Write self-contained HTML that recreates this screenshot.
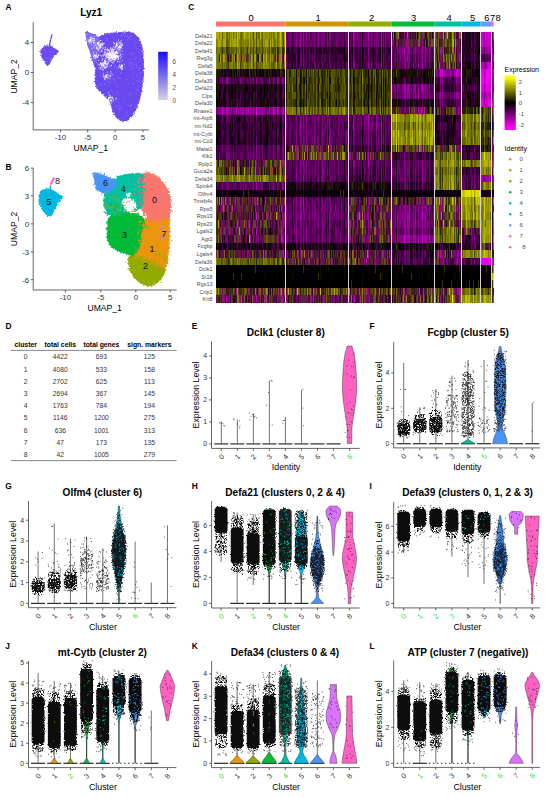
<!DOCTYPE html>
<html><head><meta charset="utf-8"><style>
html,body{margin:0;padding:0;background:#fff;width:550px;height:798px;overflow:hidden}
svg{display:block;font-family:"Liberation Sans", sans-serif}
</style></head><body>
<svg width="550" height="798" viewBox="0 0 550 798">
<text x="5.4" y="9.8" font-size="8.4" font-weight="bold">A</text>
<text x="5.6" y="169.6" font-size="8.4" font-weight="bold">B</text>
<text x="188.2" y="9.8" font-size="8.4" font-weight="bold">C</text>
<text x="5.6" y="329.3" font-size="8.4" font-weight="bold">D</text>
<text x="191.8" y="329.3" font-size="8.4" font-weight="bold">E</text>
<text x="369.6" y="329.3" font-size="8.4" font-weight="bold">F</text>
<text x="5.2" y="489.3" font-size="8.4" font-weight="bold">G</text>
<text x="191.8" y="489.3" font-size="8.4" font-weight="bold">H</text>
<text x="369.6" y="489.3" font-size="8.4" font-weight="bold">I</text>
<text x="5.2" y="649.3" font-size="8.4" font-weight="bold">J</text>
<text x="191.8" y="649.3" font-size="8.4" font-weight="bold">K</text>
<text x="369.6" y="649.3" font-size="8.4" font-weight="bold">L</text>
<defs><filter id="hb" x="-1%" y="-1%" width="102%" height="102%"><feGaussianBlur stdDeviation="0.35"/></filter></defs>
<g shape-rendering="crispEdges" filter="url(#hb)">
<path fill="#000000" d="M463 31.6h1v7.6h-1zM479 31.6h1v7.6h-1zM479 46.67h1v7.6h-1zM275 69.27h1v7.6h-1zM475 69.27h1v7.6h-1zM223 91.86h1v7.6h-1zM477 99.4h1v7.6h-1zM435 122h1v7.6h-1zM310 182.26h1v7.6h-1zM377 182.26h1v7.6h-1zM412 189.79h1v7.6h-1zM417 189.79h1v7.6h-1zM419 189.79h1v7.6h-1zM438 189.79h1v7.6h-1zM491 189.79h3v7.6h-3zM263 197.33h1v7.6h-1zM251 242.52h1v7.6h-1zM265 242.52h1v7.6h-1zM288 242.52h1v7.6h-1zM344 242.52h1v7.6h-1zM437 242.52h1v7.6h-1zM443 242.52h1v7.6h-1zM451 242.52h1v7.6h-1zM216 265.12h10v7.6h-10zM227 265.12h26v7.6h-26zM254 265.12h1v7.6h-1zM256 265.12h3v7.6h-3zM260 265.12h2v7.6h-2zM263 265.12h14v7.6h-14zM278 265.12h5v7.6h-5zM284 265.12h1v7.6h-1zM286 265.12h17v7.6h-17zM304 265.12h3v7.6h-3zM308 265.12h12v7.6h-12zM321 265.12h5v7.6h-5zM327 265.12h1v7.6h-1zM330 265.12h14v7.6h-14zM345 265.12h3v7.6h-3zM349 265.12h3v7.6h-3zM354 265.12h14v7.6h-14zM369 265.12h6v7.6h-6zM376 265.12h9v7.6h-9zM386 265.12h5v7.6h-5zM392 265.12h6v7.6h-6zM399 265.12h3v7.6h-3zM403 265.12h19v7.6h-19zM423 265.12h11v7.6h-11zM435 265.12h5v7.6h-5zM441 265.12h3v7.6h-3zM445 265.12h11v7.6h-11zM457 265.12h2v7.6h-2zM460 265.12h1v7.6h-1zM462 265.12h18v7.6h-18zM481 265.12h1v7.6h-1zM483 265.12h3v7.6h-3zM487 265.12h4v7.6h-4zM216 272.66h17v7.6h-17zM234 272.66h7v7.6h-7zM242 272.66h11v7.6h-11zM254 272.66h11v7.6h-11zM266 272.66h11v7.6h-11zM278 272.66h4v7.6h-4zM283 272.66h2v7.6h-2zM286 272.66h6v7.6h-6zM293 272.66h7v7.6h-7zM301 272.66h5v7.6h-5zM307 272.66h11v7.6h-11zM319 272.66h1v7.6h-1zM321 272.66h9v7.6h-9zM331 272.66h1v7.6h-1zM333 272.66h11v7.6h-11zM345 272.66h3v7.6h-3zM349 272.66h4v7.6h-4zM354 272.66h8v7.6h-8zM363 272.66h5v7.6h-5zM369 272.66h11v7.6h-11zM383 272.66h8v7.6h-8zM392 272.66h4v7.6h-4zM397 272.66h14v7.6h-14zM412 272.66h7v7.6h-7zM420 272.66h2v7.6h-2zM423 272.66h5v7.6h-5zM429 272.66h3v7.6h-3zM433 272.66h1v7.6h-1zM435 272.66h3v7.6h-3zM439 272.66h1v7.6h-1zM441 272.66h2v7.6h-2zM444 272.66h9v7.6h-9zM454 272.66h1v7.6h-1zM456 272.66h3v7.6h-3zM460 272.66h1v7.6h-1zM462 272.66h9v7.6h-9zM472 272.66h2v7.6h-2zM475 272.66h5v7.6h-5zM481 272.66h1v7.6h-1zM483 272.66h4v7.6h-4zM488 272.66h3v7.6h-3zM216 280.19h6v7.6h-6zM223 280.19h14v7.6h-14zM238 280.19h31v7.6h-31zM270 280.19h13v7.6h-13zM284 280.19h1v7.6h-1zM286 280.19h14v7.6h-14zM301 280.19h28v7.6h-28zM330 280.19h18v7.6h-18zM349 280.19h2v7.6h-2zM352 280.19h1v7.6h-1zM354 280.19h2v7.6h-2zM357 280.19h5v7.6h-5zM363 280.19h5v7.6h-5zM369 280.19h18v7.6h-18zM388 280.19h3v7.6h-3zM392 280.19h42v7.6h-42zM435 280.19h7v7.6h-7zM443 280.19h8v7.6h-8zM452 280.19h4v7.6h-4zM458 280.19h3v7.6h-3zM462 280.19h4v7.6h-4zM467 280.19h2v7.6h-2zM470 280.19h3v7.6h-3zM474 280.19h4v7.6h-4zM479 280.19h1v7.6h-1zM481 280.19h7v7.6h-7zM489 280.19h2v7.6h-2z"/>
<path fill="#110000" d="M394 31.6h1v7.6h-1zM332 46.67h1v7.6h-1zM473 54.2h1v7.6h-1zM320 61.73h1v7.6h-1zM476 61.73h1v7.6h-1zM279 69.27h1v7.6h-1zM401 69.27h1v7.6h-1zM427 69.27h1v7.6h-1zM361 76.8h1v7.6h-1zM411 76.8h1v7.6h-1zM246 84.33h1v7.6h-1zM252 84.33h1v7.6h-1zM267 84.33h1v7.6h-1zM264 91.86h1v7.6h-1zM385 91.86h1v7.6h-1zM216 99.4h1v7.6h-1zM470 99.4h1v7.6h-1zM473 99.4h1v7.6h-1zM453 114.46h1v7.6h-1zM232 122h1v7.6h-1zM276 129.53h1v7.6h-1zM438 129.53h1v7.6h-1zM453 129.53h1v7.6h-1zM264 137.06h1v7.6h-1zM396 167.19h1v7.6h-1zM292 182.26h1v7.6h-1zM307 182.26h1v7.6h-1zM316 182.26h1v7.6h-1zM365 182.26h1v7.6h-1zM388 182.26h1v7.6h-1zM235 242.52h1v7.6h-1zM387 242.52h1v7.6h-1zM403 242.52h1v7.6h-1zM416 242.52h1v7.6h-1zM482 265.12h1v7.6h-1zM253 272.66h1v7.6h-1zM330 272.66h1v7.6h-1zM482 272.66h1v7.6h-1zM487 272.66h1v7.6h-1zM356 280.19h1v7.6h-1zM387 280.19h1v7.6h-1zM268 287.72h1v7.6h-1z"/>
<path fill="#110011" d="M417 31.6h1v7.6h-1zM469 31.6h1v7.6h-1zM473 31.6h1v7.6h-1zM466 39.13h1v7.6h-1zM477 39.13h1v7.6h-1zM479 39.13h1v7.6h-1zM288 46.67h1v7.6h-1zM292 46.67h1v7.6h-1zM297 46.67h1v7.6h-1zM313 46.67h1v7.6h-1zM319 46.67h1v7.6h-1zM339 46.67h1v7.6h-1zM344 46.67h1v7.6h-1zM352 46.67h1v7.6h-1zM462 46.67h1v7.6h-1zM475 46.67h1v7.6h-1zM478 46.67h1v7.6h-1zM298 54.2h1v7.6h-1zM375 54.2h1v7.6h-1zM380 54.2h1v7.6h-1zM466 54.2h1v7.6h-1zM477 54.2h1v7.6h-1zM292 61.73h1v7.6h-1zM307 61.73h1v7.6h-1zM465 61.73h1v7.6h-1zM468 61.73h3v7.6h-3zM479 61.73h1v7.6h-1zM231 69.27h1v7.6h-1zM236 69.27h1v7.6h-1zM247 69.27h2v7.6h-2zM256 69.27h1v7.6h-1zM260 69.27h1v7.6h-1zM262 69.27h2v7.6h-2zM272 69.27h1v7.6h-1zM274 69.27h1v7.6h-1zM368 69.27h1v7.6h-1zM424 69.27h2v7.6h-2zM429 69.27h1v7.6h-1zM462 69.27h1v7.6h-1zM464 69.27h2v7.6h-2zM472 69.27h2v7.6h-2zM477 69.27h2v7.6h-2zM300 76.8h1v7.6h-1zM353 76.8h1v7.6h-1zM394 76.8h2v7.6h-2zM401 76.8h1v7.6h-1zM406 76.8h1v7.6h-1zM424 76.8h1v7.6h-1zM427 76.8h1v7.6h-1zM430 76.8h1v7.6h-1zM432 76.8h1v7.6h-1zM468 76.8h1v7.6h-1zM470 76.8h1v7.6h-1zM220 84.33h1v7.6h-1zM224 84.33h2v7.6h-2zM230 84.33h1v7.6h-1zM232 84.33h1v7.6h-1zM234 84.33h2v7.6h-2zM247 84.33h1v7.6h-1zM261 84.33h1v7.6h-1zM264 84.33h1v7.6h-1zM275 84.33h2v7.6h-2zM281 84.33h1v7.6h-1zM353 84.33h1v7.6h-1zM219 91.86h1v7.6h-1zM224 91.86h1v7.6h-1zM231 91.86h2v7.6h-2zM239 91.86h1v7.6h-1zM244 91.86h1v7.6h-1zM251 91.86h2v7.6h-2zM258 91.86h1v7.6h-1zM260 91.86h2v7.6h-2zM266 91.86h1v7.6h-1zM368 91.86h1v7.6h-1zM376 91.86h1v7.6h-1zM381 91.86h1v7.6h-1zM463 91.86h1v7.6h-1zM467 91.86h3v7.6h-3zM217 99.4h1v7.6h-1zM219 99.4h1v7.6h-1zM221 99.4h1v7.6h-1zM245 99.4h1v7.6h-1zM252 99.4h1v7.6h-1zM260 99.4h1v7.6h-1zM267 99.4h2v7.6h-2zM276 99.4h1v7.6h-1zM281 99.4h1v7.6h-1zM303 99.4h1v7.6h-1zM392 99.4h1v7.6h-1zM398 99.4h1v7.6h-1zM403 99.4h1v7.6h-1zM410 99.4h1v7.6h-1zM417 99.4h1v7.6h-1zM421 99.4h1v7.6h-1zM423 99.4h1v7.6h-1zM475 99.4h1v7.6h-1zM218 114.46h1v7.6h-1zM237 114.46h3v7.6h-3zM244 114.46h1v7.6h-1zM249 114.46h1v7.6h-1zM255 114.46h1v7.6h-1zM263 114.46h1v7.6h-1zM280 114.46h1v7.6h-1zM437 114.46h1v7.6h-1zM444 114.46h3v7.6h-3zM454 114.46h2v7.6h-2zM219 122h1v7.6h-1zM225 122h1v7.6h-1zM249 122h1v7.6h-1zM260 122h1v7.6h-1zM265 122h1v7.6h-1zM280 122h2v7.6h-2zM284 122h1v7.6h-1zM447 122h2v7.6h-2zM451 122h1v7.6h-1zM459 122h1v7.6h-1zM218 129.53h2v7.6h-2zM230 129.53h1v7.6h-1zM238 129.53h1v7.6h-1zM252 129.53h1v7.6h-1zM255 129.53h1v7.6h-1zM266 129.53h2v7.6h-2zM281 129.53h1v7.6h-1zM362 129.53h1v7.6h-1zM435 129.53h1v7.6h-1zM447 129.53h1v7.6h-1zM452 129.53h1v7.6h-1zM459 129.53h1v7.6h-1zM216 137.06h2v7.6h-2zM231 137.06h2v7.6h-2zM238 137.06h1v7.6h-1zM260 137.06h1v7.6h-1zM266 137.06h2v7.6h-2zM276 137.06h1v7.6h-1zM362 137.06h1v7.6h-1zM437 137.06h2v7.6h-2zM444 137.06h1v7.6h-1zM447 137.06h2v7.6h-2zM352 144.59h1v7.6h-1zM382 144.59h1v7.6h-1zM466 144.59h1v7.6h-1zM469 144.59h1v7.6h-1zM473 144.59h1v7.6h-1zM410 152.13h1v7.6h-1zM432 152.13h1v7.6h-1zM344 159.66h1v7.6h-1zM240 167.19h1v7.6h-1zM307 167.19h1v7.6h-1zM362 167.19h1v7.6h-1zM387 167.19h1v7.6h-1zM466 167.19h1v7.6h-1zM360 174.73h1v7.6h-1zM362 174.73h1v7.6h-1zM380 174.73h1v7.6h-1zM288 182.26h1v7.6h-1zM294 182.26h2v7.6h-2zM317 182.26h1v7.6h-1zM324 182.26h2v7.6h-2zM333 182.26h2v7.6h-2zM340 182.26h4v7.6h-4zM345 182.26h1v7.6h-1zM350 182.26h1v7.6h-1zM354 182.26h1v7.6h-1zM371 182.26h1v7.6h-1zM374 182.26h1v7.6h-1zM378 182.26h1v7.6h-1zM390 182.26h1v7.6h-1zM396 182.26h1v7.6h-1zM412 182.26h1v7.6h-1zM428 182.26h1v7.6h-1zM216 189.79h6v7.6h-6zM223 189.79h3v7.6h-3zM228 189.79h15v7.6h-15zM244 189.79h4v7.6h-4zM249 189.79h4v7.6h-4zM254 189.79h2v7.6h-2zM257 189.79h2v7.6h-2zM260 189.79h2v7.6h-2zM263 189.79h6v7.6h-6zM270 189.79h1v7.6h-1zM272 189.79h1v7.6h-1zM274 189.79h3v7.6h-3zM279 189.79h1v7.6h-1zM281 189.79h1v7.6h-1zM284 189.79h1v7.6h-1zM287 189.79h9v7.6h-9zM297 189.79h3v7.6h-3zM301 189.79h2v7.6h-2zM304 189.79h14v7.6h-14zM319 189.79h2v7.6h-2zM322 189.79h5v7.6h-5zM328 189.79h1v7.6h-1zM330 189.79h10v7.6h-10zM341 189.79h2v7.6h-2zM344 189.79h4v7.6h-4zM349 189.79h4v7.6h-4zM355 189.79h9v7.6h-9zM365 189.79h3v7.6h-3zM369 189.79h2v7.6h-2zM373 189.79h3v7.6h-3zM378 189.79h3v7.6h-3zM382 189.79h1v7.6h-1zM384 189.79h1v7.6h-1zM386 189.79h5v7.6h-5zM392 189.79h13v7.6h-13zM406 189.79h6v7.6h-6zM413 189.79h4v7.6h-4zM418 189.79h1v7.6h-1zM420 189.79h14v7.6h-14zM435 189.79h3v7.6h-3zM439 189.79h18v7.6h-18zM458 189.79h3v7.6h-3zM484 189.79h2v7.6h-2zM487 189.79h1v7.6h-1zM489 189.79h1v7.6h-1zM386 197.33h1v7.6h-1zM276 219.93h1v7.6h-1zM270 227.46h1v7.6h-1zM358 234.99h1v7.6h-1zM466 234.99h1v7.6h-1zM216 242.52h1v7.6h-1zM221 242.52h1v7.6h-1zM223 242.52h3v7.6h-3zM248 242.52h2v7.6h-2zM252 242.52h1v7.6h-1zM257 242.52h1v7.6h-1zM260 242.52h2v7.6h-2zM264 242.52h1v7.6h-1zM268 242.52h1v7.6h-1zM290 242.52h2v7.6h-2zM294 242.52h2v7.6h-2zM297 242.52h2v7.6h-2zM302 242.52h1v7.6h-1zM305 242.52h1v7.6h-1zM323 242.52h1v7.6h-1zM326 242.52h1v7.6h-1zM333 242.52h3v7.6h-3zM339 242.52h1v7.6h-1zM343 242.52h1v7.6h-1zM351 242.52h1v7.6h-1zM357 242.52h1v7.6h-1zM359 242.52h1v7.6h-1zM363 242.52h1v7.6h-1zM372 242.52h2v7.6h-2zM378 242.52h1v7.6h-1zM386 242.52h1v7.6h-1zM394 242.52h1v7.6h-1zM399 242.52h2v7.6h-2zM406 242.52h1v7.6h-1zM424 242.52h1v7.6h-1zM446 242.52h1v7.6h-1zM450 242.52h1v7.6h-1zM453 242.52h1v7.6h-1zM469 242.52h1v7.6h-1zM476 242.52h1v7.6h-1zM291 250.06h1v7.6h-1zM420 250.06h1v7.6h-1zM430 250.06h1v7.6h-1zM432 250.06h1v7.6h-1zM396 257.59h1v7.6h-1zM423 257.59h1v7.6h-1zM226 265.12h1v7.6h-1zM253 265.12h1v7.6h-1zM259 265.12h1v7.6h-1zM262 265.12h1v7.6h-1zM277 265.12h1v7.6h-1zM283 265.12h1v7.6h-1zM329 265.12h1v7.6h-1zM353 265.12h1v7.6h-1zM368 265.12h1v7.6h-1zM385 265.12h1v7.6h-1zM422 265.12h1v7.6h-1zM440 265.12h1v7.6h-1zM456 265.12h1v7.6h-1zM277 272.66h1v7.6h-1zM282 272.66h1v7.6h-1zM300 272.66h1v7.6h-1zM306 272.66h1v7.6h-1zM353 272.66h1v7.6h-1zM368 272.66h1v7.6h-1zM381 272.66h1v7.6h-1zM422 272.66h1v7.6h-1zM440 272.66h1v7.6h-1zM471 272.66h1v7.6h-1zM474 272.66h1v7.6h-1zM222 280.19h1v7.6h-1zM269 280.19h1v7.6h-1zM283 280.19h1v7.6h-1zM300 280.19h1v7.6h-1zM329 280.19h1v7.6h-1zM353 280.19h1v7.6h-1zM368 280.19h1v7.6h-1zM456 280.19h2v7.6h-2zM488 280.19h1v7.6h-1z"/>
<path fill="#111100" d="M466 31.6h1v7.6h-1zM477 31.6h1v7.6h-1zM469 39.13h1v7.6h-1zM473 46.67h1v7.6h-1zM344 54.2h1v7.6h-1zM362 54.2h1v7.6h-1zM466 61.73h1v7.6h-1zM219 69.27h1v7.6h-1zM221 69.27h1v7.6h-1zM224 69.27h1v7.6h-1zM230 69.27h1v7.6h-1zM234 69.27h1v7.6h-1zM243 69.27h1v7.6h-1zM245 69.27h1v7.6h-1zM251 69.27h1v7.6h-1zM259 69.27h1v7.6h-1zM266 69.27h2v7.6h-2zM284 69.27h1v7.6h-1zM296 69.27h1v7.6h-1zM300 69.27h1v7.6h-1zM306 69.27h1v7.6h-1zM318 69.27h1v7.6h-1zM327 69.27h1v7.6h-1zM376 69.27h1v7.6h-1zM394 69.27h1v7.6h-1zM400 69.27h1v7.6h-1zM403 69.27h1v7.6h-1zM411 69.27h2v7.6h-2zM414 69.27h1v7.6h-1zM423 69.27h1v7.6h-1zM426 69.27h1v7.6h-1zM431 69.27h1v7.6h-1zM433 69.27h1v7.6h-1zM476 69.27h1v7.6h-1zM479 69.27h1v7.6h-1zM296 76.8h1v7.6h-1zM303 76.8h2v7.6h-2zM306 76.8h1v7.6h-1zM322 76.8h1v7.6h-1zM329 76.8h2v7.6h-2zM350 76.8h1v7.6h-1zM354 76.8h1v7.6h-1zM385 76.8h1v7.6h-1zM396 76.8h1v7.6h-1zM412 76.8h1v7.6h-1zM417 76.8h1v7.6h-1zM419 76.8h1v7.6h-1zM423 76.8h1v7.6h-1zM428 76.8h1v7.6h-1zM479 76.8h1v7.6h-1zM216 84.33h1v7.6h-1zM238 84.33h1v7.6h-1zM255 84.33h1v7.6h-1zM260 84.33h1v7.6h-1zM263 84.33h1v7.6h-1zM280 84.33h1v7.6h-1zM286 84.33h1v7.6h-1zM296 84.33h1v7.6h-1zM300 84.33h1v7.6h-1zM318 84.33h1v7.6h-1zM329 84.33h1v7.6h-1zM371 84.33h1v7.6h-1zM377 84.33h1v7.6h-1zM383 84.33h1v7.6h-1zM385 84.33h1v7.6h-1zM249 91.86h1v7.6h-1zM270 91.86h1v7.6h-1zM281 91.86h1v7.6h-1zM300 91.86h1v7.6h-1zM329 91.86h1v7.6h-1zM354 91.86h1v7.6h-1zM371 91.86h1v7.6h-1zM223 99.4h3v7.6h-3zM244 99.4h1v7.6h-1zM249 99.4h1v7.6h-1zM280 99.4h1v7.6h-1zM296 99.4h1v7.6h-1zM300 99.4h1v7.6h-1zM321 99.4h2v7.6h-2zM336 99.4h1v7.6h-1zM364 99.4h1v7.6h-1zM383 99.4h1v7.6h-1zM385 99.4h1v7.6h-1zM396 99.4h1v7.6h-1zM428 99.4h1v7.6h-1zM431 99.4h2v7.6h-2zM469 99.4h1v7.6h-1zM476 99.4h1v7.6h-1zM368 106.93h1v7.6h-1zM428 106.93h1v7.6h-1zM478 106.93h1v7.6h-1zM447 114.46h1v7.6h-1zM451 114.46h1v7.6h-1zM216 122h1v7.6h-1zM237 122h1v7.6h-1zM263 122h1v7.6h-1zM266 122h1v7.6h-1zM490 122h1v7.6h-1zM237 129.53h1v7.6h-1zM449 129.53h1v7.6h-1zM237 137.06h1v7.6h-1zM455 137.06h1v7.6h-1zM362 144.59h1v7.6h-1zM403 144.59h1v7.6h-1zM483 144.59h1v7.6h-1zM487 144.59h1v7.6h-1zM490 144.59h1v7.6h-1zM396 152.13h1v7.6h-1zM235 159.66h1v7.6h-1zM290 182.26h1v7.6h-1zM293 182.26h1v7.6h-1zM298 182.26h1v7.6h-1zM305 182.26h1v7.6h-1zM320 182.26h1v7.6h-1zM326 182.26h1v7.6h-1zM336 182.26h1v7.6h-1zM344 182.26h1v7.6h-1zM356 182.26h2v7.6h-2zM367 182.26h1v7.6h-1zM370 182.26h1v7.6h-1zM379 182.26h2v7.6h-2zM382 182.26h1v7.6h-1zM387 182.26h1v7.6h-1zM389 182.26h1v7.6h-1zM362 197.33h1v7.6h-1zM372 219.93h1v7.6h-1zM244 227.46h1v7.6h-1zM243 234.99h1v7.6h-1zM218 242.52h1v7.6h-1zM244 242.52h1v7.6h-1zM255 242.52h1v7.6h-1zM270 242.52h1v7.6h-1zM287 242.52h1v7.6h-1zM292 242.52h1v7.6h-1zM316 242.52h1v7.6h-1zM320 242.52h1v7.6h-1zM328 242.52h1v7.6h-1zM332 242.52h1v7.6h-1zM370 242.52h1v7.6h-1zM382 242.52h1v7.6h-1zM389 242.52h1v7.6h-1zM393 242.52h1v7.6h-1zM398 242.52h1v7.6h-1zM402 242.52h1v7.6h-1zM410 242.52h1v7.6h-1zM417 242.52h1v7.6h-1zM420 242.52h1v7.6h-1zM423 242.52h1v7.6h-1zM430 242.52h1v7.6h-1zM432 242.52h1v7.6h-1zM435 242.52h1v7.6h-1zM452 242.52h1v7.6h-1zM455 242.52h1v7.6h-1zM466 242.52h1v7.6h-1zM357 257.59h1v7.6h-1zM307 265.12h1v7.6h-1zM320 265.12h1v7.6h-1zM326 265.12h1v7.6h-1zM328 265.12h1v7.6h-1zM344 265.12h1v7.6h-1zM352 265.12h1v7.6h-1zM398 265.12h1v7.6h-1zM265 272.66h1v7.6h-1zM292 272.66h1v7.6h-1zM320 272.66h1v7.6h-1zM332 272.66h1v7.6h-1zM344 272.66h1v7.6h-1zM362 272.66h1v7.6h-1zM382 272.66h1v7.6h-1zM396 272.66h1v7.6h-1zM419 272.66h1v7.6h-1zM428 272.66h1v7.6h-1zM432 272.66h1v7.6h-1zM438 272.66h1v7.6h-1zM443 272.66h1v7.6h-1zM453 272.66h1v7.6h-1zM455 272.66h1v7.6h-1zM459 272.66h1v7.6h-1zM237 280.19h1v7.6h-1zM362 280.19h1v7.6h-1zM466 280.19h1v7.6h-1zM257 287.72h1v7.6h-1zM474 287.72h1v7.6h-1z"/>
<path fill="#111111" d="M331 46.67h1v7.6h-1zM362 46.67h1v7.6h-1zM225 69.27h1v7.6h-1zM261 69.27h1v7.6h-1zM463 69.27h1v7.6h-1zM383 76.8h1v7.6h-1zM420 76.8h1v7.6h-1zM426 76.8h1v7.6h-1zM463 76.8h1v7.6h-1zM477 76.8h1v7.6h-1zM231 84.33h1v7.6h-1zM265 84.33h2v7.6h-2zM368 84.33h1v7.6h-1zM216 91.86h1v7.6h-1zM218 91.86h1v7.6h-1zM261 99.4h1v7.6h-1zM263 99.4h1v7.6h-1zM279 99.4h1v7.6h-1zM368 99.4h1v7.6h-1zM381 106.93h1v7.6h-1zM445 106.93h1v7.6h-1zM475 106.93h1v7.6h-1zM435 114.46h2v7.6h-2zM438 114.46h1v7.6h-1zM276 122h1v7.6h-1zM249 129.53h1v7.6h-1zM459 137.06h1v7.6h-1zM344 144.59h1v7.6h-1zM291 182.26h1v7.6h-1zM361 197.33h1v7.6h-1zM230 242.52h1v7.6h-1zM280 242.52h1v7.6h-1zM307 242.52h1v7.6h-1zM310 242.52h1v7.6h-1zM319 242.52h1v7.6h-1zM384 242.52h1v7.6h-1zM401 242.52h1v7.6h-1zM414 242.52h1v7.6h-1zM436 242.52h1v7.6h-1zM441 242.52h1v7.6h-1zM444 242.52h1v7.6h-1z"/>
<path fill="#220011" d="M320 46.67h1v7.6h-1zM380 46.67h1v7.6h-1zM467 46.67h1v7.6h-1zM469 54.2h1v7.6h-1zM473 61.73h1v7.6h-1zM477 61.73h1v7.6h-1zM246 69.27h1v7.6h-1zM402 69.27h1v7.6h-1zM404 69.27h1v7.6h-1zM470 69.27h1v7.6h-1zM244 84.33h1v7.6h-1zM249 84.33h1v7.6h-1zM466 84.33h1v7.6h-1zM234 91.86h1v7.6h-1zM279 91.86h1v7.6h-1zM470 91.86h1v7.6h-1zM353 99.4h1v7.6h-1zM394 99.4h1v7.6h-1zM411 99.4h1v7.6h-1zM266 114.46h1v7.6h-1zM230 122h1v7.6h-1zM268 122h1v7.6h-1zM216 129.53h1v7.6h-1zM260 129.53h1v7.6h-1zM223 137.06h1v7.6h-1zM244 137.06h1v7.6h-1zM443 137.06h1v7.6h-1zM450 137.06h1v7.6h-1zM412 152.13h1v7.6h-1zM352 174.73h1v7.6h-1zM375 174.73h1v7.6h-1zM335 182.26h1v7.6h-1zM366 182.26h1v7.6h-1zM386 182.26h1v7.6h-1zM417 182.26h1v7.6h-1zM431 182.26h1v7.6h-1zM415 197.33h1v7.6h-1zM254 204.86h1v7.6h-1zM263 204.86h1v7.6h-1zM247 234.99h1v7.6h-1zM245 242.52h1v7.6h-1zM259 242.52h1v7.6h-1zM293 242.52h1v7.6h-1zM312 242.52h1v7.6h-1zM411 242.52h1v7.6h-1zM433 242.52h1v7.6h-1zM410 250.06h1v7.6h-1zM417 250.06h1v7.6h-1zM304 257.59h1v7.6h-1zM315 257.59h1v7.6h-1zM319 257.59h1v7.6h-1zM400 287.72h1v7.6h-1z"/>
<path fill="#220022" d="M362 31.6h1v7.6h-1zM432 31.6h1v7.6h-1zM465 31.6h1v7.6h-1zM467 31.6h2v7.6h-2zM470 31.6h1v7.6h-1zM472 31.6h1v7.6h-1zM478 31.6h1v7.6h-1zM332 39.13h1v7.6h-1zM395 39.13h1v7.6h-1zM424 39.13h1v7.6h-1zM426 39.13h1v7.6h-1zM462 39.13h2v7.6h-2zM468 39.13h1v7.6h-1zM470 39.13h1v7.6h-1zM473 39.13h1v7.6h-1zM476 39.13h1v7.6h-1zM478 39.13h1v7.6h-1zM287 46.67h1v7.6h-1zM291 46.67h1v7.6h-1zM298 46.67h2v7.6h-2zM302 46.67h1v7.6h-1zM307 46.67h1v7.6h-1zM311 46.67h1v7.6h-1zM316 46.67h1v7.6h-1zM324 46.67h1v7.6h-1zM326 46.67h1v7.6h-1zM335 46.67h1v7.6h-1zM338 46.67h1v7.6h-1zM340 46.67h4v7.6h-4zM349 46.67h1v7.6h-1zM351 46.67h1v7.6h-1zM355 46.67h1v7.6h-1zM359 46.67h1v7.6h-1zM363 46.67h1v7.6h-1zM370 46.67h1v7.6h-1zM373 46.67h3v7.6h-3zM379 46.67h1v7.6h-1zM382 46.67h1v7.6h-1zM388 46.67h1v7.6h-1zM390 46.67h1v7.6h-1zM464 46.67h1v7.6h-1zM468 46.67h1v7.6h-1zM470 46.67h1v7.6h-1zM477 46.67h1v7.6h-1zM290 54.2h2v7.6h-2zM293 54.2h3v7.6h-3zM297 54.2h1v7.6h-1zM299 54.2h1v7.6h-1zM307 54.2h1v7.6h-1zM313 54.2h1v7.6h-1zM316 54.2h1v7.6h-1zM319 54.2h2v7.6h-2zM331 54.2h1v7.6h-1zM333 54.2h1v7.6h-1zM335 54.2h1v7.6h-1zM345 54.2h1v7.6h-1zM349 54.2h1v7.6h-1zM352 54.2h1v7.6h-1zM359 54.2h1v7.6h-1zM367 54.2h1v7.6h-1zM370 54.2h1v7.6h-1zM382 54.2h1v7.6h-1zM387 54.2h1v7.6h-1zM462 54.2h2v7.6h-2zM468 54.2h1v7.6h-1zM476 54.2h1v7.6h-1zM478 54.2h1v7.6h-1zM484 54.2h1v7.6h-1zM291 61.73h1v7.6h-1zM298 61.73h1v7.6h-1zM302 61.73h1v7.6h-1zM313 61.73h1v7.6h-1zM316 61.73h1v7.6h-1zM332 61.73h1v7.6h-1zM344 61.73h1v7.6h-1zM352 61.73h1v7.6h-1zM387 61.73h1v7.6h-1zM432 61.73h1v7.6h-1zM463 61.73h1v7.6h-1zM467 61.73h1v7.6h-1zM472 61.73h1v7.6h-1zM222 69.27h1v7.6h-1zM228 69.27h1v7.6h-1zM240 69.27h2v7.6h-2zM253 69.27h1v7.6h-1zM269 69.27h1v7.6h-1zM278 69.27h1v7.6h-1zM353 69.27h1v7.6h-1zM392 69.27h1v7.6h-1zM405 69.27h1v7.6h-1zM409 69.27h1v7.6h-1zM413 69.27h1v7.6h-1zM415 69.27h1v7.6h-1zM418 69.27h1v7.6h-1zM421 69.27h1v7.6h-1zM474 69.27h1v7.6h-1zM218 76.8h1v7.6h-1zM237 76.8h1v7.6h-1zM368 76.8h1v7.6h-1zM381 76.8h1v7.6h-1zM400 76.8h1v7.6h-1zM403 76.8h1v7.6h-1zM415 76.8h1v7.6h-1zM433 76.8h1v7.6h-1zM453 76.8h1v7.6h-1zM462 76.8h1v7.6h-1zM464 76.8h1v7.6h-1zM467 76.8h1v7.6h-1zM471 76.8h1v7.6h-1zM475 76.8h1v7.6h-1zM478 76.8h1v7.6h-1zM228 84.33h1v7.6h-1zM236 84.33h1v7.6h-1zM245 84.33h1v7.6h-1zM253 84.33h2v7.6h-2zM257 84.33h1v7.6h-1zM259 84.33h1v7.6h-1zM268 84.33h1v7.6h-1zM271 84.33h1v7.6h-1zM274 84.33h1v7.6h-1zM279 84.33h1v7.6h-1zM284 84.33h1v7.6h-1zM381 84.33h1v7.6h-1zM435 84.33h1v7.6h-1zM437 84.33h1v7.6h-1zM444 84.33h1v7.6h-1zM447 84.33h3v7.6h-3zM451 84.33h2v7.6h-2zM455 84.33h1v7.6h-1zM459 84.33h1v7.6h-1zM464 84.33h1v7.6h-1zM469 84.33h1v7.6h-1zM477 84.33h1v7.6h-1zM479 84.33h1v7.6h-1zM225 91.86h1v7.6h-1zM229 91.86h1v7.6h-1zM235 91.86h1v7.6h-1zM238 91.86h1v7.6h-1zM241 91.86h1v7.6h-1zM243 91.86h1v7.6h-1zM248 91.86h1v7.6h-1zM250 91.86h1v7.6h-1zM257 91.86h1v7.6h-1zM259 91.86h1v7.6h-1zM272 91.86h1v7.6h-1zM275 91.86h1v7.6h-1zM284 91.86h1v7.6h-1zM465 91.86h1v7.6h-1zM472 91.86h1v7.6h-1zM475 91.86h1v7.6h-1zM477 91.86h1v7.6h-1zM229 99.4h2v7.6h-2zM234 99.4h2v7.6h-2zM238 99.4h1v7.6h-1zM242 99.4h1v7.6h-1zM246 99.4h3v7.6h-3zM258 99.4h1v7.6h-1zM262 99.4h1v7.6h-1zM270 99.4h1v7.6h-1zM274 99.4h2v7.6h-2zM284 99.4h1v7.6h-1zM381 99.4h1v7.6h-1zM395 99.4h1v7.6h-1zM399 99.4h2v7.6h-2zM406 99.4h1v7.6h-1zM414 99.4h1v7.6h-1zM416 99.4h1v7.6h-1zM419 99.4h1v7.6h-1zM426 99.4h2v7.6h-2zM433 99.4h1v7.6h-1zM435 99.4h1v7.6h-1zM438 99.4h1v7.6h-1zM443 99.4h1v7.6h-1zM448 99.4h2v7.6h-2zM452 99.4h2v7.6h-2zM459 99.4h1v7.6h-1zM462 99.4h2v7.6h-2zM216 114.46h1v7.6h-1zM224 114.46h2v7.6h-2zM231 114.46h1v7.6h-1zM236 114.46h1v7.6h-1zM258 114.46h1v7.6h-1zM260 114.46h1v7.6h-1zM264 114.46h2v7.6h-2zM270 114.46h1v7.6h-1zM281 114.46h1v7.6h-1zM284 114.46h1v7.6h-1zM352 114.46h1v7.6h-1zM370 114.46h1v7.6h-1zM375 114.46h1v7.6h-1zM439 114.46h1v7.6h-1zM441 114.46h1v7.6h-1zM457 114.46h1v7.6h-1zM217 122h2v7.6h-2zM223 122h1v7.6h-1zM235 122h1v7.6h-1zM238 122h1v7.6h-1zM242 122h1v7.6h-1zM244 122h1v7.6h-1zM251 122h2v7.6h-2zM272 122h1v7.6h-1zM344 122h1v7.6h-1zM362 122h1v7.6h-1zM436 122h1v7.6h-1zM439 122h1v7.6h-1zM441 122h1v7.6h-1zM453 122h3v7.6h-3zM217 129.53h1v7.6h-1zM220 129.53h1v7.6h-1zM224 129.53h1v7.6h-1zM229 129.53h1v7.6h-1zM234 129.53h2v7.6h-2zM239 129.53h1v7.6h-1zM244 129.53h2v7.6h-2zM251 129.53h1v7.6h-1zM271 129.53h1v7.6h-1zM279 129.53h2v7.6h-2zM352 129.53h1v7.6h-1zM436 129.53h2v7.6h-2zM441 129.53h1v7.6h-1zM444 129.53h1v7.6h-1zM448 129.53h1v7.6h-1zM450 129.53h1v7.6h-1zM455 129.53h1v7.6h-1zM218 137.06h3v7.6h-3zM224 137.06h1v7.6h-1zM230 137.06h1v7.6h-1zM234 137.06h1v7.6h-1zM239 137.06h1v7.6h-1zM242 137.06h1v7.6h-1zM245 137.06h1v7.6h-1zM252 137.06h1v7.6h-1zM254 137.06h1v7.6h-1zM258 137.06h1v7.6h-1zM261 137.06h1v7.6h-1zM263 137.06h1v7.6h-1zM270 137.06h1v7.6h-1zM281 137.06h1v7.6h-1zM320 137.06h1v7.6h-1zM435 137.06h2v7.6h-2zM439 137.06h1v7.6h-1zM441 137.06h1v7.6h-1zM446 137.06h1v7.6h-1zM457 137.06h1v7.6h-1zM460 137.06h1v7.6h-1zM255 144.59h1v7.6h-1zM266 144.59h1v7.6h-1zM280 144.59h1v7.6h-1zM349 144.59h1v7.6h-1zM355 144.59h1v7.6h-1zM370 144.59h1v7.6h-1zM374 144.59h2v7.6h-2zM384 144.59h1v7.6h-1zM386 144.59h1v7.6h-1zM388 144.59h1v7.6h-1zM390 144.59h1v7.6h-1zM448 144.59h1v7.6h-1zM463 144.59h1v7.6h-1zM470 144.59h1v7.6h-1zM477 144.59h1v7.6h-1zM479 144.59h1v7.6h-1zM393 152.13h2v7.6h-2zM401 152.13h1v7.6h-1zM417 152.13h1v7.6h-1zM419 152.13h2v7.6h-2zM423 152.13h1v7.6h-1zM426 152.13h1v7.6h-1zM428 152.13h1v7.6h-1zM467 152.13h1v7.6h-1zM469 152.13h1v7.6h-1zM473 152.13h1v7.6h-1zM476 152.13h1v7.6h-1zM479 152.13h1v7.6h-1zM313 159.66h1v7.6h-1zM352 159.66h1v7.6h-1zM362 159.66h1v7.6h-1zM374 159.66h1v7.6h-1zM396 159.66h1v7.6h-1zM275 167.19h1v7.6h-1zM352 167.19h1v7.6h-1zM374 167.19h1v7.6h-1zM380 167.19h1v7.6h-1zM410 167.19h1v7.6h-1zM473 167.19h1v7.6h-1zM476 167.19h1v7.6h-1zM311 174.73h1v7.6h-1zM313 174.73h1v7.6h-1zM320 174.73h1v7.6h-1zM344 174.73h1v7.6h-1zM359 174.73h1v7.6h-1zM370 174.73h1v7.6h-1zM373 174.73h1v7.6h-1zM389 174.73h1v7.6h-1zM417 174.73h1v7.6h-1zM473 174.73h1v7.6h-1zM477 174.73h1v7.6h-1zM216 182.26h1v7.6h-1zM237 182.26h1v7.6h-1zM263 182.26h1v7.6h-1zM266 182.26h1v7.6h-1zM280 182.26h1v7.6h-1zM287 182.26h1v7.6h-1zM289 182.26h1v7.6h-1zM301 182.26h1v7.6h-1zM304 182.26h1v7.6h-1zM306 182.26h1v7.6h-1zM309 182.26h1v7.6h-1zM311 182.26h1v7.6h-1zM314 182.26h1v7.6h-1zM338 182.26h2v7.6h-2zM369 182.26h1v7.6h-1zM376 182.26h1v7.6h-1zM385 182.26h1v7.6h-1zM393 182.26h1v7.6h-1zM398 182.26h1v7.6h-1zM416 182.26h1v7.6h-1zM419 182.26h2v7.6h-2zM423 182.26h1v7.6h-1zM466 182.26h1v7.6h-1zM469 182.26h1v7.6h-1zM222 189.79h1v7.6h-1zM226 189.79h2v7.6h-2zM253 189.79h1v7.6h-1zM256 189.79h1v7.6h-1zM259 189.79h1v7.6h-1zM262 189.79h1v7.6h-1zM269 189.79h1v7.6h-1zM271 189.79h1v7.6h-1zM273 189.79h1v7.6h-1zM277 189.79h2v7.6h-2zM282 189.79h2v7.6h-2zM286 189.79h1v7.6h-1zM296 189.79h1v7.6h-1zM300 189.79h1v7.6h-1zM303 189.79h1v7.6h-1zM318 189.79h1v7.6h-1zM321 189.79h1v7.6h-1zM327 189.79h1v7.6h-1zM329 189.79h1v7.6h-1zM353 189.79h2v7.6h-2zM364 189.79h1v7.6h-1zM368 189.79h1v7.6h-1zM371 189.79h2v7.6h-2zM376 189.79h2v7.6h-2zM381 189.79h1v7.6h-1zM385 189.79h1v7.6h-1zM405 189.79h1v7.6h-1zM457 189.79h1v7.6h-1zM481 189.79h3v7.6h-3zM486 189.79h1v7.6h-1zM488 189.79h1v7.6h-1zM490 189.79h1v7.6h-1zM259 197.33h1v7.6h-1zM262 197.33h1v7.6h-1zM320 197.33h1v7.6h-1zM344 197.33h1v7.6h-1zM367 197.33h1v7.6h-1zM407 197.33h1v7.6h-1zM233 204.86h1v7.6h-1zM344 204.86h1v7.6h-1zM252 212.39h1v7.6h-1zM372 212.39h1v7.6h-1zM442 212.39h1v7.6h-1zM492 212.39h1v7.6h-1zM251 219.93h1v7.6h-1zM297 219.93h1v7.6h-1zM307 219.93h1v7.6h-1zM326 219.93h1v7.6h-1zM344 219.93h1v7.6h-1zM332 227.46h1v7.6h-1zM396 227.46h1v7.6h-1zM468 234.99h2v7.6h-2zM473 234.99h1v7.6h-1zM219 242.52h2v7.6h-2zM228 242.52h1v7.6h-1zM233 242.52h2v7.6h-2zM241 242.52h2v7.6h-2zM258 242.52h1v7.6h-1zM269 242.52h1v7.6h-1zM279 242.52h1v7.6h-1zM281 242.52h1v7.6h-1zM289 242.52h1v7.6h-1zM304 242.52h1v7.6h-1zM308 242.52h2v7.6h-2zM314 242.52h1v7.6h-1zM324 242.52h1v7.6h-1zM330 242.52h2v7.6h-2zM336 242.52h2v7.6h-2zM340 242.52h1v7.6h-1zM342 242.52h1v7.6h-1zM346 242.52h2v7.6h-2zM350 242.52h1v7.6h-1zM360 242.52h1v7.6h-1zM364 242.52h1v7.6h-1zM367 242.52h1v7.6h-1zM369 242.52h1v7.6h-1zM371 242.52h1v7.6h-1zM388 242.52h1v7.6h-1zM390 242.52h1v7.6h-1zM392 242.52h1v7.6h-1zM395 242.52h1v7.6h-1zM421 242.52h1v7.6h-1zM425 242.52h1v7.6h-1zM429 242.52h1v7.6h-1zM439 242.52h1v7.6h-1zM454 242.52h1v7.6h-1zM477 242.52h1v7.6h-1zM479 242.52h1v7.6h-1zM225 250.06h1v7.6h-1zM319 250.06h1v7.6h-1zM357 250.06h1v7.6h-1zM393 250.06h2v7.6h-2zM401 250.06h1v7.6h-1zM412 250.06h1v7.6h-1zM423 250.06h1v7.6h-1zM428 250.06h1v7.6h-1zM431 250.06h1v7.6h-1zM448 250.06h1v7.6h-1zM393 257.59h1v7.6h-1zM398 257.59h1v7.6h-1zM401 257.59h1v7.6h-1zM410 257.59h1v7.6h-1zM428 257.59h1v7.6h-1zM430 257.59h3v7.6h-3zM466 257.59h1v7.6h-1zM468 257.59h1v7.6h-1zM234 295.26h1v7.6h-1zM389 295.26h1v7.6h-1zM415 295.26h1v7.6h-1z"/>
<path fill="#221100" d="M410 31.6h1v7.6h-1zM396 61.73h1v7.6h-1zM229 69.27h1v7.6h-1zM233 69.27h1v7.6h-1zM238 69.27h1v7.6h-1zM244 69.27h1v7.6h-1zM254 69.27h1v7.6h-1zM407 69.27h1v7.6h-1zM420 69.27h1v7.6h-1zM398 76.8h1v7.6h-1zM263 91.86h1v7.6h-1zM280 91.86h1v7.6h-1zM327 91.86h1v7.6h-1zM232 99.4h1v7.6h-1zM255 99.4h1v7.6h-1zM264 99.4h1v7.6h-1zM266 99.4h1v7.6h-1zM354 99.4h1v7.6h-1zM376 99.4h1v7.6h-1zM468 99.4h1v7.6h-1zM478 99.4h1v7.6h-1zM449 114.46h1v7.6h-1zM488 137.06h1v7.6h-1zM481 144.59h1v7.6h-1zM359 182.26h1v7.6h-1zM219 204.86h1v7.6h-1zM375 204.86h1v7.6h-1zM281 212.39h1v7.6h-1zM239 242.52h1v7.6h-1zM266 242.52h1v7.6h-1zM373 257.59h1v7.6h-1zM246 295.26h1v7.6h-1z"/>
<path fill="#221111" d="M405 31.6h1v7.6h-1zM457 31.6h1v7.6h-1zM439 39.13h1v7.6h-1zM337 46.67h1v7.6h-1zM444 46.67h1v7.6h-1zM463 46.67h1v7.6h-1zM466 46.67h1v7.6h-1zM469 46.67h1v7.6h-1zM258 54.2h1v7.6h-1zM362 61.73h1v7.6h-1zM456 61.73h1v7.6h-1zM217 69.27h1v7.6h-1zM250 69.27h1v7.6h-1zM257 69.27h2v7.6h-2zM276 69.27h1v7.6h-1zM381 69.27h1v7.6h-1zM395 69.27h1v7.6h-1zM399 69.27h1v7.6h-1zM406 69.27h1v7.6h-1zM408 69.27h1v7.6h-1zM416 69.27h1v7.6h-1zM410 76.8h1v7.6h-1zM465 76.8h1v7.6h-1zM469 76.8h1v7.6h-1zM473 76.8h1v7.6h-1zM217 84.33h3v7.6h-3zM221 84.33h1v7.6h-1zM239 84.33h1v7.6h-1zM242 84.33h1v7.6h-1zM270 84.33h1v7.6h-1zM272 84.33h1v7.6h-1zM438 84.33h1v7.6h-1zM473 84.33h1v7.6h-1zM220 91.86h1v7.6h-1zM230 91.86h1v7.6h-1zM237 91.86h1v7.6h-1zM245 91.86h1v7.6h-1zM255 91.86h1v7.6h-1zM265 91.86h1v7.6h-1zM267 91.86h1v7.6h-1zM303 91.86h1v7.6h-1zM306 91.86h1v7.6h-1zM353 91.86h1v7.6h-1zM383 91.86h1v7.6h-1zM473 91.86h1v7.6h-1zM479 91.86h1v7.6h-1zM218 99.4h1v7.6h-1zM220 99.4h1v7.6h-1zM251 99.4h1v7.6h-1zM254 99.4h1v7.6h-1zM257 99.4h1v7.6h-1zM265 99.4h1v7.6h-1zM329 99.4h1v7.6h-1zM371 99.4h1v7.6h-1zM393 99.4h1v7.6h-1zM412 99.4h1v7.6h-1zM420 99.4h1v7.6h-1zM479 99.4h1v7.6h-1zM353 106.93h1v7.6h-1zM432 106.93h1v7.6h-1zM436 106.93h1v7.6h-1zM443 114.46h1v7.6h-1zM239 122h1v7.6h-1zM449 122h1v7.6h-1zM452 122h1v7.6h-1zM265 129.53h1v7.6h-1zM451 129.53h1v7.6h-1zM249 137.06h1v7.6h-1zM255 137.06h1v7.6h-1zM265 137.06h1v7.6h-1zM280 137.06h1v7.6h-1zM451 137.06h3v7.6h-3zM286 144.59h1v7.6h-1zM299 152.13h1v7.6h-1zM246 159.66h1v7.6h-1zM254 159.66h1v7.6h-1zM235 167.19h1v7.6h-1zM261 167.19h1v7.6h-1zM264 167.19h1v7.6h-1zM302 182.26h1v7.6h-1zM308 182.26h1v7.6h-1zM313 182.26h1v7.6h-1zM319 182.26h1v7.6h-1zM331 182.26h1v7.6h-1zM360 182.26h2v7.6h-2zM363 182.26h2v7.6h-2zM372 182.26h1v7.6h-1zM220 197.33h1v7.6h-1zM358 197.33h1v7.6h-1zM389 197.33h1v7.6h-1zM276 204.86h1v7.6h-1zM372 204.86h1v7.6h-1zM379 204.86h1v7.6h-1zM446 204.86h1v7.6h-1zM217 212.39h1v7.6h-1zM222 212.39h1v7.6h-1zM254 212.39h1v7.6h-1zM265 212.39h1v7.6h-1zM355 212.39h1v7.6h-1zM231 219.93h1v7.6h-1zM388 219.93h1v7.6h-1zM441 219.93h1v7.6h-1zM234 227.46h1v7.6h-1zM255 227.46h1v7.6h-1zM224 234.99h1v7.6h-1zM233 234.99h1v7.6h-1zM248 234.99h1v7.6h-1zM231 242.52h2v7.6h-2zM238 242.52h1v7.6h-1zM243 242.52h1v7.6h-1zM254 242.52h1v7.6h-1zM263 242.52h1v7.6h-1zM276 242.52h1v7.6h-1zM284 242.52h1v7.6h-1zM313 242.52h1v7.6h-1zM355 242.52h2v7.6h-2zM375 242.52h1v7.6h-1zM412 242.52h1v7.6h-1zM426 242.52h1v7.6h-1zM447 242.52h2v7.6h-2zM275 250.06h1v7.6h-1zM288 250.06h2v7.6h-2zM330 250.06h1v7.6h-1zM332 250.06h1v7.6h-1zM351 250.06h1v7.6h-1zM396 250.06h1v7.6h-1zM446 250.06h1v7.6h-1zM351 257.59h1v7.6h-1zM445 257.59h1v7.6h-1zM452 257.59h1v7.6h-1zM312 287.72h1v7.6h-1zM388 287.72h1v7.6h-1zM288 295.26h1v7.6h-1zM392 295.26h1v7.6h-1zM401 295.26h1v7.6h-1z"/>
<path fill="#221122" d="M328 46.67h1v7.6h-1zM437 54.2h1v7.6h-1zM258 84.33h1v7.6h-1zM478 91.86h1v7.6h-1zM430 99.4h1v7.6h-1zM263 129.53h1v7.6h-1zM287 144.59h1v7.6h-1zM325 144.59h1v7.6h-1zM476 144.59h1v7.6h-1zM337 182.26h1v7.6h-1zM446 219.93h1v7.6h-1zM311 242.52h1v7.6h-1zM374 242.52h1v7.6h-1zM377 242.52h1v7.6h-1zM333 257.59h1v7.6h-1zM225 295.26h1v7.6h-1z"/>
<path fill="#222200" d="M476 31.6h1v7.6h-1zM277 46.67h1v7.6h-1zM436 46.67h1v7.6h-1zM476 46.67h1v7.6h-1zM451 61.73h1v7.6h-1zM218 69.27h1v7.6h-1zM220 69.27h1v7.6h-1zM223 69.27h1v7.6h-1zM232 69.27h1v7.6h-1zM235 69.27h1v7.6h-1zM242 69.27h1v7.6h-1zM252 69.27h1v7.6h-1zM264 69.27h2v7.6h-2zM270 69.27h1v7.6h-1zM286 69.27h1v7.6h-1zM289 69.27h2v7.6h-2zM301 69.27h1v7.6h-1zM321 69.27h2v7.6h-2zM329 69.27h1v7.6h-1zM350 69.27h1v7.6h-1zM354 69.27h1v7.6h-1zM361 69.27h1v7.6h-1zM365 69.27h2v7.6h-2zM371 69.27h2v7.6h-2zM378 69.27h1v7.6h-1zM383 69.27h1v7.6h-1zM388 69.27h1v7.6h-1zM398 69.27h1v7.6h-1zM410 69.27h1v7.6h-1zM419 69.27h1v7.6h-1zM430 69.27h1v7.6h-1zM466 69.27h1v7.6h-1zM468 69.27h2v7.6h-2zM286 76.8h1v7.6h-1zM301 76.8h1v7.6h-1zM309 76.8h1v7.6h-1zM318 76.8h1v7.6h-1zM337 76.8h2v7.6h-2zM347 76.8h1v7.6h-1zM358 76.8h1v7.6h-1zM369 76.8h1v7.6h-1zM371 76.8h2v7.6h-2zM374 76.8h1v7.6h-1zM376 76.8h3v7.6h-3zM388 76.8h1v7.6h-1zM393 76.8h1v7.6h-1zM431 76.8h1v7.6h-1zM476 76.8h1v7.6h-1zM223 84.33h1v7.6h-1zM237 84.33h1v7.6h-1zM299 84.33h1v7.6h-1zM303 84.33h1v7.6h-1zM306 84.33h1v7.6h-1zM322 84.33h1v7.6h-1zM335 84.33h1v7.6h-1zM338 84.33h2v7.6h-2zM346 84.33h1v7.6h-1zM354 84.33h1v7.6h-1zM361 84.33h1v7.6h-1zM364 84.33h1v7.6h-1zM366 84.33h2v7.6h-2zM369 84.33h1v7.6h-1zM217 91.86h1v7.6h-1zM276 91.86h1v7.6h-1zM286 91.86h1v7.6h-1zM296 91.86h1v7.6h-1zM301 91.86h1v7.6h-1zM318 91.86h1v7.6h-1zM321 91.86h2v7.6h-2zM330 91.86h1v7.6h-1zM346 91.86h1v7.6h-1zM358 91.86h1v7.6h-1zM364 91.86h3v7.6h-3zM378 91.86h1v7.6h-1zM466 91.86h1v7.6h-1zM476 91.86h1v7.6h-1zM239 99.4h1v7.6h-1zM286 99.4h1v7.6h-1zM301 99.4h1v7.6h-1zM306 99.4h1v7.6h-1zM318 99.4h1v7.6h-1zM327 99.4h1v7.6h-1zM339 99.4h1v7.6h-1zM343 99.4h1v7.6h-1zM347 99.4h1v7.6h-1zM361 99.4h1v7.6h-1zM367 99.4h1v7.6h-1zM372 99.4h1v7.6h-1zM378 99.4h1v7.6h-1zM388 99.4h1v7.6h-1zM466 99.4h1v7.6h-1zM296 106.93h1v7.6h-1zM300 106.93h1v7.6h-1zM354 106.93h1v7.6h-1zM383 106.93h1v7.6h-1zM439 106.93h1v7.6h-1zM462 106.93h4v7.6h-4zM467 106.93h1v7.6h-1zM470 106.93h3v7.6h-3zM474 106.93h1v7.6h-1zM482 106.93h1v7.6h-1zM459 114.46h1v7.6h-1zM488 114.46h1v7.6h-1zM481 122h1v7.6h-1zM487 122h3v7.6h-3zM481 129.53h1v7.6h-1zM449 137.06h1v7.6h-1zM481 137.06h1v7.6h-1zM490 137.06h1v7.6h-1zM319 144.59h1v7.6h-1zM332 144.59h1v7.6h-1zM482 144.59h1v7.6h-1zM485 144.59h2v7.6h-2zM466 152.13h1v7.6h-1zM272 159.66h1v7.6h-1zM282 167.19h1v7.6h-1zM456 167.19h1v7.6h-1zM297 182.26h1v7.6h-1zM328 182.26h1v7.6h-1zM349 182.26h1v7.6h-1zM351 182.26h1v7.6h-1zM355 182.26h1v7.6h-1zM384 182.26h1v7.6h-1zM218 197.33h1v7.6h-1zM445 204.86h1v7.6h-1zM234 212.39h1v7.6h-1zM237 212.39h1v7.6h-1zM260 212.39h1v7.6h-1zM365 212.39h1v7.6h-1zM369 212.39h1v7.6h-1zM440 227.46h1v7.6h-1zM458 227.46h1v7.6h-1zM390 234.99h1v7.6h-1zM458 234.99h1v7.6h-1zM237 242.52h1v7.6h-1zM349 242.52h1v7.6h-1zM352 242.52h1v7.6h-1zM362 242.52h1v7.6h-1zM380 242.52h1v7.6h-1zM419 242.52h1v7.6h-1zM431 242.52h1v7.6h-1zM438 242.52h1v7.6h-1zM459 242.52h1v7.6h-1zM486 242.52h1v7.6h-1zM492 250.06h1v7.6h-1zM228 257.59h1v7.6h-1zM256 257.59h1v7.6h-1zM277 257.59h1v7.6h-1zM282 257.59h2v7.6h-2zM253 287.72h1v7.6h-1zM292 287.72h1v7.6h-1zM321 287.72h1v7.6h-1zM340 287.72h1v7.6h-1zM440 287.72h1v7.6h-1zM445 287.72h1v7.6h-1zM219 295.26h1v7.6h-1zM263 295.26h1v7.6h-1zM436 295.26h1v7.6h-1z"/>
<path fill="#222211" d="M376 84.33h1v7.6h-1zM330 99.4h1v7.6h-1zM355 152.13h1v7.6h-1zM356 212.39h1v7.6h-1zM378 212.39h1v7.6h-1zM276 227.46h1v7.6h-1zM230 250.06h1v7.6h-1zM251 250.06h1v7.6h-1zM493 250.06h1v7.6h-1zM313 257.59h1v7.6h-1z"/>
<path fill="#330022" d="M333 46.67h1v7.6h-1zM493 46.67h1v7.6h-1zM465 54.2h1v7.6h-1zM382 61.73h1v7.6h-1zM397 69.27h1v7.6h-1zM467 69.27h1v7.6h-1zM402 76.8h1v7.6h-1zM462 91.86h1v7.6h-1zM267 122h1v7.6h-1zM284 129.53h1v7.6h-1zM454 129.53h1v7.6h-1zM225 137.06h1v7.6h-1zM235 137.06h1v7.6h-1zM387 144.59h1v7.6h-1zM468 144.59h1v7.6h-1zM250 167.19h1v7.6h-1zM423 174.73h1v7.6h-1zM426 174.73h1v7.6h-1zM225 212.39h1v7.6h-1zM251 234.99h1v7.6h-1zM271 242.52h1v7.6h-1zM365 242.52h1v7.6h-1zM388 250.06h1v7.6h-1zM386 295.26h1v7.6h-1z"/>
<path fill="#330033" d="M307 31.6h1v7.6h-1zM328 31.6h1v7.6h-1zM392 31.6h1v7.6h-1zM462 31.6h1v7.6h-1zM475 31.6h1v7.6h-1zM362 39.13h1v7.6h-1zM464 39.13h2v7.6h-2zM467 39.13h1v7.6h-1zM472 39.13h1v7.6h-1zM492 39.13h1v7.6h-1zM290 46.67h1v7.6h-1zM295 46.67h1v7.6h-1zM304 46.67h2v7.6h-2zM310 46.67h1v7.6h-1zM312 46.67h1v7.6h-1zM318 46.67h1v7.6h-1zM321 46.67h1v7.6h-1zM336 46.67h1v7.6h-1zM360 46.67h1v7.6h-1zM365 46.67h3v7.6h-3zM372 46.67h1v7.6h-1zM384 46.67h1v7.6h-1zM387 46.67h1v7.6h-1zM389 46.67h1v7.6h-1zM428 46.67h1v7.6h-1zM431 46.67h1v7.6h-1zM465 46.67h1v7.6h-1zM472 46.67h1v7.6h-1zM235 54.2h1v7.6h-1zM287 54.2h2v7.6h-2zM292 54.2h1v7.6h-1zM302 54.2h1v7.6h-1zM305 54.2h1v7.6h-1zM308 54.2h1v7.6h-1zM315 54.2h1v7.6h-1zM317 54.2h1v7.6h-1zM326 54.2h1v7.6h-1zM328 54.2h1v7.6h-1zM334 54.2h1v7.6h-1zM336 54.2h1v7.6h-1zM340 54.2h1v7.6h-1zM342 54.2h2v7.6h-2zM346 54.2h1v7.6h-1zM355 54.2h2v7.6h-2zM360 54.2h1v7.6h-1zM363 54.2h1v7.6h-1zM372 54.2h2v7.6h-2zM378 54.2h2v7.6h-2zM386 54.2h1v7.6h-1zM390 54.2h1v7.6h-1zM396 54.2h1v7.6h-1zM412 54.2h1v7.6h-1zM432 54.2h1v7.6h-1zM467 54.2h1v7.6h-1zM470 54.2h1v7.6h-1zM479 54.2h1v7.6h-1zM483 54.2h1v7.6h-1zM489 54.2h1v7.6h-1zM288 61.73h1v7.6h-1zM294 61.73h2v7.6h-2zM297 61.73h1v7.6h-1zM310 61.73h1v7.6h-1zM312 61.73h1v7.6h-1zM326 61.73h1v7.6h-1zM328 61.73h1v7.6h-1zM336 61.73h1v7.6h-1zM341 61.73h1v7.6h-1zM345 61.73h1v7.6h-1zM349 61.73h2v7.6h-2zM355 61.73h1v7.6h-1zM359 61.73h2v7.6h-2zM370 61.73h1v7.6h-1zM373 61.73h2v7.6h-2zM390 61.73h1v7.6h-1zM393 61.73h1v7.6h-1zM410 61.73h1v7.6h-1zM412 61.73h1v7.6h-1zM417 61.73h1v7.6h-1zM428 61.73h1v7.6h-1zM462 61.73h1v7.6h-1zM464 61.73h1v7.6h-1zM478 61.73h1v7.6h-1zM226 69.27h2v7.6h-2zM273 69.27h1v7.6h-1zM277 69.27h1v7.6h-1zM282 69.27h2v7.6h-2zM422 69.27h1v7.6h-1zM216 76.8h1v7.6h-1zM255 76.8h1v7.6h-1zM264 76.8h1v7.6h-1zM266 76.8h1v7.6h-1zM276 76.8h1v7.6h-1zM280 76.8h1v7.6h-1zM392 76.8h1v7.6h-1zM397 76.8h1v7.6h-1zM399 76.8h1v7.6h-1zM407 76.8h2v7.6h-2zM413 76.8h2v7.6h-2zM416 76.8h1v7.6h-1zM418 76.8h1v7.6h-1zM425 76.8h1v7.6h-1zM435 76.8h1v7.6h-1zM443 76.8h1v7.6h-1zM445 76.8h3v7.6h-3zM449 76.8h1v7.6h-1zM451 76.8h2v7.6h-2zM455 76.8h1v7.6h-1zM472 76.8h1v7.6h-1zM474 76.8h1v7.6h-1zM226 84.33h1v7.6h-1zM229 84.33h1v7.6h-1zM233 84.33h1v7.6h-1zM240 84.33h2v7.6h-2zM243 84.33h1v7.6h-1zM248 84.33h1v7.6h-1zM250 84.33h2v7.6h-2zM262 84.33h1v7.6h-1zM269 84.33h1v7.6h-1zM273 84.33h1v7.6h-1zM278 84.33h1v7.6h-1zM436 84.33h1v7.6h-1zM443 84.33h1v7.6h-1zM445 84.33h2v7.6h-2zM470 84.33h1v7.6h-1zM475 84.33h2v7.6h-2zM478 84.33h1v7.6h-1zM228 91.86h1v7.6h-1zM233 91.86h1v7.6h-1zM236 91.86h1v7.6h-1zM242 91.86h1v7.6h-1zM246 91.86h2v7.6h-2zM262 91.86h1v7.6h-1zM268 91.86h2v7.6h-2zM271 91.86h1v7.6h-1zM273 91.86h2v7.6h-2zM396 91.86h1v7.6h-1zM435 91.86h1v7.6h-1zM443 91.86h1v7.6h-1zM471 91.86h1v7.6h-1zM474 91.86h1v7.6h-1zM222 99.4h1v7.6h-1zM228 99.4h1v7.6h-1zM233 99.4h1v7.6h-1zM236 99.4h1v7.6h-1zM241 99.4h1v7.6h-1zM256 99.4h1v7.6h-1zM259 99.4h1v7.6h-1zM271 99.4h3v7.6h-3zM283 99.4h1v7.6h-1zM401 99.4h2v7.6h-2zM407 99.4h2v7.6h-2zM424 99.4h1v7.6h-1zM446 99.4h1v7.6h-1zM451 99.4h1v7.6h-1zM455 99.4h1v7.6h-1zM464 99.4h1v7.6h-1zM467 99.4h1v7.6h-1zM471 99.4h2v7.6h-2zM474 99.4h1v7.6h-1zM217 114.46h1v7.6h-1zM219 114.46h2v7.6h-2zM223 114.46h1v7.6h-1zM232 114.46h1v7.6h-1zM234 114.46h1v7.6h-1zM240 114.46h1v7.6h-1zM245 114.46h1v7.6h-1zM254 114.46h1v7.6h-1zM267 114.46h1v7.6h-1zM276 114.46h1v7.6h-1zM279 114.46h1v7.6h-1zM287 114.46h1v7.6h-1zM292 114.46h1v7.6h-1zM298 114.46h1v7.6h-1zM320 114.46h1v7.6h-1zM362 114.46h1v7.6h-1zM382 114.46h1v7.6h-1zM442 114.46h1v7.6h-1zM448 114.46h1v7.6h-1zM450 114.46h1v7.6h-1zM458 114.46h1v7.6h-1zM460 114.46h1v7.6h-1zM220 122h1v7.6h-1zM224 122h1v7.6h-1zM229 122h1v7.6h-1zM234 122h1v7.6h-1zM236 122h1v7.6h-1zM243 122h1v7.6h-1zM245 122h3v7.6h-3zM254 122h1v7.6h-1zM257 122h1v7.6h-1zM261 122h1v7.6h-1zM264 122h1v7.6h-1zM270 122h1v7.6h-1zM273 122h1v7.6h-1zM275 122h1v7.6h-1zM279 122h1v7.6h-1zM307 122h1v7.6h-1zM320 122h1v7.6h-1zM332 122h1v7.6h-1zM375 122h1v7.6h-1zM382 122h1v7.6h-1zM437 122h2v7.6h-2zM443 122h1v7.6h-1zM450 122h1v7.6h-1zM492 122h1v7.6h-1zM221 129.53h1v7.6h-1zM225 129.53h1v7.6h-1zM231 129.53h2v7.6h-2zM248 129.53h1v7.6h-1zM254 129.53h1v7.6h-1zM257 129.53h3v7.6h-3zM261 129.53h1v7.6h-1zM264 129.53h1v7.6h-1zM268 129.53h3v7.6h-3zM292 129.53h1v7.6h-1zM297 129.53h2v7.6h-2zM320 129.53h1v7.6h-1zM326 129.53h1v7.6h-1zM328 129.53h1v7.6h-1zM335 129.53h1v7.6h-1zM375 129.53h1v7.6h-1zM384 129.53h1v7.6h-1zM390 129.53h1v7.6h-1zM439 129.53h1v7.6h-1zM443 129.53h1v7.6h-1zM446 129.53h1v7.6h-1zM457 129.53h1v7.6h-1zM221 137.06h1v7.6h-1zM233 137.06h1v7.6h-1zM240 137.06h1v7.6h-1zM243 137.06h1v7.6h-1zM246 137.06h1v7.6h-1zM248 137.06h1v7.6h-1zM251 137.06h1v7.6h-1zM257 137.06h1v7.6h-1zM268 137.06h1v7.6h-1zM271 137.06h2v7.6h-2zM275 137.06h1v7.6h-1zM278 137.06h2v7.6h-2zM284 137.06h1v7.6h-1zM292 137.06h1v7.6h-1zM297 137.06h2v7.6h-2zM305 137.06h1v7.6h-1zM313 137.06h1v7.6h-1zM316 137.06h1v7.6h-1zM328 137.06h1v7.6h-1zM344 137.06h1v7.6h-1zM352 137.06h1v7.6h-1zM370 137.06h1v7.6h-1zM373 137.06h3v7.6h-3zM380 137.06h1v7.6h-1zM387 137.06h1v7.6h-1zM440 137.06h1v7.6h-1zM445 137.06h1v7.6h-1zM216 144.59h1v7.6h-1zM218 144.59h2v7.6h-2zM223 144.59h1v7.6h-1zM232 144.59h1v7.6h-1zM234 144.59h1v7.6h-1zM245 144.59h1v7.6h-1zM249 144.59h1v7.6h-1zM252 144.59h1v7.6h-1zM263 144.59h3v7.6h-3zM276 144.59h1v7.6h-1zM281 144.59h1v7.6h-1zM323 144.59h1v7.6h-1zM351 144.59h1v7.6h-1zM356 144.59h2v7.6h-2zM360 144.59h1v7.6h-1zM363 144.59h1v7.6h-1zM365 144.59h1v7.6h-1zM379 144.59h2v7.6h-2zM389 144.59h1v7.6h-1zM397 144.59h1v7.6h-1zM462 144.59h1v7.6h-1zM467 144.59h1v7.6h-1zM472 144.59h1v7.6h-1zM475 144.59h1v7.6h-1zM218 152.13h1v7.6h-1zM223 152.13h2v7.6h-2zM237 152.13h1v7.6h-1zM239 152.13h1v7.6h-1zM244 152.13h1v7.6h-1zM265 152.13h2v7.6h-2zM276 152.13h1v7.6h-1zM395 152.13h1v7.6h-1zM398 152.13h1v7.6h-1zM403 152.13h1v7.6h-1zM406 152.13h1v7.6h-1zM421 152.13h1v7.6h-1zM430 152.13h2v7.6h-2zM462 152.13h1v7.6h-1zM468 152.13h1v7.6h-1zM248 159.66h1v7.6h-1zM250 159.66h1v7.6h-1zM287 159.66h1v7.6h-1zM292 159.66h1v7.6h-1zM328 159.66h1v7.6h-1zM380 159.66h1v7.6h-1zM387 159.66h1v7.6h-1zM394 159.66h1v7.6h-1zM412 159.66h1v7.6h-1zM419 159.66h1v7.6h-1zM431 159.66h2v7.6h-2zM226 167.19h1v7.6h-1zM320 167.19h1v7.6h-1zM326 167.19h1v7.6h-1zM328 167.19h1v7.6h-1zM344 167.19h1v7.6h-1zM356 167.19h1v7.6h-1zM359 167.19h1v7.6h-1zM370 167.19h1v7.6h-1zM375 167.19h1v7.6h-1zM377 167.19h1v7.6h-1zM382 167.19h1v7.6h-1zM384 167.19h1v7.6h-1zM389 167.19h1v7.6h-1zM412 167.19h1v7.6h-1zM417 167.19h1v7.6h-1zM419 167.19h2v7.6h-2zM428 167.19h1v7.6h-1zM431 167.19h2v7.6h-2zM462 167.19h2v7.6h-2zM467 167.19h2v7.6h-2zM477 167.19h1v7.6h-1zM479 167.19h1v7.6h-1zM288 174.73h1v7.6h-1zM292 174.73h1v7.6h-1zM295 174.73h1v7.6h-1zM302 174.73h1v7.6h-1zM307 174.73h2v7.6h-2zM316 174.73h1v7.6h-1zM326 174.73h1v7.6h-1zM331 174.73h1v7.6h-1zM336 174.73h1v7.6h-1zM349 174.73h1v7.6h-1zM351 174.73h1v7.6h-1zM356 174.73h2v7.6h-2zM363 174.73h1v7.6h-1zM365 174.73h1v7.6h-1zM374 174.73h1v7.6h-1zM379 174.73h1v7.6h-1zM382 174.73h1v7.6h-1zM387 174.73h1v7.6h-1zM393 174.73h2v7.6h-2zM396 174.73h1v7.6h-1zM410 174.73h3v7.6h-3zM420 174.73h1v7.6h-1zM428 174.73h1v7.6h-1zM430 174.73h3v7.6h-3zM466 174.73h1v7.6h-1zM239 182.26h1v7.6h-1zM264 182.26h2v7.6h-2zM268 182.26h1v7.6h-1zM276 182.26h1v7.6h-1zM284 182.26h1v7.6h-1zM286 182.26h1v7.6h-1zM312 182.26h1v7.6h-1zM315 182.26h1v7.6h-1zM318 182.26h1v7.6h-1zM321 182.26h3v7.6h-3zM327 182.26h1v7.6h-1zM329 182.26h2v7.6h-2zM347 182.26h1v7.6h-1zM383 182.26h1v7.6h-1zM399 182.26h1v7.6h-1zM401 182.26h3v7.6h-3zM408 182.26h1v7.6h-1zM410 182.26h2v7.6h-2zM414 182.26h1v7.6h-1zM425 182.26h2v7.6h-2zM430 182.26h1v7.6h-1zM432 182.26h1v7.6h-1zM468 182.26h1v7.6h-1zM476 182.26h1v7.6h-1zM251 197.33h1v7.6h-1zM292 197.33h1v7.6h-1zM313 197.33h1v7.6h-1zM331 197.33h1v7.6h-1zM399 197.33h1v7.6h-1zM403 197.33h2v7.6h-2zM225 204.86h1v7.6h-1zM280 204.86h1v7.6h-1zM292 204.86h1v7.6h-1zM316 204.86h1v7.6h-1zM423 204.86h1v7.6h-1zM432 204.86h1v7.6h-1zM226 212.39h1v7.6h-1zM261 212.39h1v7.6h-1zM299 212.39h1v7.6h-1zM328 212.39h1v7.6h-1zM267 219.93h1v7.6h-1zM270 219.93h1v7.6h-1zM292 219.93h1v7.6h-1zM319 219.93h1v7.6h-1zM328 219.93h1v7.6h-1zM333 219.93h1v7.6h-1zM383 219.93h1v7.6h-1zM401 219.93h1v7.6h-1zM261 227.46h2v7.6h-2zM268 227.46h2v7.6h-2zM271 227.46h1v7.6h-1zM313 227.46h1v7.6h-1zM319 227.46h1v7.6h-1zM326 227.46h1v7.6h-1zM344 227.46h1v7.6h-1zM351 227.46h1v7.6h-1zM419 227.46h1v7.6h-1zM432 227.46h1v7.6h-1zM475 227.46h1v7.6h-1zM222 234.99h1v7.6h-1zM228 234.99h1v7.6h-1zM292 234.99h2v7.6h-2zM332 234.99h1v7.6h-1zM365 234.99h1v7.6h-1zM371 234.99h1v7.6h-1zM463 234.99h1v7.6h-1zM465 234.99h1v7.6h-1zM477 234.99h1v7.6h-1zM479 234.99h1v7.6h-1zM217 242.52h1v7.6h-1zM226 242.52h1v7.6h-1zM229 242.52h1v7.6h-1zM236 242.52h1v7.6h-1zM240 242.52h1v7.6h-1zM246 242.52h2v7.6h-2zM250 242.52h1v7.6h-1zM253 242.52h1v7.6h-1zM256 242.52h1v7.6h-1zM275 242.52h1v7.6h-1zM283 242.52h1v7.6h-1zM286 242.52h1v7.6h-1zM299 242.52h1v7.6h-1zM301 242.52h1v7.6h-1zM306 242.52h1v7.6h-1zM315 242.52h1v7.6h-1zM317 242.52h1v7.6h-1zM321 242.52h1v7.6h-1zM325 242.52h1v7.6h-1zM338 242.52h1v7.6h-1zM341 242.52h1v7.6h-1zM345 242.52h1v7.6h-1zM358 242.52h1v7.6h-1zM361 242.52h1v7.6h-1zM366 242.52h1v7.6h-1zM379 242.52h1v7.6h-1zM383 242.52h1v7.6h-1zM385 242.52h1v7.6h-1zM397 242.52h1v7.6h-1zM404 242.52h1v7.6h-1zM407 242.52h2v7.6h-2zM418 242.52h1v7.6h-1zM445 242.52h1v7.6h-1zM457 242.52h2v7.6h-2zM460 242.52h1v7.6h-1zM462 242.52h4v7.6h-4zM468 242.52h1v7.6h-1zM470 242.52h1v7.6h-1zM490 242.52h1v7.6h-1zM257 250.06h1v7.6h-1zM299 250.06h1v7.6h-1zM324 250.06h1v7.6h-1zM326 250.06h1v7.6h-1zM402 250.06h2v7.6h-2zM411 250.06h1v7.6h-1zM416 250.06h1v7.6h-1zM426 250.06h1v7.6h-1zM286 257.59h1v7.6h-1zM411 257.59h2v7.6h-2zM417 257.59h1v7.6h-1zM419 257.59h2v7.6h-2zM424 257.59h1v7.6h-1zM426 257.59h1v7.6h-1zM467 257.59h1v7.6h-1zM469 257.59h1v7.6h-1zM476 257.59h1v7.6h-1zM395 287.72h1v7.6h-1zM421 287.72h1v7.6h-1zM251 295.26h1v7.6h-1zM276 295.26h1v7.6h-1zM298 295.26h1v7.6h-1zM335 295.26h1v7.6h-1zM388 295.26h1v7.6h-1zM414 295.26h1v7.6h-1z"/>
<path fill="#331111" d="M401 31.6h1v7.6h-1zM403 31.6h1v7.6h-1zM493 61.73h1v7.6h-1zM366 152.13h1v7.6h-1zM228 167.19h1v7.6h-1zM248 212.39h1v7.6h-1zM462 227.46h2v7.6h-2zM219 250.06h1v7.6h-1zM346 250.06h1v7.6h-1zM270 287.72h1v7.6h-1zM295 287.72h1v7.6h-1z"/>
<path fill="#331122" d="M400 31.6h1v7.6h-1zM412 31.6h1v7.6h-1zM425 31.6h1v7.6h-1zM427 39.13h1v7.6h-1zM456 46.67h1v7.6h-1zM262 54.2h1v7.6h-1zM283 54.2h1v7.6h-1zM437 61.73h1v7.6h-1zM271 69.27h1v7.6h-1zM438 76.8h1v7.6h-1zM453 84.33h1v7.6h-1zM221 91.86h1v7.6h-1zM254 91.86h1v7.6h-1zM243 99.4h1v7.6h-1zM465 99.4h1v7.6h-1zM410 106.93h1v7.6h-1zM252 114.46h1v7.6h-1zM492 114.46h1v7.6h-1zM221 122h1v7.6h-1zM492 129.53h1v7.6h-1zM288 144.59h1v7.6h-1zM335 144.59h1v7.6h-1zM286 152.13h1v7.6h-1zM308 152.13h1v7.6h-1zM329 152.13h1v7.6h-1zM218 159.66h1v7.6h-1zM233 159.66h1v7.6h-1zM243 159.66h1v7.6h-1zM257 159.66h1v7.6h-1zM261 159.66h1v7.6h-1zM236 167.19h1v7.6h-1zM241 167.19h1v7.6h-1zM277 167.19h1v7.6h-1zM299 182.26h1v7.6h-1zM358 182.26h1v7.6h-1zM378 197.33h1v7.6h-1zM384 197.33h1v7.6h-1zM432 197.33h1v7.6h-1zM457 197.33h1v7.6h-1zM271 204.86h1v7.6h-1zM356 204.86h1v7.6h-1zM224 212.39h1v7.6h-1zM275 212.39h1v7.6h-1zM235 219.93h1v7.6h-1zM262 219.93h1v7.6h-1zM367 219.93h1v7.6h-1zM457 219.93h1v7.6h-1zM233 227.46h1v7.6h-1zM251 227.46h1v7.6h-1zM265 227.46h1v7.6h-1zM272 227.46h1v7.6h-1zM275 227.46h1v7.6h-1zM386 227.46h1v7.6h-1zM492 227.46h1v7.6h-1zM259 234.99h1v7.6h-1zM356 234.99h1v7.6h-1zM267 242.52h1v7.6h-1zM473 242.52h1v7.6h-1zM241 250.06h1v7.6h-1zM254 250.06h1v7.6h-1zM334 250.06h1v7.6h-1zM339 250.06h1v7.6h-1zM345 250.06h1v7.6h-1zM349 250.06h1v7.6h-1zM359 250.06h1v7.6h-1zM386 250.06h1v7.6h-1zM419 250.06h1v7.6h-1zM337 257.59h1v7.6h-1zM343 257.59h1v7.6h-1zM345 257.59h1v7.6h-1zM226 287.72h1v7.6h-1zM254 287.72h1v7.6h-1zM272 287.72h1v7.6h-1zM350 287.72h1v7.6h-1zM398 287.72h1v7.6h-1zM420 287.72h1v7.6h-1zM425 287.72h1v7.6h-1zM446 287.72h1v7.6h-1zM230 295.26h1v7.6h-1zM236 295.26h1v7.6h-1zM261 295.26h1v7.6h-1zM376 295.26h1v7.6h-1zM409 295.26h1v7.6h-1zM425 295.26h2v7.6h-2zM429 295.26h1v7.6h-1zM439 295.26h1v7.6h-1zM442 295.26h1v7.6h-1z"/>
<path fill="#331133" d="M228 54.2h1v7.6h-1zM255 122h1v7.6h-1zM369 152.13h1v7.6h-1zM370 204.86h1v7.6h-1zM220 219.93h1v7.6h-1zM427 242.52h1v7.6h-1zM380 250.06h1v7.6h-1zM414 287.72h1v7.6h-1zM268 295.26h1v7.6h-1zM444 295.26h1v7.6h-1z"/>
<path fill="#332200" d="M446 46.67h1v7.6h-1zM441 61.73h1v7.6h-1zM303 69.27h1v7.6h-1zM428 69.27h1v7.6h-1zM357 76.8h1v7.6h-1zM372 84.33h1v7.6h-1zM295 99.4h1v7.6h-1zM363 99.4h1v7.6h-1zM469 106.93h1v7.6h-1zM485 137.06h1v7.6h-1zM374 152.13h1v7.6h-1zM428 242.52h1v7.6h-1zM357 287.72h1v7.6h-1z"/>
<path fill="#332211" d="M437 31.6h1v7.6h-1zM444 31.6h1v7.6h-1zM450 31.6h1v7.6h-1zM492 31.6h1v7.6h-1zM423 39.13h1v7.6h-1zM454 39.13h1v7.6h-1zM219 54.2h1v7.6h-1zM257 54.2h1v7.6h-1zM438 61.73h1v7.6h-1zM454 61.73h1v7.6h-1zM459 61.73h1v7.6h-1zM268 69.27h1v7.6h-1zM385 69.27h1v7.6h-1zM491 69.27h1v7.6h-1zM466 76.8h1v7.6h-1zM491 91.86h1v7.6h-1zM394 106.93h1v7.6h-1zM417 106.93h1v7.6h-1zM423 106.93h1v7.6h-1zM441 106.93h1v7.6h-1zM482 122h1v7.6h-1zM223 129.53h1v7.6h-1zM310 144.59h1v7.6h-1zM339 144.59h1v7.6h-1zM346 144.59h1v7.6h-1zM444 144.59h1v7.6h-1zM446 144.59h1v7.6h-1zM454 144.59h1v7.6h-1zM488 144.59h1v7.6h-1zM305 152.13h1v7.6h-1zM317 152.13h1v7.6h-1zM225 167.19h1v7.6h-1zM266 167.19h1v7.6h-1zM332 182.26h1v7.6h-1zM224 197.33h1v7.6h-1zM398 197.33h1v7.6h-1zM410 197.33h1v7.6h-1zM412 197.33h1v7.6h-1zM421 197.33h1v7.6h-1zM357 204.86h1v7.6h-1zM229 212.39h1v7.6h-1zM264 212.39h1v7.6h-1zM387 212.39h1v7.6h-1zM232 219.93h1v7.6h-1zM239 219.93h1v7.6h-1zM279 219.93h1v7.6h-1zM359 219.93h1v7.6h-1zM456 219.93h1v7.6h-1zM359 227.46h1v7.6h-1zM373 227.46h1v7.6h-1zM242 234.99h1v7.6h-1zM252 234.99h1v7.6h-1zM373 234.99h2v7.6h-2zM386 234.99h1v7.6h-1zM237 250.06h1v7.6h-1zM336 250.06h1v7.6h-1zM355 250.06h1v7.6h-1zM379 250.06h1v7.6h-1zM302 257.59h1v7.6h-1zM367 257.59h1v7.6h-1zM453 257.59h1v7.6h-1zM227 287.72h2v7.6h-2zM230 287.72h1v7.6h-1zM241 287.72h1v7.6h-1zM251 287.72h1v7.6h-1zM300 287.72h1v7.6h-1zM373 287.72h1v7.6h-1zM378 287.72h1v7.6h-1zM380 287.72h1v7.6h-1zM412 287.72h1v7.6h-1zM493 287.72h1v7.6h-1zM316 295.26h1v7.6h-1zM370 295.26h1v7.6h-1z"/>
<path fill="#332222" d="M401 39.13h1v7.6h-1zM253 54.2h1v7.6h-1zM439 54.2h1v7.6h-1zM351 152.13h1v7.6h-1zM241 159.66h1v7.6h-1zM279 197.33h1v7.6h-1zM384 204.86h1v7.6h-1zM280 212.39h1v7.6h-1zM358 219.93h1v7.6h-1zM231 234.99h1v7.6h-1z"/>
<path fill="#333300" d="M430 31.6h1v7.6h-1zM441 39.13h1v7.6h-1zM447 39.13h1v7.6h-1zM222 46.67h1v7.6h-1zM226 46.67h2v7.6h-2zM247 46.67h1v7.6h-1zM256 46.67h1v7.6h-1zM278 46.67h1v7.6h-1zM282 46.67h2v7.6h-2zM439 46.67h1v7.6h-1zM451 46.67h1v7.6h-1zM230 54.2h1v7.6h-1zM450 54.2h1v7.6h-1zM283 61.73h1v7.6h-1zM216 69.27h1v7.6h-1zM237 69.27h1v7.6h-1zM239 69.27h1v7.6h-1zM255 69.27h1v7.6h-1zM280 69.27h1v7.6h-1zM308 69.27h1v7.6h-1zM310 69.27h1v7.6h-1zM314 69.27h1v7.6h-1zM323 69.27h3v7.6h-3zM330 69.27h1v7.6h-1zM336 69.27h1v7.6h-1zM338 69.27h1v7.6h-1zM340 69.27h1v7.6h-1zM345 69.27h3v7.6h-3zM358 69.27h2v7.6h-2zM363 69.27h2v7.6h-2zM367 69.27h1v7.6h-1zM377 69.27h1v7.6h-1zM389 69.27h1v7.6h-1zM393 69.27h1v7.6h-1zM417 69.27h1v7.6h-1zM432 69.27h1v7.6h-1zM289 76.8h1v7.6h-1zM293 76.8h1v7.6h-1zM310 76.8h2v7.6h-2zM314 76.8h2v7.6h-2zM319 76.8h1v7.6h-1zM323 76.8h2v7.6h-2zM327 76.8h1v7.6h-1zM335 76.8h1v7.6h-1zM341 76.8h1v7.6h-1zM345 76.8h2v7.6h-2zM356 76.8h1v7.6h-1zM364 76.8h3v7.6h-3zM386 76.8h1v7.6h-1zM290 84.33h1v7.6h-1zM293 84.33h3v7.6h-3zM301 84.33h1v7.6h-1zM304 84.33h1v7.6h-1zM308 84.33h2v7.6h-2zM312 84.33h1v7.6h-1zM315 84.33h1v7.6h-1zM317 84.33h1v7.6h-1zM321 84.33h1v7.6h-1zM323 84.33h1v7.6h-1zM325 84.33h1v7.6h-1zM327 84.33h1v7.6h-1zM336 84.33h2v7.6h-2zM347 84.33h1v7.6h-1zM351 84.33h1v7.6h-1zM357 84.33h2v7.6h-2zM363 84.33h1v7.6h-1zM370 84.33h1v7.6h-1zM374 84.33h1v7.6h-1zM379 84.33h2v7.6h-2zM386 84.33h4v7.6h-4zM289 91.86h1v7.6h-1zM304 91.86h1v7.6h-1zM308 91.86h1v7.6h-1zM310 91.86h1v7.6h-1zM314 91.86h2v7.6h-2zM317 91.86h1v7.6h-1zM323 91.86h1v7.6h-1zM325 91.86h2v7.6h-2zM334 91.86h1v7.6h-1zM336 91.86h1v7.6h-1zM338 91.86h2v7.6h-2zM347 91.86h1v7.6h-1zM350 91.86h2v7.6h-2zM355 91.86h1v7.6h-1zM357 91.86h1v7.6h-1zM361 91.86h1v7.6h-1zM367 91.86h1v7.6h-1zM369 91.86h1v7.6h-1zM372 91.86h1v7.6h-1zM377 91.86h1v7.6h-1zM379 91.86h1v7.6h-1zM386 91.86h1v7.6h-1zM237 99.4h1v7.6h-1zM291 99.4h1v7.6h-1zM293 99.4h2v7.6h-2zM299 99.4h1v7.6h-1zM302 99.4h1v7.6h-1zM304 99.4h1v7.6h-1zM310 99.4h1v7.6h-1zM314 99.4h2v7.6h-2zM317 99.4h1v7.6h-1zM323 99.4h3v7.6h-3zM335 99.4h1v7.6h-1zM338 99.4h1v7.6h-1zM345 99.4h2v7.6h-2zM350 99.4h1v7.6h-1zM356 99.4h1v7.6h-1zM358 99.4h3v7.6h-3zM365 99.4h2v7.6h-2zM377 99.4h1v7.6h-1zM386 99.4h1v7.6h-1zM303 106.93h1v7.6h-1zM309 106.93h1v7.6h-1zM322 106.93h1v7.6h-1zM327 106.93h1v7.6h-1zM329 106.93h1v7.6h-1zM371 106.93h1v7.6h-1zM376 106.93h1v7.6h-1zM385 106.93h1v7.6h-1zM468 106.93h1v7.6h-1zM488 106.93h1v7.6h-1zM490 106.93h1v7.6h-1zM452 114.46h1v7.6h-1zM482 114.46h1v7.6h-1zM486 114.46h1v7.6h-1zM490 114.46h1v7.6h-1zM474 122h1v7.6h-1zM483 122h1v7.6h-1zM485 122h2v7.6h-2zM493 122h1v7.6h-1zM482 129.53h1v7.6h-1zM485 129.53h1v7.6h-1zM482 137.06h2v7.6h-2zM487 137.06h1v7.6h-1zM309 144.59h1v7.6h-1zM427 144.59h1v7.6h-1zM489 144.59h1v7.6h-1zM493 144.59h1v7.6h-1zM301 152.13h1v7.6h-1zM334 152.13h1v7.6h-1zM338 152.13h1v7.6h-1zM347 152.13h1v7.6h-1zM375 152.13h1v7.6h-1zM378 152.13h1v7.6h-1zM440 152.13h1v7.6h-1zM442 152.13h1v7.6h-1zM222 159.66h1v7.6h-1zM224 159.66h1v7.6h-1zM268 159.66h1v7.6h-1zM471 159.66h1v7.6h-1zM224 167.19h1v7.6h-1zM254 167.19h1v7.6h-1zM262 167.19h1v7.6h-1zM267 167.19h1v7.6h-1zM440 167.19h1v7.6h-1zM442 167.19h1v7.6h-1zM277 174.73h1v7.6h-1zM440 174.73h1v7.6h-1zM456 174.73h1v7.6h-1zM352 182.26h1v7.6h-1zM373 182.26h1v7.6h-1zM375 182.26h1v7.6h-1zM440 182.26h1v7.6h-1zM458 182.26h1v7.6h-1zM281 197.33h1v7.6h-1zM446 197.33h1v7.6h-1zM448 197.33h1v7.6h-1zM449 212.39h1v7.6h-1zM217 219.93h1v7.6h-1zM223 219.93h1v7.6h-1zM474 219.93h1v7.6h-1zM216 227.46h1v7.6h-1zM235 227.46h1v7.6h-1zM360 227.46h1v7.6h-1zM477 227.46h1v7.6h-1zM241 234.99h1v7.6h-1zM442 234.99h1v7.6h-1zM449 242.52h1v7.6h-1zM374 250.06h1v7.6h-1zM248 257.59h1v7.6h-1zM370 257.59h1v7.6h-1zM380 257.59h1v7.6h-1zM255 265.12h1v7.6h-1zM303 265.12h1v7.6h-1zM375 265.12h1v7.6h-1zM402 265.12h1v7.6h-1zM444 265.12h1v7.6h-1zM459 265.12h1v7.6h-1zM486 265.12h1v7.6h-1zM233 272.66h1v7.6h-1zM241 272.66h1v7.6h-1zM318 272.66h1v7.6h-1zM380 272.66h1v7.6h-1zM411 272.66h1v7.6h-1zM351 280.19h1v7.6h-1zM451 280.19h1v7.6h-1zM469 280.19h1v7.6h-1zM473 280.19h1v7.6h-1zM478 280.19h1v7.6h-1zM492 280.19h1v7.6h-1zM232 287.72h1v7.6h-1zM240 287.72h1v7.6h-1zM261 287.72h1v7.6h-1zM319 287.72h1v7.6h-1zM342 287.72h1v7.6h-1zM411 287.72h1v7.6h-1zM416 287.72h1v7.6h-1zM437 287.72h1v7.6h-1zM439 287.72h1v7.6h-1zM488 287.72h1v7.6h-1zM218 295.26h1v7.6h-1zM399 295.26h1v7.6h-1zM419 295.26h1v7.6h-1zM446 295.26h1v7.6h-1zM491 295.26h1v7.6h-1z"/>
<path fill="#333311" d="M281 69.27h1v7.6h-1zM447 106.93h1v7.6h-1zM315 144.59h1v7.6h-1zM333 144.59h1v7.6h-1zM424 144.59h1v7.6h-1zM242 167.19h1v7.6h-1zM379 227.46h1v7.6h-1zM217 234.99h1v7.6h-1zM249 250.06h1v7.6h-1zM316 250.06h1v7.6h-1zM239 287.72h1v7.6h-1z"/>
<path fill="#440033" d="M460 39.13h1v7.6h-1zM325 61.73h1v7.6h-1zM274 167.19h1v7.6h-1zM423 167.19h1v7.6h-1zM366 174.73h1v7.6h-1zM264 197.33h1v7.6h-1zM492 219.93h1v7.6h-1zM367 227.46h1v7.6h-1zM244 234.99h1v7.6h-1zM467 234.99h1v7.6h-1zM274 250.06h1v7.6h-1zM295 250.06h1v7.6h-1zM459 250.06h1v7.6h-1zM296 257.59h1v7.6h-1z"/>
<path fill="#440044" d="M292 31.6h1v7.6h-1zM297 31.6h1v7.6h-1zM310 31.6h1v7.6h-1zM316 31.6h1v7.6h-1zM326 31.6h1v7.6h-1zM332 31.6h1v7.6h-1zM344 31.6h1v7.6h-1zM349 31.6h1v7.6h-1zM355 31.6h1v7.6h-1zM370 31.6h1v7.6h-1zM373 31.6h1v7.6h-1zM415 31.6h1v7.6h-1zM426 31.6h1v7.6h-1zM464 31.6h1v7.6h-1zM471 31.6h1v7.6h-1zM474 31.6h1v7.6h-1zM287 39.13h1v7.6h-1zM292 39.13h1v7.6h-1zM297 39.13h2v7.6h-2zM316 39.13h1v7.6h-1zM331 39.13h1v7.6h-1zM344 39.13h1v7.6h-1zM349 39.13h1v7.6h-1zM352 39.13h1v7.6h-1zM380 39.13h1v7.6h-1zM382 39.13h1v7.6h-1zM387 39.13h1v7.6h-1zM390 39.13h1v7.6h-1zM475 39.13h1v7.6h-1zM286 46.67h1v7.6h-1zM293 46.67h2v7.6h-2zM308 46.67h1v7.6h-1zM314 46.67h1v7.6h-1zM317 46.67h1v7.6h-1zM322 46.67h2v7.6h-2zM325 46.67h1v7.6h-1zM327 46.67h1v7.6h-1zM330 46.67h1v7.6h-1zM334 46.67h1v7.6h-1zM345 46.67h1v7.6h-1zM347 46.67h1v7.6h-1zM356 46.67h2v7.6h-2zM361 46.67h1v7.6h-1zM377 46.67h2v7.6h-2zM386 46.67h1v7.6h-1zM393 46.67h2v7.6h-2zM396 46.67h1v7.6h-1zM412 46.67h1v7.6h-1zM432 46.67h1v7.6h-1zM471 46.67h1v7.6h-1zM474 46.67h1v7.6h-1zM289 54.2h1v7.6h-1zM310 54.2h2v7.6h-2zM323 54.2h1v7.6h-1zM327 54.2h1v7.6h-1zM330 54.2h1v7.6h-1zM332 54.2h1v7.6h-1zM337 54.2h3v7.6h-3zM347 54.2h1v7.6h-1zM350 54.2h2v7.6h-2zM357 54.2h1v7.6h-1zM365 54.2h2v7.6h-2zM369 54.2h1v7.6h-1zM374 54.2h1v7.6h-1zM377 54.2h1v7.6h-1zM384 54.2h1v7.6h-1zM389 54.2h1v7.6h-1zM393 54.2h1v7.6h-1zM398 54.2h1v7.6h-1zM403 54.2h1v7.6h-1zM410 54.2h1v7.6h-1zM419 54.2h1v7.6h-1zM456 54.2h1v7.6h-1zM464 54.2h1v7.6h-1zM471 54.2h2v7.6h-2zM475 54.2h1v7.6h-1zM287 61.73h1v7.6h-1zM289 61.73h1v7.6h-1zM305 61.73h1v7.6h-1zM308 61.73h1v7.6h-1zM311 61.73h1v7.6h-1zM317 61.73h1v7.6h-1zM319 61.73h1v7.6h-1zM323 61.73h2v7.6h-2zM331 61.73h1v7.6h-1zM333 61.73h1v7.6h-1zM335 61.73h1v7.6h-1zM338 61.73h3v7.6h-3zM342 61.73h1v7.6h-1zM357 61.73h2v7.6h-2zM363 61.73h3v7.6h-3zM375 61.73h1v7.6h-1zM379 61.73h2v7.6h-2zM384 61.73h1v7.6h-1zM388 61.73h2v7.6h-2zM394 61.73h1v7.6h-1zM398 61.73h1v7.6h-1zM403 61.73h1v7.6h-1zM411 61.73h1v7.6h-1zM419 61.73h1v7.6h-1zM430 61.73h2v7.6h-2zM471 61.73h1v7.6h-1zM474 61.73h2v7.6h-2zM471 69.27h1v7.6h-1zM223 76.8h2v7.6h-2zM230 76.8h3v7.6h-3zM234 76.8h2v7.6h-2zM238 76.8h2v7.6h-2zM244 76.8h3v7.6h-3zM249 76.8h1v7.6h-1zM254 76.8h1v7.6h-1zM258 76.8h1v7.6h-1zM263 76.8h1v7.6h-1zM265 76.8h1v7.6h-1zM270 76.8h1v7.6h-1zM279 76.8h1v7.6h-1zM281 76.8h1v7.6h-1zM421 76.8h2v7.6h-2zM429 76.8h1v7.6h-1zM437 76.8h1v7.6h-1zM439 76.8h1v7.6h-1zM457 76.8h1v7.6h-1zM459 76.8h1v7.6h-1zM222 84.33h1v7.6h-1zM227 84.33h1v7.6h-1zM256 84.33h1v7.6h-1zM282 84.33h1v7.6h-1zM396 84.33h1v7.6h-1zM412 84.33h1v7.6h-1zM419 84.33h1v7.6h-1zM432 84.33h1v7.6h-1zM439 84.33h1v7.6h-1zM441 84.33h1v7.6h-1zM450 84.33h1v7.6h-1zM454 84.33h1v7.6h-1zM460 84.33h1v7.6h-1zM465 84.33h1v7.6h-1zM467 84.33h2v7.6h-2zM471 84.33h2v7.6h-2zM222 91.86h1v7.6h-1zM226 91.86h1v7.6h-1zM253 91.86h1v7.6h-1zM277 91.86h2v7.6h-2zM393 91.86h1v7.6h-1zM417 91.86h1v7.6h-1zM419 91.86h2v7.6h-2zM438 91.86h1v7.6h-1zM449 91.86h1v7.6h-1zM451 91.86h1v7.6h-1zM453 91.86h1v7.6h-1zM459 91.86h1v7.6h-1zM464 91.86h1v7.6h-1zM226 99.4h1v7.6h-1zM231 99.4h1v7.6h-1zM240 99.4h1v7.6h-1zM253 99.4h1v7.6h-1zM269 99.4h1v7.6h-1zM277 99.4h2v7.6h-2zM282 99.4h1v7.6h-1zM404 99.4h1v7.6h-1zM415 99.4h1v7.6h-1zM418 99.4h1v7.6h-1zM425 99.4h1v7.6h-1zM437 99.4h1v7.6h-1zM444 99.4h1v7.6h-1zM447 99.4h1v7.6h-1zM450 99.4h1v7.6h-1zM457 99.4h1v7.6h-1zM221 114.46h1v7.6h-1zM229 114.46h2v7.6h-2zM233 114.46h1v7.6h-1zM235 114.46h1v7.6h-1zM241 114.46h3v7.6h-3zM248 114.46h1v7.6h-1zM257 114.46h1v7.6h-1zM259 114.46h1v7.6h-1zM261 114.46h1v7.6h-1zM268 114.46h2v7.6h-2zM271 114.46h2v7.6h-2zM288 114.46h1v7.6h-1zM291 114.46h1v7.6h-1zM294 114.46h1v7.6h-1zM302 114.46h1v7.6h-1zM307 114.46h1v7.6h-1zM310 114.46h1v7.6h-1zM313 114.46h1v7.6h-1zM319 114.46h1v7.6h-1zM332 114.46h1v7.6h-1zM356 114.46h1v7.6h-1zM359 114.46h1v7.6h-1zM374 114.46h1v7.6h-1zM379 114.46h2v7.6h-2zM386 114.46h1v7.6h-1zM390 114.46h1v7.6h-1zM440 114.46h1v7.6h-1zM456 114.46h1v7.6h-1zM222 122h1v7.6h-1zM226 122h3v7.6h-3zM231 122h1v7.6h-1zM240 122h2v7.6h-2zM248 122h1v7.6h-1zM250 122h1v7.6h-1zM256 122h1v7.6h-1zM258 122h1v7.6h-1zM271 122h1v7.6h-1zM274 122h1v7.6h-1zM278 122h1v7.6h-1zM288 122h1v7.6h-1zM294 122h2v7.6h-2zM297 122h2v7.6h-2zM305 122h1v7.6h-1zM311 122h1v7.6h-1zM313 122h1v7.6h-1zM316 122h1v7.6h-1zM319 122h1v7.6h-1zM328 122h1v7.6h-1zM337 122h1v7.6h-1zM341 122h1v7.6h-1zM345 122h2v7.6h-2zM351 122h2v7.6h-2zM380 122h1v7.6h-1zM384 122h1v7.6h-1zM387 122h1v7.6h-1zM442 122h1v7.6h-1zM444 122h3v7.6h-3zM460 122h1v7.6h-1zM226 129.53h1v7.6h-1zM228 129.53h1v7.6h-1zM233 129.53h1v7.6h-1zM236 129.53h1v7.6h-1zM240 129.53h1v7.6h-1zM242 129.53h2v7.6h-2zM246 129.53h2v7.6h-2zM250 129.53h1v7.6h-1zM262 129.53h1v7.6h-1zM272 129.53h1v7.6h-1zM274 129.53h1v7.6h-1zM283 129.53h1v7.6h-1zM291 129.53h1v7.6h-1zM293 129.53h1v7.6h-1zM295 129.53h1v7.6h-1zM305 129.53h1v7.6h-1zM307 129.53h1v7.6h-1zM311 129.53h1v7.6h-1zM313 129.53h1v7.6h-1zM331 129.53h2v7.6h-2zM336 129.53h1v7.6h-1zM344 129.53h1v7.6h-1zM349 129.53h2v7.6h-2zM360 129.53h1v7.6h-1zM363 129.53h1v7.6h-1zM365 129.53h1v7.6h-1zM370 129.53h1v7.6h-1zM373 129.53h2v7.6h-2zM380 129.53h1v7.6h-1zM382 129.53h1v7.6h-1zM387 129.53h1v7.6h-1zM440 129.53h1v7.6h-1zM442 129.53h1v7.6h-1zM445 129.53h1v7.6h-1zM456 129.53h1v7.6h-1zM222 137.06h1v7.6h-1zM228 137.06h2v7.6h-2zM241 137.06h1v7.6h-1zM250 137.06h1v7.6h-1zM262 137.06h1v7.6h-1zM273 137.06h1v7.6h-1zM287 137.06h2v7.6h-2zM295 137.06h1v7.6h-1zM302 137.06h1v7.6h-1zM308 137.06h1v7.6h-1zM311 137.06h1v7.6h-1zM319 137.06h1v7.6h-1zM331 137.06h1v7.6h-1zM334 137.06h2v7.6h-2zM342 137.06h2v7.6h-2zM349 137.06h1v7.6h-1zM355 137.06h3v7.6h-3zM359 137.06h1v7.6h-1zM372 137.06h1v7.6h-1zM382 137.06h1v7.6h-1zM384 137.06h1v7.6h-1zM390 137.06h1v7.6h-1zM454 137.06h1v7.6h-1zM456 137.06h1v7.6h-1zM458 137.06h1v7.6h-1zM217 144.59h1v7.6h-1zM224 144.59h1v7.6h-1zM231 144.59h1v7.6h-1zM235 144.59h1v7.6h-1zM237 144.59h1v7.6h-1zM239 144.59h3v7.6h-3zM244 144.59h1v7.6h-1zM251 144.59h1v7.6h-1zM254 144.59h1v7.6h-1zM260 144.59h1v7.6h-1zM267 144.59h1v7.6h-1zM271 144.59h1v7.6h-1zM284 144.59h1v7.6h-1zM358 144.59h2v7.6h-2zM366 144.59h1v7.6h-1zM369 144.59h1v7.6h-1zM372 144.59h2v7.6h-2zM377 144.59h1v7.6h-1zM464 144.59h2v7.6h-2zM471 144.59h1v7.6h-1zM478 144.59h1v7.6h-1zM216 152.13h2v7.6h-2zM220 152.13h1v7.6h-1zM225 152.13h1v7.6h-1zM232 152.13h1v7.6h-1zM234 152.13h2v7.6h-2zM245 152.13h1v7.6h-1zM249 152.13h1v7.6h-1zM251 152.13h1v7.6h-1zM255 152.13h1v7.6h-1zM260 152.13h2v7.6h-2zM263 152.13h2v7.6h-2zM280 152.13h2v7.6h-2zM284 152.13h1v7.6h-1zM303 152.13h1v7.6h-1zM306 152.13h1v7.6h-1zM346 152.13h1v7.6h-1zM377 152.13h1v7.6h-1zM397 152.13h1v7.6h-1zM399 152.13h1v7.6h-1zM402 152.13h1v7.6h-1zM416 152.13h1v7.6h-1zM418 152.13h1v7.6h-1zM427 152.13h1v7.6h-1zM433 152.13h1v7.6h-1zM463 152.13h1v7.6h-1zM465 152.13h1v7.6h-1zM474 152.13h1v7.6h-1zM240 159.66h1v7.6h-1zM242 159.66h1v7.6h-1zM259 159.66h1v7.6h-1zM288 159.66h1v7.6h-1zM295 159.66h1v7.6h-1zM297 159.66h2v7.6h-2zM305 159.66h1v7.6h-1zM307 159.66h1v7.6h-1zM311 159.66h1v7.6h-1zM320 159.66h1v7.6h-1zM326 159.66h1v7.6h-1zM333 159.66h1v7.6h-1zM336 159.66h1v7.6h-1zM342 159.66h1v7.6h-1zM349 159.66h1v7.6h-1zM351 159.66h1v7.6h-1zM357 159.66h1v7.6h-1zM360 159.66h1v7.6h-1zM373 159.66h1v7.6h-1zM375 159.66h1v7.6h-1zM379 159.66h1v7.6h-1zM382 159.66h1v7.6h-1zM384 159.66h1v7.6h-1zM390 159.66h1v7.6h-1zM393 159.66h1v7.6h-1zM400 159.66h1v7.6h-1zM402 159.66h1v7.6h-1zM410 159.66h1v7.6h-1zM423 159.66h1v7.6h-1zM428 159.66h1v7.6h-1zM269 167.19h1v7.6h-1zM287 167.19h1v7.6h-1zM292 167.19h3v7.6h-3zM297 167.19h2v7.6h-2zM302 167.19h1v7.6h-1zM311 167.19h1v7.6h-1zM313 167.19h1v7.6h-1zM316 167.19h2v7.6h-2zM319 167.19h1v7.6h-1zM349 167.19h1v7.6h-1zM351 167.19h1v7.6h-1zM357 167.19h1v7.6h-1zM360 167.19h1v7.6h-1zM363 167.19h1v7.6h-1zM366 167.19h2v7.6h-2zM372 167.19h2v7.6h-2zM379 167.19h1v7.6h-1zM386 167.19h1v7.6h-1zM390 167.19h1v7.6h-1zM393 167.19h2v7.6h-2zM430 167.19h1v7.6h-1zM464 167.19h2v7.6h-2zM469 167.19h1v7.6h-1zM472 167.19h1v7.6h-1zM478 167.19h1v7.6h-1zM287 174.73h1v7.6h-1zM293 174.73h1v7.6h-1zM297 174.73h1v7.6h-1zM299 174.73h1v7.6h-1zM305 174.73h1v7.6h-1zM319 174.73h1v7.6h-1zM328 174.73h1v7.6h-1zM332 174.73h2v7.6h-2zM342 174.73h2v7.6h-2zM345 174.73h1v7.6h-1zM354 174.73h2v7.6h-2zM358 174.73h1v7.6h-1zM369 174.73h1v7.6h-1zM372 174.73h1v7.6h-1zM377 174.73h1v7.6h-1zM384 174.73h1v7.6h-1zM388 174.73h1v7.6h-1zM398 174.73h1v7.6h-1zM403 174.73h1v7.6h-1zM406 174.73h1v7.6h-1zM416 174.73h1v7.6h-1zM419 174.73h1v7.6h-1zM433 174.73h1v7.6h-1zM468 174.73h3v7.6h-3zM476 174.73h1v7.6h-1zM479 174.73h1v7.6h-1zM218 182.26h3v7.6h-3zM223 182.26h3v7.6h-3zM229 182.26h1v7.6h-1zM232 182.26h1v7.6h-1zM238 182.26h1v7.6h-1zM251 182.26h1v7.6h-1zM254 182.26h1v7.6h-1zM270 182.26h1v7.6h-1zM279 182.26h1v7.6h-1zM281 182.26h1v7.6h-1zM296 182.26h1v7.6h-1zM300 182.26h1v7.6h-1zM346 182.26h1v7.6h-1zM353 182.26h1v7.6h-1zM368 182.26h1v7.6h-1zM394 182.26h2v7.6h-2zM406 182.26h1v7.6h-1zM421 182.26h1v7.6h-1zM424 182.26h1v7.6h-1zM427 182.26h1v7.6h-1zM433 182.26h1v7.6h-1zM465 182.26h1v7.6h-1zM470 182.26h1v7.6h-1zM477 182.26h1v7.6h-1zM479 182.26h1v7.6h-1zM247 197.33h1v7.6h-1zM277 197.33h1v7.6h-1zM287 197.33h2v7.6h-2zM291 197.33h1v7.6h-1zM302 197.33h1v7.6h-1zM307 197.33h3v7.6h-3zM311 197.33h1v7.6h-1zM319 197.33h1v7.6h-1zM323 197.33h1v7.6h-1zM332 197.33h1v7.6h-1zM334 197.33h1v7.6h-1zM340 197.33h1v7.6h-1zM342 197.33h1v7.6h-1zM383 197.33h1v7.6h-1zM274 204.86h1v7.6h-1zM278 204.86h1v7.6h-1zM288 204.86h1v7.6h-1zM302 204.86h1v7.6h-1zM307 204.86h1v7.6h-1zM311 204.86h1v7.6h-1zM313 204.86h1v7.6h-1zM332 204.86h1v7.6h-1zM340 204.86h1v7.6h-1zM373 204.86h1v7.6h-1zM396 204.86h1v7.6h-1zM412 204.86h1v7.6h-1zM417 204.86h1v7.6h-1zM431 204.86h1v7.6h-1zM243 212.39h1v7.6h-1zM292 212.39h1v7.6h-1zM294 212.39h1v7.6h-1zM302 212.39h1v7.6h-1zM305 212.39h1v7.6h-1zM311 212.39h1v7.6h-1zM317 212.39h1v7.6h-1zM320 212.39h1v7.6h-1zM326 212.39h1v7.6h-1zM344 212.39h1v7.6h-1zM354 212.39h1v7.6h-1zM371 212.39h1v7.6h-1zM396 212.39h1v7.6h-1zM428 212.39h1v7.6h-1zM430 212.39h1v7.6h-1zM432 212.39h1v7.6h-1zM252 219.93h1v7.6h-1zM259 219.93h1v7.6h-1zM272 219.93h1v7.6h-1zM313 219.93h1v7.6h-1zM320 219.93h1v7.6h-1zM332 219.93h1v7.6h-1zM337 219.93h1v7.6h-1zM339 219.93h2v7.6h-2zM356 219.93h1v7.6h-1zM423 219.93h1v7.6h-1zM258 227.46h1v7.6h-1zM287 227.46h2v7.6h-2zM297 227.46h1v7.6h-1zM307 227.46h1v7.6h-1zM311 227.46h1v7.6h-1zM316 227.46h1v7.6h-1zM320 227.46h1v7.6h-1zM328 227.46h1v7.6h-1zM331 227.46h1v7.6h-1zM334 227.46h1v7.6h-1zM342 227.46h1v7.6h-1zM389 227.46h1v7.6h-1zM411 227.46h2v7.6h-2zM417 227.46h1v7.6h-1zM423 227.46h1v7.6h-1zM430 227.46h1v7.6h-1zM474 227.46h1v7.6h-1zM478 227.46h1v7.6h-1zM230 234.99h1v7.6h-1zM295 234.99h1v7.6h-1zM299 234.99h1v7.6h-1zM302 234.99h1v7.6h-1zM307 234.99h1v7.6h-1zM311 234.99h1v7.6h-1zM313 234.99h1v7.6h-1zM320 234.99h1v7.6h-1zM326 234.99h1v7.6h-1zM331 234.99h1v7.6h-1zM339 234.99h1v7.6h-1zM341 234.99h1v7.6h-1zM343 234.99h2v7.6h-2zM377 234.99h1v7.6h-1zM396 234.99h1v7.6h-1zM470 234.99h1v7.6h-1zM475 234.99h2v7.6h-2zM478 234.99h1v7.6h-1zM222 242.52h1v7.6h-1zM262 242.52h1v7.6h-1zM272 242.52h3v7.6h-3zM296 242.52h1v7.6h-1zM318 242.52h1v7.6h-1zM322 242.52h1v7.6h-1zM327 242.52h1v7.6h-1zM354 242.52h1v7.6h-1zM381 242.52h1v7.6h-1zM405 242.52h1v7.6h-1zM409 242.52h1v7.6h-1zM413 242.52h1v7.6h-1zM415 242.52h1v7.6h-1zM442 242.52h1v7.6h-1zM467 242.52h1v7.6h-1zM478 242.52h1v7.6h-1zM492 242.52h1v7.6h-1zM243 250.06h1v7.6h-1zM246 250.06h1v7.6h-1zM268 250.06h1v7.6h-1zM278 250.06h1v7.6h-1zM307 250.06h1v7.6h-1zM309 250.06h1v7.6h-1zM364 250.06h1v7.6h-1zM395 250.06h1v7.6h-1zM398 250.06h1v7.6h-1zM406 250.06h1v7.6h-1zM414 250.06h1v7.6h-1zM427 250.06h1v7.6h-1zM433 250.06h1v7.6h-1zM450 250.06h1v7.6h-1zM325 257.59h1v7.6h-1zM335 257.59h1v7.6h-1zM389 257.59h1v7.6h-1zM394 257.59h1v7.6h-1zM400 257.59h1v7.6h-1zM402 257.59h1v7.6h-1zM406 257.59h1v7.6h-1zM425 257.59h1v7.6h-1zM450 257.59h1v7.6h-1zM462 257.59h1v7.6h-1zM465 257.59h1v7.6h-1zM472 257.59h2v7.6h-2zM479 257.59h1v7.6h-1zM233 295.26h1v7.6h-1zM257 295.26h1v7.6h-1zM294 295.26h2v7.6h-2zM321 295.26h1v7.6h-1zM340 295.26h1v7.6h-1zM343 295.26h1v7.6h-1zM356 295.26h1v7.6h-1zM382 295.26h1v7.6h-1z"/>
<path fill="#441122" d="M277 54.2h1v7.6h-1zM445 61.73h1v7.6h-1zM324 144.59h1v7.6h-1zM441 144.59h1v7.6h-1zM246 212.39h1v7.6h-1zM437 219.93h1v7.6h-1zM232 234.99h1v7.6h-1zM310 257.59h1v7.6h-1zM336 257.59h1v7.6h-1zM451 257.59h1v7.6h-1zM249 295.26h1v7.6h-1zM308 295.26h1v7.6h-1zM330 295.26h1v7.6h-1zM394 295.26h1v7.6h-1z"/>
<path fill="#441133" d="M398 39.13h1v7.6h-1zM492 91.86h1v7.6h-1zM401 106.93h1v7.6h-1zM403 106.93h1v7.6h-1zM443 106.93h2v7.6h-2zM457 106.93h1v7.6h-1zM251 114.46h1v7.6h-1zM294 144.59h1v7.6h-1zM418 144.59h1v7.6h-1zM447 144.59h1v7.6h-1zM341 152.13h1v7.6h-1zM364 152.13h1v7.6h-1zM388 152.13h1v7.6h-1zM231 159.66h1v7.6h-1zM234 159.66h1v7.6h-1zM269 159.66h1v7.6h-1zM246 167.19h1v7.6h-1zM236 197.33h1v7.6h-1zM266 197.33h1v7.6h-1zM278 197.33h1v7.6h-1zM365 197.33h1v7.6h-1zM406 197.33h1v7.6h-1zM492 197.33h1v7.6h-1zM229 204.86h1v7.6h-1zM250 204.86h1v7.6h-1zM365 204.86h1v7.6h-1zM263 212.39h1v7.6h-1zM373 212.39h1v7.6h-1zM377 212.39h1v7.6h-1zM460 212.39h1v7.6h-1zM225 219.93h1v7.6h-1zM230 219.93h1v7.6h-1zM355 219.93h1v7.6h-1zM389 219.93h1v7.6h-1zM245 227.46h1v7.6h-1zM284 227.46h1v7.6h-1zM366 227.46h1v7.6h-1zM377 227.46h1v7.6h-1zM387 227.46h1v7.6h-1zM245 234.99h1v7.6h-1zM351 234.99h1v7.6h-1zM220 250.06h1v7.6h-1zM227 250.06h1v7.6h-1zM233 250.06h1v7.6h-1zM305 250.06h1v7.6h-1zM366 250.06h1v7.6h-1zM376 250.06h1v7.6h-1zM390 250.06h1v7.6h-1zM369 257.59h1v7.6h-1zM439 257.59h1v7.6h-1zM235 287.72h1v7.6h-1zM322 287.72h2v7.6h-2zM383 287.72h1v7.6h-1zM402 287.72h1v7.6h-1zM221 295.26h1v7.6h-1zM235 295.26h1v7.6h-1zM245 295.26h1v7.6h-1zM248 295.26h1v7.6h-1zM319 295.26h1v7.6h-1zM344 295.26h1v7.6h-1zM357 295.26h1v7.6h-1zM363 295.26h1v7.6h-1zM380 295.26h1v7.6h-1zM385 295.26h1v7.6h-1zM390 295.26h1v7.6h-1zM395 295.26h1v7.6h-1zM407 295.26h1v7.6h-1zM422 295.26h1v7.6h-1z"/>
<path fill="#441144" d="M384 152.13h1v7.6h-1zM245 197.33h1v7.6h-1zM230 204.86h1v7.6h-1zM273 204.86h1v7.6h-1zM350 212.39h1v7.6h-1zM366 219.93h1v7.6h-1zM355 227.46h1v7.6h-1zM256 250.06h1v7.6h-1zM262 250.06h1v7.6h-1zM371 250.06h1v7.6h-1zM448 257.59h1v7.6h-1zM250 287.72h1v7.6h-1zM325 287.72h1v7.6h-1zM355 295.26h1v7.6h-1zM421 295.26h1v7.6h-1z"/>
<path fill="#442211" d="M308 144.59h1v7.6h-1zM411 197.33h1v7.6h-1zM219 234.99h1v7.6h-1zM262 287.72h1v7.6h-1zM457 295.26h1v7.6h-1z"/>
<path fill="#442222" d="M402 39.13h1v7.6h-1zM413 39.13h1v7.6h-1zM416 39.13h1v7.6h-1zM440 39.13h1v7.6h-1zM447 46.67h2v7.6h-2zM459 46.67h1v7.6h-1zM241 54.2h1v7.6h-1zM445 54.2h1v7.6h-1zM393 106.93h1v7.6h-1zM451 106.93h1v7.6h-1zM304 144.59h1v7.6h-1zM358 152.13h1v7.6h-1zM360 152.13h1v7.6h-1zM228 159.66h1v7.6h-1zM244 159.66h1v7.6h-1zM491 159.66h1v7.6h-1zM243 167.19h1v7.6h-1zM232 197.33h1v7.6h-1zM268 197.33h1v7.6h-1zM373 197.33h1v7.6h-1zM393 197.33h1v7.6h-1zM408 197.33h1v7.6h-1zM218 204.86h1v7.6h-1zM366 204.86h1v7.6h-1zM382 204.86h1v7.6h-1zM232 212.39h1v7.6h-1zM235 212.39h1v7.6h-1zM259 212.39h1v7.6h-1zM390 212.39h1v7.6h-1zM352 219.93h1v7.6h-1zM219 227.46h1v7.6h-1zM363 227.46h1v7.6h-1zM236 234.99h1v7.6h-1zM255 234.99h1v7.6h-1zM384 234.99h1v7.6h-1zM485 242.52h1v7.6h-1zM487 242.52h1v7.6h-1zM270 250.06h1v7.6h-1zM276 250.06h1v7.6h-1zM369 250.06h1v7.6h-1zM449 250.06h1v7.6h-1zM452 250.06h1v7.6h-1zM455 250.06h1v7.6h-1zM320 257.59h1v7.6h-1zM338 257.59h1v7.6h-1zM341 257.59h1v7.6h-1zM386 257.59h1v7.6h-1zM449 257.59h1v7.6h-1zM275 287.72h1v7.6h-1zM317 287.72h1v7.6h-1zM330 287.72h1v7.6h-1zM376 287.72h2v7.6h-2zM428 287.72h1v7.6h-1zM328 295.26h1v7.6h-1zM408 295.26h1v7.6h-1zM441 295.26h1v7.6h-1zM492 295.26h1v7.6h-1z"/>
<path fill="#442233" d="M415 144.59h1v7.6h-1zM359 204.86h1v7.6h-1zM389 204.86h1v7.6h-1zM244 212.39h1v7.6h-1zM254 227.46h1v7.6h-1zM258 250.06h1v7.6h-1zM373 250.06h1v7.6h-1zM334 257.59h1v7.6h-1zM306 287.72h1v7.6h-1zM424 287.72h1v7.6h-1zM455 287.72h1v7.6h-1z"/>
<path fill="#443300" d="M450 46.67h1v7.6h-1zM341 69.27h1v7.6h-1zM314 84.33h1v7.6h-1zM387 152.13h1v7.6h-1zM491 152.13h1v7.6h-1zM249 197.33h1v7.6h-1zM493 204.86h1v7.6h-1zM247 227.46h1v7.6h-1zM287 250.06h1v7.6h-1zM307 257.59h1v7.6h-1zM362 257.59h1v7.6h-1zM360 287.72h1v7.6h-1z"/>
<path fill="#443311" d="M418 31.6h1v7.6h-1zM441 31.6h2v7.6h-2zM246 54.2h1v7.6h-1zM275 54.2h1v7.6h-1zM457 54.2h1v7.6h-1zM491 76.8h1v7.6h-1zM448 106.93h1v7.6h-1zM491 122h1v7.6h-1zM411 144.59h1v7.6h-1zM436 144.59h1v7.6h-1zM459 144.59h1v7.6h-1zM294 152.13h2v7.6h-2zM327 152.13h1v7.6h-1zM335 152.13h1v7.6h-1zM386 152.13h1v7.6h-1zM257 167.19h1v7.6h-1zM268 167.19h1v7.6h-1zM243 189.79h1v7.6h-1zM248 189.79h1v7.6h-1zM280 189.79h1v7.6h-1zM340 189.79h1v7.6h-1zM343 189.79h1v7.6h-1zM383 189.79h1v7.6h-1zM238 197.33h1v7.6h-1zM349 197.33h1v7.6h-1zM363 197.33h1v7.6h-1zM370 197.33h1v7.6h-1zM401 197.33h1v7.6h-1zM449 197.33h1v7.6h-1zM252 204.86h1v7.6h-1zM266 204.86h1v7.6h-1zM270 204.86h1v7.6h-1zM352 204.86h1v7.6h-1zM354 204.86h1v7.6h-1zM388 204.86h1v7.6h-1zM390 204.86h1v7.6h-1zM439 204.86h1v7.6h-1zM219 212.39h1v7.6h-1zM444 212.39h1v7.6h-1zM216 219.93h1v7.6h-1zM221 219.93h1v7.6h-1zM245 219.93h1v7.6h-1zM280 219.93h1v7.6h-1zM237 227.46h1v7.6h-1zM248 227.46h1v7.6h-1zM279 227.46h1v7.6h-1zM370 227.46h1v7.6h-1zM384 227.46h1v7.6h-1zM263 234.99h1v7.6h-1zM270 234.99h1v7.6h-1zM359 234.99h1v7.6h-1zM221 250.06h1v7.6h-1zM223 250.06h1v7.6h-1zM238 250.06h1v7.6h-1zM313 250.06h1v7.6h-1zM370 250.06h1v7.6h-1zM453 250.06h1v7.6h-1zM291 257.59h1v7.6h-1zM299 257.59h1v7.6h-1zM311 257.59h1v7.6h-1zM356 257.59h1v7.6h-1zM447 257.59h1v7.6h-1zM455 257.59h1v7.6h-1zM492 265.12h1v7.6h-1zM442 280.19h1v7.6h-1zM363 287.72h1v7.6h-1zM393 287.72h1v7.6h-1zM426 287.72h1v7.6h-1zM217 295.26h1v7.6h-1zM272 295.26h1v7.6h-1zM290 295.26h1v7.6h-1zM349 295.26h1v7.6h-1z"/>
<path fill="#443322" d="M417 39.13h1v7.6h-1zM265 204.86h1v7.6h-1zM267 204.86h1v7.6h-1zM375 212.39h1v7.6h-1zM242 227.46h1v7.6h-1zM293 250.06h1v7.6h-1zM310 250.06h1v7.6h-1zM338 287.72h1v7.6h-1zM279 295.26h1v7.6h-1zM299 295.26h1v7.6h-1z"/>
<path fill="#444400" d="M253 31.6h1v7.6h-1zM424 31.6h1v7.6h-1zM448 31.6h1v7.6h-1zM283 39.13h1v7.6h-1zM437 39.13h1v7.6h-1zM451 39.13h1v7.6h-1zM493 39.13h1v7.6h-1zM228 46.67h1v7.6h-1zM236 46.67h1v7.6h-1zM241 46.67h1v7.6h-1zM250 46.67h1v7.6h-1zM253 46.67h1v7.6h-1zM262 46.67h1v7.6h-1zM272 46.67h2v7.6h-2zM275 46.67h1v7.6h-1zM256 54.2h1v7.6h-1zM447 54.2h1v7.6h-1zM228 61.73h1v7.6h-1zM240 61.73h1v7.6h-1zM253 61.73h1v7.6h-1zM256 61.73h1v7.6h-1zM277 61.73h1v7.6h-1zM282 61.73h1v7.6h-1zM491 61.73h1v7.6h-1zM249 69.27h1v7.6h-1zM294 69.27h1v7.6h-1zM298 69.27h1v7.6h-1zM304 69.27h2v7.6h-2zM312 69.27h1v7.6h-1zM315 69.27h2v7.6h-2zM335 69.27h1v7.6h-1zM351 69.27h1v7.6h-1zM356 69.27h2v7.6h-2zM360 69.27h1v7.6h-1zM369 69.27h1v7.6h-1zM374 69.27h1v7.6h-1zM379 69.27h2v7.6h-2zM384 69.27h1v7.6h-1zM386 69.27h1v7.6h-1zM390 69.27h1v7.6h-1zM290 76.8h2v7.6h-2zM294 76.8h2v7.6h-2zM302 76.8h1v7.6h-1zM305 76.8h1v7.6h-1zM308 76.8h1v7.6h-1zM312 76.8h1v7.6h-1zM317 76.8h1v7.6h-1zM321 76.8h1v7.6h-1zM325 76.8h1v7.6h-1zM334 76.8h1v7.6h-1zM336 76.8h1v7.6h-1zM339 76.8h2v7.6h-2zM343 76.8h1v7.6h-1zM355 76.8h1v7.6h-1zM360 76.8h1v7.6h-1zM363 76.8h1v7.6h-1zM367 76.8h1v7.6h-1zM379 76.8h1v7.6h-1zM384 76.8h1v7.6h-1zM389 76.8h2v7.6h-2zM291 84.33h1v7.6h-1zM310 84.33h2v7.6h-2zM324 84.33h1v7.6h-1zM330 84.33h1v7.6h-1zM333 84.33h2v7.6h-2zM340 84.33h2v7.6h-2zM343 84.33h1v7.6h-1zM350 84.33h1v7.6h-1zM355 84.33h2v7.6h-2zM360 84.33h1v7.6h-1zM365 84.33h1v7.6h-1zM373 84.33h1v7.6h-1zM378 84.33h1v7.6h-1zM384 84.33h1v7.6h-1zM288 91.86h1v7.6h-1zM290 91.86h2v7.6h-2zM297 91.86h3v7.6h-3zM311 91.86h3v7.6h-3zM319 91.86h2v7.6h-2zM331 91.86h1v7.6h-1zM342 91.86h1v7.6h-1zM345 91.86h1v7.6h-1zM349 91.86h1v7.6h-1zM356 91.86h1v7.6h-1zM360 91.86h1v7.6h-1zM363 91.86h1v7.6h-1zM370 91.86h1v7.6h-1zM373 91.86h2v7.6h-2zM380 91.86h1v7.6h-1zM384 91.86h1v7.6h-1zM387 91.86h3v7.6h-3zM289 99.4h2v7.6h-2zM305 99.4h1v7.6h-1zM309 99.4h1v7.6h-1zM311 99.4h2v7.6h-2zM328 99.4h1v7.6h-1zM332 99.4h3v7.6h-3zM337 99.4h1v7.6h-1zM340 99.4h2v7.6h-2zM349 99.4h1v7.6h-1zM351 99.4h1v7.6h-1zM357 99.4h1v7.6h-1zM369 99.4h1v7.6h-1zM373 99.4h3v7.6h-3zM379 99.4h1v7.6h-1zM382 99.4h1v7.6h-1zM384 99.4h1v7.6h-1zM389 99.4h1v7.6h-1zM312 106.93h1v7.6h-1zM314 106.93h1v7.6h-1zM318 106.93h1v7.6h-1zM350 106.93h1v7.6h-1zM355 106.93h1v7.6h-1zM361 106.93h1v7.6h-1zM364 106.93h1v7.6h-1zM378 106.93h2v7.6h-2zM388 106.93h1v7.6h-1zM435 106.93h1v7.6h-1zM481 106.93h1v7.6h-1zM483 106.93h1v7.6h-1zM404 122h1v7.6h-1zM413 122h1v7.6h-1zM471 122h1v7.6h-1zM486 129.53h3v7.6h-3zM490 129.53h1v7.6h-1zM471 137.06h1v7.6h-1zM486 137.06h1v7.6h-1zM489 137.06h1v7.6h-1zM433 144.59h1v7.6h-1zM443 144.59h1v7.6h-1zM453 144.59h1v7.6h-1zM312 152.13h1v7.6h-1zM457 152.13h2v7.6h-2zM460 152.13h1v7.6h-1zM225 159.66h1v7.6h-1zM239 159.66h1v7.6h-1zM263 159.66h1v7.6h-1zM281 159.66h1v7.6h-1zM440 159.66h1v7.6h-1zM458 159.66h1v7.6h-1zM217 167.19h1v7.6h-1zM219 167.19h1v7.6h-1zM222 167.19h1v7.6h-1zM231 167.19h1v7.6h-1zM248 167.19h1v7.6h-1zM457 167.19h1v7.6h-1zM269 174.73h1v7.6h-1zM278 174.73h1v7.6h-1zM283 174.73h1v7.6h-1zM442 174.73h1v7.6h-1zM458 174.73h1v7.6h-1zM362 182.26h1v7.6h-1zM442 182.26h1v7.6h-1zM456 182.26h1v7.6h-1zM244 197.33h1v7.6h-1zM423 197.33h1v7.6h-1zM238 204.86h1v7.6h-1zM448 204.86h1v7.6h-1zM220 212.39h1v7.6h-1zM249 212.39h1v7.6h-1zM370 212.39h1v7.6h-1zM448 212.39h1v7.6h-1zM234 219.93h1v7.6h-1zM378 219.93h1v7.6h-1zM444 219.93h1v7.6h-1zM447 219.93h1v7.6h-1zM455 219.93h1v7.6h-1zM471 219.93h1v7.6h-1zM238 227.46h1v7.6h-1zM266 227.46h1v7.6h-1zM280 227.46h1v7.6h-1zM352 227.46h1v7.6h-1zM357 227.46h1v7.6h-1zM441 227.46h2v7.6h-2zM456 227.46h1v7.6h-1zM460 227.46h1v7.6h-1zM473 227.46h1v7.6h-1zM237 234.99h1v7.6h-1zM265 234.99h1v7.6h-1zM387 234.99h1v7.6h-1zM440 234.99h1v7.6h-1zM454 234.99h1v7.6h-1zM457 234.99h1v7.6h-1zM396 242.52h1v7.6h-1zM218 250.06h1v7.6h-1zM280 250.06h1v7.6h-1zM333 250.06h1v7.6h-1zM344 250.06h1v7.6h-1zM362 250.06h1v7.6h-1zM474 250.06h1v7.6h-1zM221 257.59h1v7.6h-1zM226 257.59h1v7.6h-1zM229 257.59h1v7.6h-1zM233 257.59h1v7.6h-1zM247 257.59h1v7.6h-1zM250 257.59h1v7.6h-1zM259 257.59h1v7.6h-1zM262 257.59h1v7.6h-1zM269 257.59h1v7.6h-1zM273 257.59h2v7.6h-2zM278 257.59h1v7.6h-1zM350 257.59h1v7.6h-1zM249 287.72h1v7.6h-1zM252 287.72h1v7.6h-1zM301 287.72h1v7.6h-1zM308 287.72h1v7.6h-1zM345 287.72h1v7.6h-1zM352 287.72h1v7.6h-1zM384 287.72h1v7.6h-1zM417 287.72h1v7.6h-1zM471 287.72h1v7.6h-1zM481 287.72h2v7.6h-2zM220 295.26h1v7.6h-1zM280 295.26h1v7.6h-1zM307 295.26h1v7.6h-1zM387 295.26h1v7.6h-1zM393 295.26h1v7.6h-1zM411 295.26h1v7.6h-1zM416 295.26h1v7.6h-1zM449 295.26h1v7.6h-1zM455 295.26h1v7.6h-1z"/>
<path fill="#444411" d="M420 31.6h1v7.6h-1zM448 39.13h1v7.6h-1zM459 39.13h1v7.6h-1zM491 84.33h1v7.6h-1zM276 159.66h1v7.6h-1zM284 159.66h1v7.6h-1zM491 182.26h1v7.6h-1zM263 219.93h1v7.6h-1zM468 227.46h1v7.6h-1zM359 257.59h1v7.6h-1zM220 287.72h1v7.6h-1zM238 287.72h1v7.6h-1zM324 287.72h1v7.6h-1zM355 287.72h1v7.6h-1zM401 287.72h1v7.6h-1zM287 295.26h1v7.6h-1z"/>
<path fill="#550044" d="M236 159.66h1v7.6h-1zM261 204.86h1v7.6h-1zM275 234.99h1v7.6h-1zM271 250.06h1v7.6h-1zM286 287.72h1v7.6h-1zM346 295.26h1v7.6h-1z"/>
<path fill="#550055" d="M287 31.6h1v7.6h-1zM295 31.6h1v7.6h-1zM302 31.6h1v7.6h-1zM305 31.6h1v7.6h-1zM311 31.6h1v7.6h-1zM313 31.6h1v7.6h-1zM319 31.6h2v7.6h-2zM325 31.6h1v7.6h-1zM331 31.6h1v7.6h-1zM333 31.6h2v7.6h-2zM339 31.6h2v7.6h-2zM342 31.6h1v7.6h-1zM352 31.6h1v7.6h-1zM359 31.6h2v7.6h-2zM375 31.6h1v7.6h-1zM379 31.6h2v7.6h-2zM382 31.6h1v7.6h-1zM384 31.6h1v7.6h-1zM399 31.6h1v7.6h-1zM456 31.6h1v7.6h-1zM302 39.13h1v7.6h-1zM307 39.13h1v7.6h-1zM312 39.13h1v7.6h-1zM320 39.13h1v7.6h-1zM325 39.13h2v7.6h-2zM328 39.13h1v7.6h-1zM334 39.13h2v7.6h-2zM339 39.13h2v7.6h-2zM351 39.13h1v7.6h-1zM356 39.13h1v7.6h-1zM370 39.13h1v7.6h-1zM373 39.13h1v7.6h-1zM375 39.13h1v7.6h-1zM379 39.13h1v7.6h-1zM384 39.13h1v7.6h-1zM474 39.13h1v7.6h-1zM289 46.67h1v7.6h-1zM296 46.67h1v7.6h-1zM300 46.67h2v7.6h-2zM309 46.67h1v7.6h-1zM315 46.67h1v7.6h-1zM329 46.67h1v7.6h-1zM346 46.67h1v7.6h-1zM350 46.67h1v7.6h-1zM354 46.67h1v7.6h-1zM358 46.67h1v7.6h-1zM364 46.67h1v7.6h-1zM369 46.67h1v7.6h-1zM371 46.67h1v7.6h-1zM383 46.67h1v7.6h-1zM401 46.67h1v7.6h-1zM403 46.67h1v7.6h-1zM410 46.67h1v7.6h-1zM417 46.67h1v7.6h-1zM420 46.67h1v7.6h-1zM484 46.67h1v7.6h-1zM304 54.2h1v7.6h-1zM306 54.2h1v7.6h-1zM318 54.2h1v7.6h-1zM321 54.2h2v7.6h-2zM324 54.2h1v7.6h-1zM341 54.2h1v7.6h-1zM354 54.2h1v7.6h-1zM358 54.2h1v7.6h-1zM361 54.2h1v7.6h-1zM364 54.2h1v7.6h-1zM376 54.2h1v7.6h-1zM385 54.2h1v7.6h-1zM388 54.2h1v7.6h-1zM394 54.2h1v7.6h-1zM401 54.2h1v7.6h-1zM414 54.2h1v7.6h-1zM416 54.2h2v7.6h-2zM420 54.2h1v7.6h-1zM423 54.2h1v7.6h-1zM427 54.2h1v7.6h-1zM430 54.2h1v7.6h-1zM442 54.2h1v7.6h-1zM474 54.2h1v7.6h-1zM486 54.2h2v7.6h-2zM490 54.2h1v7.6h-1zM290 61.73h1v7.6h-1zM293 61.73h1v7.6h-1zM299 61.73h1v7.6h-1zM304 61.73h1v7.6h-1zM306 61.73h1v7.6h-1zM309 61.73h1v7.6h-1zM321 61.73h1v7.6h-1zM334 61.73h1v7.6h-1zM337 61.73h1v7.6h-1zM343 61.73h1v7.6h-1zM351 61.73h1v7.6h-1zM356 61.73h1v7.6h-1zM361 61.73h1v7.6h-1zM366 61.73h2v7.6h-2zM372 61.73h1v7.6h-1zM378 61.73h1v7.6h-1zM386 61.73h1v7.6h-1zM401 61.73h1v7.6h-1zM406 61.73h1v7.6h-1zM414 61.73h1v7.6h-1zM416 61.73h1v7.6h-1zM420 61.73h1v7.6h-1zM423 61.73h2v7.6h-2zM426 61.73h2v7.6h-2zM433 61.73h1v7.6h-1zM460 61.73h1v7.6h-1zM453 69.27h1v7.6h-1zM217 76.8h1v7.6h-1zM219 76.8h3v7.6h-3zM225 76.8h1v7.6h-1zM236 76.8h1v7.6h-1zM242 76.8h1v7.6h-1zM248 76.8h1v7.6h-1zM252 76.8h1v7.6h-1zM267 76.8h2v7.6h-2zM271 76.8h2v7.6h-2zM275 76.8h1v7.6h-1zM284 76.8h1v7.6h-1zM405 76.8h1v7.6h-1zM409 76.8h1v7.6h-1zM436 76.8h1v7.6h-1zM444 76.8h1v7.6h-1zM448 76.8h1v7.6h-1zM450 76.8h1v7.6h-1zM454 76.8h1v7.6h-1zM492 76.8h1v7.6h-1zM277 84.33h1v7.6h-1zM393 84.33h1v7.6h-1zM420 84.33h1v7.6h-1zM423 84.33h1v7.6h-1zM428 84.33h1v7.6h-1zM430 84.33h2v7.6h-2zM458 84.33h1v7.6h-1zM462 84.33h1v7.6h-1zM474 84.33h1v7.6h-1zM227 91.86h1v7.6h-1zM240 91.86h1v7.6h-1zM256 91.86h1v7.6h-1zM282 91.86h1v7.6h-1zM398 91.86h1v7.6h-1zM401 91.86h1v7.6h-1zM410 91.86h2v7.6h-2zM432 91.86h1v7.6h-1zM436 91.86h1v7.6h-1zM446 91.86h3v7.6h-3zM452 91.86h1v7.6h-1zM455 91.86h1v7.6h-1zM227 99.4h1v7.6h-1zM250 99.4h1v7.6h-1zM397 99.4h1v7.6h-1zM405 99.4h1v7.6h-1zM409 99.4h1v7.6h-1zM413 99.4h1v7.6h-1zM422 99.4h1v7.6h-1zM429 99.4h1v7.6h-1zM436 99.4h1v7.6h-1zM439 99.4h1v7.6h-1zM441 99.4h1v7.6h-1zM454 99.4h1v7.6h-1zM458 99.4h1v7.6h-1zM237 106.93h1v7.6h-1zM397 106.93h1v7.6h-1zM228 114.46h1v7.6h-1zM246 114.46h2v7.6h-2zM262 114.46h1v7.6h-1zM273 114.46h3v7.6h-3zM277 114.46h2v7.6h-2zM297 114.46h1v7.6h-1zM304 114.46h1v7.6h-1zM308 114.46h1v7.6h-1zM311 114.46h1v7.6h-1zM316 114.46h1v7.6h-1zM321 114.46h1v7.6h-1zM325 114.46h2v7.6h-2zM331 114.46h1v7.6h-1zM333 114.46h2v7.6h-2zM336 114.46h2v7.6h-2zM339 114.46h2v7.6h-2zM342 114.46h1v7.6h-1zM344 114.46h1v7.6h-1zM347 114.46h1v7.6h-1zM349 114.46h1v7.6h-1zM351 114.46h1v7.6h-1zM363 114.46h1v7.6h-1zM373 114.46h1v7.6h-1zM377 114.46h1v7.6h-1zM384 114.46h1v7.6h-1zM387 114.46h3v7.6h-3zM233 122h1v7.6h-1zM253 122h1v7.6h-1zM259 122h1v7.6h-1zM262 122h1v7.6h-1zM269 122h1v7.6h-1zM287 122h1v7.6h-1zM289 122h1v7.6h-1zM291 122h3v7.6h-3zM302 122h1v7.6h-1zM308 122h2v7.6h-2zM312 122h1v7.6h-1zM317 122h1v7.6h-1zM323 122h2v7.6h-2zM326 122h1v7.6h-1zM331 122h1v7.6h-1zM334 122h1v7.6h-1zM336 122h1v7.6h-1zM340 122h1v7.6h-1zM349 122h2v7.6h-2zM356 122h1v7.6h-1zM359 122h2v7.6h-2zM363 122h1v7.6h-1zM369 122h2v7.6h-2zM374 122h1v7.6h-1zM377 122h1v7.6h-1zM379 122h1v7.6h-1zM386 122h1v7.6h-1zM390 122h1v7.6h-1zM457 122h1v7.6h-1zM222 129.53h1v7.6h-1zM227 129.53h1v7.6h-1zM241 129.53h1v7.6h-1zM256 129.53h1v7.6h-1zM273 129.53h1v7.6h-1zM275 129.53h1v7.6h-1zM278 129.53h1v7.6h-1zM287 129.53h2v7.6h-2zM302 129.53h1v7.6h-1zM312 129.53h1v7.6h-1zM316 129.53h2v7.6h-2zM319 129.53h1v7.6h-1zM323 129.53h2v7.6h-2zM337 129.53h1v7.6h-1zM340 129.53h1v7.6h-1zM342 129.53h1v7.6h-1zM351 129.53h1v7.6h-1zM355 129.53h5v7.6h-5zM361 129.53h1v7.6h-1zM367 129.53h1v7.6h-1zM372 129.53h1v7.6h-1zM377 129.53h3v7.6h-3zM386 129.53h1v7.6h-1zM389 129.53h1v7.6h-1zM458 129.53h1v7.6h-1zM460 129.53h1v7.6h-1zM226 137.06h2v7.6h-2zM236 137.06h1v7.6h-1zM247 137.06h1v7.6h-1zM253 137.06h1v7.6h-1zM259 137.06h1v7.6h-1zM269 137.06h1v7.6h-1zM274 137.06h1v7.6h-1zM277 137.06h1v7.6h-1zM290 137.06h2v7.6h-2zM293 137.06h2v7.6h-2zM299 137.06h1v7.6h-1zM307 137.06h1v7.6h-1zM309 137.06h1v7.6h-1zM324 137.06h3v7.6h-3zM332 137.06h1v7.6h-1zM337 137.06h2v7.6h-2zM351 137.06h1v7.6h-1zM360 137.06h1v7.6h-1zM363 137.06h3v7.6h-3zM367 137.06h1v7.6h-1zM386 137.06h1v7.6h-1zM388 137.06h2v7.6h-2zM492 137.06h1v7.6h-1zM220 144.59h2v7.6h-2zM225 144.59h1v7.6h-1zM229 144.59h2v7.6h-2zM233 144.59h1v7.6h-1zM236 144.59h1v7.6h-1zM238 144.59h1v7.6h-1zM242 144.59h2v7.6h-2zM246 144.59h1v7.6h-1zM248 144.59h1v7.6h-1zM250 144.59h1v7.6h-1zM257 144.59h2v7.6h-2zM268 144.59h1v7.6h-1zM270 144.59h1v7.6h-1zM272 144.59h1v7.6h-1zM275 144.59h1v7.6h-1zM299 144.59h1v7.6h-1zM301 144.59h1v7.6h-1zM337 144.59h1v7.6h-1zM350 144.59h1v7.6h-1zM354 144.59h1v7.6h-1zM364 144.59h1v7.6h-1zM367 144.59h1v7.6h-1zM383 144.59h1v7.6h-1zM404 144.59h1v7.6h-1zM221 152.13h2v7.6h-2zM230 152.13h2v7.6h-2zM238 152.13h1v7.6h-1zM246 152.13h1v7.6h-1zM252 152.13h1v7.6h-1zM258 152.13h1v7.6h-1zM267 152.13h2v7.6h-2zM270 152.13h3v7.6h-3zM279 152.13h1v7.6h-1zM353 152.13h2v7.6h-2zM376 152.13h1v7.6h-1zM389 152.13h1v7.6h-1zM392 152.13h1v7.6h-1zM400 152.13h1v7.6h-1zM405 152.13h1v7.6h-1zM407 152.13h1v7.6h-1zM411 152.13h1v7.6h-1zM414 152.13h1v7.6h-1zM422 152.13h1v7.6h-1zM424 152.13h1v7.6h-1zM464 152.13h1v7.6h-1zM470 152.13h1v7.6h-1zM477 152.13h2v7.6h-2zM247 159.66h1v7.6h-1zM262 159.66h1v7.6h-1zM290 159.66h1v7.6h-1zM293 159.66h2v7.6h-2zM299 159.66h1v7.6h-1zM308 159.66h1v7.6h-1zM310 159.66h1v7.6h-1zM312 159.66h1v7.6h-1zM316 159.66h2v7.6h-2zM319 159.66h1v7.6h-1zM332 159.66h1v7.6h-1zM337 159.66h1v7.6h-1zM339 159.66h2v7.6h-2zM345 159.66h1v7.6h-1zM356 159.66h1v7.6h-1zM365 159.66h3v7.6h-3zM370 159.66h1v7.6h-1zM372 159.66h1v7.6h-1zM377 159.66h1v7.6h-1zM388 159.66h2v7.6h-2zM401 159.66h1v7.6h-1zM403 159.66h1v7.6h-1zM406 159.66h1v7.6h-1zM411 159.66h1v7.6h-1zM414 159.66h1v7.6h-1zM417 159.66h1v7.6h-1zM420 159.66h1v7.6h-1zM426 159.66h1v7.6h-1zM430 159.66h1v7.6h-1zM233 167.19h1v7.6h-1zM288 167.19h1v7.6h-1zM290 167.19h2v7.6h-2zM295 167.19h1v7.6h-1zM308 167.19h1v7.6h-1zM331 167.19h3v7.6h-3zM335 167.19h3v7.6h-3zM339 167.19h2v7.6h-2zM342 167.19h1v7.6h-1zM345 167.19h1v7.6h-1zM347 167.19h1v7.6h-1zM350 167.19h1v7.6h-1zM355 167.19h1v7.6h-1zM358 167.19h1v7.6h-1zM365 167.19h1v7.6h-1zM378 167.19h1v7.6h-1zM388 167.19h1v7.6h-1zM401 167.19h3v7.6h-3zM406 167.19h1v7.6h-1zM411 167.19h1v7.6h-1zM414 167.19h1v7.6h-1zM416 167.19h1v7.6h-1zM426 167.19h2v7.6h-2zM470 167.19h2v7.6h-2zM474 167.19h2v7.6h-2zM492 167.19h1v7.6h-1zM289 174.73h3v7.6h-3zM294 174.73h1v7.6h-1zM298 174.73h1v7.6h-1zM310 174.73h1v7.6h-1zM314 174.73h2v7.6h-2zM323 174.73h3v7.6h-3zM329 174.73h1v7.6h-1zM337 174.73h2v7.6h-2zM340 174.73h2v7.6h-2zM350 174.73h1v7.6h-1zM367 174.73h1v7.6h-1zM378 174.73h1v7.6h-1zM383 174.73h1v7.6h-1zM386 174.73h1v7.6h-1zM392 174.73h1v7.6h-1zM395 174.73h1v7.6h-1zM401 174.73h1v7.6h-1zM414 174.73h1v7.6h-1zM418 174.73h1v7.6h-1zM421 174.73h1v7.6h-1zM462 174.73h1v7.6h-1zM464 174.73h1v7.6h-1zM475 174.73h1v7.6h-1zM478 174.73h1v7.6h-1zM217 182.26h1v7.6h-1zM221 182.26h1v7.6h-1zM230 182.26h2v7.6h-2zM234 182.26h1v7.6h-1zM236 182.26h1v7.6h-1zM242 182.26h1v7.6h-1zM244 182.26h1v7.6h-1zM247 182.26h4v7.6h-4zM255 182.26h1v7.6h-1zM257 182.26h1v7.6h-1zM260 182.26h1v7.6h-1zM267 182.26h1v7.6h-1zM274 182.26h1v7.6h-1zM303 182.26h1v7.6h-1zM381 182.26h1v7.6h-1zM392 182.26h1v7.6h-1zM400 182.26h1v7.6h-1zM413 182.26h1v7.6h-1zM429 182.26h1v7.6h-1zM463 182.26h1v7.6h-1zM472 182.26h2v7.6h-2zM240 197.33h1v7.6h-1zM253 197.33h1v7.6h-1zM274 197.33h1v7.6h-1zM289 197.33h1v7.6h-1zM294 197.33h1v7.6h-1zM297 197.33h3v7.6h-3zM304 197.33h2v7.6h-2zM310 197.33h1v7.6h-1zM315 197.33h3v7.6h-3zM324 197.33h1v7.6h-1zM326 197.33h1v7.6h-1zM328 197.33h1v7.6h-1zM333 197.33h1v7.6h-1zM336 197.33h1v7.6h-1zM346 197.33h1v7.6h-1zM350 197.33h1v7.6h-1zM425 197.33h1v7.6h-1zM433 197.33h1v7.6h-1zM236 204.86h1v7.6h-1zM243 204.86h1v7.6h-1zM253 204.86h1v7.6h-1zM260 204.86h1v7.6h-1zM284 204.86h1v7.6h-1zM287 204.86h1v7.6h-1zM294 204.86h1v7.6h-1zM297 204.86h2v7.6h-2zM305 204.86h1v7.6h-1zM308 204.86h1v7.6h-1zM310 204.86h1v7.6h-1zM317 204.86h1v7.6h-1zM319 204.86h2v7.6h-2zM326 204.86h1v7.6h-1zM328 204.86h1v7.6h-1zM333 204.86h2v7.6h-2zM337 204.86h1v7.6h-1zM342 204.86h2v7.6h-2zM360 204.86h1v7.6h-1zM394 204.86h1v7.6h-1zM398 204.86h1v7.6h-1zM420 204.86h1v7.6h-1zM428 204.86h1v7.6h-1zM460 204.86h1v7.6h-1zM241 212.39h1v7.6h-1zM250 212.39h1v7.6h-1zM273 212.39h1v7.6h-1zM287 212.39h2v7.6h-2zM307 212.39h1v7.6h-1zM313 212.39h1v7.6h-1zM316 212.39h1v7.6h-1zM332 212.39h2v7.6h-2zM337 212.39h1v7.6h-1zM342 212.39h1v7.6h-1zM363 212.39h1v7.6h-1zM382 212.39h1v7.6h-1zM386 212.39h1v7.6h-1zM410 212.39h1v7.6h-1zM416 212.39h2v7.6h-2zM419 212.39h1v7.6h-1zM423 212.39h1v7.6h-1zM233 219.93h1v7.6h-1zM247 219.93h1v7.6h-1zM275 219.93h1v7.6h-1zM287 219.93h2v7.6h-2zM290 219.93h2v7.6h-2zM295 219.93h1v7.6h-1zM298 219.93h2v7.6h-2zM302 219.93h1v7.6h-1zM305 219.93h1v7.6h-1zM308 219.93h1v7.6h-1zM310 219.93h3v7.6h-3zM315 219.93h1v7.6h-1zM334 219.93h3v7.6h-3zM338 219.93h1v7.6h-1zM342 219.93h2v7.6h-2zM369 219.93h1v7.6h-1zM376 219.93h2v7.6h-2zM393 219.93h1v7.6h-1zM396 219.93h1v7.6h-1zM398 219.93h1v7.6h-1zM406 219.93h1v7.6h-1zM430 219.93h1v7.6h-1zM277 227.46h1v7.6h-1zM290 227.46h1v7.6h-1zM292 227.46h2v7.6h-2zM295 227.46h1v7.6h-1zM298 227.46h1v7.6h-1zM301 227.46h2v7.6h-2zM305 227.46h1v7.6h-1zM308 227.46h1v7.6h-1zM310 227.46h1v7.6h-1zM317 227.46h1v7.6h-1zM324 227.46h1v7.6h-1zM337 227.46h1v7.6h-1zM339 227.46h1v7.6h-1zM341 227.46h1v7.6h-1zM343 227.46h1v7.6h-1zM345 227.46h2v7.6h-2zM358 227.46h1v7.6h-1zM393 227.46h1v7.6h-1zM398 227.46h1v7.6h-1zM400 227.46h2v7.6h-2zM403 227.46h1v7.6h-1zM410 227.46h1v7.6h-1zM416 227.46h1v7.6h-1zM428 227.46h1v7.6h-1zM431 227.46h1v7.6h-1zM470 227.46h1v7.6h-1zM472 227.46h1v7.6h-1zM229 234.99h1v7.6h-1zM257 234.99h1v7.6h-1zM261 234.99h1v7.6h-1zM279 234.99h1v7.6h-1zM284 234.99h1v7.6h-1zM288 234.99h2v7.6h-2zM294 234.99h1v7.6h-1zM297 234.99h2v7.6h-2zM305 234.99h1v7.6h-1zM308 234.99h2v7.6h-2zM312 234.99h1v7.6h-1zM316 234.99h1v7.6h-1zM319 234.99h1v7.6h-1zM328 234.99h1v7.6h-1zM333 234.99h1v7.6h-1zM335 234.99h1v7.6h-1zM337 234.99h1v7.6h-1zM342 234.99h1v7.6h-1zM353 234.99h1v7.6h-1zM360 234.99h1v7.6h-1zM376 234.99h1v7.6h-1zM419 234.99h1v7.6h-1zM462 234.99h1v7.6h-1zM464 234.99h1v7.6h-1zM492 234.99h1v7.6h-1zM227 242.52h1v7.6h-1zM278 242.52h1v7.6h-1zM300 242.52h1v7.6h-1zM303 242.52h1v7.6h-1zM329 242.52h1v7.6h-1zM368 242.52h1v7.6h-1zM376 242.52h1v7.6h-1zM422 242.52h1v7.6h-1zM440 242.52h1v7.6h-1zM456 242.52h1v7.6h-1zM472 242.52h1v7.6h-1zM245 250.06h1v7.6h-1zM264 250.06h1v7.6h-1zM267 250.06h1v7.6h-1zM273 250.06h1v7.6h-1zM284 250.06h1v7.6h-1zM314 250.06h1v7.6h-1zM338 250.06h1v7.6h-1zM354 250.06h1v7.6h-1zM392 250.06h1v7.6h-1zM399 250.06h2v7.6h-2zM415 250.06h1v7.6h-1zM418 250.06h1v7.6h-1zM421 250.06h1v7.6h-1zM429 250.06h1v7.6h-1zM435 250.06h1v7.6h-1zM346 257.59h1v7.6h-1zM365 257.59h1v7.6h-1zM392 257.59h1v7.6h-1zM403 257.59h2v7.6h-2zM416 257.59h1v7.6h-1zM421 257.59h1v7.6h-1zM427 257.59h1v7.6h-1zM433 257.59h1v7.6h-1zM463 257.59h1v7.6h-1zM470 257.59h1v7.6h-1zM475 257.59h1v7.6h-1zM477 257.59h1v7.6h-1zM318 287.72h1v7.6h-1zM442 287.72h1v7.6h-1zM456 287.72h1v7.6h-1zM274 295.26h1v7.6h-1zM291 295.26h1v7.6h-1zM309 295.26h1v7.6h-1zM314 295.26h1v7.6h-1zM332 295.26h1v7.6h-1zM339 295.26h1v7.6h-1zM352 295.26h1v7.6h-1zM358 295.26h1v7.6h-1zM372 295.26h1v7.6h-1zM377 295.26h1v7.6h-1zM397 295.26h1v7.6h-1zM418 295.26h1v7.6h-1z"/>
<path fill="#551133" d="M394 39.13h1v7.6h-1zM392 106.93h1v7.6h-1zM289 144.59h1v7.6h-1zM241 197.33h1v7.6h-1zM414 197.33h1v7.6h-1zM456 212.39h1v7.6h-1zM241 227.46h1v7.6h-1zM274 227.46h1v7.6h-1zM280 234.99h1v7.6h-1zM342 250.06h1v7.6h-1z"/>
<path fill="#551144" d="M402 31.6h1v7.6h-1zM406 31.6h1v7.6h-1zM414 31.6h1v7.6h-1zM414 39.13h1v7.6h-1zM458 39.13h1v7.6h-1zM227 54.2h1v7.6h-1zM395 106.93h1v7.6h-1zM406 106.93h1v7.6h-1zM442 106.93h1v7.6h-1zM327 144.59h1v7.6h-1zM229 159.66h1v7.6h-1zM278 159.66h1v7.6h-1zM258 167.19h1v7.6h-1zM273 167.19h1v7.6h-1zM278 167.19h1v7.6h-1zM231 197.33h1v7.6h-1zM267 197.33h1v7.6h-1zM377 197.33h1v7.6h-1zM400 197.33h1v7.6h-1zM442 197.33h1v7.6h-1zM241 204.86h1v7.6h-1zM257 204.86h1v7.6h-1zM262 204.86h1v7.6h-1zM283 204.86h1v7.6h-1zM369 204.86h1v7.6h-1zM492 204.86h1v7.6h-1zM239 212.39h1v7.6h-1zM269 212.39h1v7.6h-1zM272 212.39h1v7.6h-1zM351 212.39h1v7.6h-1zM258 219.93h1v7.6h-1zM373 219.93h2v7.6h-2zM386 219.93h1v7.6h-1zM250 227.46h1v7.6h-1zM354 227.46h1v7.6h-1zM361 227.46h1v7.6h-1zM372 227.46h1v7.6h-1zM223 234.99h1v7.6h-1zM235 250.06h1v7.6h-1zM261 250.06h1v7.6h-1zM315 250.06h1v7.6h-1zM317 250.06h1v7.6h-1zM294 257.59h1v7.6h-1zM300 257.59h1v7.6h-1zM360 257.59h1v7.6h-1zM363 257.59h1v7.6h-1zM379 257.59h1v7.6h-1zM388 257.59h1v7.6h-1zM243 287.72h1v7.6h-1zM247 287.72h1v7.6h-1zM406 287.72h1v7.6h-1zM255 295.26h1v7.6h-1zM259 295.26h1v7.6h-1zM327 295.26h1v7.6h-1zM347 295.26h1v7.6h-1z"/>
<path fill="#551155" d="M400 39.13h1v7.6h-1zM460 46.67h1v7.6h-1zM433 106.93h1v7.6h-1zM245 204.86h1v7.6h-1zM458 204.86h1v7.6h-1zM257 212.39h1v7.6h-1zM457 212.39h1v7.6h-1zM254 234.99h1v7.6h-1zM361 234.99h1v7.6h-1zM378 234.99h1v7.6h-1zM444 257.59h1v7.6h-1z"/>
<path fill="#552222" d="M278 54.2h1v7.6h-1zM444 61.73h1v7.6h-1zM249 204.86h1v7.6h-1zM242 212.39h1v7.6h-1zM245 212.39h1v7.6h-1zM445 219.93h1v7.6h-1zM297 257.59h1v7.6h-1zM279 287.72h1v7.6h-1zM399 287.72h1v7.6h-1z"/>
<path fill="#552233" d="M433 31.6h1v7.6h-1zM393 39.13h1v7.6h-1zM442 39.13h1v7.6h-1zM456 39.13h1v7.6h-1zM457 46.67h1v7.6h-1zM247 54.2h1v7.6h-1zM448 61.73h1v7.6h-1zM458 61.73h1v7.6h-1zM459 106.93h1v7.6h-1zM290 144.59h1v7.6h-1zM293 144.59h1v7.6h-1zM314 144.59h1v7.6h-1zM326 144.59h1v7.6h-1zM345 144.59h1v7.6h-1zM395 144.59h1v7.6h-1zM440 144.59h1v7.6h-1zM456 144.59h1v7.6h-1zM339 152.13h1v7.6h-1zM361 152.13h1v7.6h-1zM232 159.66h1v7.6h-1zM245 159.66h1v7.6h-1zM258 159.66h1v7.6h-1zM260 159.66h1v7.6h-1zM221 167.19h1v7.6h-1zM416 197.33h1v7.6h-1zM456 197.33h1v7.6h-1zM221 204.86h1v7.6h-1zM226 204.86h1v7.6h-1zM248 204.86h1v7.6h-1zM258 204.86h1v7.6h-1zM355 204.86h1v7.6h-1zM221 212.39h1v7.6h-1zM251 212.39h1v7.6h-1zM255 212.39h1v7.6h-1zM389 212.39h1v7.6h-1zM224 219.93h1v7.6h-1zM242 219.93h1v7.6h-1zM268 219.93h1v7.6h-1zM351 219.93h1v7.6h-1zM387 219.93h1v7.6h-1zM435 219.93h1v7.6h-1zM454 219.93h1v7.6h-1zM364 227.46h1v7.6h-1zM476 227.46h1v7.6h-1zM355 234.99h1v7.6h-1zM272 250.06h1v7.6h-1zM343 250.06h1v7.6h-1zM361 250.06h1v7.6h-1zM339 257.59h1v7.6h-1zM372 257.59h1v7.6h-1zM436 257.59h1v7.6h-1zM327 287.72h1v7.6h-1zM329 287.72h1v7.6h-1zM341 287.72h1v7.6h-1zM444 287.72h1v7.6h-1zM232 295.26h1v7.6h-1zM258 295.26h1v7.6h-1zM284 295.26h1v7.6h-1zM302 295.26h1v7.6h-1zM304 295.26h1v7.6h-1zM337 295.26h1v7.6h-1zM350 295.26h1v7.6h-1zM359 295.26h1v7.6h-1zM400 295.26h1v7.6h-1zM456 295.26h1v7.6h-1z"/>
<path fill="#552244" d="M429 39.13h1v7.6h-1zM493 84.33h1v7.6h-1zM354 197.33h1v7.6h-1zM221 227.46h1v7.6h-1zM228 227.46h1v7.6h-1zM264 227.46h1v7.6h-1zM220 234.99h1v7.6h-1zM239 250.06h1v7.6h-1zM255 250.06h1v7.6h-1zM256 287.72h1v7.6h-1z"/>
<path fill="#553311" d="M420 39.13h1v7.6h-1zM450 106.93h1v7.6h-1zM216 197.33h1v7.6h-1zM460 197.33h1v7.6h-1zM274 212.39h1v7.6h-1zM375 234.99h1v7.6h-1zM228 250.06h1v7.6h-1zM311 287.72h1v7.6h-1z"/>
<path fill="#553322" d="M449 31.6h1v7.6h-1zM454 31.6h1v7.6h-1zM411 39.13h2v7.6h-2zM444 39.13h1v7.6h-1zM437 46.67h1v7.6h-1zM274 54.2h1v7.6h-1zM452 54.2h1v7.6h-1zM443 61.73h1v7.6h-1zM450 61.73h1v7.6h-1zM452 61.73h1v7.6h-1zM321 144.59h1v7.6h-1zM352 152.13h1v7.6h-1zM260 167.19h1v7.6h-1zM492 182.26h1v7.6h-1zM248 197.33h1v7.6h-1zM385 197.33h1v7.6h-1zM419 197.33h1v7.6h-1zM458 197.33h1v7.6h-1zM237 204.86h1v7.6h-1zM363 204.86h1v7.6h-1zM441 204.86h1v7.6h-1zM216 212.39h1v7.6h-1zM238 212.39h1v7.6h-1zM271 212.39h1v7.6h-1zM279 212.39h1v7.6h-1zM439 212.39h1v7.6h-1zM443 212.39h1v7.6h-1zM219 219.93h1v7.6h-1zM218 227.46h1v7.6h-1zM223 227.46h1v7.6h-1zM225 227.46h1v7.6h-1zM225 234.99h1v7.6h-1zM239 234.99h1v7.6h-1zM482 242.52h1v7.6h-1zM244 250.06h1v7.6h-1zM337 250.06h1v7.6h-1zM360 250.06h1v7.6h-1zM365 250.06h1v7.6h-1zM342 257.59h1v7.6h-1zM375 257.59h1v7.6h-1zM217 287.72h1v7.6h-1zM231 287.72h1v7.6h-1zM315 287.72h1v7.6h-1zM347 287.72h1v7.6h-1zM370 287.72h1v7.6h-1zM392 287.72h1v7.6h-1zM430 287.72h1v7.6h-1zM432 287.72h1v7.6h-1zM320 295.26h1v7.6h-1zM331 295.26h1v7.6h-1zM333 295.26h1v7.6h-1zM384 295.26h1v7.6h-1zM410 295.26h1v7.6h-1zM424 295.26h1v7.6h-1z"/>
<path fill="#553333" d="M431 106.93h1v7.6h-1zM454 106.93h1v7.6h-1zM316 144.59h1v7.6h-1zM367 152.13h1v7.6h-1zM363 234.99h1v7.6h-1zM459 257.59h1v7.6h-1zM294 287.72h1v7.6h-1z"/>
<path fill="#554400" d="M231 54.2h1v7.6h-1zM448 54.2h1v7.6h-1zM375 219.93h1v7.6h-1zM452 219.93h1v7.6h-1zM260 250.06h1v7.6h-1zM328 257.59h1v7.6h-1z"/>
<path fill="#554411" d="M450 39.13h1v7.6h-1zM236 54.2h1v7.6h-1zM261 54.2h1v7.6h-1zM436 54.2h1v7.6h-1zM444 54.2h1v7.6h-1zM453 54.2h1v7.6h-1zM412 106.93h1v7.6h-1zM298 144.59h1v7.6h-1zM320 144.59h1v7.6h-1zM336 144.59h1v7.6h-1zM340 144.59h1v7.6h-1zM392 144.59h1v7.6h-1zM432 144.59h1v7.6h-1zM437 144.59h1v7.6h-1zM452 144.59h1v7.6h-1zM292 152.13h1v7.6h-1zM321 152.13h1v7.6h-1zM220 167.19h1v7.6h-1zM284 167.19h1v7.6h-1zM239 197.33h1v7.6h-1zM380 197.33h1v7.6h-1zM387 197.33h1v7.6h-1zM426 197.33h1v7.6h-1zM242 204.86h1v7.6h-1zM246 204.86h1v7.6h-1zM451 204.86h1v7.6h-1zM258 212.39h1v7.6h-1zM281 219.93h1v7.6h-1zM448 219.93h1v7.6h-1zM451 219.93h1v7.6h-1zM459 219.93h1v7.6h-1zM264 234.99h1v7.6h-1zM274 234.99h1v7.6h-1zM489 242.52h1v7.6h-1zM232 250.06h1v7.6h-1zM320 250.06h1v7.6h-1zM363 250.06h1v7.6h-1zM292 257.59h2v7.6h-2zM305 257.59h1v7.6h-1zM316 257.59h1v7.6h-1zM387 257.59h1v7.6h-1zM224 287.72h1v7.6h-1zM234 287.72h1v7.6h-1zM274 287.72h1v7.6h-1zM351 287.72h1v7.6h-1zM365 287.72h1v7.6h-1zM239 295.26h1v7.6h-1zM432 295.26h1v7.6h-1z"/>
<path fill="#554422" d="M332 152.13h1v7.6h-1zM259 167.19h1v7.6h-1zM260 197.33h1v7.6h-1zM264 204.86h1v7.6h-1zM254 219.93h1v7.6h-1zM238 234.99h1v7.6h-1zM331 250.06h1v7.6h-1zM281 295.26h1v7.6h-1z"/>
<path fill="#555500" d="M256 31.6h1v7.6h-1zM283 31.6h1v7.6h-1zM396 31.6h1v7.6h-1zM416 31.6h1v7.6h-1zM423 31.6h1v7.6h-1zM451 31.6h1v7.6h-1zM227 39.13h1v7.6h-1zM256 39.13h1v7.6h-1zM262 39.13h1v7.6h-1zM269 39.13h1v7.6h-1zM435 39.13h1v7.6h-1zM449 39.13h1v7.6h-1zM229 46.67h1v7.6h-1zM231 46.67h1v7.6h-1zM233 46.67h1v7.6h-1zM240 46.67h1v7.6h-1zM243 46.67h1v7.6h-1zM246 46.67h1v7.6h-1zM257 46.67h1v7.6h-1zM259 46.67h1v7.6h-1zM269 46.67h1v7.6h-1zM271 46.67h1v7.6h-1zM274 46.67h1v7.6h-1zM284 46.67h1v7.6h-1zM449 46.67h1v7.6h-1zM221 54.2h1v7.6h-1zM250 54.2h1v7.6h-1zM435 54.2h1v7.6h-1zM222 61.73h1v7.6h-1zM226 61.73h2v7.6h-2zM233 61.73h1v7.6h-1zM236 61.73h1v7.6h-1zM247 61.73h1v7.6h-1zM257 61.73h1v7.6h-1zM271 61.73h1v7.6h-1zM273 61.73h1v7.6h-1zM278 61.73h1v7.6h-1zM435 61.73h1v7.6h-1zM287 69.27h2v7.6h-2zM291 69.27h2v7.6h-2zM295 69.27h1v7.6h-1zM297 69.27h1v7.6h-1zM299 69.27h1v7.6h-1zM309 69.27h1v7.6h-1zM311 69.27h1v7.6h-1zM317 69.27h1v7.6h-1zM320 69.27h1v7.6h-1zM328 69.27h1v7.6h-1zM331 69.27h4v7.6h-4zM337 69.27h1v7.6h-1zM339 69.27h1v7.6h-1zM342 69.27h3v7.6h-3zM352 69.27h1v7.6h-1zM355 69.27h1v7.6h-1zM370 69.27h1v7.6h-1zM387 69.27h1v7.6h-1zM396 69.27h1v7.6h-1zM287 76.8h2v7.6h-2zM292 76.8h1v7.6h-1zM297 76.8h1v7.6h-1zM299 76.8h1v7.6h-1zM313 76.8h1v7.6h-1zM316 76.8h1v7.6h-1zM326 76.8h1v7.6h-1zM328 76.8h1v7.6h-1zM331 76.8h1v7.6h-1zM333 76.8h1v7.6h-1zM342 76.8h1v7.6h-1zM351 76.8h2v7.6h-2zM359 76.8h1v7.6h-1zM370 76.8h1v7.6h-1zM373 76.8h1v7.6h-1zM380 76.8h1v7.6h-1zM382 76.8h1v7.6h-1zM387 76.8h1v7.6h-1zM287 84.33h3v7.6h-3zM297 84.33h2v7.6h-2zM302 84.33h1v7.6h-1zM307 84.33h1v7.6h-1zM320 84.33h1v7.6h-1zM326 84.33h1v7.6h-1zM328 84.33h1v7.6h-1zM331 84.33h2v7.6h-2zM342 84.33h1v7.6h-1zM344 84.33h2v7.6h-2zM349 84.33h1v7.6h-1zM359 84.33h1v7.6h-1zM375 84.33h1v7.6h-1zM382 84.33h1v7.6h-1zM390 84.33h1v7.6h-1zM287 91.86h1v7.6h-1zM292 91.86h2v7.6h-2zM295 91.86h1v7.6h-1zM305 91.86h1v7.6h-1zM307 91.86h1v7.6h-1zM309 91.86h1v7.6h-1zM324 91.86h1v7.6h-1zM328 91.86h1v7.6h-1zM332 91.86h2v7.6h-2zM335 91.86h1v7.6h-1zM337 91.86h1v7.6h-1zM340 91.86h2v7.6h-2zM343 91.86h1v7.6h-1zM352 91.86h1v7.6h-1zM359 91.86h1v7.6h-1zM375 91.86h1v7.6h-1zM382 91.86h1v7.6h-1zM390 91.86h1v7.6h-1zM287 99.4h2v7.6h-2zM292 99.4h1v7.6h-1zM297 99.4h2v7.6h-2zM308 99.4h1v7.6h-1zM313 99.4h1v7.6h-1zM319 99.4h1v7.6h-1zM331 99.4h1v7.6h-1zM342 99.4h1v7.6h-1zM344 99.4h1v7.6h-1zM352 99.4h1v7.6h-1zM355 99.4h1v7.6h-1zM370 99.4h1v7.6h-1zM387 99.4h1v7.6h-1zM286 106.93h1v7.6h-1zM306 106.93h1v7.6h-1zM317 106.93h1v7.6h-1zM321 106.93h1v7.6h-1zM323 106.93h1v7.6h-1zM325 106.93h1v7.6h-1zM330 106.93h1v7.6h-1zM338 106.93h1v7.6h-1zM341 106.93h1v7.6h-1zM346 106.93h2v7.6h-2zM349 106.93h1v7.6h-1zM351 106.93h1v7.6h-1zM357 106.93h2v7.6h-2zM360 106.93h1v7.6h-1zM365 106.93h3v7.6h-3zM369 106.93h1v7.6h-1zM372 106.93h1v7.6h-1zM377 106.93h1v7.6h-1zM438 106.93h1v7.6h-1zM452 106.93h1v7.6h-1zM455 106.93h1v7.6h-1zM466 106.93h1v7.6h-1zM473 106.93h1v7.6h-1zM477 106.93h1v7.6h-1zM479 106.93h1v7.6h-1zM485 106.93h3v7.6h-3zM489 106.93h1v7.6h-1zM474 114.46h1v7.6h-1zM481 114.46h1v7.6h-1zM485 114.46h1v7.6h-1zM487 114.46h1v7.6h-1zM405 122h1v7.6h-1zM408 122h2v7.6h-2zM415 122h1v7.6h-1zM422 122h1v7.6h-1zM462 122h1v7.6h-1zM464 122h1v7.6h-1zM475 122h1v7.6h-1zM471 129.53h1v7.6h-1zM474 129.53h1v7.6h-1zM483 129.53h1v7.6h-1zM415 137.06h1v7.6h-1zM474 137.06h1v7.6h-1zM297 144.59h1v7.6h-1zM400 144.59h1v7.6h-1zM407 144.59h1v7.6h-1zM412 144.59h1v7.6h-1zM426 144.59h1v7.6h-1zM429 144.59h1v7.6h-1zM435 144.59h1v7.6h-1zM484 144.59h1v7.6h-1zM491 144.59h1v7.6h-1zM289 152.13h1v7.6h-1zM297 152.13h1v7.6h-1zM319 152.13h1v7.6h-1zM323 152.13h1v7.6h-1zM326 152.13h1v7.6h-1zM370 152.13h1v7.6h-1zM436 152.13h1v7.6h-1zM446 152.13h1v7.6h-1zM456 152.13h1v7.6h-1zM265 159.66h1v7.6h-1zM462 159.66h1v7.6h-1zM472 159.66h1v7.6h-1zM474 159.66h1v7.6h-1zM223 167.19h1v7.6h-1zM230 167.19h1v7.6h-1zM245 167.19h1v7.6h-1zM279 167.19h1v7.6h-1zM439 167.19h1v7.6h-1zM445 167.19h1v7.6h-1zM448 167.19h1v7.6h-1zM454 167.19h1v7.6h-1zM458 167.19h1v7.6h-1zM460 167.19h1v7.6h-1zM222 174.73h1v7.6h-1zM246 174.73h1v7.6h-1zM253 174.73h1v7.6h-1zM257 174.73h1v7.6h-1zM259 174.73h1v7.6h-1zM261 174.73h1v7.6h-1zM273 174.73h3v7.6h-3zM282 174.73h1v7.6h-1zM439 174.73h1v7.6h-1zM460 174.73h1v7.6h-1zM493 174.73h1v7.6h-1zM454 182.26h1v7.6h-1zM457 182.26h1v7.6h-1zM460 182.26h1v7.6h-1zM481 182.26h2v7.6h-2zM493 182.26h1v7.6h-1zM237 197.33h1v7.6h-1zM352 197.33h1v7.6h-1zM364 197.33h1v7.6h-1zM394 197.33h1v7.6h-1zM431 197.33h1v7.6h-1zM438 197.33h1v7.6h-1zM474 197.33h1v7.6h-1zM349 204.86h1v7.6h-1zM362 204.86h1v7.6h-1zM450 204.86h1v7.6h-1zM474 204.86h1v7.6h-1zM267 212.39h1v7.6h-1zM436 212.39h1v7.6h-1zM438 212.39h1v7.6h-1zM453 212.39h1v7.6h-1zM255 219.93h1v7.6h-1zM463 219.93h2v7.6h-2zM472 219.93h1v7.6h-1zM475 219.93h1v7.6h-1zM437 227.46h1v7.6h-1zM439 227.46h1v7.6h-1zM445 227.46h1v7.6h-1zM454 227.46h1v7.6h-1zM221 234.99h1v7.6h-1zM362 234.99h1v7.6h-1zM445 234.99h1v7.6h-1zM456 234.99h1v7.6h-1zM491 242.52h1v7.6h-1zM234 250.06h1v7.6h-1zM266 250.06h1v7.6h-1zM292 250.06h1v7.6h-1zM356 250.06h1v7.6h-1zM387 250.06h1v7.6h-1zM222 257.59h1v7.6h-1zM227 257.59h1v7.6h-1zM232 257.59h1v7.6h-1zM236 257.59h1v7.6h-1zM240 257.59h1v7.6h-1zM242 257.59h1v7.6h-1zM253 257.59h2v7.6h-2zM261 257.59h1v7.6h-1zM268 257.59h1v7.6h-1zM271 257.59h1v7.6h-1zM326 257.59h1v7.6h-1zM344 257.59h1v7.6h-1zM352 257.59h1v7.6h-1zM493 257.59h1v7.6h-1zM225 287.72h1v7.6h-1zM246 287.72h1v7.6h-1zM299 287.72h1v7.6h-1zM302 287.72h1v7.6h-1zM344 287.72h1v7.6h-1zM356 287.72h1v7.6h-1zM387 287.72h1v7.6h-1zM410 287.72h1v7.6h-1zM451 287.72h1v7.6h-1zM463 287.72h1v7.6h-1zM472 287.72h1v7.6h-1zM475 287.72h1v7.6h-1zM485 287.72h1v7.6h-1zM487 287.72h1v7.6h-1zM402 295.26h1v7.6h-1zM430 295.26h1v7.6h-1zM437 295.26h1v7.6h-1zM445 295.26h1v7.6h-1zM459 295.26h1v7.6h-1z"/>
<path fill="#555511" d="M427 31.6h1v7.6h-1zM414 144.59h1v7.6h-1zM247 167.19h1v7.6h-1zM352 212.39h1v7.6h-1zM288 257.59h1v7.6h-1zM265 287.72h1v7.6h-1zM265 295.26h1v7.6h-1zM292 295.26h1v7.6h-1z"/>
<path fill="#660055" d="M456 106.93h1v7.6h-1zM256 219.93h1v7.6h-1zM440 219.93h1v7.6h-1zM296 250.06h1v7.6h-1zM378 250.06h1v7.6h-1zM289 257.59h1v7.6h-1zM358 287.72h1v7.6h-1z"/>
<path fill="#660066" d="M288 31.6h2v7.6h-2zM291 31.6h1v7.6h-1zM293 31.6h2v7.6h-2zM298 31.6h2v7.6h-2zM304 31.6h1v7.6h-1zM308 31.6h1v7.6h-1zM323 31.6h1v7.6h-1zM335 31.6h4v7.6h-4zM341 31.6h1v7.6h-1zM343 31.6h1v7.6h-1zM345 31.6h3v7.6h-3zM350 31.6h2v7.6h-2zM363 31.6h2v7.6h-2zM369 31.6h1v7.6h-1zM374 31.6h1v7.6h-1zM386 31.6h2v7.6h-2zM389 31.6h2v7.6h-2zM395 31.6h1v7.6h-1zM413 31.6h1v7.6h-1zM288 39.13h1v7.6h-1zM290 39.13h2v7.6h-2zM293 39.13h1v7.6h-1zM295 39.13h1v7.6h-1zM301 39.13h1v7.6h-1zM304 39.13h2v7.6h-2zM308 39.13h2v7.6h-2zM311 39.13h1v7.6h-1zM313 39.13h1v7.6h-1zM315 39.13h1v7.6h-1zM319 39.13h1v7.6h-1zM323 39.13h2v7.6h-2zM333 39.13h1v7.6h-1zM337 39.13h1v7.6h-1zM341 39.13h2v7.6h-2zM345 39.13h1v7.6h-1zM350 39.13h1v7.6h-1zM355 39.13h1v7.6h-1zM357 39.13h1v7.6h-1zM359 39.13h2v7.6h-2zM377 39.13h1v7.6h-1zM386 39.13h1v7.6h-1zM388 39.13h2v7.6h-2zM404 39.13h1v7.6h-1zM421 39.13h1v7.6h-1zM471 39.13h1v7.6h-1zM306 46.67h1v7.6h-1zM376 46.67h1v7.6h-1zM385 46.67h1v7.6h-1zM398 46.67h1v7.6h-1zM406 46.67h1v7.6h-1zM419 46.67h1v7.6h-1zM423 46.67h2v7.6h-2zM427 46.67h1v7.6h-1zM433 46.67h1v7.6h-1zM445 46.67h1v7.6h-1zM296 54.2h1v7.6h-1zM301 54.2h1v7.6h-1zM309 54.2h1v7.6h-1zM312 54.2h1v7.6h-1zM314 54.2h1v7.6h-1zM325 54.2h1v7.6h-1zM371 54.2h1v7.6h-1zM392 54.2h1v7.6h-1zM402 54.2h1v7.6h-1zM406 54.2h1v7.6h-1zM411 54.2h1v7.6h-1zM426 54.2h1v7.6h-1zM428 54.2h1v7.6h-1zM431 54.2h1v7.6h-1zM481 54.2h2v7.6h-2zM485 54.2h1v7.6h-1zM296 61.73h1v7.6h-1zM300 61.73h2v7.6h-2zM314 61.73h1v7.6h-1zM318 61.73h1v7.6h-1zM322 61.73h1v7.6h-1zM327 61.73h1v7.6h-1zM329 61.73h2v7.6h-2zM347 61.73h1v7.6h-1zM369 61.73h1v7.6h-1zM377 61.73h1v7.6h-1zM383 61.73h1v7.6h-1zM385 61.73h1v7.6h-1zM395 61.73h1v7.6h-1zM400 61.73h1v7.6h-1zM402 61.73h1v7.6h-1zM407 61.73h1v7.6h-1zM421 61.73h1v7.6h-1zM438 69.27h1v7.6h-1zM228 76.8h2v7.6h-2zM233 76.8h1v7.6h-1zM243 76.8h1v7.6h-1zM247 76.8h1v7.6h-1zM250 76.8h2v7.6h-2zM257 76.8h1v7.6h-1zM259 76.8h3v7.6h-3zM274 76.8h1v7.6h-1zM404 76.8h1v7.6h-1zM441 76.8h1v7.6h-1zM460 76.8h1v7.6h-1zM283 84.33h1v7.6h-1zM400 84.33h2v7.6h-2zM410 84.33h1v7.6h-1zM416 84.33h2v7.6h-2zM456 84.33h2v7.6h-2zM463 84.33h1v7.6h-1zM283 91.86h1v7.6h-1zM394 91.86h1v7.6h-1zM412 91.86h1v7.6h-1zM416 91.86h1v7.6h-1zM423 91.86h1v7.6h-1zM426 91.86h1v7.6h-1zM428 91.86h1v7.6h-1zM430 91.86h2v7.6h-2zM437 91.86h1v7.6h-1zM444 91.86h2v7.6h-2zM450 91.86h1v7.6h-1zM445 99.4h1v7.6h-1zM456 99.4h1v7.6h-1zM460 99.4h1v7.6h-1zM217 106.93h1v7.6h-1zM220 106.93h1v7.6h-1zM232 106.93h1v7.6h-1zM255 106.93h1v7.6h-1zM266 106.93h1v7.6h-1zM280 106.93h1v7.6h-1zM402 106.93h1v7.6h-1zM407 106.93h2v7.6h-2zM425 106.93h1v7.6h-1zM427 106.93h1v7.6h-1zM222 114.46h1v7.6h-1zM226 114.46h1v7.6h-1zM250 114.46h1v7.6h-1zM253 114.46h1v7.6h-1zM256 114.46h1v7.6h-1zM289 114.46h2v7.6h-2zM293 114.46h1v7.6h-1zM295 114.46h1v7.6h-1zM299 114.46h1v7.6h-1zM305 114.46h1v7.6h-1zM309 114.46h1v7.6h-1zM317 114.46h1v7.6h-1zM323 114.46h2v7.6h-2zM328 114.46h1v7.6h-1zM330 114.46h1v7.6h-1zM335 114.46h1v7.6h-1zM343 114.46h1v7.6h-1zM345 114.46h1v7.6h-1zM350 114.46h1v7.6h-1zM355 114.46h1v7.6h-1zM357 114.46h1v7.6h-1zM360 114.46h1v7.6h-1zM365 114.46h1v7.6h-1zM367 114.46h1v7.6h-1zM378 114.46h1v7.6h-1zM277 122h1v7.6h-1zM282 122h2v7.6h-2zM290 122h1v7.6h-1zM301 122h1v7.6h-1zM304 122h1v7.6h-1zM310 122h1v7.6h-1zM321 122h1v7.6h-1zM330 122h1v7.6h-1zM333 122h1v7.6h-1zM335 122h1v7.6h-1zM339 122h1v7.6h-1zM342 122h2v7.6h-2zM347 122h1v7.6h-1zM354 122h2v7.6h-2zM357 122h2v7.6h-2zM365 122h1v7.6h-1zM367 122h1v7.6h-1zM372 122h2v7.6h-2zM388 122h2v7.6h-2zM440 122h1v7.6h-1zM456 122h1v7.6h-1zM458 122h1v7.6h-1zM253 129.53h1v7.6h-1zM282 129.53h1v7.6h-1zM289 129.53h2v7.6h-2zM294 129.53h1v7.6h-1zM299 129.53h1v7.6h-1zM304 129.53h1v7.6h-1zM308 129.53h3v7.6h-3zM318 129.53h1v7.6h-1zM321 129.53h1v7.6h-1zM333 129.53h2v7.6h-2zM339 129.53h1v7.6h-1zM343 129.53h1v7.6h-1zM345 129.53h1v7.6h-1zM364 129.53h1v7.6h-1zM366 129.53h1v7.6h-1zM369 129.53h1v7.6h-1zM388 129.53h1v7.6h-1zM256 137.06h1v7.6h-1zM286 137.06h1v7.6h-1zM301 137.06h1v7.6h-1zM310 137.06h1v7.6h-1zM323 137.06h1v7.6h-1zM333 137.06h1v7.6h-1zM336 137.06h1v7.6h-1zM339 137.06h3v7.6h-3zM345 137.06h1v7.6h-1zM347 137.06h1v7.6h-1zM350 137.06h1v7.6h-1zM354 137.06h1v7.6h-1zM358 137.06h1v7.6h-1zM369 137.06h1v7.6h-1zM377 137.06h1v7.6h-1zM379 137.06h1v7.6h-1zM442 137.06h1v7.6h-1zM226 144.59h2v7.6h-2zM247 144.59h1v7.6h-1zM259 144.59h1v7.6h-1zM261 144.59h1v7.6h-1zM273 144.59h2v7.6h-2zM279 144.59h1v7.6h-1zM306 144.59h1v7.6h-1zM329 144.59h1v7.6h-1zM353 144.59h1v7.6h-1zM361 144.59h1v7.6h-1zM371 144.59h1v7.6h-1zM378 144.59h1v7.6h-1zM409 144.59h1v7.6h-1zM474 144.59h1v7.6h-1zM229 152.13h1v7.6h-1zM236 152.13h1v7.6h-1zM240 152.13h1v7.6h-1zM242 152.13h2v7.6h-2zM247 152.13h1v7.6h-1zM254 152.13h1v7.6h-1zM257 152.13h1v7.6h-1zM269 152.13h1v7.6h-1zM275 152.13h1v7.6h-1zM278 152.13h1v7.6h-1zM408 152.13h2v7.6h-2zM413 152.13h1v7.6h-1zM415 152.13h1v7.6h-1zM425 152.13h1v7.6h-1zM429 152.13h1v7.6h-1zM471 152.13h2v7.6h-2zM475 152.13h1v7.6h-1zM217 159.66h1v7.6h-1zM273 159.66h1v7.6h-1zM289 159.66h1v7.6h-1zM291 159.66h1v7.6h-1zM302 159.66h1v7.6h-1zM304 159.66h1v7.6h-1zM309 159.66h1v7.6h-1zM314 159.66h2v7.6h-2zM323 159.66h3v7.6h-3zM327 159.66h1v7.6h-1zM329 159.66h3v7.6h-3zM334 159.66h2v7.6h-2zM341 159.66h1v7.6h-1zM343 159.66h1v7.6h-1zM346 159.66h2v7.6h-2zM350 159.66h1v7.6h-1zM355 159.66h1v7.6h-1zM358 159.66h2v7.6h-2zM361 159.66h1v7.6h-1zM363 159.66h2v7.6h-2zM369 159.66h1v7.6h-1zM378 159.66h1v7.6h-1zM383 159.66h1v7.6h-1zM386 159.66h1v7.6h-1zM392 159.66h1v7.6h-1zM395 159.66h1v7.6h-1zM398 159.66h2v7.6h-2zM408 159.66h1v7.6h-1zM415 159.66h2v7.6h-2zM421 159.66h1v7.6h-1zM424 159.66h2v7.6h-2zM427 159.66h1v7.6h-1zM256 167.19h1v7.6h-1zM286 167.19h1v7.6h-1zM289 167.19h1v7.6h-1zM301 167.19h1v7.6h-1zM305 167.19h1v7.6h-1zM309 167.19h2v7.6h-2zM312 167.19h1v7.6h-1zM314 167.19h1v7.6h-1zM321 167.19h1v7.6h-1zM324 167.19h2v7.6h-2zM330 167.19h1v7.6h-1zM334 167.19h1v7.6h-1zM341 167.19h1v7.6h-1zM343 167.19h1v7.6h-1zM346 167.19h1v7.6h-1zM361 167.19h1v7.6h-1zM383 167.19h1v7.6h-1zM398 167.19h1v7.6h-1zM400 167.19h1v7.6h-1zM421 167.19h1v7.6h-1zM424 167.19h1v7.6h-1zM433 167.19h1v7.6h-1zM304 174.73h1v7.6h-1zM309 174.73h1v7.6h-1zM312 174.73h1v7.6h-1zM327 174.73h1v7.6h-1zM334 174.73h2v7.6h-2zM339 174.73h1v7.6h-1zM347 174.73h1v7.6h-1zM361 174.73h1v7.6h-1zM364 174.73h1v7.6h-1zM371 174.73h1v7.6h-1zM385 174.73h1v7.6h-1zM390 174.73h1v7.6h-1zM399 174.73h1v7.6h-1zM402 174.73h1v7.6h-1zM407 174.73h2v7.6h-2zM413 174.73h1v7.6h-1zM424 174.73h1v7.6h-1zM427 174.73h1v7.6h-1zM463 174.73h1v7.6h-1zM465 174.73h1v7.6h-1zM467 174.73h1v7.6h-1zM471 174.73h2v7.6h-2zM233 182.26h1v7.6h-1zM235 182.26h1v7.6h-1zM241 182.26h1v7.6h-1zM243 182.26h1v7.6h-1zM246 182.26h1v7.6h-1zM258 182.26h2v7.6h-2zM271 182.26h2v7.6h-2zM275 182.26h1v7.6h-1zM397 182.26h1v7.6h-1zM404 182.26h1v7.6h-1zM409 182.26h1v7.6h-1zM415 182.26h1v7.6h-1zM418 182.26h1v7.6h-1zM462 182.26h1v7.6h-1zM467 182.26h1v7.6h-1zM475 182.26h1v7.6h-1zM478 182.26h1v7.6h-1zM227 197.33h1v7.6h-1zM243 197.33h1v7.6h-1zM269 197.33h1v7.6h-1zM290 197.33h1v7.6h-1zM295 197.33h1v7.6h-1zM314 197.33h1v7.6h-1zM335 197.33h1v7.6h-1zM337 197.33h3v7.6h-3zM343 197.33h1v7.6h-1zM345 197.33h1v7.6h-1zM347 197.33h1v7.6h-1zM357 197.33h1v7.6h-1zM360 197.33h1v7.6h-1zM392 197.33h1v7.6h-1zM418 197.33h1v7.6h-1zM424 197.33h1v7.6h-1zM235 204.86h1v7.6h-1zM244 204.86h1v7.6h-1zM259 204.86h1v7.6h-1zM289 204.86h3v7.6h-3zM293 204.86h1v7.6h-1zM295 204.86h1v7.6h-1zM299 204.86h1v7.6h-1zM323 204.86h2v7.6h-2zM329 204.86h1v7.6h-1zM331 204.86h1v7.6h-1zM339 204.86h1v7.6h-1zM345 204.86h1v7.6h-1zM347 204.86h1v7.6h-1zM358 204.86h1v7.6h-1zM393 204.86h1v7.6h-1zM401 204.86h2v7.6h-2zM406 204.86h1v7.6h-1zM410 204.86h2v7.6h-2zM414 204.86h1v7.6h-1zM419 204.86h1v7.6h-1zM427 204.86h1v7.6h-1zM289 212.39h1v7.6h-1zM291 212.39h1v7.6h-1zM295 212.39h1v7.6h-1zM306 212.39h1v7.6h-1zM308 212.39h1v7.6h-1zM310 212.39h1v7.6h-1zM319 212.39h1v7.6h-1zM321 212.39h1v7.6h-1zM325 212.39h1v7.6h-1zM331 212.39h1v7.6h-1zM335 212.39h1v7.6h-1zM339 212.39h2v7.6h-2zM343 212.39h1v7.6h-1zM345 212.39h2v7.6h-2zM361 212.39h1v7.6h-1zM376 212.39h1v7.6h-1zM388 212.39h1v7.6h-1zM392 212.39h3v7.6h-3zM401 212.39h1v7.6h-1zM412 212.39h1v7.6h-1zM414 212.39h1v7.6h-1zM426 212.39h1v7.6h-1zM250 219.93h1v7.6h-1zM277 219.93h1v7.6h-1zM289 219.93h1v7.6h-1zM293 219.93h2v7.6h-2zM304 219.93h1v7.6h-1zM306 219.93h1v7.6h-1zM309 219.93h1v7.6h-1zM316 219.93h1v7.6h-1zM327 219.93h1v7.6h-1zM331 219.93h1v7.6h-1zM341 219.93h1v7.6h-1zM394 219.93h1v7.6h-1zM410 219.93h1v7.6h-1zM412 219.93h1v7.6h-1zM416 219.93h2v7.6h-2zM420 219.93h2v7.6h-2zM426 219.93h1v7.6h-1zM431 219.93h2v7.6h-2zM439 219.93h1v7.6h-1zM458 219.93h1v7.6h-1zM460 219.93h1v7.6h-1zM226 227.46h1v7.6h-1zM257 227.46h1v7.6h-1zM259 227.46h1v7.6h-1zM289 227.46h1v7.6h-1zM299 227.46h1v7.6h-1zM304 227.46h1v7.6h-1zM309 227.46h1v7.6h-1zM315 227.46h1v7.6h-1zM321 227.46h1v7.6h-1zM323 227.46h1v7.6h-1zM325 227.46h1v7.6h-1zM330 227.46h1v7.6h-1zM333 227.46h1v7.6h-1zM338 227.46h1v7.6h-1zM340 227.46h1v7.6h-1zM369 227.46h1v7.6h-1zM371 227.46h1v7.6h-1zM383 227.46h1v7.6h-1zM388 227.46h1v7.6h-1zM394 227.46h1v7.6h-1zM402 227.46h1v7.6h-1zM406 227.46h1v7.6h-1zM418 227.46h1v7.6h-1zM420 227.46h2v7.6h-2zM426 227.46h2v7.6h-2zM262 234.99h1v7.6h-1zM290 234.99h2v7.6h-2zM301 234.99h1v7.6h-1zM304 234.99h1v7.6h-1zM310 234.99h1v7.6h-1zM314 234.99h2v7.6h-2zM317 234.99h1v7.6h-1zM321 234.99h1v7.6h-1zM323 234.99h3v7.6h-3zM327 234.99h1v7.6h-1zM330 234.99h1v7.6h-1zM334 234.99h1v7.6h-1zM336 234.99h1v7.6h-1zM338 234.99h1v7.6h-1zM345 234.99h1v7.6h-1zM347 234.99h1v7.6h-1zM357 234.99h1v7.6h-1zM366 234.99h1v7.6h-1zM383 234.99h1v7.6h-1zM393 234.99h2v7.6h-2zM412 234.99h1v7.6h-1zM417 234.99h1v7.6h-1zM423 234.99h1v7.6h-1zM428 234.99h1v7.6h-1zM431 234.99h1v7.6h-1zM471 234.99h2v7.6h-2zM277 242.52h1v7.6h-1zM282 242.52h1v7.6h-1zM353 242.52h1v7.6h-1zM471 242.52h1v7.6h-1zM474 242.52h2v7.6h-2zM222 250.06h1v7.6h-1zM226 250.06h1v7.6h-1zM290 250.06h1v7.6h-1zM303 250.06h1v7.6h-1zM318 250.06h1v7.6h-1zM358 250.06h1v7.6h-1zM372 250.06h1v7.6h-1zM397 250.06h1v7.6h-1zM408 250.06h1v7.6h-1zM413 250.06h1v7.6h-1zM422 250.06h1v7.6h-1zM424 250.06h2v7.6h-2zM436 250.06h1v7.6h-1zM456 250.06h1v7.6h-1zM303 257.59h1v7.6h-1zM312 257.59h1v7.6h-1zM330 257.59h1v7.6h-1zM395 257.59h1v7.6h-1zM407 257.59h2v7.6h-2zM414 257.59h2v7.6h-2zM418 257.59h1v7.6h-1zM422 257.59h1v7.6h-1zM454 257.59h1v7.6h-1zM458 257.59h1v7.6h-1zM478 257.59h1v7.6h-1zM277 287.72h1v7.6h-1zM353 287.72h1v7.6h-1zM369 287.72h1v7.6h-1zM405 287.72h1v7.6h-1zM418 287.72h1v7.6h-1zM422 287.72h1v7.6h-1zM227 295.26h2v7.6h-2zM242 295.26h1v7.6h-1zM273 295.26h1v7.6h-1zM293 295.26h1v7.6h-1zM297 295.26h1v7.6h-1zM300 295.26h1v7.6h-1zM317 295.26h1v7.6h-1zM322 295.26h1v7.6h-1zM325 295.26h1v7.6h-1zM336 295.26h1v7.6h-1zM345 295.26h1v7.6h-1zM367 295.26h1v7.6h-1z"/>
<path fill="#661144" d="M492 106.93h1v7.6h-1zM291 144.59h1v7.6h-1zM458 144.59h1v7.6h-1zM233 197.33h1v7.6h-1zM458 212.39h1v7.6h-1zM354 234.99h1v7.6h-1z"/>
<path fill="#661155" d="M409 31.6h1v7.6h-1zM458 31.6h1v7.6h-1zM399 39.13h1v7.6h-1zM442 61.73h1v7.6h-1zM399 106.93h1v7.6h-1zM426 106.93h1v7.6h-1zM341 144.59h1v7.6h-1zM492 144.59h1v7.6h-1zM300 152.13h1v7.6h-1zM379 152.13h1v7.6h-1zM227 167.19h1v7.6h-1zM228 197.33h1v7.6h-1zM356 197.33h1v7.6h-1zM376 197.33h1v7.6h-1zM220 204.86h1v7.6h-1zM378 204.86h1v7.6h-1zM247 212.39h1v7.6h-1zM366 212.39h1v7.6h-1zM454 212.39h1v7.6h-1zM240 219.93h1v7.6h-1zM243 219.93h1v7.6h-1zM365 219.93h1v7.6h-1zM381 219.93h1v7.6h-1zM217 227.46h1v7.6h-1zM231 227.46h1v7.6h-1zM263 227.46h1v7.6h-1zM283 234.99h1v7.6h-1zM488 242.52h1v7.6h-1zM240 250.06h1v7.6h-1zM250 250.06h1v7.6h-1zM385 250.06h1v7.6h-1zM318 257.59h1v7.6h-1zM323 257.59h2v7.6h-2zM383 257.59h1v7.6h-1zM441 257.59h1v7.6h-1zM460 257.59h1v7.6h-1zM303 287.72h1v7.6h-1zM354 287.72h1v7.6h-1zM385 287.72h1v7.6h-1zM216 295.26h1v7.6h-1zM250 295.26h1v7.6h-1zM267 295.26h1v7.6h-1zM379 295.26h1v7.6h-1z"/>
<path fill="#661166" d="M356 152.13h1v7.6h-1zM364 219.93h1v7.6h-1zM240 227.46h1v7.6h-1zM253 227.46h1v7.6h-1zM443 250.06h1v7.6h-1z"/>
<path fill="#662233" d="M218 212.39h1v7.6h-1zM356 227.46h1v7.6h-1zM246 234.99h1v7.6h-1zM268 234.99h1v7.6h-1zM216 250.06h1v7.6h-1zM270 295.26h1v7.6h-1z"/>
<path fill="#662244" d="M491 31.6h1v7.6h-1zM410 39.13h1v7.6h-1zM460 54.2h1v7.6h-1zM400 106.93h1v7.6h-1zM411 106.93h1v7.6h-1zM416 106.93h1v7.6h-1zM419 106.93h1v7.6h-1zM334 144.59h1v7.6h-1zM309 152.13h1v7.6h-1zM315 152.13h1v7.6h-1zM336 152.13h1v7.6h-1zM226 159.66h1v7.6h-1zM246 197.33h1v7.6h-1zM272 197.33h1v7.6h-1zM355 197.33h1v7.6h-1zM228 204.86h1v7.6h-1zM239 204.86h1v7.6h-1zM223 212.39h1v7.6h-1zM349 212.39h1v7.6h-1zM238 219.93h1v7.6h-1zM230 227.46h1v7.6h-1zM243 227.46h1v7.6h-1zM267 227.46h1v7.6h-1zM276 234.99h1v7.6h-1zM278 234.99h1v7.6h-1zM323 250.06h1v7.6h-1zM325 250.06h1v7.6h-1zM350 250.06h1v7.6h-1zM287 257.59h1v7.6h-1zM332 257.59h1v7.6h-1zM340 257.59h1v7.6h-1zM219 287.72h1v7.6h-1zM229 287.72h1v7.6h-1zM361 287.72h1v7.6h-1zM408 287.72h1v7.6h-1zM492 287.72h1v7.6h-1zM224 295.26h1v7.6h-1zM240 295.26h1v7.6h-1zM289 295.26h1v7.6h-1zM305 295.26h1v7.6h-1zM318 295.26h1v7.6h-1zM342 295.26h1v7.6h-1zM433 295.26h1v7.6h-1z"/>
<path fill="#662255" d="M422 31.6h1v7.6h-1zM405 144.59h1v7.6h-1zM321 257.59h1v7.6h-1zM371 257.59h1v7.6h-1zM293 287.72h1v7.6h-1zM371 287.72h1v7.6h-1zM338 295.26h1v7.6h-1zM361 295.26h1v7.6h-1z"/>
<path fill="#663322" d="M457 39.13h1v7.6h-1zM441 54.2h1v7.6h-1zM249 227.46h1v7.6h-1zM390 257.59h1v7.6h-1z"/>
<path fill="#663333" d="M431 31.6h1v7.6h-1zM436 31.6h1v7.6h-1zM445 31.6h1v7.6h-1zM396 39.13h1v7.6h-1zM403 39.13h1v7.6h-1zM493 76.8h1v7.6h-1zM347 144.59h1v7.6h-1zM349 152.13h1v7.6h-1zM382 152.13h1v7.6h-1zM390 152.13h1v7.6h-1zM279 159.66h1v7.6h-1zM252 197.33h1v7.6h-1zM258 197.33h1v7.6h-1zM261 197.33h1v7.6h-1zM359 197.33h1v7.6h-1zM390 197.33h1v7.6h-1zM402 197.33h1v7.6h-1zM216 204.86h1v7.6h-1zM228 212.39h1v7.6h-1zM284 212.39h1v7.6h-1zM246 219.93h1v7.6h-1zM261 219.93h1v7.6h-1zM260 227.46h1v7.6h-1zM465 227.46h1v7.6h-1zM469 227.46h1v7.6h-1zM216 234.99h1v7.6h-1zM258 234.99h1v7.6h-1zM444 250.06h1v7.6h-1zM447 250.06h1v7.6h-1zM264 287.72h1v7.6h-1zM367 287.72h1v7.6h-1zM247 295.26h1v7.6h-1zM364 295.26h1v7.6h-1z"/>
<path fill="#663344" d="M248 54.2h1v7.6h-1zM363 152.13h1v7.6h-1zM445 212.39h2v7.6h-2zM228 219.93h1v7.6h-1zM389 234.99h1v7.6h-1zM291 287.72h1v7.6h-1zM271 295.26h1v7.6h-1zM369 295.26h1v7.6h-1zM398 295.26h1v7.6h-1z"/>
<path fill="#664411" d="M317 144.59h1v7.6h-1zM345 152.13h1v7.6h-1zM255 197.33h1v7.6h-1zM357 212.39h1v7.6h-1zM340 250.06h1v7.6h-1zM448 295.26h1v7.6h-1z"/>
<path fill="#664422" d="M229 54.2h1v7.6h-1zM446 61.73h1v7.6h-1zM398 106.93h1v7.6h-1zM437 106.93h1v7.6h-1zM449 106.93h1v7.6h-1zM399 144.59h1v7.6h-1zM401 144.59h2v7.6h-2zM410 144.59h1v7.6h-1zM416 144.59h1v7.6h-1zM439 144.59h1v7.6h-1zM373 152.13h1v7.6h-1zM230 159.66h1v7.6h-1zM420 197.33h1v7.6h-1zM427 197.33h1v7.6h-1zM457 204.86h1v7.6h-1zM270 212.39h1v7.6h-1zM380 219.93h1v7.6h-1zM384 219.93h1v7.6h-1zM382 227.46h1v7.6h-1zM272 234.99h1v7.6h-1zM379 234.99h1v7.6h-1zM298 250.06h1v7.6h-1zM242 287.72h1v7.6h-1zM276 287.72h1v7.6h-1zM305 287.72h1v7.6h-1zM394 287.72h1v7.6h-1zM441 287.72h1v7.6h-1zM231 295.26h1v7.6h-1zM260 295.26h1v7.6h-1z"/>
<path fill="#664433" d="M491 99.4h1v7.6h-1zM395 197.33h1v7.6h-1zM417 197.33h1v7.6h-1zM255 204.86h1v7.6h-1zM224 227.46h1v7.6h-1zM308 257.59h1v7.6h-1z"/>
<path fill="#665500" d="M249 159.66h1v7.6h-1zM216 167.19h1v7.6h-1zM280 197.33h1v7.6h-1zM435 212.39h1v7.6h-1zM390 227.46h1v7.6h-1zM438 257.59h1v7.6h-1zM223 287.72h1v7.6h-1zM374 287.72h1v7.6h-1z"/>
<path fill="#665511" d="M431 39.13h2v7.6h-2zM222 54.2h1v7.6h-1zM493 69.27h1v7.6h-1zM295 144.59h1v7.6h-1zM408 144.59h1v7.6h-1zM290 152.13h1v7.6h-1zM314 152.13h1v7.6h-1zM275 159.66h1v7.6h-1zM238 167.19h1v7.6h-1zM223 197.33h1v7.6h-1zM230 197.33h1v7.6h-1zM374 197.33h1v7.6h-1zM388 197.33h1v7.6h-1zM435 197.33h1v7.6h-1zM443 204.86h1v7.6h-1zM454 204.86h1v7.6h-1zM384 212.39h1v7.6h-1zM264 219.93h2v7.6h-2zM349 219.93h1v7.6h-1zM450 219.93h1v7.6h-1zM349 227.46h1v7.6h-1zM483 242.52h1v7.6h-1zM229 250.06h1v7.6h-1zM265 250.06h1v7.6h-1zM302 250.06h1v7.6h-1zM375 250.06h1v7.6h-1zM331 257.59h1v7.6h-1zM244 287.72h1v7.6h-1zM287 287.72h1v7.6h-1zM366 287.72h1v7.6h-1zM372 287.72h1v7.6h-1zM457 287.72h1v7.6h-1zM375 295.26h1v7.6h-1zM378 295.26h1v7.6h-1zM396 295.26h1v7.6h-1zM417 295.26h1v7.6h-1zM428 295.26h1v7.6h-1zM443 295.26h1v7.6h-1zM447 295.26h1v7.6h-1z"/>
<path fill="#665522" d="M310 152.13h1v7.6h-1zM357 152.13h1v7.6h-1zM384 257.59h1v7.6h-1zM382 287.72h1v7.6h-1zM423 287.72h1v7.6h-1zM448 287.72h1v7.6h-1zM374 295.26h1v7.6h-1z"/>
<path fill="#666600" d="M222 31.6h1v7.6h-1zM227 31.6h1v7.6h-1zM233 31.6h1v7.6h-1zM241 31.6h1v7.6h-1zM258 31.6h2v7.6h-2zM262 31.6h1v7.6h-1zM273 31.6h1v7.6h-1zM277 31.6h1v7.6h-1zM282 31.6h1v7.6h-1zM435 31.6h1v7.6h-1zM438 31.6h1v7.6h-1zM226 39.13h1v7.6h-1zM241 39.13h1v7.6h-1zM253 39.13h1v7.6h-1zM259 39.13h1v7.6h-1zM274 39.13h1v7.6h-1zM277 39.13h1v7.6h-1zM438 39.13h1v7.6h-1zM443 39.13h1v7.6h-1zM216 46.67h1v7.6h-1zM220 46.67h2v7.6h-2zM223 46.67h2v7.6h-2zM230 46.67h1v7.6h-1zM232 46.67h1v7.6h-1zM242 46.67h1v7.6h-1zM252 46.67h1v7.6h-1zM258 46.67h1v7.6h-1zM260 46.67h1v7.6h-1zM263 46.67h1v7.6h-1zM265 46.67h1v7.6h-1zM267 46.67h2v7.6h-2zM279 46.67h1v7.6h-1zM438 46.67h1v7.6h-1zM443 46.67h1v7.6h-1zM218 54.2h1v7.6h-1zM269 54.2h1v7.6h-1zM438 54.2h1v7.6h-1zM455 54.2h1v7.6h-1zM224 61.73h1v7.6h-1zM235 61.73h1v7.6h-1zM241 61.73h2v7.6h-2zM248 61.73h1v7.6h-1zM258 61.73h1v7.6h-1zM260 61.73h1v7.6h-1zM262 61.73h1v7.6h-1zM269 61.73h1v7.6h-1zM272 61.73h1v7.6h-1zM274 61.73h1v7.6h-1zM293 69.27h1v7.6h-1zM302 69.27h1v7.6h-1zM307 69.27h1v7.6h-1zM313 69.27h1v7.6h-1zM319 69.27h1v7.6h-1zM326 69.27h1v7.6h-1zM349 69.27h1v7.6h-1zM373 69.27h1v7.6h-1zM375 69.27h1v7.6h-1zM382 69.27h1v7.6h-1zM298 76.8h1v7.6h-1zM307 76.8h1v7.6h-1zM320 76.8h1v7.6h-1zM332 76.8h1v7.6h-1zM344 76.8h1v7.6h-1zM349 76.8h1v7.6h-1zM305 84.33h1v7.6h-1zM313 84.33h1v7.6h-1zM316 84.33h1v7.6h-1zM319 84.33h1v7.6h-1zM352 84.33h1v7.6h-1zM362 84.33h1v7.6h-1zM294 91.86h1v7.6h-1zM302 91.86h1v7.6h-1zM316 91.86h1v7.6h-1zM344 91.86h1v7.6h-1zM362 91.86h1v7.6h-1zM307 99.4h1v7.6h-1zM316 99.4h1v7.6h-1zM326 99.4h1v7.6h-1zM362 99.4h1v7.6h-1zM380 99.4h1v7.6h-1zM390 99.4h1v7.6h-1zM301 106.93h1v7.6h-1zM304 106.93h1v7.6h-1zM308 106.93h1v7.6h-1zM311 106.93h1v7.6h-1zM315 106.93h1v7.6h-1zM319 106.93h1v7.6h-1zM324 106.93h1v7.6h-1zM335 106.93h1v7.6h-1zM337 106.93h1v7.6h-1zM345 106.93h1v7.6h-1zM359 106.93h1v7.6h-1zM382 106.93h1v7.6h-1zM384 106.93h1v7.6h-1zM386 106.93h1v7.6h-1zM389 106.93h1v7.6h-1zM446 106.93h1v7.6h-1zM476 106.93h1v7.6h-1zM405 114.46h1v7.6h-1zM409 114.46h1v7.6h-1zM425 114.46h1v7.6h-1zM463 114.46h2v7.6h-2zM467 114.46h1v7.6h-1zM470 114.46h3v7.6h-3zM475 114.46h1v7.6h-1zM483 114.46h1v7.6h-1zM489 114.46h1v7.6h-1zM491 114.46h1v7.6h-1zM397 122h1v7.6h-1zM407 122h1v7.6h-1zM418 122h1v7.6h-1zM429 122h1v7.6h-1zM433 122h1v7.6h-1zM463 122h1v7.6h-1zM468 122h1v7.6h-1zM470 122h1v7.6h-1zM478 122h1v7.6h-1zM484 122h1v7.6h-1zM404 129.53h1v7.6h-1zM408 129.53h1v7.6h-1zM413 129.53h1v7.6h-1zM415 129.53h1v7.6h-1zM422 129.53h1v7.6h-1zM464 129.53h1v7.6h-1zM467 129.53h1v7.6h-1zM475 129.53h1v7.6h-1zM489 129.53h1v7.6h-1zM397 137.06h1v7.6h-1zM405 137.06h1v7.6h-1zM422 137.06h1v7.6h-1zM429 137.06h1v7.6h-1zM433 137.06h1v7.6h-1zM462 137.06h4v7.6h-4zM467 137.06h1v7.6h-1zM472 137.06h1v7.6h-1zM475 137.06h1v7.6h-1zM477 137.06h1v7.6h-1zM484 137.06h1v7.6h-1zM491 137.06h1v7.6h-1zM302 144.59h1v7.6h-1zM394 144.59h1v7.6h-1zM425 144.59h1v7.6h-1zM431 144.59h1v7.6h-1zM287 152.13h1v7.6h-1zM331 152.13h1v7.6h-1zM437 152.13h1v7.6h-1zM441 152.13h1v7.6h-1zM445 152.13h1v7.6h-1zM450 152.13h1v7.6h-1zM454 152.13h1v7.6h-1zM490 152.13h1v7.6h-1zM493 152.13h1v7.6h-1zM220 159.66h1v7.6h-1zM223 159.66h1v7.6h-1zM238 159.66h1v7.6h-1zM252 159.66h1v7.6h-1zM270 159.66h1v7.6h-1zM439 159.66h1v7.6h-1zM448 159.66h1v7.6h-1zM456 159.66h1v7.6h-1zM460 159.66h1v7.6h-1zM464 159.66h2v7.6h-2zM470 159.66h1v7.6h-1zM475 159.66h1v7.6h-1zM493 159.66h1v7.6h-1zM263 167.19h1v7.6h-1zM276 167.19h1v7.6h-1zM281 167.19h1v7.6h-1zM436 167.19h2v7.6h-2zM441 167.19h1v7.6h-1zM446 167.19h1v7.6h-1zM450 167.19h1v7.6h-1zM486 167.19h1v7.6h-1zM488 167.19h1v7.6h-1zM226 174.73h3v7.6h-3zM234 174.73h1v7.6h-1zM245 174.73h1v7.6h-1zM247 174.73h1v7.6h-1zM250 174.73h1v7.6h-1zM254 174.73h1v7.6h-1zM256 174.73h1v7.6h-1zM262 174.73h1v7.6h-1zM270 174.73h3v7.6h-3zM281 174.73h1v7.6h-1zM441 174.73h1v7.6h-1zM454 174.73h1v7.6h-1zM436 182.26h1v7.6h-1zM439 182.26h1v7.6h-1zM448 182.26h1v7.6h-1zM450 182.26h1v7.6h-1zM488 182.26h1v7.6h-1zM235 197.33h1v7.6h-1zM270 197.33h1v7.6h-1zM276 197.33h1v7.6h-1zM284 197.33h1v7.6h-1zM443 197.33h1v7.6h-1zM450 197.33h2v7.6h-2zM459 197.33h1v7.6h-1zM374 204.86h1v7.6h-1zM437 204.86h1v7.6h-1zM452 204.86h1v7.6h-1zM471 204.86h1v7.6h-1zM447 212.39h1v7.6h-1zM455 212.39h1v7.6h-1zM472 212.39h1v7.6h-1zM475 212.39h1v7.6h-1zM490 212.39h1v7.6h-1zM249 219.93h1v7.6h-1zM266 219.93h1v7.6h-1zM379 219.93h1v7.6h-1zM462 219.93h1v7.6h-1zM465 219.93h1v7.6h-1zM468 219.93h1v7.6h-1zM485 219.93h1v7.6h-1zM436 227.46h1v7.6h-1zM444 227.46h1v7.6h-1zM446 227.46h1v7.6h-1zM450 227.46h1v7.6h-1zM459 227.46h1v7.6h-1zM266 234.99h1v7.6h-1zM437 234.99h1v7.6h-1zM439 234.99h1v7.6h-1zM441 234.99h1v7.6h-1zM460 234.99h1v7.6h-1zM252 250.06h1v7.6h-1zM294 250.06h1v7.6h-1zM297 250.06h1v7.6h-1zM462 250.06h1v7.6h-1zM470 250.06h1v7.6h-1zM491 250.06h1v7.6h-1zM217 257.59h3v7.6h-3zM224 257.59h2v7.6h-2zM234 257.59h2v7.6h-2zM238 257.59h1v7.6h-1zM241 257.59h1v7.6h-1zM243 257.59h4v7.6h-4zM251 257.59h2v7.6h-2zM255 257.59h1v7.6h-1zM257 257.59h2v7.6h-2zM260 257.59h1v7.6h-1zM267 257.59h1v7.6h-1zM272 257.59h1v7.6h-1zM279 257.59h1v7.6h-1zM281 257.59h1v7.6h-1zM298 257.59h1v7.6h-1zM263 287.72h1v7.6h-1zM271 287.72h1v7.6h-1zM280 287.72h1v7.6h-1zM298 287.72h1v7.6h-1zM304 287.72h1v7.6h-1zM316 287.72h1v7.6h-1zM332 287.72h2v7.6h-2zM339 287.72h1v7.6h-1zM343 287.72h1v7.6h-1zM459 287.72h1v7.6h-1zM462 287.72h1v7.6h-1zM464 287.72h1v7.6h-1zM470 287.72h1v7.6h-1zM478 287.72h1v7.6h-1zM483 287.72h1v7.6h-1zM486 287.72h1v7.6h-1zM489 287.72h3v7.6h-3zM326 295.26h1v7.6h-1z"/>
<path fill="#666611" d="M428 39.13h1v7.6h-1zM446 39.13h1v7.6h-1zM435 46.67h1v7.6h-1zM267 54.2h1v7.6h-1zM436 61.73h1v7.6h-1zM453 61.73h1v7.6h-1zM325 152.13h1v7.6h-1zM266 159.66h1v7.6h-1zM249 167.19h1v7.6h-1zM459 204.86h1v7.6h-1zM370 234.99h1v7.6h-1zM396 287.72h1v7.6h-1z"/>
<path fill="#770066" d="M454 46.67h1v7.6h-1zM458 54.2h1v7.6h-1zM460 106.93h1v7.6h-1zM456 204.86h1v7.6h-1zM327 257.59h1v7.6h-1z"/>
<path fill="#770077" d="M286 31.6h1v7.6h-1zM290 31.6h1v7.6h-1zM312 31.6h1v7.6h-1zM314 31.6h2v7.6h-2zM317 31.6h1v7.6h-1zM321 31.6h1v7.6h-1zM324 31.6h1v7.6h-1zM330 31.6h1v7.6h-1zM356 31.6h3v7.6h-3zM361 31.6h1v7.6h-1zM365 31.6h3v7.6h-3zM372 31.6h1v7.6h-1zM377 31.6h2v7.6h-2zM388 31.6h1v7.6h-1zM421 31.6h1v7.6h-1zM289 39.13h1v7.6h-1zM294 39.13h1v7.6h-1zM299 39.13h1v7.6h-1zM306 39.13h1v7.6h-1zM310 39.13h1v7.6h-1zM317 39.13h1v7.6h-1zM321 39.13h1v7.6h-1zM329 39.13h2v7.6h-2zM336 39.13h1v7.6h-1zM338 39.13h1v7.6h-1zM343 39.13h1v7.6h-1zM346 39.13h2v7.6h-2zM358 39.13h1v7.6h-1zM361 39.13h1v7.6h-1zM363 39.13h5v7.6h-5zM369 39.13h1v7.6h-1zM371 39.13h2v7.6h-2zM374 39.13h1v7.6h-1zM378 39.13h1v7.6h-1zM409 39.13h1v7.6h-1zM303 46.67h1v7.6h-1zM353 46.67h1v7.6h-1zM381 46.67h1v7.6h-1zM392 46.67h1v7.6h-1zM395 46.67h1v7.6h-1zM411 46.67h1v7.6h-1zM413 46.67h2v7.6h-2zM416 46.67h1v7.6h-1zM418 46.67h1v7.6h-1zM421 46.67h1v7.6h-1zM430 46.67h1v7.6h-1zM282 54.2h1v7.6h-1zM286 54.2h1v7.6h-1zM300 54.2h1v7.6h-1zM303 54.2h1v7.6h-1zM329 54.2h1v7.6h-1zM383 54.2h1v7.6h-1zM399 54.2h1v7.6h-1zM408 54.2h1v7.6h-1zM413 54.2h1v7.6h-1zM418 54.2h1v7.6h-1zM424 54.2h1v7.6h-1zM433 54.2h1v7.6h-1zM488 54.2h1v7.6h-1zM492 54.2h1v7.6h-1zM286 61.73h1v7.6h-1zM303 61.73h1v7.6h-1zM315 61.73h1v7.6h-1zM346 61.73h1v7.6h-1zM371 61.73h1v7.6h-1zM376 61.73h1v7.6h-1zM392 61.73h1v7.6h-1zM397 61.73h1v7.6h-1zM399 61.73h1v7.6h-1zM409 61.73h1v7.6h-1zM415 61.73h1v7.6h-1zM425 61.73h1v7.6h-1zM457 61.73h1v7.6h-1zM435 69.27h1v7.6h-1zM449 69.27h1v7.6h-1zM451 69.27h2v7.6h-2zM455 69.27h1v7.6h-1zM240 76.8h2v7.6h-2zM262 76.8h1v7.6h-1zM458 76.8h1v7.6h-1zM398 84.33h1v7.6h-1zM402 84.33h1v7.6h-1zM406 84.33h1v7.6h-1zM411 84.33h1v7.6h-1zM426 84.33h2v7.6h-2zM440 84.33h1v7.6h-1zM442 84.33h1v7.6h-1zM392 91.86h1v7.6h-1zM399 91.86h2v7.6h-2zM402 91.86h2v7.6h-2zM406 91.86h1v7.6h-1zM413 91.86h2v7.6h-2zM421 91.86h1v7.6h-1zM424 91.86h1v7.6h-1zM427 91.86h1v7.6h-1zM433 91.86h1v7.6h-1zM441 91.86h1v7.6h-1zM454 91.86h1v7.6h-1zM460 91.86h1v7.6h-1zM440 99.4h1v7.6h-1zM442 99.4h1v7.6h-1zM216 106.93h1v7.6h-1zM225 106.93h1v7.6h-1zM230 106.93h1v7.6h-1zM235 106.93h1v7.6h-1zM239 106.93h1v7.6h-1zM245 106.93h1v7.6h-1zM249 106.93h1v7.6h-1zM252 106.93h1v7.6h-1zM263 106.93h1v7.6h-1zM265 106.93h1v7.6h-1zM268 106.93h1v7.6h-1zM270 106.93h1v7.6h-1zM276 106.93h1v7.6h-1zM281 106.93h1v7.6h-1zM284 106.93h1v7.6h-1zM405 106.93h1v7.6h-1zM227 114.46h1v7.6h-1zM283 114.46h1v7.6h-1zM296 114.46h1v7.6h-1zM301 114.46h1v7.6h-1zM312 114.46h1v7.6h-1zM314 114.46h2v7.6h-2zM338 114.46h1v7.6h-1zM341 114.46h1v7.6h-1zM346 114.46h1v7.6h-1zM358 114.46h1v7.6h-1zM361 114.46h1v7.6h-1zM369 114.46h1v7.6h-1zM371 114.46h2v7.6h-2zM383 114.46h1v7.6h-1zM296 122h1v7.6h-1zM299 122h1v7.6h-1zM306 122h1v7.6h-1zM315 122h1v7.6h-1zM318 122h1v7.6h-1zM322 122h1v7.6h-1zM327 122h1v7.6h-1zM338 122h1v7.6h-1zM364 122h1v7.6h-1zM366 122h1v7.6h-1zM378 122h1v7.6h-1zM383 122h1v7.6h-1zM385 122h1v7.6h-1zM277 129.53h1v7.6h-1zM286 129.53h1v7.6h-1zM301 129.53h1v7.6h-1zM303 129.53h1v7.6h-1zM315 129.53h1v7.6h-1zM325 129.53h1v7.6h-1zM330 129.53h1v7.6h-1zM338 129.53h1v7.6h-1zM341 129.53h1v7.6h-1zM347 129.53h1v7.6h-1zM354 129.53h1v7.6h-1zM371 129.53h1v7.6h-1zM376 129.53h1v7.6h-1zM383 129.53h1v7.6h-1zM282 137.06h2v7.6h-2zM289 137.06h1v7.6h-1zM304 137.06h1v7.6h-1zM306 137.06h1v7.6h-1zM312 137.06h1v7.6h-1zM315 137.06h1v7.6h-1zM317 137.06h1v7.6h-1zM321 137.06h2v7.6h-2zM327 137.06h1v7.6h-1zM330 137.06h1v7.6h-1zM361 137.06h1v7.6h-1zM366 137.06h1v7.6h-1zM371 137.06h1v7.6h-1zM376 137.06h1v7.6h-1zM378 137.06h1v7.6h-1zM385 137.06h1v7.6h-1zM222 144.59h1v7.6h-1zM228 144.59h1v7.6h-1zM253 144.59h1v7.6h-1zM262 144.59h1v7.6h-1zM269 144.59h1v7.6h-1zM278 144.59h1v7.6h-1zM282 144.59h1v7.6h-1zM322 144.59h1v7.6h-1zM338 144.59h1v7.6h-1zM368 144.59h1v7.6h-1zM376 144.59h1v7.6h-1zM385 144.59h1v7.6h-1zM422 144.59h1v7.6h-1zM442 144.59h1v7.6h-1zM219 152.13h1v7.6h-1zM227 152.13h2v7.6h-2zM241 152.13h1v7.6h-1zM248 152.13h1v7.6h-1zM250 152.13h1v7.6h-1zM253 152.13h1v7.6h-1zM259 152.13h1v7.6h-1zM262 152.13h1v7.6h-1zM273 152.13h2v7.6h-2zM282 152.13h1v7.6h-1zM372 152.13h1v7.6h-1zM385 152.13h1v7.6h-1zM404 152.13h1v7.6h-1zM286 159.66h1v7.6h-1zM296 159.66h1v7.6h-1zM301 159.66h1v7.6h-1zM318 159.66h1v7.6h-1zM321 159.66h1v7.6h-1zM338 159.66h1v7.6h-1zM371 159.66h1v7.6h-1zM376 159.66h1v7.6h-1zM381 159.66h1v7.6h-1zM385 159.66h1v7.6h-1zM397 159.66h1v7.6h-1zM407 159.66h1v7.6h-1zM413 159.66h1v7.6h-1zM418 159.66h1v7.6h-1zM429 159.66h1v7.6h-1zM433 159.66h1v7.6h-1zM299 167.19h1v7.6h-1zM304 167.19h1v7.6h-1zM306 167.19h1v7.6h-1zM315 167.19h1v7.6h-1zM318 167.19h1v7.6h-1zM323 167.19h1v7.6h-1zM338 167.19h1v7.6h-1zM353 167.19h2v7.6h-2zM364 167.19h1v7.6h-1zM368 167.19h2v7.6h-2zM371 167.19h1v7.6h-1zM376 167.19h1v7.6h-1zM385 167.19h1v7.6h-1zM397 167.19h1v7.6h-1zM399 167.19h1v7.6h-1zM404 167.19h1v7.6h-1zM407 167.19h2v7.6h-2zM418 167.19h1v7.6h-1zM425 167.19h1v7.6h-1zM300 174.73h2v7.6h-2zM306 174.73h1v7.6h-1zM317 174.73h2v7.6h-2zM330 174.73h1v7.6h-1zM346 174.73h1v7.6h-1zM353 174.73h1v7.6h-1zM368 174.73h1v7.6h-1zM376 174.73h1v7.6h-1zM397 174.73h1v7.6h-1zM400 174.73h1v7.6h-1zM404 174.73h1v7.6h-1zM409 174.73h1v7.6h-1zM415 174.73h1v7.6h-1zM425 174.73h1v7.6h-1zM429 174.73h1v7.6h-1zM474 174.73h1v7.6h-1zM484 174.73h1v7.6h-1zM492 174.73h1v7.6h-1zM222 182.26h1v7.6h-1zM226 182.26h3v7.6h-3zM240 182.26h1v7.6h-1zM245 182.26h1v7.6h-1zM252 182.26h2v7.6h-2zM261 182.26h2v7.6h-2zM277 182.26h2v7.6h-2zM407 182.26h1v7.6h-1zM422 182.26h1v7.6h-1zM464 182.26h1v7.6h-1zM471 182.26h1v7.6h-1zM474 182.26h1v7.6h-1zM234 197.33h1v7.6h-1zM250 197.33h1v7.6h-1zM256 197.33h1v7.6h-1zM271 197.33h1v7.6h-1zM282 197.33h2v7.6h-2zM286 197.33h1v7.6h-1zM293 197.33h1v7.6h-1zM312 197.33h1v7.6h-1zM318 197.33h1v7.6h-1zM321 197.33h1v7.6h-1zM327 197.33h1v7.6h-1zM330 197.33h1v7.6h-1zM341 197.33h1v7.6h-1zM372 197.33h1v7.6h-1zM217 204.86h1v7.6h-1zM256 204.86h1v7.6h-1zM268 204.86h1v7.6h-1zM282 204.86h1v7.6h-1zM301 204.86h1v7.6h-1zM304 204.86h1v7.6h-1zM306 204.86h1v7.6h-1zM309 204.86h1v7.6h-1zM312 204.86h1v7.6h-1zM315 204.86h1v7.6h-1zM318 204.86h1v7.6h-1zM321 204.86h1v7.6h-1zM325 204.86h1v7.6h-1zM327 204.86h1v7.6h-1zM336 204.86h1v7.6h-1zM338 204.86h1v7.6h-1zM346 204.86h1v7.6h-1zM351 204.86h1v7.6h-1zM376 204.86h1v7.6h-1zM383 204.86h1v7.6h-1zM385 204.86h1v7.6h-1zM392 204.86h1v7.6h-1zM399 204.86h1v7.6h-1zM403 204.86h1v7.6h-1zM408 204.86h1v7.6h-1zM416 204.86h1v7.6h-1zM421 204.86h1v7.6h-1zM424 204.86h1v7.6h-1zM430 204.86h1v7.6h-1zM233 212.39h1v7.6h-1zM240 212.39h1v7.6h-1zM278 212.39h1v7.6h-1zM290 212.39h1v7.6h-1zM293 212.39h1v7.6h-1zM297 212.39h2v7.6h-2zM309 212.39h1v7.6h-1zM312 212.39h1v7.6h-1zM315 212.39h1v7.6h-1zM322 212.39h3v7.6h-3zM327 212.39h1v7.6h-1zM330 212.39h1v7.6h-1zM334 212.39h1v7.6h-1zM336 212.39h1v7.6h-1zM338 212.39h1v7.6h-1zM341 212.39h1v7.6h-1zM379 212.39h1v7.6h-1zM398 212.39h3v7.6h-3zM406 212.39h1v7.6h-1zM411 212.39h1v7.6h-1zM420 212.39h1v7.6h-1zM427 212.39h1v7.6h-1zM431 212.39h1v7.6h-1zM229 219.93h1v7.6h-1zM236 219.93h1v7.6h-1zM271 219.93h1v7.6h-1zM273 219.93h2v7.6h-2zM303 219.93h1v7.6h-1zM314 219.93h1v7.6h-1zM317 219.93h2v7.6h-2zM321 219.93h1v7.6h-1zM323 219.93h3v7.6h-3zM330 219.93h1v7.6h-1zM345 219.93h3v7.6h-3zM354 219.93h1v7.6h-1zM392 219.93h1v7.6h-1zM402 219.93h1v7.6h-1zM411 219.93h1v7.6h-1zM419 219.93h1v7.6h-1zM428 219.93h1v7.6h-1zM433 219.93h1v7.6h-1zM222 227.46h1v7.6h-1zM227 227.46h1v7.6h-1zM273 227.46h1v7.6h-1zM286 227.46h1v7.6h-1zM291 227.46h1v7.6h-1zM294 227.46h1v7.6h-1zM303 227.46h1v7.6h-1zM312 227.46h1v7.6h-1zM314 227.46h1v7.6h-1zM318 227.46h1v7.6h-1zM327 227.46h1v7.6h-1zM335 227.46h2v7.6h-2zM347 227.46h1v7.6h-1zM376 227.46h1v7.6h-1zM381 227.46h1v7.6h-1zM392 227.46h1v7.6h-1zM395 227.46h1v7.6h-1zM399 227.46h1v7.6h-1zM414 227.46h1v7.6h-1zM424 227.46h2v7.6h-2zM226 234.99h2v7.6h-2zM260 234.99h1v7.6h-1zM287 234.99h1v7.6h-1zM318 234.99h1v7.6h-1zM346 234.99h1v7.6h-1zM385 234.99h1v7.6h-1zM398 234.99h1v7.6h-1zM410 234.99h1v7.6h-1zM416 234.99h1v7.6h-1zM236 250.06h1v7.6h-1zM259 250.06h1v7.6h-1zM269 250.06h1v7.6h-1zM286 250.06h1v7.6h-1zM306 250.06h1v7.6h-1zM321 250.06h2v7.6h-2zM335 250.06h1v7.6h-1zM384 250.06h1v7.6h-1zM404 250.06h2v7.6h-2zM407 250.06h1v7.6h-1zM409 250.06h1v7.6h-1zM439 250.06h1v7.6h-1zM442 250.06h1v7.6h-1zM306 257.59h1v7.6h-1zM322 257.59h1v7.6h-1zM376 257.59h3v7.6h-3zM397 257.59h1v7.6h-1zM399 257.59h1v7.6h-1zM413 257.59h1v7.6h-1zM442 257.59h1v7.6h-1zM446 257.59h1v7.6h-1zM464 257.59h1v7.6h-1zM471 257.59h1v7.6h-1zM474 257.59h1v7.6h-1zM222 287.72h1v7.6h-1zM283 287.72h1v7.6h-1zM413 287.72h1v7.6h-1zM243 295.26h1v7.6h-1zM253 295.26h1v7.6h-1zM262 295.26h1v7.6h-1zM275 295.26h1v7.6h-1zM278 295.26h1v7.6h-1zM306 295.26h1v7.6h-1zM312 295.26h1v7.6h-1zM371 295.26h1v7.6h-1zM381 295.26h1v7.6h-1zM383 295.26h1v7.6h-1zM404 295.26h1v7.6h-1zM458 295.26h1v7.6h-1z"/>
<path fill="#771155" d="M275 197.33h1v7.6h-1zM275 204.86h1v7.6h-1zM367 204.86h1v7.6h-1z"/>
<path fill="#771166" d="M415 39.13h1v7.6h-1zM430 39.13h1v7.6h-1zM415 106.93h1v7.6h-1zM429 106.93h1v7.6h-1zM457 144.59h1v7.6h-1zM492 152.13h1v7.6h-1zM251 159.66h1v7.6h-1zM264 159.66h1v7.6h-1zM267 159.66h1v7.6h-1zM253 167.19h1v7.6h-1zM273 197.33h1v7.6h-1zM413 197.33h1v7.6h-1zM429 197.33h1v7.6h-1zM360 212.39h1v7.6h-1zM226 219.93h1v7.6h-1zM378 227.46h1v7.6h-1zM367 234.99h1v7.6h-1zM347 250.06h1v7.6h-1zM377 250.06h1v7.6h-1zM290 257.59h1v7.6h-1zM361 257.59h1v7.6h-1zM368 257.59h1v7.6h-1zM269 287.72h1v7.6h-1zM289 287.72h1v7.6h-1zM254 295.26h1v7.6h-1zM334 295.26h1v7.6h-1z"/>
<path fill="#771177" d="M322 152.13h1v7.6h-1z"/>
<path fill="#772244" d="M291 152.13h1v7.6h-1zM330 152.13h1v7.6h-1zM284 219.93h1v7.6h-1zM341 250.06h1v7.6h-1zM437 250.06h1v7.6h-1zM441 250.06h1v7.6h-1zM296 287.72h1v7.6h-1zM458 287.72h1v7.6h-1z"/>
<path fill="#772255" d="M343 144.59h1v7.6h-1zM445 144.59h1v7.6h-1zM318 152.13h1v7.6h-1zM227 159.66h1v7.6h-1zM253 159.66h1v7.6h-1zM277 159.66h1v7.6h-1zM251 204.86h1v7.6h-1zM380 204.86h1v7.6h-1zM236 212.39h1v7.6h-1zM253 212.39h1v7.6h-1zM367 212.39h1v7.6h-1zM241 219.93h1v7.6h-1zM257 219.93h1v7.6h-1zM361 219.93h1v7.6h-1zM442 219.93h1v7.6h-1zM235 234.99h1v7.6h-1zM312 250.06h1v7.6h-1zM329 250.06h1v7.6h-1zM374 257.59h1v7.6h-1zM314 287.72h1v7.6h-1zM433 287.72h1v7.6h-1zM311 295.26h1v7.6h-1zM324 295.26h1v7.6h-1zM365 295.26h1v7.6h-1z"/>
<path fill="#772266" d="M440 106.93h1v7.6h-1zM277 204.86h1v7.6h-1zM479 227.46h1v7.6h-1zM281 250.06h1v7.6h-1zM223 295.26h1v7.6h-1z"/>
<path fill="#773333" d="M357 219.93h1v7.6h-1zM347 257.59h1v7.6h-1zM258 287.72h1v7.6h-1z"/>
<path fill="#773344" d="M274 159.66h1v7.6h-1zM242 197.33h1v7.6h-1zM254 197.33h1v7.6h-1zM430 197.33h1v7.6h-1zM224 204.86h1v7.6h-1zM231 204.86h1v7.6h-1zM350 204.86h1v7.6h-1zM230 212.39h1v7.6h-1zM374 212.39h1v7.6h-1zM350 227.46h1v7.6h-1zM352 234.99h1v7.6h-1zM372 234.99h1v7.6h-1zM308 250.06h1v7.6h-1zM382 257.59h1v7.6h-1zM443 257.59h1v7.6h-1zM310 295.26h1v7.6h-1zM341 295.26h1v7.6h-1zM373 295.26h1v7.6h-1z"/>
<path fill="#773355" d="M385 219.93h1v7.6h-1zM281 227.46h1v7.6h-1zM269 295.26h1v7.6h-1z"/>
<path fill="#774422" d="M454 197.33h1v7.6h-1zM435 204.86h1v7.6h-1zM380 227.46h1v7.6h-1zM221 287.72h1v7.6h-1zM309 287.72h1v7.6h-1z"/>
<path fill="#774433" d="M436 39.13h1v7.6h-1zM441 46.67h1v7.6h-1zM234 167.19h1v7.6h-1zM375 197.33h1v7.6h-1zM364 204.86h1v7.6h-1zM231 212.39h1v7.6h-1zM266 212.39h1v7.6h-1zM260 219.93h1v7.6h-1zM363 219.93h1v7.6h-1zM370 219.93h1v7.6h-1zM220 227.46h1v7.6h-1zM279 250.06h1v7.6h-1zM309 257.59h1v7.6h-1zM317 257.59h1v7.6h-1zM354 257.59h1v7.6h-1zM358 257.59h1v7.6h-1zM259 287.72h1v7.6h-1zM436 287.72h1v7.6h-1zM413 295.26h1v7.6h-1z"/>
<path fill="#774444" d="M279 204.86h1v7.6h-1zM233 287.72h1v7.6h-1z"/>
<path fill="#775511" d="M455 31.6h1v7.6h-1zM233 54.2h1v7.6h-1zM244 54.2h1v7.6h-1zM421 144.59h1v7.6h-1zM311 250.06h1v7.6h-1zM453 287.72h1v7.6h-1z"/>
<path fill="#775522" d="M428 31.6h1v7.6h-1zM419 39.13h1v7.6h-1zM240 54.2h1v7.6h-1zM271 54.2h1v7.6h-1zM459 54.2h1v7.6h-1zM312 144.59h1v7.6h-1zM406 144.59h1v7.6h-1zM380 212.39h1v7.6h-1zM281 234.99h1v7.6h-1zM295 257.59h1v7.6h-1zM290 287.72h1v7.6h-1zM326 287.72h1v7.6h-1zM447 287.72h1v7.6h-1z"/>
<path fill="#776600" d="M493 99.4h1v7.6h-1zM493 114.46h1v7.6h-1zM393 144.59h1v7.6h-1zM450 144.59h1v7.6h-1zM298 152.13h1v7.6h-1zM450 287.72h1v7.6h-1z"/>
<path fill="#776611" d="M268 54.2h1v7.6h-1zM447 61.73h1v7.6h-1zM491 106.93h1v7.6h-1zM313 144.59h1v7.6h-1zM342 144.59h1v7.6h-1zM320 152.13h1v7.6h-1zM340 152.13h1v7.6h-1zM239 167.19h1v7.6h-1zM437 197.33h1v7.6h-1zM445 197.33h1v7.6h-1zM491 212.39h1v7.6h-1zM374 227.46h1v7.6h-1zM493 227.46h1v7.6h-1zM328 250.06h1v7.6h-1zM328 287.72h1v7.6h-1zM412 295.26h1v7.6h-1zM454 295.26h1v7.6h-1zM493 295.26h1v7.6h-1z"/>
<path fill="#776622" d="M382 197.33h1v7.6h-1zM245 287.72h1v7.6h-1z"/>
<path fill="#777700" d="M226 31.6h1v7.6h-1zM229 31.6h1v7.6h-1zM236 31.6h1v7.6h-1zM240 31.6h1v7.6h-1zM242 31.6h1v7.6h-1zM261 31.6h1v7.6h-1zM269 31.6h1v7.6h-1zM271 31.6h1v7.6h-1zM278 31.6h1v7.6h-1zM393 31.6h1v7.6h-1zM493 31.6h1v7.6h-1zM222 39.13h1v7.6h-1zM228 39.13h2v7.6h-2zM240 39.13h1v7.6h-1zM243 39.13h1v7.6h-1zM245 39.13h1v7.6h-1zM247 39.13h2v7.6h-2zM250 39.13h1v7.6h-1zM254 39.13h1v7.6h-1zM261 39.13h1v7.6h-1zM271 39.13h1v7.6h-1zM275 39.13h1v7.6h-1zM278 39.13h1v7.6h-1zM282 39.13h1v7.6h-1zM217 46.67h1v7.6h-1zM219 46.67h1v7.6h-1zM225 46.67h1v7.6h-1zM234 46.67h2v7.6h-2zM238 46.67h1v7.6h-1zM244 46.67h2v7.6h-2zM248 46.67h1v7.6h-1zM251 46.67h1v7.6h-1zM254 46.67h2v7.6h-2zM261 46.67h1v7.6h-1zM264 46.67h1v7.6h-1zM270 46.67h1v7.6h-1zM276 46.67h1v7.6h-1zM280 46.67h1v7.6h-1zM453 46.67h1v7.6h-1zM225 54.2h1v7.6h-1zM249 54.2h1v7.6h-1zM265 54.2h1v7.6h-1zM217 61.73h5v7.6h-5zM229 61.73h2v7.6h-2zM234 61.73h1v7.6h-1zM243 61.73h1v7.6h-1zM245 61.73h2v7.6h-2zM250 61.73h1v7.6h-1zM254 61.73h1v7.6h-1zM259 61.73h1v7.6h-1zM261 61.73h1v7.6h-1zM265 61.73h1v7.6h-1zM275 61.73h1v7.6h-1zM279 61.73h1v7.6h-1zM281 61.73h1v7.6h-1zM455 61.73h1v7.6h-1zM362 69.27h1v7.6h-1zM375 76.8h1v7.6h-1zM292 84.33h1v7.6h-1zM493 91.86h1v7.6h-1zM320 99.4h1v7.6h-1zM288 106.93h4v7.6h-4zM293 106.93h3v7.6h-3zM297 106.93h2v7.6h-2zM302 106.93h1v7.6h-1zM310 106.93h1v7.6h-1zM316 106.93h1v7.6h-1zM320 106.93h1v7.6h-1zM331 106.93h2v7.6h-2zM334 106.93h1v7.6h-1zM336 106.93h1v7.6h-1zM340 106.93h1v7.6h-1zM356 106.93h1v7.6h-1zM363 106.93h1v7.6h-1zM373 106.93h3v7.6h-3zM387 106.93h1v7.6h-1zM390 106.93h1v7.6h-1zM396 106.93h1v7.6h-1zM430 106.93h1v7.6h-1zM453 106.93h1v7.6h-1zM484 106.93h1v7.6h-1zM397 114.46h1v7.6h-1zM404 114.46h1v7.6h-1zM407 114.46h2v7.6h-2zM418 114.46h1v7.6h-1zM422 114.46h1v7.6h-1zM433 114.46h1v7.6h-1zM468 114.46h1v7.6h-1zM484 114.46h1v7.6h-1zM392 122h1v7.6h-1zM394 122h2v7.6h-2zM398 122h3v7.6h-3zM402 122h1v7.6h-1zM414 122h1v7.6h-1zM421 122h1v7.6h-1zM425 122h1v7.6h-1zM465 122h1v7.6h-1zM472 122h2v7.6h-2zM477 122h1v7.6h-1zM479 122h1v7.6h-1zM397 129.53h1v7.6h-1zM400 129.53h1v7.6h-1zM409 129.53h1v7.6h-1zM425 129.53h1v7.6h-1zM427 129.53h1v7.6h-1zM429 129.53h1v7.6h-1zM462 129.53h2v7.6h-2zM468 129.53h3v7.6h-3zM472 129.53h2v7.6h-2zM478 129.53h1v7.6h-1zM484 129.53h1v7.6h-1zM493 129.53h1v7.6h-1zM407 137.06h3v7.6h-3zM413 137.06h1v7.6h-1zM424 137.06h2v7.6h-2zM470 137.06h1v7.6h-1zM479 137.06h1v7.6h-1zM307 144.59h1v7.6h-1zM417 144.59h1v7.6h-1zM420 144.59h1v7.6h-1zM428 144.59h1v7.6h-1zM438 144.59h1v7.6h-1zM449 144.59h1v7.6h-1zM293 152.13h1v7.6h-1zM302 152.13h1v7.6h-1zM438 152.13h2v7.6h-2zM444 152.13h1v7.6h-1zM448 152.13h1v7.6h-1zM481 152.13h1v7.6h-1zM216 159.66h1v7.6h-1zM442 159.66h1v7.6h-1zM445 159.66h2v7.6h-2zM454 159.66h1v7.6h-1zM457 159.66h1v7.6h-1zM476 159.66h1v7.6h-1zM218 167.19h1v7.6h-1zM251 167.19h2v7.6h-2zM443 167.19h2v7.6h-2zM455 167.19h1v7.6h-1zM459 167.19h1v7.6h-1zM483 167.19h1v7.6h-1zM220 174.73h1v7.6h-1zM224 174.73h2v7.6h-2zM229 174.73h1v7.6h-1zM231 174.73h1v7.6h-1zM233 174.73h1v7.6h-1zM235 174.73h2v7.6h-2zM240 174.73h3v7.6h-3zM248 174.73h1v7.6h-1zM252 174.73h1v7.6h-1zM266 174.73h1v7.6h-1zM268 174.73h1v7.6h-1zM284 174.73h1v7.6h-1zM446 174.73h1v7.6h-1zM448 174.73h1v7.6h-1zM450 174.73h1v7.6h-1zM457 174.73h1v7.6h-1zM441 182.26h1v7.6h-1zM445 182.26h2v7.6h-2zM459 182.26h1v7.6h-1zM486 182.26h2v7.6h-2zM379 197.33h1v7.6h-1zM447 197.33h1v7.6h-1zM471 197.33h1v7.6h-1zM486 197.33h1v7.6h-1zM447 204.86h1v7.6h-1zM453 204.86h1v7.6h-1zM464 204.86h1v7.6h-1zM475 204.86h1v7.6h-1zM478 204.86h1v7.6h-1zM482 204.86h1v7.6h-1zM450 212.39h1v7.6h-1zM452 212.39h1v7.6h-1zM459 212.39h1v7.6h-1zM463 212.39h2v7.6h-2zM470 212.39h1v7.6h-1zM481 212.39h2v7.6h-2zM436 219.93h1v7.6h-1zM470 219.93h1v7.6h-1zM478 219.93h2v7.6h-2zM482 219.93h1v7.6h-1zM375 227.46h1v7.6h-1zM435 227.46h1v7.6h-1zM443 227.46h1v7.6h-1zM448 227.46h1v7.6h-1zM457 227.46h1v7.6h-1zM218 234.99h1v7.6h-1zM436 234.99h1v7.6h-1zM444 234.99h1v7.6h-1zM446 234.99h3v7.6h-3zM450 234.99h1v7.6h-1zM481 234.99h1v7.6h-1zM481 242.52h1v7.6h-1zM484 242.52h1v7.6h-1zM224 250.06h1v7.6h-1zM464 250.06h1v7.6h-1zM471 250.06h2v7.6h-2zM475 250.06h1v7.6h-1zM478 250.06h1v7.6h-1zM488 250.06h1v7.6h-1zM220 257.59h1v7.6h-1zM223 257.59h1v7.6h-1zM230 257.59h1v7.6h-1zM239 257.59h1v7.6h-1zM264 257.59h3v7.6h-3zM275 257.59h1v7.6h-1zM284 257.59h1v7.6h-1zM491 280.19h1v7.6h-1zM390 287.72h1v7.6h-1zM419 287.72h1v7.6h-1zM431 287.72h1v7.6h-1zM435 287.72h1v7.6h-1zM438 287.72h1v7.6h-1zM443 287.72h1v7.6h-1zM465 287.72h4v7.6h-4zM473 287.72h1v7.6h-1zM477 287.72h1v7.6h-1zM362 295.26h1v7.6h-1zM451 295.26h1v7.6h-1zM472 295.26h1v7.6h-1zM474 295.26h1v7.6h-1zM478 295.26h1v7.6h-1zM482 295.26h1v7.6h-1z"/>
<path fill="#777711" d="M491 46.67h1v7.6h-1zM239 54.2h1v7.6h-1zM243 54.2h1v7.6h-1zM382 234.99h1v7.6h-1zM284 287.72h1v7.6h-1zM423 295.26h1v7.6h-1z"/>
<path fill="#880077" d="M492 69.27h1v7.6h-1zM371 197.33h1v7.6h-1zM464 227.46h1v7.6h-1zM366 295.26h1v7.6h-1z"/>
<path fill="#880088" d="M296 31.6h1v7.6h-1zM301 31.6h1v7.6h-1zM309 31.6h1v7.6h-1zM322 31.6h1v7.6h-1zM371 31.6h1v7.6h-1zM376 31.6h1v7.6h-1zM383 31.6h1v7.6h-1zM408 31.6h1v7.6h-1zM429 31.6h1v7.6h-1zM286 39.13h1v7.6h-1zM303 39.13h1v7.6h-1zM314 39.13h1v7.6h-1zM322 39.13h1v7.6h-1zM327 39.13h1v7.6h-1zM354 39.13h1v7.6h-1zM376 39.13h1v7.6h-1zM385 39.13h1v7.6h-1zM405 39.13h1v7.6h-1zM368 46.67h1v7.6h-1zM397 46.67h1v7.6h-1zM399 46.67h2v7.6h-2zM402 46.67h1v7.6h-1zM425 46.67h2v7.6h-2zM489 46.67h1v7.6h-1zM492 46.67h1v7.6h-1zM353 54.2h1v7.6h-1zM368 54.2h1v7.6h-1zM381 54.2h1v7.6h-1zM397 54.2h1v7.6h-1zM400 54.2h1v7.6h-1zM415 54.2h1v7.6h-1zM421 54.2h2v7.6h-2zM425 54.2h1v7.6h-1zM429 54.2h1v7.6h-1zM440 54.2h1v7.6h-1zM404 61.73h1v7.6h-1zM408 61.73h1v7.6h-1zM413 61.73h1v7.6h-1zM418 61.73h1v7.6h-1zM429 61.73h1v7.6h-1zM440 61.73h1v7.6h-1zM485 61.73h1v7.6h-1zM492 61.73h1v7.6h-1zM436 69.27h1v7.6h-1zM441 69.27h1v7.6h-1zM443 69.27h1v7.6h-1zM446 69.27h3v7.6h-3zM222 76.8h1v7.6h-1zM226 76.8h1v7.6h-1zM253 76.8h1v7.6h-1zM256 76.8h1v7.6h-1zM273 76.8h1v7.6h-1zM278 76.8h1v7.6h-1zM283 76.8h1v7.6h-1zM442 76.8h1v7.6h-1zM392 84.33h1v7.6h-1zM394 84.33h2v7.6h-2zM399 84.33h1v7.6h-1zM403 84.33h1v7.6h-1zM413 84.33h1v7.6h-1zM418 84.33h1v7.6h-1zM424 84.33h1v7.6h-1zM433 84.33h1v7.6h-1zM492 84.33h1v7.6h-1zM395 91.86h1v7.6h-1zM408 91.86h1v7.6h-1zM429 91.86h1v7.6h-1zM439 91.86h1v7.6h-1zM442 91.86h1v7.6h-1zM218 106.93h2v7.6h-2zM224 106.93h1v7.6h-1zM234 106.93h1v7.6h-1zM238 106.93h1v7.6h-1zM244 106.93h1v7.6h-1zM250 106.93h1v7.6h-1zM254 106.93h1v7.6h-1zM258 106.93h1v7.6h-1zM260 106.93h1v7.6h-1zM264 106.93h1v7.6h-1zM267 106.93h1v7.6h-1zM279 106.93h1v7.6h-1zM404 106.93h1v7.6h-1zM420 106.93h1v7.6h-1zM282 114.46h1v7.6h-1zM286 114.46h1v7.6h-1zM300 114.46h1v7.6h-1zM322 114.46h1v7.6h-1zM327 114.46h1v7.6h-1zM329 114.46h1v7.6h-1zM354 114.46h1v7.6h-1zM364 114.46h1v7.6h-1zM366 114.46h1v7.6h-1zM385 114.46h1v7.6h-1zM303 122h1v7.6h-1zM314 122h1v7.6h-1zM325 122h1v7.6h-1zM329 122h1v7.6h-1zM361 122h1v7.6h-1zM296 129.53h1v7.6h-1zM306 129.53h1v7.6h-1zM314 129.53h1v7.6h-1zM327 129.53h1v7.6h-1zM329 129.53h1v7.6h-1zM346 129.53h1v7.6h-1zM353 129.53h1v7.6h-1zM368 129.53h1v7.6h-1zM385 129.53h1v7.6h-1zM296 137.06h1v7.6h-1zM300 137.06h1v7.6h-1zM303 137.06h1v7.6h-1zM314 137.06h1v7.6h-1zM318 137.06h1v7.6h-1zM346 137.06h1v7.6h-1zM353 137.06h1v7.6h-1zM383 137.06h1v7.6h-1zM256 144.59h1v7.6h-1zM277 144.59h1v7.6h-1zM300 144.59h1v7.6h-1zM303 144.59h1v7.6h-1zM460 144.59h1v7.6h-1zM226 152.13h1v7.6h-1zM233 152.13h1v7.6h-1zM256 152.13h1v7.6h-1zM277 152.13h1v7.6h-1zM300 159.66h1v7.6h-1zM306 159.66h1v7.6h-1zM322 159.66h1v7.6h-1zM404 159.66h2v7.6h-2zM409 159.66h1v7.6h-1zM296 167.19h1v7.6h-1zM300 167.19h1v7.6h-1zM303 167.19h1v7.6h-1zM327 167.19h1v7.6h-1zM329 167.19h1v7.6h-1zM392 167.19h1v7.6h-1zM395 167.19h1v7.6h-1zM405 167.19h1v7.6h-1zM409 167.19h1v7.6h-1zM413 167.19h1v7.6h-1zM415 167.19h1v7.6h-1zM429 167.19h1v7.6h-1zM286 174.73h1v7.6h-1zM296 174.73h1v7.6h-1zM321 174.73h2v7.6h-2zM381 174.73h1v7.6h-1zM405 174.73h1v7.6h-1zM483 174.73h1v7.6h-1zM487 174.73h1v7.6h-1zM269 182.26h1v7.6h-1zM273 182.26h1v7.6h-1zM405 182.26h1v7.6h-1zM226 197.33h1v7.6h-1zM301 197.33h1v7.6h-1zM306 197.33h1v7.6h-1zM322 197.33h1v7.6h-1zM325 197.33h1v7.6h-1zM329 197.33h1v7.6h-1zM368 197.33h1v7.6h-1zM397 197.33h1v7.6h-1zM234 204.86h1v7.6h-1zM240 204.86h1v7.6h-1zM269 204.86h1v7.6h-1zM272 204.86h1v7.6h-1zM286 204.86h1v7.6h-1zM296 204.86h1v7.6h-1zM314 204.86h1v7.6h-1zM322 204.86h1v7.6h-1zM335 204.86h1v7.6h-1zM341 204.86h1v7.6h-1zM361 204.86h1v7.6h-1zM395 204.86h1v7.6h-1zM397 204.86h1v7.6h-1zM400 204.86h1v7.6h-1zM418 204.86h1v7.6h-1zM425 204.86h2v7.6h-2zM433 204.86h1v7.6h-1zM227 212.39h1v7.6h-1zM296 212.39h1v7.6h-1zM303 212.39h2v7.6h-2zM314 212.39h1v7.6h-1zM318 212.39h1v7.6h-1zM347 212.39h1v7.6h-1zM402 212.39h1v7.6h-1zM404 212.39h1v7.6h-1zM418 212.39h1v7.6h-1zM421 212.39h1v7.6h-1zM424 212.39h1v7.6h-1zM222 219.93h1v7.6h-1zM227 219.93h1v7.6h-1zM282 219.93h1v7.6h-1zM286 219.93h1v7.6h-1zM296 219.93h1v7.6h-1zM300 219.93h2v7.6h-2zM322 219.93h1v7.6h-1zM329 219.93h1v7.6h-1zM395 219.93h1v7.6h-1zM400 219.93h1v7.6h-1zM403 219.93h1v7.6h-1zM413 219.93h2v7.6h-2zM418 219.93h1v7.6h-1zM424 219.93h2v7.6h-2zM427 219.93h1v7.6h-1zM429 219.93h1v7.6h-1zM232 227.46h1v7.6h-1zM278 227.46h1v7.6h-1zM282 227.46h1v7.6h-1zM300 227.46h1v7.6h-1zM322 227.46h1v7.6h-1zM329 227.46h1v7.6h-1zM353 227.46h1v7.6h-1zM404 227.46h1v7.6h-1zM407 227.46h1v7.6h-1zM409 227.46h1v7.6h-1zM413 227.46h1v7.6h-1zM415 227.46h1v7.6h-1zM429 227.46h1v7.6h-1zM433 227.46h1v7.6h-1zM286 234.99h1v7.6h-1zM300 234.99h1v7.6h-1zM303 234.99h1v7.6h-1zM306 234.99h1v7.6h-1zM322 234.99h1v7.6h-1zM329 234.99h1v7.6h-1zM340 234.99h1v7.6h-1zM350 234.99h1v7.6h-1zM368 234.99h1v7.6h-1zM392 234.99h1v7.6h-1zM399 234.99h4v7.6h-4zM406 234.99h1v7.6h-1zM420 234.99h2v7.6h-2zM427 234.99h1v7.6h-1zM432 234.99h1v7.6h-1zM474 234.99h1v7.6h-1zM248 250.06h1v7.6h-1zM277 250.06h1v7.6h-1zM282 250.06h1v7.6h-1zM381 250.06h1v7.6h-1zM454 250.06h1v7.6h-1zM381 257.59h1v7.6h-1zM405 257.59h1v7.6h-1zM409 257.59h1v7.6h-1zM429 257.59h1v7.6h-1zM440 257.59h1v7.6h-1zM282 287.72h1v7.6h-1zM368 287.72h1v7.6h-1zM415 287.72h1v7.6h-1zM454 287.72h1v7.6h-1zM283 295.26h1v7.6h-1zM296 295.26h1v7.6h-1zM303 295.26h1v7.6h-1zM315 295.26h1v7.6h-1zM329 295.26h1v7.6h-1zM368 295.26h1v7.6h-1z"/>
<path fill="#881166" d="M442 46.67h1v7.6h-1zM458 46.67h1v7.6h-1zM377 204.86h1v7.6h-1zM442 204.86h1v7.6h-1zM389 287.72h1v7.6h-1z"/>
<path fill="#881177" d="M411 31.6h1v7.6h-1zM392 39.13h1v7.6h-1zM318 144.59h1v7.6h-1zM371 152.13h1v7.6h-1zM256 159.66h1v7.6h-1zM440 197.33h1v7.6h-1zM247 204.86h1v7.6h-1zM268 212.39h1v7.6h-1zM440 212.39h1v7.6h-1zM248 219.93h1v7.6h-1zM236 227.46h1v7.6h-1zM240 234.99h1v7.6h-1zM369 234.99h1v7.6h-1zM231 250.06h1v7.6h-1zM242 250.06h1v7.6h-1zM364 257.59h1v7.6h-1zM435 257.59h1v7.6h-1zM407 287.72h1v7.6h-1zM286 295.26h1v7.6h-1z"/>
<path fill="#881188" d="M439 31.6h1v7.6h-1zM283 167.19h1v7.6h-1zM457 250.06h1v7.6h-1zM301 295.26h1v7.6h-1zM405 295.26h1v7.6h-1z"/>
<path fill="#882255" d="M229 197.33h1v7.6h-1zM252 227.46h1v7.6h-1zM269 234.99h1v7.6h-1z"/>
<path fill="#882266" d="M408 39.13h1v7.6h-1zM369 197.33h1v7.6h-1zM386 204.86h1v7.6h-1zM253 219.93h1v7.6h-1zM437 257.59h1v7.6h-1zM248 287.72h1v7.6h-1zM335 287.72h1v7.6h-1z"/>
<path fill="#882277" d="M404 31.6h1v7.6h-1zM440 46.67h1v7.6h-1zM492 159.66h1v7.6h-1zM278 219.93h1v7.6h-1zM471 227.46h1v7.6h-1zM323 295.26h1v7.6h-1z"/>
<path fill="#883344" d="M467 227.46h1v7.6h-1z"/>
<path fill="#883355" d="M493 54.2h1v7.6h-1zM414 106.93h1v7.6h-1zM331 144.59h1v7.6h-1zM271 167.19h1v7.6h-1zM277 212.39h1v7.6h-1zM314 257.59h1v7.6h-1zM404 287.72h1v7.6h-1zM264 295.26h1v7.6h-1zM360 295.26h1v7.6h-1z"/>
<path fill="#883366" d="M234 234.99h1v7.6h-1zM273 287.72h1v7.6h-1z"/>
<path fill="#884433" d="M424 106.93h1v7.6h-1zM272 167.19h1v7.6h-1z"/>
<path fill="#884444" d="M311 144.59h1v7.6h-1zM413 144.59h1v7.6h-1zM265 167.19h1v7.6h-1zM387 204.86h1v7.6h-1z"/>
<path fill="#885522" d="M265 197.33h1v7.6h-1zM281 204.86h1v7.6h-1zM360 219.93h1v7.6h-1zM389 250.06h1v7.6h-1zM349 257.59h1v7.6h-1z"/>
<path fill="#885533" d="M460 31.6h1v7.6h-1zM226 54.2h1v7.6h-1zM491 129.53h1v7.6h-1zM365 152.13h1v7.6h-1zM255 159.66h1v7.6h-1zM271 159.66h1v7.6h-1zM229 167.19h1v7.6h-1zM232 167.19h1v7.6h-1zM270 167.19h1v7.6h-1zM351 197.33h1v7.6h-1zM260 287.72h1v7.6h-1zM359 287.72h1v7.6h-1zM386 287.72h1v7.6h-1zM403 287.72h1v7.6h-1zM427 287.72h1v7.6h-1zM252 295.26h1v7.6h-1zM460 295.26h1v7.6h-1z"/>
<path fill="#885544" d="M446 31.6h1v7.6h-1z"/>
<path fill="#886611" d="M459 31.6h1v7.6h-1zM245 54.2h1v7.6h-1zM324 152.13h1v7.6h-1zM438 250.06h1v7.6h-1zM238 295.26h1v7.6h-1z"/>
<path fill="#886622" d="M217 54.2h1v7.6h-1zM242 54.2h1v7.6h-1zM305 144.59h1v7.6h-1zM307 152.13h1v7.6h-1zM380 234.99h1v7.6h-1zM351 295.26h1v7.6h-1zM427 295.26h1v7.6h-1z"/>
<path fill="#886633" d="M310 287.72h1v7.6h-1z"/>
<path fill="#887700" d="M439 61.73h1v7.6h-1zM423 144.59h1v7.6h-1zM380 152.13h1v7.6h-1z"/>
<path fill="#887711" d="M419 31.6h1v7.6h-1zM455 46.67h1v7.6h-1zM252 54.2h1v7.6h-1zM221 159.66h1v7.6h-1zM225 197.33h1v7.6h-1zM436 204.86h1v7.6h-1zM455 204.86h1v7.6h-1zM493 242.52h1v7.6h-1zM352 250.06h1v7.6h-1zM336 287.72h1v7.6h-1zM375 287.72h1v7.6h-1zM450 295.26h1v7.6h-1z"/>
<path fill="#887722" d="M428 197.33h1v7.6h-1zM491 219.93h1v7.6h-1z"/>
<path fill="#888800" d="M219 31.6h1v7.6h-1zM228 31.6h1v7.6h-1zM231 31.6h1v7.6h-1zM247 31.6h1v7.6h-1zM250 31.6h1v7.6h-1zM252 31.6h1v7.6h-1zM257 31.6h1v7.6h-1zM265 31.6h1v7.6h-1zM267 31.6h1v7.6h-1zM270 31.6h1v7.6h-1zM274 31.6h1v7.6h-1zM453 31.6h1v7.6h-1zM216 39.13h2v7.6h-2zM221 39.13h1v7.6h-1zM231 39.13h1v7.6h-1zM236 39.13h1v7.6h-1zM239 39.13h1v7.6h-1zM242 39.13h1v7.6h-1zM246 39.13h1v7.6h-1zM251 39.13h1v7.6h-1zM260 39.13h1v7.6h-1zM264 39.13h1v7.6h-1zM268 39.13h1v7.6h-1zM273 39.13h1v7.6h-1zM491 39.13h1v7.6h-1zM218 46.67h1v7.6h-1zM237 46.67h1v7.6h-1zM239 46.67h1v7.6h-1zM249 46.67h1v7.6h-1zM266 46.67h1v7.6h-1zM281 46.67h1v7.6h-1zM216 54.2h1v7.6h-1zM238 54.2h1v7.6h-1zM260 54.2h1v7.6h-1zM264 54.2h1v7.6h-1zM272 54.2h1v7.6h-1zM279 54.2h2v7.6h-2zM443 54.2h1v7.6h-1zM446 54.2h1v7.6h-1zM449 54.2h1v7.6h-1zM454 54.2h1v7.6h-1zM491 54.2h1v7.6h-1zM216 61.73h1v7.6h-1zM223 61.73h1v7.6h-1zM225 61.73h1v7.6h-1zM231 61.73h2v7.6h-2zM238 61.73h1v7.6h-1zM249 61.73h1v7.6h-1zM252 61.73h1v7.6h-1zM255 61.73h1v7.6h-1zM267 61.73h2v7.6h-2zM270 61.73h1v7.6h-1zM284 61.73h1v7.6h-1zM362 76.8h1v7.6h-1zM287 106.93h1v7.6h-1zM299 106.93h1v7.6h-1zM307 106.93h1v7.6h-1zM313 106.93h1v7.6h-1zM326 106.93h1v7.6h-1zM333 106.93h1v7.6h-1zM339 106.93h1v7.6h-1zM342 106.93h2v7.6h-2zM352 106.93h1v7.6h-1zM362 106.93h1v7.6h-1zM370 106.93h1v7.6h-1zM380 106.93h1v7.6h-1zM493 106.93h1v7.6h-1zM395 114.46h1v7.6h-1zM400 114.46h3v7.6h-3zM406 114.46h1v7.6h-1zM413 114.46h1v7.6h-1zM415 114.46h1v7.6h-1zM421 114.46h1v7.6h-1zM424 114.46h1v7.6h-1zM426 114.46h1v7.6h-1zM462 114.46h1v7.6h-1zM465 114.46h1v7.6h-1zM469 114.46h1v7.6h-1zM478 114.46h2v7.6h-2zM393 122h1v7.6h-1zM401 122h1v7.6h-1zM403 122h1v7.6h-1zM406 122h1v7.6h-1zM412 122h1v7.6h-1zM424 122h1v7.6h-1zM426 122h3v7.6h-3zM431 122h1v7.6h-1zM467 122h1v7.6h-1zM469 122h1v7.6h-1zM476 122h1v7.6h-1zM395 129.53h1v7.6h-1zM399 129.53h1v7.6h-1zM402 129.53h2v7.6h-2zM405 129.53h1v7.6h-1zM407 129.53h1v7.6h-1zM411 129.53h1v7.6h-1zM414 129.53h1v7.6h-1zM418 129.53h1v7.6h-1zM477 129.53h1v7.6h-1zM479 129.53h1v7.6h-1zM392 137.06h1v7.6h-1zM395 137.06h1v7.6h-1zM399 137.06h2v7.6h-2zM403 137.06h2v7.6h-2zM414 137.06h1v7.6h-1zM418 137.06h1v7.6h-1zM421 137.06h1v7.6h-1zM468 137.06h2v7.6h-2zM476 137.06h1v7.6h-1zM313 152.13h1v7.6h-1zM316 152.13h1v7.6h-1zM328 152.13h1v7.6h-1zM333 152.13h1v7.6h-1zM344 152.13h1v7.6h-1zM362 152.13h1v7.6h-1zM435 152.13h1v7.6h-1zM443 152.13h1v7.6h-1zM449 152.13h1v7.6h-1zM459 152.13h1v7.6h-1zM482 152.13h1v7.6h-1zM237 159.66h1v7.6h-1zM437 159.66h2v7.6h-2zM441 159.66h1v7.6h-1zM443 159.66h2v7.6h-2zM449 159.66h1v7.6h-1zM455 159.66h1v7.6h-1zM463 159.66h1v7.6h-1zM467 159.66h2v7.6h-2zM477 159.66h3v7.6h-3zM481 159.66h1v7.6h-1zM488 159.66h1v7.6h-1zM255 167.19h1v7.6h-1zM435 167.19h1v7.6h-1zM447 167.19h1v7.6h-1zM451 167.19h2v7.6h-2zM481 167.19h2v7.6h-2zM487 167.19h1v7.6h-1zM489 167.19h2v7.6h-2zM216 174.73h3v7.6h-3zM221 174.73h1v7.6h-1zM230 174.73h1v7.6h-1zM238 174.73h1v7.6h-1zM243 174.73h2v7.6h-2zM251 174.73h1v7.6h-1zM255 174.73h1v7.6h-1zM258 174.73h1v7.6h-1zM260 174.73h1v7.6h-1zM267 174.73h1v7.6h-1zM279 174.73h1v7.6h-1zM436 174.73h2v7.6h-2zM443 174.73h3v7.6h-3zM447 174.73h1v7.6h-1zM455 174.73h1v7.6h-1zM459 174.73h1v7.6h-1zM491 174.73h1v7.6h-1zM437 182.26h1v7.6h-1zM444 182.26h1v7.6h-1zM455 182.26h1v7.6h-1zM483 182.26h1v7.6h-1zM485 182.26h1v7.6h-1zM490 182.26h1v7.6h-1zM396 197.33h1v7.6h-1zM482 197.33h1v7.6h-1zM488 197.33h1v7.6h-1zM490 197.33h1v7.6h-1zM493 197.33h1v7.6h-1zM463 204.86h1v7.6h-1zM469 204.86h1v7.6h-1zM472 204.86h1v7.6h-1zM481 204.86h1v7.6h-1zM483 204.86h1v7.6h-1zM485 204.86h1v7.6h-1zM488 204.86h1v7.6h-1zM491 204.86h1v7.6h-1zM359 212.39h1v7.6h-1zM362 212.39h1v7.6h-1zM451 212.39h1v7.6h-1zM465 212.39h1v7.6h-1zM467 212.39h1v7.6h-1zM471 212.39h1v7.6h-1zM474 212.39h1v7.6h-1zM478 212.39h1v7.6h-1zM485 212.39h4v7.6h-4zM390 219.93h1v7.6h-1zM453 219.93h1v7.6h-1zM467 219.93h1v7.6h-1zM469 219.93h1v7.6h-1zM473 219.93h1v7.6h-1zM476 219.93h1v7.6h-1zM490 219.93h1v7.6h-1zM493 219.93h1v7.6h-1zM449 227.46h1v7.6h-1zM451 227.46h1v7.6h-1zM455 227.46h1v7.6h-1zM481 227.46h2v7.6h-2zM490 227.46h1v7.6h-1zM435 234.99h1v7.6h-1zM443 234.99h1v7.6h-1zM449 234.99h1v7.6h-1zM451 234.99h2v7.6h-2zM455 234.99h1v7.6h-1zM482 234.99h1v7.6h-1zM486 234.99h1v7.6h-1zM488 234.99h1v7.6h-1zM490 234.99h2v7.6h-2zM463 250.06h1v7.6h-1zM465 250.06h1v7.6h-1zM467 250.06h1v7.6h-1zM476 250.06h1v7.6h-1zM482 250.06h1v7.6h-1zM490 250.06h1v7.6h-1zM216 257.59h1v7.6h-1zM231 257.59h1v7.6h-1zM237 257.59h1v7.6h-1zM249 257.59h1v7.6h-1zM263 257.59h1v7.6h-1zM270 257.59h1v7.6h-1zM276 257.59h1v7.6h-1zM280 257.59h1v7.6h-1zM491 257.59h1v7.6h-1zM216 287.72h1v7.6h-1zM255 287.72h1v7.6h-1zM313 287.72h1v7.6h-1zM331 287.72h1v7.6h-1zM362 287.72h1v7.6h-1zM379 287.72h1v7.6h-1zM476 287.72h1v7.6h-1zM479 287.72h1v7.6h-1zM484 287.72h1v7.6h-1zM237 295.26h1v7.6h-1zM406 295.26h1v7.6h-1zM438 295.26h1v7.6h-1zM453 295.26h1v7.6h-1zM462 295.26h1v7.6h-1zM464 295.26h1v7.6h-1zM470 295.26h2v7.6h-2zM477 295.26h1v7.6h-1zM481 295.26h1v7.6h-1zM488 295.26h1v7.6h-1zM490 295.26h1v7.6h-1z"/>
<path fill="#888811" d="M452 46.67h1v7.6h-1zM337 287.72h1v7.6h-1z"/>
<path fill="#990099" d="M300 31.6h1v7.6h-1zM303 31.6h1v7.6h-1zM306 31.6h1v7.6h-1zM318 31.6h1v7.6h-1zM327 31.6h1v7.6h-1zM329 31.6h1v7.6h-1zM354 31.6h1v7.6h-1zM385 31.6h1v7.6h-1zM440 31.6h1v7.6h-1zM296 39.13h1v7.6h-1zM318 39.13h1v7.6h-1zM353 39.13h1v7.6h-1zM368 39.13h1v7.6h-1zM383 39.13h1v7.6h-1zM397 39.13h1v7.6h-1zM407 39.13h1v7.6h-1zM422 39.13h1v7.6h-1zM405 46.67h1v7.6h-1zM407 46.67h1v7.6h-1zM409 46.67h1v7.6h-1zM415 46.67h1v7.6h-1zM429 46.67h1v7.6h-1zM481 46.67h3v7.6h-3zM485 46.67h1v7.6h-1zM487 46.67h1v7.6h-1zM490 46.67h1v7.6h-1zM395 54.2h1v7.6h-1zM404 54.2h2v7.6h-2zM409 54.2h1v7.6h-1zM353 61.73h2v7.6h-2zM368 61.73h1v7.6h-1zM381 61.73h1v7.6h-1zM405 61.73h1v7.6h-1zM484 61.73h1v7.6h-1zM437 69.27h1v7.6h-1zM439 69.27h1v7.6h-1zM444 69.27h2v7.6h-2zM459 69.27h1v7.6h-1zM269 76.8h1v7.6h-1zM277 76.8h1v7.6h-1zM282 76.8h1v7.6h-1zM440 76.8h1v7.6h-1zM456 76.8h1v7.6h-1zM397 84.33h1v7.6h-1zM405 84.33h1v7.6h-1zM407 84.33h1v7.6h-1zM409 84.33h1v7.6h-1zM414 84.33h2v7.6h-2zM421 84.33h1v7.6h-1zM425 84.33h1v7.6h-1zM429 84.33h1v7.6h-1zM397 91.86h1v7.6h-1zM404 91.86h2v7.6h-2zM407 91.86h1v7.6h-1zM415 91.86h1v7.6h-1zM422 91.86h1v7.6h-1zM425 91.86h1v7.6h-1zM440 91.86h1v7.6h-1zM456 91.86h3v7.6h-3zM484 91.86h1v7.6h-1zM221 106.93h1v7.6h-1zM223 106.93h1v7.6h-1zM228 106.93h2v7.6h-2zM231 106.93h1v7.6h-1zM233 106.93h1v7.6h-1zM240 106.93h4v7.6h-4zM247 106.93h1v7.6h-1zM251 106.93h1v7.6h-1zM257 106.93h1v7.6h-1zM261 106.93h1v7.6h-1zM271 106.93h2v7.6h-2zM278 106.93h1v7.6h-1zM413 106.93h1v7.6h-1zM303 114.46h1v7.6h-1zM306 114.46h1v7.6h-1zM318 114.46h1v7.6h-1zM353 114.46h1v7.6h-1zM376 114.46h1v7.6h-1zM381 114.46h1v7.6h-1zM286 122h1v7.6h-1zM300 122h1v7.6h-1zM371 122h1v7.6h-1zM300 129.53h1v7.6h-1zM322 129.53h1v7.6h-1zM381 129.53h1v7.6h-1zM368 137.06h1v7.6h-1zM283 144.59h1v7.6h-1zM381 144.59h1v7.6h-1zM283 152.13h1v7.6h-1zM381 152.13h1v7.6h-1zM303 159.66h1v7.6h-1zM353 159.66h2v7.6h-2zM422 159.66h1v7.6h-1zM322 167.19h1v7.6h-1zM381 167.19h1v7.6h-1zM422 167.19h1v7.6h-1zM422 174.73h1v7.6h-1zM485 174.73h1v7.6h-1zM488 174.73h1v7.6h-1zM490 174.73h1v7.6h-1zM256 182.26h1v7.6h-1zM282 182.26h2v7.6h-2zM296 197.33h1v7.6h-1zM409 197.33h1v7.6h-1zM422 197.33h1v7.6h-1zM222 204.86h1v7.6h-1zM300 204.86h1v7.6h-1zM303 204.86h1v7.6h-1zM330 204.86h1v7.6h-1zM353 204.86h1v7.6h-1zM368 204.86h1v7.6h-1zM404 204.86h1v7.6h-1zM407 204.86h1v7.6h-1zM413 204.86h1v7.6h-1zM415 204.86h1v7.6h-1zM429 204.86h1v7.6h-1zM440 204.86h1v7.6h-1zM286 212.39h1v7.6h-1zM301 212.39h1v7.6h-1zM329 212.39h1v7.6h-1zM358 212.39h1v7.6h-1zM368 212.39h1v7.6h-1zM385 212.39h1v7.6h-1zM395 212.39h1v7.6h-1zM397 212.39h1v7.6h-1zM403 212.39h1v7.6h-1zM408 212.39h1v7.6h-1zM413 212.39h1v7.6h-1zM425 212.39h1v7.6h-1zM429 212.39h1v7.6h-1zM269 219.93h1v7.6h-1zM397 219.93h1v7.6h-1zM399 219.93h1v7.6h-1zM404 219.93h1v7.6h-1zM408 219.93h1v7.6h-1zM283 227.46h1v7.6h-1zM296 227.46h1v7.6h-1zM306 227.46h1v7.6h-1zM368 227.46h1v7.6h-1zM397 227.46h1v7.6h-1zM408 227.46h1v7.6h-1zM422 227.46h1v7.6h-1zM253 234.99h1v7.6h-1zM256 234.99h1v7.6h-1zM296 234.99h1v7.6h-1zM381 234.99h1v7.6h-1zM395 234.99h1v7.6h-1zM397 234.99h1v7.6h-1zM403 234.99h1v7.6h-1zM411 234.99h1v7.6h-1zM414 234.99h1v7.6h-1zM430 234.99h1v7.6h-1zM253 250.06h1v7.6h-1zM300 250.06h1v7.6h-1zM327 250.06h1v7.6h-1zM458 250.06h1v7.6h-1zM385 257.59h1v7.6h-1zM456 257.59h2v7.6h-2zM381 287.72h1v7.6h-1zM397 287.72h1v7.6h-1zM353 295.26h1v7.6h-1z"/>
<path fill="#991177" d="M296 144.59h1v7.6h-1zM282 212.39h1v7.6h-1zM271 234.99h1v7.6h-1z"/>
<path fill="#991188" d="M296 152.13h1v7.6h-1zM222 197.33h1v7.6h-1zM229 295.26h1v7.6h-1z"/>
<path fill="#992266" d="M406 39.13h1v7.6h-1z"/>
<path fill="#992277" d="M283 159.66h1v7.6h-1zM350 219.93h1v7.6h-1zM388 234.99h1v7.6h-1zM364 287.72h1v7.6h-1zM313 295.26h1v7.6h-1z"/>
<path fill="#992288" d="M329 257.59h1v7.6h-1z"/>
<path fill="#993366" d="M492 99.4h1v7.6h-1zM267 234.99h1v7.6h-1zM301 250.06h1v7.6h-1zM382 250.06h1v7.6h-1z"/>
<path fill="#993377" d="M418 39.13h1v7.6h-1z"/>
<path fill="#994444" d="M382 219.93h1v7.6h-1zM244 295.26h1v7.6h-1z"/>
<path fill="#994455" d="M273 54.2h1v7.6h-1zM257 197.33h1v7.6h-1zM445 250.06h1v7.6h-1zM241 295.26h1v7.6h-1zM266 295.26h1v7.6h-1z"/>
<path fill="#994466" d="M237 219.93h1v7.6h-1z"/>
<path fill="#995544" d="M445 39.13h1v7.6h-1zM232 204.86h1v7.6h-1zM263 250.06h1v7.6h-1z"/>
<path fill="#996622" d="M217 197.33h1v7.6h-1zM438 204.86h1v7.6h-1zM244 219.93h1v7.6h-1z"/>
<path fill="#996633" d="M441 197.33h1v7.6h-1zM223 204.86h1v7.6h-1zM267 287.72h1v7.6h-1zM403 295.26h1v7.6h-1zM420 295.26h1v7.6h-1z"/>
<path fill="#996644" d="M398 31.6h1v7.6h-1zM217 250.06h1v7.6h-1z"/>
<path fill="#997722" d="M219 159.66h1v7.6h-1z"/>
<path fill="#998800" d="M430 144.59h1v7.6h-1z"/>
<path fill="#998811" d="M232 54.2h1v7.6h-1zM234 54.2h1v7.6h-1zM276 54.2h1v7.6h-1zM451 54.2h1v7.6h-1zM359 152.13h1v7.6h-1zM280 167.19h1v7.6h-1zM355 257.59h1v7.6h-1zM307 287.72h1v7.6h-1z"/>
<path fill="#998822" d="M362 227.46h1v7.6h-1zM367 250.06h1v7.6h-1z"/>
<path fill="#999900" d="M223 31.6h2v7.6h-2zM230 31.6h1v7.6h-1zM234 31.6h2v7.6h-2zM238 31.6h1v7.6h-1zM243 31.6h1v7.6h-1zM245 31.6h2v7.6h-2zM248 31.6h1v7.6h-1zM251 31.6h1v7.6h-1zM254 31.6h1v7.6h-1zM263 31.6h2v7.6h-2zM266 31.6h1v7.6h-1zM268 31.6h1v7.6h-1zM272 31.6h1v7.6h-1zM275 31.6h1v7.6h-1zM279 31.6h1v7.6h-1zM281 31.6h1v7.6h-1zM452 31.6h1v7.6h-1zM232 39.13h2v7.6h-2zM238 39.13h1v7.6h-1zM244 39.13h1v7.6h-1zM252 39.13h1v7.6h-1zM255 39.13h1v7.6h-1zM257 39.13h2v7.6h-2zM263 39.13h1v7.6h-1zM266 39.13h1v7.6h-1zM276 39.13h1v7.6h-1zM279 39.13h1v7.6h-1zM281 39.13h1v7.6h-1zM284 39.13h1v7.6h-1zM455 39.13h1v7.6h-1zM220 54.2h1v7.6h-1zM224 54.2h1v7.6h-1zM254 54.2h1v7.6h-1zM259 54.2h1v7.6h-1zM270 54.2h1v7.6h-1zM281 54.2h1v7.6h-1zM239 61.73h1v7.6h-1zM244 61.73h1v7.6h-1zM251 61.73h1v7.6h-1zM263 61.73h2v7.6h-2zM266 61.73h1v7.6h-1zM280 61.73h1v7.6h-1zM449 61.73h1v7.6h-1zM292 106.93h1v7.6h-1zM305 106.93h1v7.6h-1zM328 106.93h1v7.6h-1zM392 114.46h1v7.6h-1zM398 114.46h2v7.6h-2zM403 114.46h1v7.6h-1zM414 114.46h1v7.6h-1zM429 114.46h1v7.6h-1zM431 114.46h1v7.6h-1zM466 114.46h1v7.6h-1zM476 114.46h1v7.6h-1zM410 122h2v7.6h-2zM417 122h1v7.6h-1zM420 122h1v7.6h-1zM423 122h1v7.6h-1zM430 122h1v7.6h-1zM466 122h1v7.6h-1zM392 129.53h1v7.6h-1zM401 129.53h1v7.6h-1zM416 129.53h1v7.6h-1zM421 129.53h1v7.6h-1zM424 129.53h1v7.6h-1zM430 129.53h1v7.6h-1zM433 129.53h1v7.6h-1zM476 129.53h1v7.6h-1zM394 137.06h1v7.6h-1zM402 137.06h1v7.6h-1zM416 137.06h1v7.6h-1zM426 137.06h2v7.6h-2zM466 137.06h1v7.6h-1zM473 137.06h1v7.6h-1zM478 137.06h1v7.6h-1zM419 144.59h1v7.6h-1zM451 144.59h1v7.6h-1zM342 152.13h1v7.6h-1zM447 152.13h1v7.6h-1zM451 152.13h3v7.6h-3zM455 152.13h1v7.6h-1zM485 152.13h2v7.6h-2zM488 152.13h1v7.6h-1zM280 159.66h1v7.6h-1zM435 159.66h1v7.6h-1zM450 159.66h2v7.6h-2zM459 159.66h1v7.6h-1zM469 159.66h1v7.6h-1zM473 159.66h1v7.6h-1zM482 159.66h2v7.6h-2zM490 159.66h1v7.6h-1zM237 167.19h1v7.6h-1zM438 167.19h1v7.6h-1zM449 167.19h1v7.6h-1zM453 167.19h1v7.6h-1zM485 167.19h1v7.6h-1zM219 174.73h1v7.6h-1zM263 174.73h2v7.6h-2zM438 174.73h1v7.6h-1zM449 174.73h1v7.6h-1zM453 174.73h1v7.6h-1zM438 182.26h1v7.6h-1zM443 182.26h1v7.6h-1zM447 182.26h1v7.6h-1zM451 182.26h1v7.6h-1zM489 182.26h1v7.6h-1zM219 197.33h1v7.6h-1zM444 197.33h1v7.6h-1zM453 197.33h1v7.6h-1zM462 197.33h3v7.6h-3zM467 197.33h2v7.6h-2zM472 197.33h1v7.6h-1zM475 197.33h1v7.6h-1zM481 197.33h1v7.6h-1zM483 197.33h1v7.6h-1zM485 197.33h1v7.6h-1zM462 204.86h1v7.6h-1zM467 204.86h2v7.6h-2zM470 204.86h1v7.6h-1zM476 204.86h1v7.6h-1zM479 204.86h1v7.6h-1zM486 204.86h2v7.6h-2zM490 204.86h1v7.6h-1zM441 212.39h1v7.6h-1zM462 212.39h1v7.6h-1zM479 212.39h1v7.6h-1zM483 212.39h1v7.6h-1zM489 212.39h1v7.6h-1zM493 212.39h1v7.6h-1zM438 219.93h1v7.6h-1zM477 219.93h1v7.6h-1zM481 219.93h1v7.6h-1zM483 219.93h2v7.6h-2zM486 219.93h3v7.6h-3zM239 227.46h1v7.6h-1zM438 227.46h1v7.6h-1zM447 227.46h1v7.6h-1zM452 227.46h1v7.6h-1zM466 227.46h1v7.6h-1zM483 227.46h1v7.6h-1zM485 227.46h1v7.6h-1zM487 227.46h2v7.6h-2zM491 227.46h1v7.6h-1zM438 234.99h1v7.6h-1zM453 234.99h1v7.6h-1zM485 234.99h1v7.6h-1zM487 234.99h1v7.6h-1zM493 234.99h1v7.6h-1zM466 250.06h1v7.6h-1zM468 250.06h2v7.6h-2zM477 250.06h1v7.6h-1zM479 250.06h1v7.6h-1zM481 250.06h1v7.6h-1zM493 265.12h1v7.6h-1zM218 287.72h1v7.6h-1zM237 287.72h1v7.6h-1zM266 287.72h1v7.6h-1zM281 287.72h1v7.6h-1zM349 287.72h1v7.6h-1zM469 287.72h1v7.6h-1zM431 295.26h1v7.6h-1zM463 295.26h1v7.6h-1zM467 295.26h1v7.6h-1zM475 295.26h2v7.6h-2zM479 295.26h1v7.6h-1zM483 295.26h1v7.6h-1zM486 295.26h2v7.6h-2z"/>
<path fill="#999911" d="M452 287.72h1v7.6h-1z"/>
<path fill="#aa0099" d="M458 106.93h1v7.6h-1z"/>
<path fill="#aa00aa" d="M381 31.6h1v7.6h-1zM484 31.6h1v7.6h-1zM487 31.6h1v7.6h-1zM300 39.13h1v7.6h-1zM483 39.13h2v7.6h-2zM404 46.67h1v7.6h-1zM408 46.67h1v7.6h-1zM422 46.67h1v7.6h-1zM486 46.67h1v7.6h-1zM488 46.67h1v7.6h-1zM407 54.2h1v7.6h-1zM422 61.73h1v7.6h-1zM486 61.73h1v7.6h-1zM489 61.73h1v7.6h-1zM450 69.27h1v7.6h-1zM454 69.27h1v7.6h-1zM457 69.27h1v7.6h-1zM227 76.8h1v7.6h-1zM404 84.33h1v7.6h-1zM408 84.33h1v7.6h-1zM484 84.33h1v7.6h-1zM409 91.86h1v7.6h-1zM418 91.86h1v7.6h-1zM485 91.86h1v7.6h-1zM490 91.86h1v7.6h-1zM484 99.4h1v7.6h-1zM227 106.93h1v7.6h-1zM246 106.93h1v7.6h-1zM248 106.93h1v7.6h-1zM253 106.93h1v7.6h-1zM262 106.93h1v7.6h-1zM274 106.93h2v7.6h-2zM282 106.93h1v7.6h-1zM422 106.93h1v7.6h-1zM368 122h1v7.6h-1zM376 122h1v7.6h-1zM381 137.06h1v7.6h-1zM330 144.59h1v7.6h-1zM350 152.13h1v7.6h-1zM303 174.73h1v7.6h-1zM481 174.73h2v7.6h-2zM300 197.33h1v7.6h-1zM405 197.33h1v7.6h-1zM371 204.86h1v7.6h-1zM381 204.86h1v7.6h-1zM405 204.86h1v7.6h-1zM422 204.86h1v7.6h-1zM283 212.39h1v7.6h-1zM300 212.39h1v7.6h-1zM364 212.39h1v7.6h-1zM383 212.39h1v7.6h-1zM405 212.39h1v7.6h-1zM407 212.39h1v7.6h-1zM415 212.39h1v7.6h-1zM433 212.39h1v7.6h-1zM283 219.93h1v7.6h-1zM368 219.93h1v7.6h-1zM405 219.93h1v7.6h-1zM407 219.93h1v7.6h-1zM409 219.93h1v7.6h-1zM415 219.93h1v7.6h-1zM422 219.93h1v7.6h-1zM229 227.46h1v7.6h-1zM246 227.46h1v7.6h-1zM385 227.46h1v7.6h-1zM405 227.46h1v7.6h-1zM250 234.99h1v7.6h-1zM273 234.99h1v7.6h-1zM277 234.99h1v7.6h-1zM364 234.99h1v7.6h-1zM405 234.99h1v7.6h-1zM407 234.99h2v7.6h-2zM413 234.99h1v7.6h-1zM415 234.99h1v7.6h-1zM424 234.99h3v7.6h-3zM433 234.99h1v7.6h-1zM247 250.06h1v7.6h-1zM368 250.06h1v7.6h-1zM383 250.06h1v7.6h-1zM460 250.06h1v7.6h-1zM409 287.72h1v7.6h-1zM222 295.26h1v7.6h-1zM277 295.26h1v7.6h-1zM440 295.26h1v7.6h-1z"/>
<path fill="#aa1188" d="M236 287.72h1v7.6h-1z"/>
<path fill="#aa1199" d="M418 106.93h1v7.6h-1z"/>
<path fill="#aa2277" d="M429 287.72h1v7.6h-1z"/>
<path fill="#aa3366" d="M349 234.99h1v7.6h-1z"/>
<path fill="#aa3377" d="M366 197.33h1v7.6h-1z"/>
<path fill="#aa5555" d="M221 197.33h1v7.6h-1z"/>
<path fill="#aa6644" d="M451 250.06h1v7.6h-1zM346 287.72h1v7.6h-1z"/>
<path fill="#aa7733" d="M311 152.13h1v7.6h-1zM304 250.06h1v7.6h-1z"/>
<path fill="#aa8822" d="M398 144.59h1v7.6h-1z"/>
<path fill="#aa9911" d="M455 144.59h1v7.6h-1zM343 152.13h1v7.6h-1z"/>
<path fill="#aaaa00" d="M216 31.6h3v7.6h-3zM220 31.6h2v7.6h-2zM225 31.6h1v7.6h-1zM232 31.6h1v7.6h-1zM239 31.6h1v7.6h-1zM249 31.6h1v7.6h-1zM255 31.6h1v7.6h-1zM276 31.6h1v7.6h-1zM284 31.6h1v7.6h-1zM443 31.6h1v7.6h-1zM218 39.13h3v7.6h-3zM223 39.13h3v7.6h-3zM230 39.13h1v7.6h-1zM234 39.13h2v7.6h-2zM249 39.13h1v7.6h-1zM265 39.13h1v7.6h-1zM267 39.13h1v7.6h-1zM270 39.13h1v7.6h-1zM272 39.13h1v7.6h-1zM452 39.13h1v7.6h-1zM223 54.2h1v7.6h-1zM237 54.2h1v7.6h-1zM251 54.2h1v7.6h-1zM255 54.2h1v7.6h-1zM263 54.2h1v7.6h-1zM284 54.2h1v7.6h-1zM276 61.73h1v7.6h-1zM344 106.93h1v7.6h-1zM394 114.46h1v7.6h-1zM410 114.46h3v7.6h-3zM416 114.46h1v7.6h-1zM419 114.46h1v7.6h-1zM423 114.46h1v7.6h-1zM427 114.46h2v7.6h-2zM432 114.46h1v7.6h-1zM473 114.46h1v7.6h-1zM477 114.46h1v7.6h-1zM416 122h1v7.6h-1zM419 122h1v7.6h-1zM394 129.53h1v7.6h-1zM406 129.53h1v7.6h-1zM410 129.53h1v7.6h-1zM417 129.53h1v7.6h-1zM420 129.53h1v7.6h-1zM423 129.53h1v7.6h-1zM428 129.53h1v7.6h-1zM431 129.53h1v7.6h-1zM465 129.53h2v7.6h-2zM393 137.06h1v7.6h-1zM398 137.06h1v7.6h-1zM401 137.06h1v7.6h-1zM406 137.06h1v7.6h-1zM410 137.06h2v7.6h-2zM417 137.06h1v7.6h-1zM419 137.06h2v7.6h-2zM423 137.06h1v7.6h-1zM493 137.06h1v7.6h-1zM288 152.13h1v7.6h-1zM337 152.13h1v7.6h-1zM483 152.13h1v7.6h-1zM487 152.13h1v7.6h-1zM489 152.13h1v7.6h-1zM436 159.66h1v7.6h-1zM447 159.66h1v7.6h-1zM452 159.66h2v7.6h-2zM466 159.66h1v7.6h-1zM485 159.66h1v7.6h-1zM487 159.66h1v7.6h-1zM244 167.19h1v7.6h-1zM484 167.19h1v7.6h-1zM491 167.19h1v7.6h-1zM493 167.19h1v7.6h-1zM223 174.73h1v7.6h-1zM232 174.73h1v7.6h-1zM237 174.73h1v7.6h-1zM239 174.73h1v7.6h-1zM249 174.73h1v7.6h-1zM265 174.73h1v7.6h-1zM280 174.73h1v7.6h-1zM435 174.73h1v7.6h-1zM451 174.73h2v7.6h-2zM453 182.26h1v7.6h-1zM484 182.26h1v7.6h-1zM474 189.79h1v7.6h-1zM436 197.33h1v7.6h-1zM455 197.33h1v7.6h-1zM465 197.33h1v7.6h-1zM469 197.33h2v7.6h-2zM473 197.33h1v7.6h-1zM477 197.33h1v7.6h-1zM487 197.33h1v7.6h-1zM489 197.33h1v7.6h-1zM491 197.33h1v7.6h-1zM444 204.86h1v7.6h-1zM465 204.86h2v7.6h-2zM489 204.86h1v7.6h-1zM437 212.39h1v7.6h-1zM468 212.39h2v7.6h-2zM218 219.93h1v7.6h-1zM362 219.93h1v7.6h-1zM443 219.93h1v7.6h-1zM466 219.93h1v7.6h-1zM489 219.93h1v7.6h-1zM453 227.46h1v7.6h-1zM486 227.46h1v7.6h-1zM249 234.99h1v7.6h-1zM459 234.99h1v7.6h-1zM483 234.99h1v7.6h-1zM489 234.99h1v7.6h-1zM473 250.06h1v7.6h-1zM483 250.06h1v7.6h-1zM485 250.06h3v7.6h-3zM489 250.06h1v7.6h-1zM491 272.66h1v7.6h-1zM288 287.72h1v7.6h-1zM334 287.72h1v7.6h-1zM435 295.26h1v7.6h-1zM489 295.26h1v7.6h-1z"/>
<path fill="#aaaa11" d="M449 204.86h1v7.6h-1z"/>
<path fill="#bb00aa" d="M353 219.93h1v7.6h-1z"/>
<path fill="#bb00bb" d="M353 31.6h1v7.6h-1zM368 31.6h1v7.6h-1zM483 31.6h1v7.6h-1zM489 31.6h1v7.6h-1zM381 39.13h1v7.6h-1zM425 39.13h1v7.6h-1zM433 39.13h1v7.6h-1zM485 39.13h1v7.6h-1zM487 39.13h1v7.6h-1zM489 39.13h1v7.6h-1zM481 61.73h3v7.6h-3zM487 61.73h1v7.6h-1zM458 69.27h1v7.6h-1zM460 69.27h1v7.6h-1zM484 69.27h1v7.6h-1zM422 84.33h1v7.6h-1zM487 84.33h1v7.6h-1zM489 84.33h1v7.6h-1zM482 91.86h2v7.6h-2zM486 91.86h1v7.6h-1zM489 91.86h1v7.6h-1zM487 99.4h1v7.6h-1zM489 99.4h1v7.6h-1zM226 106.93h1v7.6h-1zM236 106.93h1v7.6h-1zM259 106.93h1v7.6h-1zM269 106.93h1v7.6h-1zM421 106.93h1v7.6h-1zM368 114.46h1v7.6h-1zM353 122h1v7.6h-1zM381 122h1v7.6h-1zM329 137.06h1v7.6h-1zM368 152.13h1v7.6h-1zM383 152.13h1v7.6h-1zM282 159.66h1v7.6h-1zM368 159.66h1v7.6h-1zM486 174.73h1v7.6h-1zM489 174.73h1v7.6h-1zM303 197.33h1v7.6h-1zM353 197.33h1v7.6h-1zM227 204.86h1v7.6h-1zM409 204.86h1v7.6h-1zM262 212.39h1v7.6h-1zM353 212.39h1v7.6h-1zM409 212.39h1v7.6h-1zM422 212.39h1v7.6h-1zM371 219.93h1v7.6h-1zM256 227.46h1v7.6h-1zM365 227.46h1v7.6h-1zM282 234.99h1v7.6h-1zM409 234.99h1v7.6h-1zM418 234.99h1v7.6h-1zM422 234.99h1v7.6h-1zM429 234.99h1v7.6h-1zM440 250.06h1v7.6h-1zM366 257.59h1v7.6h-1zM460 287.72h1v7.6h-1zM226 295.26h1v7.6h-1zM256 295.26h1v7.6h-1zM282 295.26h1v7.6h-1zM354 295.26h1v7.6h-1z"/>
<path fill="#bb2299" d="M397 31.6h1v7.6h-1zM278 287.72h1v7.6h-1z"/>
<path fill="#bb3388" d="M492 257.59h1v7.6h-1z"/>
<path fill="#bb4466" d="M407 31.6h1v7.6h-1z"/>
<path fill="#bb8833" d="M304 152.13h1v7.6h-1z"/>
<path fill="#bb8844" d="M292 144.59h1v7.6h-1z"/>
<path fill="#bbaa11" d="M447 31.6h1v7.6h-1zM276 212.39h1v7.6h-1z"/>
<path fill="#bbbb00" d="M237 31.6h1v7.6h-1zM244 31.6h1v7.6h-1zM260 31.6h1v7.6h-1zM237 39.13h1v7.6h-1zM280 39.13h1v7.6h-1zM453 39.13h1v7.6h-1zM266 54.2h1v7.6h-1zM237 61.73h1v7.6h-1zM393 114.46h1v7.6h-1zM417 114.46h1v7.6h-1zM420 114.46h1v7.6h-1zM430 114.46h1v7.6h-1zM396 122h1v7.6h-1zM393 129.53h1v7.6h-1zM396 129.53h1v7.6h-1zM412 129.53h1v7.6h-1zM419 129.53h1v7.6h-1zM426 129.53h1v7.6h-1zM432 129.53h1v7.6h-1zM412 137.06h1v7.6h-1zM428 137.06h1v7.6h-1zM430 137.06h3v7.6h-3zM396 144.59h1v7.6h-1zM484 159.66h1v7.6h-1zM486 159.66h1v7.6h-1zM489 159.66h1v7.6h-1zM276 174.73h1v7.6h-1zM435 182.26h1v7.6h-1zM449 182.26h1v7.6h-1zM452 182.26h1v7.6h-1zM463 189.79h1v7.6h-1zM471 189.79h1v7.6h-1zM439 197.33h1v7.6h-1zM466 197.33h1v7.6h-1zM479 197.33h1v7.6h-1zM473 204.86h1v7.6h-1zM477 204.86h1v7.6h-1zM476 212.39h2v7.6h-2zM449 219.93h1v7.6h-1zM484 227.46h1v7.6h-1zM489 227.46h1v7.6h-1zM484 234.99h1v7.6h-1zM492 272.66h1v7.6h-1zM297 287.72h1v7.6h-1zM320 287.72h1v7.6h-1zM449 287.72h1v7.6h-1zM465 295.26h1v7.6h-1zM468 295.26h2v7.6h-2zM484 295.26h2v7.6h-2z"/>
<path fill="#cc00cc" d="M482 31.6h1v7.6h-1zM486 31.6h1v7.6h-1zM490 31.6h1v7.6h-1zM486 39.13h1v7.6h-1zM488 39.13h1v7.6h-1zM490 39.13h1v7.6h-1zM488 61.73h1v7.6h-1zM442 69.27h1v7.6h-1zM456 69.27h1v7.6h-1zM485 69.27h1v7.6h-1zM489 69.27h1v7.6h-1zM484 76.8h1v7.6h-1zM489 76.8h1v7.6h-1zM483 84.33h1v7.6h-1zM485 84.33h1v7.6h-1zM481 91.86h1v7.6h-1zM487 91.86h2v7.6h-2zM483 99.4h1v7.6h-1zM485 99.4h2v7.6h-2zM222 106.93h1v7.6h-1zM273 106.93h1v7.6h-1zM283 106.93h1v7.6h-1zM409 106.93h1v7.6h-1zM404 234.99h1v7.6h-1zM353 250.06h1v7.6h-1zM301 257.59h1v7.6h-1z"/>
<path fill="#cc11bb" d="M381 197.33h1v7.6h-1z"/>
<path fill="#ccaa22" d="M328 144.59h1v7.6h-1z"/>
<path fill="#cccc00" d="M280 31.6h1v7.6h-1zM432 122h1v7.6h-1zM398 129.53h1v7.6h-1zM396 137.06h1v7.6h-1zM462 189.79h1v7.6h-1zM464 189.79h1v7.6h-1zM470 189.79h1v7.6h-1zM475 189.79h1v7.6h-1zM478 189.79h1v7.6h-1zM452 197.33h1v7.6h-1zM476 197.33h1v7.6h-1zM478 197.33h1v7.6h-1zM484 197.33h1v7.6h-1zM484 204.86h1v7.6h-1zM466 212.39h1v7.6h-1zM473 212.39h1v7.6h-1zM484 212.39h1v7.6h-1zM484 250.06h1v7.6h-1zM491 265.12h1v7.6h-1zM466 295.26h1v7.6h-1zM473 295.26h1v7.6h-1z"/>
<path fill="#dd00dd" d="M481 31.6h1v7.6h-1zM485 31.6h1v7.6h-1zM488 31.6h1v7.6h-1zM481 39.13h2v7.6h-2zM490 61.73h1v7.6h-1zM440 69.27h1v7.6h-1zM488 84.33h1v7.6h-1zM490 84.33h1v7.6h-1zM256 106.93h1v7.6h-1zM277 106.93h1v7.6h-1zM256 212.39h1v7.6h-1zM283 250.06h1v7.6h-1zM484 257.59h4v7.6h-4zM489 257.59h1v7.6h-1z"/>
<path fill="#dd22bb" d="M353 257.59h1v7.6h-1z"/>
<path fill="#dddd00" d="M396 114.46h1v7.6h-1zM484 152.13h1v7.6h-1zM465 189.79h4v7.6h-4zM472 189.79h2v7.6h-2zM476 189.79h2v7.6h-2zM493 280.19h1v7.6h-1z"/>
<path fill="#ee00ee" d="M482 69.27h2v7.6h-2zM487 69.27h1v7.6h-1zM490 69.27h1v7.6h-1zM483 76.8h1v7.6h-1zM485 76.8h4v7.6h-4zM490 76.8h1v7.6h-1zM481 84.33h2v7.6h-2zM486 84.33h1v7.6h-1zM481 99.4h2v7.6h-2zM488 99.4h1v7.6h-1zM490 99.4h1v7.6h-1zM381 212.39h1v7.6h-1zM482 257.59h2v7.6h-2z"/>
<path fill="#eeee00" d="M469 189.79h1v7.6h-1zM479 189.79h1v7.6h-1zM493 272.66h1v7.6h-1zM452 295.26h1v7.6h-1z"/>
<path fill="#ff00ff" d="M481 69.27h1v7.6h-1zM486 69.27h1v7.6h-1zM488 69.27h1v7.6h-1zM481 76.8h2v7.6h-2zM481 257.59h1v7.6h-1zM488 257.59h1v7.6h-1zM490 257.59h1v7.6h-1z"/>
</g>
<rect x="285" y="31.6" width="1" height="271.19" fill="#d8d0d8"/>
<rect x="348" y="31.6" width="1" height="271.19" fill="#d8d0d8"/>
<rect x="391" y="31.6" width="1" height="271.19" fill="#d8d0d8"/>
<rect x="434" y="31.6" width="1" height="271.19" fill="#d8d0d8"/>
<rect x="461" y="31.6" width="1" height="271.19" fill="#d8d0d8"/>
<rect x="480" y="31.6" width="1" height="271.19" fill="#d8d0d8"/>
<rect x="491" y="31.6" width="1" height="271.19" fill="#d8d0d8"/>
<text x="212.5" y="37.57" font-size="5.45" text-anchor="end" fill="#4d4d4d">Defa21</text>
<text x="212.5" y="45.1" font-size="5.45" text-anchor="end" fill="#4d4d4d">Defa22</text>
<text x="212.5" y="52.63" font-size="5.45" text-anchor="end" fill="#4d4d4d">Defa41</text>
<text x="212.5" y="60.17" font-size="5.45" text-anchor="end" fill="#4d4d4d">Reg3g</text>
<text x="212.5" y="67.7" font-size="5.45" text-anchor="end" fill="#4d4d4d">Defa5</text>
<text x="212.5" y="75.23" font-size="5.45" text-anchor="end" fill="#4d4d4d">Defa38</text>
<text x="212.5" y="82.76" font-size="5.45" text-anchor="end" fill="#4d4d4d">Defa39</text>
<text x="212.5" y="90.3" font-size="5.45" text-anchor="end" fill="#4d4d4d">Defa23</text>
<text x="212.5" y="97.83" font-size="5.45" text-anchor="end" fill="#4d4d4d">Clps</text>
<text x="212.5" y="105.36" font-size="5.45" text-anchor="end" fill="#4d4d4d">Defa30</text>
<text x="212.5" y="112.9" font-size="5.45" text-anchor="end" fill="#4d4d4d">Rnase1</text>
<text x="212.5" y="120.43" font-size="5.45" text-anchor="end" fill="#4d4d4d">mt-Atp6</text>
<text x="212.5" y="127.96" font-size="5.45" text-anchor="end" fill="#4d4d4d">mt-Nd2</text>
<text x="212.5" y="135.5" font-size="5.45" text-anchor="end" fill="#4d4d4d">mt-Cytb</text>
<text x="212.5" y="143.03" font-size="5.45" text-anchor="end" fill="#4d4d4d">mt-Co3</text>
<text x="212.5" y="150.56" font-size="5.45" text-anchor="end" fill="#4d4d4d">Malat1</text>
<text x="212.5" y="158.09" font-size="5.45" text-anchor="end" fill="#4d4d4d">Klk1</text>
<text x="212.5" y="165.63" font-size="5.45" text-anchor="end" fill="#4d4d4d">Rplp1</text>
<text x="212.5" y="173.16" font-size="5.45" text-anchor="end" fill="#4d4d4d">Guca2a</text>
<text x="212.5" y="180.69" font-size="5.45" text-anchor="end" fill="#4d4d4d">Defa34</text>
<text x="212.5" y="188.23" font-size="5.45" text-anchor="end" fill="#4d4d4d">Spink4</text>
<text x="212.5" y="195.76" font-size="5.45" text-anchor="end" fill="#4d4d4d">Olfm4</text>
<text x="212.5" y="203.29" font-size="5.45" text-anchor="end" fill="#4d4d4d">Tmsb4x</text>
<text x="212.5" y="210.83" font-size="5.45" text-anchor="end" fill="#4d4d4d">Rps5</text>
<text x="212.5" y="218.36" font-size="5.45" text-anchor="end" fill="#4d4d4d">Rps19</text>
<text x="212.5" y="225.89" font-size="5.45" text-anchor="end" fill="#4d4d4d">Rps20</text>
<text x="212.5" y="233.42" font-size="5.45" text-anchor="end" fill="#4d4d4d">Lgals2</text>
<text x="212.5" y="240.96" font-size="5.45" text-anchor="end" fill="#4d4d4d">Agr2</text>
<text x="212.5" y="248.49" font-size="5.45" text-anchor="end" fill="#4d4d4d">Fcgbp</text>
<text x="212.5" y="256.02" font-size="5.45" text-anchor="end" fill="#4d4d4d">Lgals4</text>
<text x="212.5" y="263.56" font-size="5.45" text-anchor="end" fill="#4d4d4d">Defa36</text>
<text x="212.5" y="271.09" font-size="5.45" text-anchor="end" fill="#4d4d4d">Dclk1</text>
<text x="212.5" y="278.62" font-size="5.45" text-anchor="end" fill="#4d4d4d">St18</text>
<text x="212.5" y="286.16" font-size="5.45" text-anchor="end" fill="#4d4d4d">Rgs13</text>
<text x="212.5" y="293.69" font-size="5.45" text-anchor="end" fill="#4d4d4d">Crip1</text>
<text x="212.5" y="301.22" font-size="5.45" text-anchor="end" fill="#4d4d4d">Krt8</text>
<rect x="216" y="21.5" width="69.5" height="5" fill="#F8766D"/>
<rect x="285.5" y="21.5" width="63.2" height="5" fill="#D39200"/>
<rect x="348.7" y="21.5" width="42.8" height="5" fill="#93AA00"/>
<rect x="391.5" y="21.5" width="43" height="5" fill="#00BA38"/>
<rect x="434.5" y="21.5" width="27" height="5" fill="#00C19F"/>
<rect x="461.5" y="21.5" width="19" height="5" fill="#00B9E3"/>
<rect x="480.5" y="21.5" width="10.6" height="5" fill="#619CFF"/>
<rect x="491.1" y="21.5" width="0.9" height="5" fill="#DB72FB"/>
<rect x="492" y="21.5" width="1.6" height="5" fill="#FF61C3"/>
<text x="251" y="20.7" font-size="9.4" text-anchor="middle">0</text>
<text x="318" y="20.7" font-size="9.4" text-anchor="middle">1</text>
<text x="371.5" y="20.7" font-size="9.4" text-anchor="middle">2</text>
<text x="413.5" y="20.7" font-size="9.4" text-anchor="middle">3</text>
<text x="449" y="20.7" font-size="9.4" text-anchor="middle">4</text>
<text x="472.5" y="20.7" font-size="9.4" text-anchor="middle">5</text>
<text x="486.8" y="20.7" font-size="9.4" text-anchor="middle">6</text>
<text x="492.6" y="20.7" font-size="9.4" text-anchor="middle">7</text>
<text x="498" y="20.7" font-size="9.4" text-anchor="middle">8</text>
<defs><linearGradient id="eg" x1="0" y1="0" x2="0" y2="1"><stop offset="0" stop-color="#ffff00"/><stop offset="0.04" stop-color="#ffff00"/><stop offset="0.5" stop-color="#000000"/><stop offset="0.96" stop-color="#ff00ff"/><stop offset="1" stop-color="#ff00ff"/></linearGradient><linearGradient id="ug" x1="0" y1="0" x2="0" y2="1"><stop offset="0" stop-color="#1a0afc"/><stop offset="1" stop-color="#d6d2e2"/></linearGradient></defs>
<text x="504.6" y="71.7" font-size="6.95">Expression</text>
<rect x="504.6" y="75.5" width="11.2" height="54.5" fill="url(#eg)"/>
<text x="518.8" y="84.1" font-size="5.9" fill="#4d4d4d">2</text>
<text x="518.8" y="95" font-size="5.9" fill="#4d4d4d">1</text>
<text x="518.8" y="105.3" font-size="5.9" fill="#4d4d4d">0</text>
<text x="518.8" y="116.1" font-size="5.9" fill="#4d4d4d">-1</text>
<text x="518.8" y="126.9" font-size="5.9" fill="#4d4d4d">-2</text>
<text x="504.6" y="151.3" font-size="6.95">Identity</text>
<circle cx="510.2" cy="159.3" r="1.25" fill="#F8766D"/>
<text x="519.4" y="161.4" font-size="5.9" fill="#4d4d4d">0</text>
<circle cx="510.2" cy="170.3" r="1.25" fill="#D39200"/>
<text x="519.4" y="172.4" font-size="5.9" fill="#4d4d4d">1</text>
<circle cx="510.2" cy="181.3" r="1.25" fill="#93AA00"/>
<text x="519.4" y="183.4" font-size="5.9" fill="#4d4d4d">2</text>
<circle cx="510.2" cy="192.3" r="1.25" fill="#00BA38"/>
<text x="519.4" y="194.4" font-size="5.9" fill="#4d4d4d">3</text>
<circle cx="510.2" cy="203.3" r="1.25" fill="#00C19F"/>
<text x="519.4" y="205.4" font-size="5.9" fill="#4d4d4d">4</text>
<circle cx="510.2" cy="214.3" r="1.25" fill="#00B9E3"/>
<text x="519.4" y="216.4" font-size="5.9" fill="#4d4d4d">5</text>
<circle cx="510.2" cy="225.3" r="1.25" fill="#619CFF"/>
<text x="519.4" y="227.4" font-size="5.9" fill="#4d4d4d">6</text>
<circle cx="510.2" cy="236.3" r="1.25" fill="#DB72FB"/>
<text x="519.4" y="238.4" font-size="5.9" fill="#4d4d4d">7</text>
<circle cx="510.2" cy="247.3" r="1.25" fill="#FF61C3"/>
<text x="522.2" y="249.4" font-size="5.9" fill="#4d4d4d">8</text>
<text x="25.7" y="347.3" font-size="6.8" font-weight="bold" text-anchor="middle">cluster</text>
<text x="60.3" y="347.3" font-size="6.8" font-weight="bold" text-anchor="middle">total cells</text>
<text x="101.4" y="347.3" font-size="6.8" font-weight="bold" text-anchor="middle">total genes</text>
<text x="149.4" y="347.3" font-size="6.8" font-weight="bold" text-anchor="middle">sign. markers</text>
<line x1="10.8" y1="350.4" x2="176.7" y2="350.4" stroke="#555" stroke-width="0.7"/>
<text x="25.7" y="359.3" font-size="6.7" text-anchor="middle" fill="#333">0</text>
<text x="60.3" y="359.3" font-size="6.7" text-anchor="middle" fill="#333">4422</text>
<text x="101.4" y="359.3" font-size="6.7" text-anchor="middle" fill="#333">693</text>
<text x="149.4" y="359.3" font-size="6.7" text-anchor="middle" fill="#333">125</text>
<text x="25.7" y="371.5" font-size="6.7" text-anchor="middle" fill="#333">1</text>
<text x="60.3" y="371.5" font-size="6.7" text-anchor="middle" fill="#333">4080</text>
<text x="101.4" y="371.5" font-size="6.7" text-anchor="middle" fill="#333">533</text>
<text x="149.4" y="371.5" font-size="6.7" text-anchor="middle" fill="#333">158</text>
<text x="25.7" y="383.7" font-size="6.7" text-anchor="middle" fill="#333">2</text>
<text x="60.3" y="383.7" font-size="6.7" text-anchor="middle" fill="#333">2702</text>
<text x="101.4" y="383.7" font-size="6.7" text-anchor="middle" fill="#333">625</text>
<text x="149.4" y="383.7" font-size="6.7" text-anchor="middle" fill="#333">113</text>
<text x="25.7" y="395.9" font-size="6.7" text-anchor="middle" fill="#333">3</text>
<text x="60.3" y="395.9" font-size="6.7" text-anchor="middle" fill="#333">2694</text>
<text x="101.4" y="395.9" font-size="6.7" text-anchor="middle" fill="#333">367</text>
<text x="149.4" y="395.9" font-size="6.7" text-anchor="middle" fill="#333">145</text>
<text x="25.7" y="408.1" font-size="6.7" text-anchor="middle" fill="#333">4</text>
<text x="60.3" y="408.1" font-size="6.7" text-anchor="middle" fill="#333">1763</text>
<text x="101.4" y="408.1" font-size="6.7" text-anchor="middle" fill="#333">784</text>
<text x="149.4" y="408.1" font-size="6.7" text-anchor="middle" fill="#333">194</text>
<text x="25.7" y="420.3" font-size="6.7" text-anchor="middle" fill="#333">5</text>
<text x="60.3" y="420.3" font-size="6.7" text-anchor="middle" fill="#333">1146</text>
<text x="101.4" y="420.3" font-size="6.7" text-anchor="middle" fill="#333">1200</text>
<text x="149.4" y="420.3" font-size="6.7" text-anchor="middle" fill="#333">275</text>
<text x="25.7" y="432.5" font-size="6.7" text-anchor="middle" fill="#333">6</text>
<text x="60.3" y="432.5" font-size="6.7" text-anchor="middle" fill="#333">636</text>
<text x="101.4" y="432.5" font-size="6.7" text-anchor="middle" fill="#333">1001</text>
<text x="149.4" y="432.5" font-size="6.7" text-anchor="middle" fill="#333">313</text>
<text x="25.7" y="444.7" font-size="6.7" text-anchor="middle" fill="#333">7</text>
<text x="60.3" y="444.7" font-size="6.7" text-anchor="middle" fill="#333">47</text>
<text x="101.4" y="444.7" font-size="6.7" text-anchor="middle" fill="#333">173</text>
<text x="149.4" y="444.7" font-size="6.7" text-anchor="middle" fill="#333">135</text>
<text x="25.7" y="456.9" font-size="6.7" text-anchor="middle" fill="#333">8</text>
<text x="60.3" y="456.9" font-size="6.7" text-anchor="middle" fill="#333">42</text>
<text x="101.4" y="456.9" font-size="6.7" text-anchor="middle" fill="#333">1005</text>
<text x="149.4" y="456.9" font-size="6.7" text-anchor="middle" fill="#333">279</text>
<line x1="10.8" y1="460.6" x2="176.7" y2="460.6" stroke="#555" stroke-width="0.7"/>
<defs><filter id="rg" x="-20%" y="-5%" width="140%" height="110%"><feTurbulence type="fractalNoise" baseFrequency="0.9" numOctaves="1" seed="3" result="n"/><feDisplacementMap in="SourceGraphic" in2="n" scale="3.2" xChannelSelector="R" yChannelSelector="G"/></filter><filter id="spk" x="-20%" y="-5%" width="140%" height="110%"><feTurbulence type="fractalNoise" baseFrequency="1.1" numOctaves="1" seed="11" result="n"/><feColorMatrix in="n" type="matrix" values="0 0 0 0 0  0 0 0 0 0  0 0 0 0 0  7 0 0 0 -3.2" result="m"/><feComposite in="SourceGraphic" in2="m" operator="in" result="c"/><feDisplacementMap in="c" in2="n" scale="3" xChannelSelector="G" yChannelSelector="B"/></filter><filter id="spk2" x="-20%" y="-10%" width="140%" height="120%"><feTurbulence type="fractalNoise" baseFrequency="1.3" numOctaves="1" seed="4" result="n"/><feColorMatrix in="n" type="matrix" values="0 0 0 0 0  0 0 0 0 0  0 0 0 0 0  7 0 0 0 -2.6" result="m"/><feComposite in="SourceGraphic" in2="m" operator="in" result="c"/><feDisplacementMap in="c" in2="n" scale="2.5" xChannelSelector="G" yChannelSelector="B"/></filter></defs>
<text x="285.8" y="335.9" font-size="10.1" font-weight="bold" text-anchor="middle">Dclk1 (cluster 8)</text>
<line x1="211.5" y1="341.5" x2="211.5" y2="448.4" stroke="#333333" stroke-width="0.75"/>
<line x1="209" y1="443.9" x2="211.5" y2="443.9" stroke="#333333" stroke-width="0.75"/>
<text x="207.1" y="446.38" font-size="6.9" text-anchor="end" fill="#333333">0</text>
<line x1="209" y1="421.9" x2="211.5" y2="421.9" stroke="#333333" stroke-width="0.75"/>
<text x="207.1" y="424.38" font-size="6.9" text-anchor="end" fill="#333333">1</text>
<line x1="209" y1="399.9" x2="211.5" y2="399.9" stroke="#333333" stroke-width="0.75"/>
<text x="207.1" y="402.38" font-size="6.9" text-anchor="end" fill="#333333">2</text>
<line x1="209" y1="377.9" x2="211.5" y2="377.9" stroke="#333333" stroke-width="0.75"/>
<text x="207.1" y="380.38" font-size="6.9" text-anchor="end" fill="#333333">3</text>
<line x1="209" y1="355.9" x2="211.5" y2="355.9" stroke="#333333" stroke-width="0.75"/>
<text x="207.1" y="358.38" font-size="6.9" text-anchor="end" fill="#333333">4</text>
<line x1="211.5" y1="448.4" x2="359.6" y2="448.4" stroke="#333333" stroke-width="0.75"/>
<line x1="221.3" y1="448.4" x2="221.3" y2="450.8" stroke="#333333" stroke-width="0.75"/>
<text x="221.3" y="459.33" font-size="7.3" text-anchor="middle" fill="#333" transform="rotate(-45 221.3 456.7)">0</text>
<line x1="237.33" y1="448.4" x2="237.33" y2="450.8" stroke="#333333" stroke-width="0.75"/>
<text x="237.33" y="459.33" font-size="7.3" text-anchor="middle" fill="#333" transform="rotate(-45 237.33 456.7)">1</text>
<line x1="253.36" y1="448.4" x2="253.36" y2="450.8" stroke="#333333" stroke-width="0.75"/>
<text x="253.36" y="459.33" font-size="7.3" text-anchor="middle" fill="#333" transform="rotate(-45 253.36 456.7)">2</text>
<line x1="269.39" y1="448.4" x2="269.39" y2="450.8" stroke="#333333" stroke-width="0.75"/>
<text x="269.39" y="459.33" font-size="7.3" text-anchor="middle" fill="#333" transform="rotate(-45 269.39 456.7)">3</text>
<line x1="285.42" y1="448.4" x2="285.42" y2="450.8" stroke="#333333" stroke-width="0.75"/>
<text x="285.42" y="459.33" font-size="7.3" text-anchor="middle" fill="#333" transform="rotate(-45 285.42 456.7)">4</text>
<line x1="301.45" y1="448.4" x2="301.45" y2="450.8" stroke="#333333" stroke-width="0.75"/>
<text x="301.45" y="459.33" font-size="7.3" text-anchor="middle" fill="#333" transform="rotate(-45 301.45 456.7)">5</text>
<line x1="317.48" y1="448.4" x2="317.48" y2="450.8" stroke="#333333" stroke-width="0.75"/>
<text x="317.48" y="459.33" font-size="7.3" text-anchor="middle" fill="#333" transform="rotate(-45 317.48 456.7)">6</text>
<line x1="333.51" y1="448.4" x2="333.51" y2="450.8" stroke="#333333" stroke-width="0.75"/>
<text x="333.51" y="459.33" font-size="7.3" text-anchor="middle" fill="#333" transform="rotate(-45 333.51 456.7)">7</text>
<line x1="349.54" y1="448.4" x2="349.54" y2="450.8" stroke="#333333" stroke-width="0.75"/>
<text x="349.54" y="459.33" font-size="7.3" text-anchor="middle" fill="#33dd33" transform="rotate(-45 349.54 456.7)">8</text>
<text x="286.05" y="469.6" font-size="8.8" text-anchor="middle">Identity</text>
<text x="198.8" y="394.95" font-size="8.8" text-anchor="middle" transform="rotate(-90 198.8 394.95)">Expression Level</text>
<line x1="214.3" y1="443.9" x2="228.3" y2="443.9" stroke="#2a2a2a" stroke-width="1.2"/>
<line x1="221.3" y1="421.5" x2="221.3" y2="443.9" stroke="#6a6a6a" stroke-width="0.95"/>
<line x1="230.33" y1="443.9" x2="244.33" y2="443.9" stroke="#2a2a2a" stroke-width="1.2"/>
<line x1="237.33" y1="419.5" x2="237.33" y2="443.9" stroke="#6a6a6a" stroke-width="0.95"/>
<line x1="246.36" y1="443.9" x2="260.36" y2="443.9" stroke="#2a2a2a" stroke-width="1.2"/>
<line x1="253.36" y1="413.5" x2="253.36" y2="443.9" stroke="#6a6a6a" stroke-width="0.95"/>
<line x1="262.39" y1="443.9" x2="276.39" y2="443.9" stroke="#2a2a2a" stroke-width="1.2"/>
<line x1="269.39" y1="380.5" x2="269.39" y2="443.9" stroke="#6a6a6a" stroke-width="0.95"/>
<line x1="278.42" y1="443.9" x2="292.42" y2="443.9" stroke="#2a2a2a" stroke-width="1.2"/>
<line x1="285.42" y1="417" x2="285.42" y2="443.9" stroke="#6a6a6a" stroke-width="0.95"/>
<line x1="294.45" y1="443.9" x2="308.45" y2="443.9" stroke="#2a2a2a" stroke-width="1.2"/>
<line x1="301.45" y1="390" x2="301.45" y2="443.9" stroke="#6a6a6a" stroke-width="0.95"/>
<line x1="310.48" y1="443.9" x2="324.48" y2="443.9" stroke="#2a2a2a" stroke-width="1.2"/>
<line x1="326.51" y1="443.9" x2="340.51" y2="443.9" stroke="#2a2a2a" stroke-width="1.2"/>
<polygon points="347.14,346.1 346.34,349 344.94,354 343.74,362 342.94,372 342.44,382 342.34,390 343.14,400 344.54,410 346.04,419 347.04,427 347.24,432 347.24,443.5 351.84,443.5 351.84,432 352.04,427 353.04,419 354.54,410 355.94,400 356.74,390 356.64,382 356.14,372 355.34,362 354.14,354 352.74,349 351.94,346.1" fill="#FF61C3" stroke="#222" stroke-width="0.4"/>
<path d="M222.83 423.35h0M223.87 425.53h0M219.59 422.86h0M221.22 423.07h0M224.78 425.98h0M239.9 425.84h0M237.36 424.01h0M239.69 427.77h0M239.45 420.88h0M234.06 419.73h0M233.79 418.81h0M249.43 413h0M253.36 414.72h0M254.17 416.59h0M250.03 419.93h0M252.11 414.41h0M256.58 417.91h0M250.99 416.25h0M254.8 417.14h0M271.24 380.56h0M272.05 381.18h0M268.41 392.39h0M272.2 425h0M266.41 405.21h0M283.29 420.66h0M282.96 423.28h0M284.59 420.38h0M302.95 389.26h0M302.94 408.14h0M303.46 425.73h0M347.59 430.76h0M351.47 409.36h0M352.05 415.04h0M353.83 377.34h0M353.84 406.01h0M354.06 355.14h0M353.88 412.97h0M347.07 403.82h0M348.45 430.34h0M350.67 390.11h0M351.37 376.07h0M354.04 377.09h0M347.04 424.42h0M353.81 362.01h0M347.19 374.16h0M352.87 409.9h0M350.11 402.13h0M349.72 424.48h0M345.57 417.08h0M345.19 432.42h0M348.44 360.12h0M351.33 421.93h0M349.53 437.61h0M347.04 366.12h0M353.49 366.69h0M351.67 366.4h0M354.03 353h0M348.21 412.89h0M350.44 412.97h0M346.71 436.97h0" stroke="#111" stroke-width="0.85" stroke-linecap="round" fill="none"/>
<text x="468.1" y="335.9" font-size="10.1" font-weight="bold" text-anchor="middle">Fcgbp (cluster 5)</text>
<line x1="393.7" y1="342" x2="393.7" y2="447.9" stroke="#333333" stroke-width="0.75"/>
<line x1="391.2" y1="443.7" x2="393.7" y2="443.7" stroke="#333333" stroke-width="0.75"/>
<text x="389.3" y="446.18" font-size="6.9" text-anchor="end" fill="#333333">0</text>
<line x1="391.2" y1="408.3" x2="393.7" y2="408.3" stroke="#333333" stroke-width="0.75"/>
<text x="389.3" y="410.78" font-size="6.9" text-anchor="end" fill="#333333">2</text>
<line x1="391.2" y1="372.9" x2="393.7" y2="372.9" stroke="#333333" stroke-width="0.75"/>
<text x="389.3" y="375.38" font-size="6.9" text-anchor="end" fill="#333333">4</text>
<line x1="393.7" y1="447.9" x2="540" y2="447.9" stroke="#333333" stroke-width="0.75"/>
<line x1="403.7" y1="447.9" x2="403.7" y2="450.3" stroke="#333333" stroke-width="0.75"/>
<text x="403.7" y="458.83" font-size="7.3" text-anchor="middle" fill="#333" transform="rotate(-45 403.7 456.2)">0</text>
<line x1="419.77" y1="447.9" x2="419.77" y2="450.3" stroke="#333333" stroke-width="0.75"/>
<text x="419.77" y="458.83" font-size="7.3" text-anchor="middle" fill="#333" transform="rotate(-45 419.77 456.2)">1</text>
<line x1="435.84" y1="447.9" x2="435.84" y2="450.3" stroke="#333333" stroke-width="0.75"/>
<text x="435.84" y="458.83" font-size="7.3" text-anchor="middle" fill="#333" transform="rotate(-45 435.84 456.2)">2</text>
<line x1="451.91" y1="447.9" x2="451.91" y2="450.3" stroke="#333333" stroke-width="0.75"/>
<text x="451.91" y="458.83" font-size="7.3" text-anchor="middle" fill="#333" transform="rotate(-45 451.91 456.2)">3</text>
<line x1="467.98" y1="447.9" x2="467.98" y2="450.3" stroke="#333333" stroke-width="0.75"/>
<text x="467.98" y="458.83" font-size="7.3" text-anchor="middle" fill="#333" transform="rotate(-45 467.98 456.2)">4</text>
<line x1="484.05" y1="447.9" x2="484.05" y2="450.3" stroke="#333333" stroke-width="0.75"/>
<text x="484.05" y="458.83" font-size="7.3" text-anchor="middle" fill="#33dd33" transform="rotate(-45 484.05 456.2)">5</text>
<line x1="500.12" y1="447.9" x2="500.12" y2="450.3" stroke="#333333" stroke-width="0.75"/>
<text x="500.12" y="458.83" font-size="7.3" text-anchor="middle" fill="#333" transform="rotate(-45 500.12 456.2)">6</text>
<line x1="516.19" y1="447.9" x2="516.19" y2="450.3" stroke="#333333" stroke-width="0.75"/>
<text x="516.19" y="458.83" font-size="7.3" text-anchor="middle" fill="#333" transform="rotate(-45 516.19 456.2)">7</text>
<line x1="532.26" y1="447.9" x2="532.26" y2="450.3" stroke="#333333" stroke-width="0.75"/>
<text x="532.26" y="458.83" font-size="7.3" text-anchor="middle" fill="#333" transform="rotate(-45 532.26 456.2)">8</text>
<text x="467.35" y="469.6" font-size="8.8" text-anchor="middle">Identity</text>
<text x="381.6" y="394.95" font-size="8.8" text-anchor="middle" transform="rotate(-90 381.6 394.95)">Expression Level</text>
<line x1="396.7" y1="443.7" x2="410.7" y2="443.7" stroke="#2a2a2a" stroke-width="1.2"/>
<line x1="403.7" y1="362.8" x2="403.7" y2="443.7" stroke="#6a6a6a" stroke-width="0.95"/>
<polygon points="400.07,419 397.7,422 397.7,434 400.07,437 407.33,437 409.7,434 409.7,422 407.33,419" fill="#0a0a0a" fill-opacity="1" filter="url(#spk)"/>
<polygon points="398.9,423 397.1,425.5 397.1,431.5 398.9,434 408.5,434 410.3,431.5 410.3,425.5 408.5,423" fill="#0a0a0a" fill-opacity="1" filter="url(#spk2)"/>
<line x1="412.77" y1="443.7" x2="426.77" y2="443.7" stroke="#2a2a2a" stroke-width="1.2"/>
<line x1="419.77" y1="407.2" x2="419.77" y2="443.7" stroke="#6a6a6a" stroke-width="0.95"/>
<polygon points="416.14,414 413.77,417 413.77,430 416.14,433 423.4,433 425.77,430 425.77,417 423.4,414" fill="#0a0a0a" fill-opacity="1" filter="url(#spk)"/>
<polygon points="414.97,419 413.17,421.5 413.17,428.5 414.97,431 424.57,431 426.37,428.5 426.37,421.5 424.57,419" fill="#0a0a0a" fill-opacity="1" filter="url(#spk2)"/>
<line x1="428.84" y1="443.7" x2="442.84" y2="443.7" stroke="#2a2a2a" stroke-width="1.2"/>
<line x1="435.84" y1="389" x2="435.84" y2="443.7" stroke="#6a6a6a" stroke-width="0.95"/>
<polygon points="432.21,410 429.84,413 429.84,432 432.21,435 439.47,435 441.84,432 441.84,413 439.47,410" fill="#0a0a0a" fill-opacity="1" filter="url(#spk)"/>
<polygon points="431.04,417 429.24,419.5 429.24,429.5 431.04,432 440.64,432 442.44,429.5 442.44,419.5 440.64,417" fill="#0a0a0a" fill-opacity="1" filter="url(#spk2)"/>
<line x1="444.91" y1="443.7" x2="458.91" y2="443.7" stroke="#2a2a2a" stroke-width="1.2"/>
<line x1="451.91" y1="375.6" x2="451.91" y2="443.7" stroke="#6a6a6a" stroke-width="0.95"/>
<line x1="460.98" y1="443.7" x2="474.98" y2="443.7" stroke="#2a2a2a" stroke-width="1.2"/>
<line x1="467.98" y1="360" x2="467.98" y2="443.7" stroke="#6a6a6a" stroke-width="0.95"/>
<polygon points="467.58,439.5 464.48,441.5 460.98,443.7 474.98,443.7 471.48,441.5 468.38,439.5" fill="#00C19F" stroke="#222" stroke-width="0.4"/>
<polygon points="464.98,374 461.98,382 461.48,425 462.98,436 472.98,436 474.48,425 473.98,382 470.98,374" fill="#0a0a0a" fill-opacity="0.7" filter="url(#spk)"/>
<line x1="477.05" y1="443.7" x2="491.05" y2="443.7" stroke="#2a2a2a" stroke-width="1.2"/>
<line x1="484.05" y1="360" x2="484.05" y2="443.7" stroke="#6a6a6a" stroke-width="0.95"/>
<polygon points="499.32,346.5 498.32,352 496.62,358 494.92,366 494.62,380 494.62,400 495.52,412 497.12,420 498.12,425.8 497.12,430 494.62,436 493.32,440 492.72,443.8 507.52,443.8 506.92,440 505.62,436 503.12,430 502.12,425.8 503.12,420 504.72,412 505.62,400 505.62,380 505.32,366 503.62,358 501.92,352 500.92,346.5" fill="#4A94F8" stroke="#222" stroke-width="0.4"/>
<polygon points="498.62,352 496.62,360 494.62,368 493.92,380 493.92,400 495.12,412 497.12,420 498.12,426 502.12,426 503.12,420 505.12,412 506.32,400 506.32,380 505.62,368 503.62,360 501.62,352" fill="#0a0a0a" fill-opacity="0.8" filter="url(#spk)"/>
<line x1="509.19" y1="443.7" x2="523.19" y2="443.7" stroke="#2a2a2a" stroke-width="1.2"/>
<line x1="525.26" y1="443.7" x2="539.26" y2="443.7" stroke="#2a2a2a" stroke-width="1.2"/>
<line x1="532.26" y1="402.9" x2="532.26" y2="443.7" stroke="#6a6a6a" stroke-width="0.95"/>
<path d="M400.57 389.44h0M405.47 389.55h0M408.65 415.62h0M401.13 406.84h0M401.45 411.7h0M404.76 389.43h0M409.15 436.57h0M399.87 427.18h0M409.61 421.19h0M403.39 420.77h0M400.01 432.84h0M398.13 426.51h0M405.28 435.04h0M399.25 421.35h0M407.02 437.64h0M399.09 421.9h0M402.44 424.92h0M404.73 421.64h0M397.73 426.73h0M403.22 422h0M409.4 429.45h0M399.19 434.98h0M400.33 436.8h0M407.13 437.96h0M402.64 436.58h0M406.28 432.34h0M397.25 422.97h0M405.33 433.8h0M405.31 421.11h0M407.58 420.15h0M405.85 431.87h0M417.84 411.87h0M423.2 408.22h0M424.56 407.68h0M415.47 415.37h0M414.99 415.08h0M423.09 415.15h0M420.48 409.07h0M419.69 415.55h0M424.18 408.62h0M417.74 412.39h0M422.3 419.41h0M419.72 422.32h0M422.68 431.53h0M417.46 423.49h0M413.54 432.38h0M421.01 416.23h0M419.75 417.77h0M418.71 426.46h0M425.74 425.81h0M420.9 416.64h0M424.46 429.26h0M414.47 418.8h0M415.17 417.87h0M424.91 421.33h0M415.21 433.18h0M418.57 432.87h0M421.59 414.79h0M413.59 434.63h0M426.2 426.12h0M425 422.49h0M440.11 411.67h0M437.52 397.55h0M431.45 396.18h0M432.34 407.56h0M436.28 404.86h0M433.5 392.89h0M438.71 392.59h0M436.91 404.59h0M438.53 394.02h0M433.32 403.76h0M435.94 391.47h0M432.34 407.67h0M432.33 410.91h0M432.06 400.39h0M434.38 399.2h0M434.29 400.8h0M438.65 394.61h0M432.72 390.6h0M440.96 416.73h0M442.15 435.3h0M434.77 418.75h0M432.16 433.17h0M436.97 423.07h0M432.48 421.64h0M430.88 418.41h0M438.26 417.32h0M429.92 431.11h0M441.43 420.06h0M438.05 433.14h0M430.08 424.34h0M438.31 432.18h0M439.83 422.72h0M442.16 423.63h0M435.33 426.14h0M440.72 417.46h0M436.89 428.99h0M438.29 419.71h0M441.81 424.49h0M447.45 390.74h0M454.67 378.42h0M450.1 381.22h0M455.61 380.92h0M449.6 382.36h0M452.35 385.17h0M449.03 385.4h0M448.68 390.43h0M456.27 395.44h0M455.93 389.74h0M450.25 382.68h0M451.91 384.65h0M452.56 389.75h0M449.95 378.9h0M449.81 386.23h0M449.52 381.9h0M447.28 423.57h0M457.55 411.83h0M453.47 422.88h0M453.73 423.8h0M450.86 419.8h0M447.35 430.84h0M450.88 406.03h0M448.62 422.39h0M447.49 415.7h0M452.8 403.11h0M447.84 430.85h0M449.99 430.67h0M452.68 423.92h0M452.25 426.83h0M452.52 431.37h0M447.15 412.31h0M457.35 399.05h0M449.34 412.11h0M458.31 421.76h0M453.83 401.59h0M450.52 395.3h0M448.3 398.64h0M452.95 413.07h0M454.07 408.07h0M451.47 412.68h0M447.98 395.46h0M455.88 408.06h0M456.37 418.88h0M447.13 416.93h0M458.37 417.08h0M447.42 422.31h0M451.72 401.4h0M457.86 424.68h0M452.74 397.12h0M447.52 431.85h0M446.78 400.7h0M457.62 429.32h0M450.43 420.04h0M445.97 406.97h0M454.04 421.87h0M450.83 416.44h0M453.06 404.67h0M447.55 414.47h0M449.21 411.84h0M446.7 397.79h0M452.56 406.77h0M454.63 399.14h0M455.15 417.76h0M452.82 422.5h0M455.32 402.67h0M456.2 395.77h0M455.75 406.36h0M453.04 395.36h0M449.59 395.19h0M456.49 407.64h0M452.83 407.88h0M457.19 431.74h0M450.79 399.37h0M453.16 431.68h0M452.61 422.16h0M456.1 396.04h0M447.76 405.57h0M450.98 404.39h0M454.28 410.59h0M449.09 408.68h0M456.25 424.24h0M446.3 420.7h0M447.17 428.93h0M449.3 431.75h0M455.41 414.31h0M450.2 426.38h0M457.04 405.79h0M454.95 402.58h0M454.6 417.02h0M447.7 402.84h0M446.39 402.38h0M445.47 408.26h0M451.21 410.96h0M453.66 414.96h0M451.96 415.1h0M446.31 400.66h0M450.96 418.49h0M452.21 410.51h0M454.09 430.51h0M452.17 411.21h0M446.47 426.46h0M449.45 423.39h0M449.34 414.8h0M449.59 431.43h0M447 404.03h0M450.03 416.26h0M447.65 422.41h0M448.12 395.64h0M450.86 423.03h0M456.76 420.6h0M456.48 408.73h0M449.84 395.06h0M454.07 407.31h0M457.64 395.45h0M449.81 411.54h0M453.35 403.13h0M453.94 397.02h0M457.47 401.69h0M454.18 416.06h0M447.25 420.84h0M450.86 398.29h0M453.26 412.87h0M449.01 414.31h0M447.89 412.41h0M447.15 401.52h0M449.07 407.89h0M453.36 424.83h0M455.64 405.13h0M456.32 395.6h0M456.36 417.06h0M454.05 415.02h0M447.79 400.26h0M453.89 402.37h0M450.17 395.35h0M456.18 412.21h0M450.07 430.17h0M450.01 422.12h0M456.02 427.47h0M454.81 403.55h0M448.7 416.39h0M458.04 415.08h0M453.41 409.47h0M456.46 411.75h0M458.07 411.54h0M458.01 414.41h0M458.33 431.19h0M445.95 417.67h0M453.45 404.68h0M446.39 431.3h0M456.99 425.29h0M445.67 413.78h0M451.82 430.69h0M451.19 396.52h0M454.96 416.57h0M448.95 420.65h0M448.13 421.59h0M448.71 395.83h0M455.82 398.09h0M452.12 405.68h0M448.37 400.02h0M451.14 416.39h0M451.65 428.67h0M452.64 401.2h0M454.51 398.22h0M455.55 405.76h0M465.14 366.98h0M468.62 364.94h0M472.95 370.38h0M466.78 371.79h0M465.1 365.95h0M468.1 364.17h0M465.07 372.74h0M465.31 362.84h0M465.98 372.56h0M467.85 373.4h0M462.41 385.58h0M466.76 393.3h0M468.5 400.67h0M468.41 400.59h0M470.28 381.96h0M467.27 401.92h0M468.32 382.72h0M473.74 406.79h0M472.86 401.28h0M462.42 378.85h0M470.78 412.37h0M470.75 374.14h0M462.63 403.92h0M471.31 434.22h0M463.25 395.96h0M463.13 426.19h0M470.59 387.68h0M473.81 372.06h0M468.3 402.92h0M466.27 428.58h0M470.96 389.76h0M469.4 424.4h0M467.34 392.02h0M469.56 429.69h0M463.66 414.07h0M463.28 375.25h0M472.25 394.23h0M465.04 395.85h0M472.2 415.22h0M466.55 396.76h0M467.41 376.01h0M471.73 391.96h0M468.77 399.72h0M462.3 412.79h0M468.09 377.53h0M471.54 417.23h0M468.41 386.75h0M472.3 410.04h0M469.29 418.3h0M470.16 375.27h0M463.07 417.52h0M473.07 429.44h0M471.6 434.46h0M467.32 414.01h0M466.71 397.93h0M464.03 403.59h0M461.59 400.09h0M461.65 416.13h0M468.67 404.82h0M469.02 432.73h0M463.08 433.12h0M466.48 405.94h0M470.3 433.49h0M469.11 398.49h0M464.58 397.95h0M470.47 376.08h0M471.84 402.75h0M465.07 432.8h0M467.94 377.11h0M470.3 432.45h0M468.85 389.95h0M466.45 426.76h0M467.97 398.5h0M468.69 407.54h0M466.66 393.94h0M465.38 423.4h0M464.11 436.94h0M462.36 374.32h0M471.35 382.56h0M465.37 391.71h0M472.07 411.26h0M472.47 415.86h0M466.25 436.81h0M470.43 411.95h0M462.55 392.26h0M464.1 407.97h0M466.88 385.8h0M467.49 399.66h0M461.67 397.84h0M469.43 407.79h0M473.9 423.14h0M462.95 398.18h0M466.66 376.1h0M473.2 434.73h0M467.72 398.63h0M463.89 409.61h0M463.47 380.04h0M473.48 416.44h0M461.83 408.68h0M472.57 387.46h0M470.99 400.71h0M463.38 398.96h0M467.93 382.62h0M471.9 413.48h0M468.09 418.99h0M471.65 389.76h0M469.3 437.38h0M463.42 375.38h0M471.13 389.7h0M462.58 417.36h0M469.25 389.44h0M465.6 421.11h0M466.72 433.14h0M462.62 412.72h0M467.26 400.27h0M464.02 426.73h0M470.72 376.65h0M468.77 382.9h0M463.26 405.52h0M467.67 424.48h0M464.72 402.52h0M462.54 433.35h0M472.52 408.3h0M473.59 434.56h0M467.75 394.01h0M465.34 405.58h0M466.78 411h0M471.08 429.63h0M462.71 393.35h0M470.13 380.28h0M463.12 416.77h0M463.47 412.96h0M463.82 392.2h0M465.06 433.54h0M469.12 403.09h0M470.43 408.34h0M468.51 425.29h0M461.72 425.3h0M462.98 435.57h0M463.7 374.26h0M473.95 426.58h0M467.18 420.23h0M461.55 435.13h0M472.6 378.6h0M469.8 424.53h0M464.86 388.19h0M471.87 384.29h0M463.15 394.85h0M468.79 435.81h0M463.52 436.71h0M468.19 432.22h0M464.34 385.03h0M463.39 414.98h0M464.35 407.93h0M464.43 392.16h0M467.51 422.61h0M467.34 388.84h0M467.37 372.38h0M463.66 428.89h0M470.82 396.49h0M463.68 426.36h0M470.02 398.44h0M471.95 401.87h0M467.33 385.45h0M467.8 402.08h0M465.46 383.04h0M468.54 377.1h0M473.61 396.08h0M473.1 426.91h0M472.47 379.61h0M468.42 427.68h0M471.33 391.77h0M473.55 427.88h0M474.17 386h0M463.52 408.84h0M474.14 407.37h0M462.86 418.89h0M462.91 417.66h0M463.15 412.32h0M469.9 383.68h0M467.95 413.13h0M473.25 429.05h0M468.14 420.39h0M470.11 395.05h0M465.12 394.18h0M474.44 415.85h0M465.83 393.28h0M466.46 399.61h0M465.74 428.94h0M474.02 410.72h0M464.82 427.01h0M467.71 373.01h0M474.23 389.05h0M467.22 423.78h0M468.99 394.34h0M466 433.91h0M470.44 376.14h0M462.69 420.94h0M474.02 400.9h0M467.47 373.99h0M472.3 408.84h0M473.42 432.91h0M469.42 403.54h0M472.99 412.61h0M469.88 437.21h0M469.99 418.5h0M469.86 396.03h0M471.01 410.22h0M473.52 436.81h0M465.48 407.65h0M467.27 402.1h0M464.78 407.18h0M464.76 436.82h0M463.83 400.51h0M463.98 411.3h0M473.14 372.26h0M464.37 372.71h0M465.2 402.15h0M465.05 431.22h0M470.59 375.95h0M471.6 430.19h0M462.7 432.13h0M463.85 400.77h0M472.62 406.01h0M472.57 386.98h0M469.65 434.22h0M473.95 402.23h0M465.91 383.3h0M470.53 409.48h0M461.9 388.68h0M479.85 398.69h0M484.81 392.61h0M487.05 417.02h0M484.55 407.75h0M486.74 381.39h0M488.03 386.81h0M479.22 406.17h0M487.47 365.43h0M485.87 381.21h0M482.78 409.72h0M486.75 370.14h0M485.39 408.16h0M481.14 366.39h0M489.04 410.19h0M487.5 420.64h0M486.38 421.21h0M479.81 418.57h0M482.49 423.33h0M480.62 425.05h0M479.03 430.73h0M486.64 423.27h0M478.37 425.59h0M484.43 428.76h0M479.4 426.48h0M480.8 421.15h0M487.12 419.9h0M482.69 422.6h0M483.62 429.58h0M481.08 427.38h0M482.78 430.83h0M489.01 425.61h0M487.06 421.65h0M487.57 428.49h0M478.11 422.63h0M489.33 429.47h0M482.82 431.3h0M479.75 418.92h0M486.73 427.12h0M481.06 419.18h0M483.4 427.13h0M487.2 427.1h0M487.31 423.11h0M479.55 418.01h0M483.37 432.63h0M488.32 424.29h0M484.86 423.46h0M488.03 431.7h0M481.75 423.61h0M485.73 432.16h0M488.76 419.3h0M478.05 425.39h0M479.38 432.92h0M483.02 420.41h0M488.84 430.54h0M495.06 420.56h0M505.52 401.99h0M500.46 364.1h0M505.52 366.63h0M495.09 406.9h0M504.76 383.07h0M502.46 413.69h0M499.78 417.1h0M502.35 375.66h0M497.82 399.9h0M498.23 371.33h0M505.1 366.01h0M503.11 406.47h0M495.02 362.44h0M495.96 389.6h0M500.16 351.4h0M503.82 393.12h0M502.85 414.33h0M501.67 378.19h0M495.78 365.18h0M499.55 425.09h0M504.33 373.61h0M498.05 423.77h0M497.24 391.45h0M503.04 400.86h0M498.4 373.33h0M500.77 357.98h0M495.23 422.33h0M501.5 396.41h0M497.63 425.27h0M504.46 381.63h0M498.03 385.74h0M497.31 397.13h0M496.53 378.07h0M498.84 389.27h0M498.63 377.86h0M503.77 408.62h0M496.63 423.88h0M500.89 370.98h0M501.12 360.58h0M506.2 362.58h0M502.94 409.97h0M500.53 359.99h0M502.69 358.34h0M501.39 418.23h0M503.46 356.49h0M502.31 395.14h0M503.8 421.46h0M502.76 382.58h0M502.57 380.37h0M497.07 430.37h0M503.97 361.4h0M494.34 382.47h0M494.14 410.79h0M502.26 382.49h0M499.12 355.19h0M497.84 368.45h0M502.77 375.27h0M503.56 415.59h0M504.34 398.93h0M503.46 392.48h0M494.96 407.81h0M496.22 427.11h0M502.62 389.58h0M494.1 405.05h0M501.63 375.16h0M496.6 399.11h0M501.55 399.51h0M503.92 384.43h0M497.53 399.11h0M497.12 403.36h0M496.88 355.31h0M501.5 370.93h0M499.08 411.87h0M503.3 386.98h0M500.98 370.53h0M493.99 428.68h0M502.38 396.74h0M505.09 428.62h0M501.2 374.35h0M496.44 385.71h0M498.02 370.86h0M496.73 429.77h0M496.45 426.65h0M500.65 364.82h0M495.24 397.86h0M499.09 401.31h0M502.42 381.59h0M498.72 353.55h0M497.94 394.83h0M494.87 423.83h0M500.14 405.67h0M506.06 374.14h0M503.19 401.18h0M503.7 408.9h0M505.81 392.51h0M494.89 431.6h0M501.79 366.33h0M495.04 405.97h0M504.32 419.11h0M501.65 426.96h0M494.25 350.17h0M501.54 393.2h0M505.5 356.3h0M505.59 404.78h0M494.67 384.77h0M500.04 361.71h0M504.24 377.22h0M504.16 424.48h0M497.99 427.77h0M501.21 388.19h0M498.56 385.86h0M499.06 429.86h0M502.23 410.32h0M494.7 410.26h0M503.12 394.34h0M495.46 391.54h0M506.02 351.79h0M500.3 417.49h0M497.45 415.9h0M500.6 381.61h0M500.11 356.95h0M504.58 372.23h0M498.09 382.24h0M502.17 354.02h0M497.94 426.46h0M494.11 430.93h0M497.77 382.76h0M505.33 372.73h0M497.61 354.41h0M500.1 380.31h0M495.76 423.19h0M500.29 404.06h0M503.33 371.86h0M504.71 371.61h0M500.25 409.54h0M495.77 407.95h0M497.24 398.08h0M494.05 428.51h0M500.57 418.01h0M499.01 359.59h0M499.22 384.33h0M504.67 361.4h0M495.33 410.23h0M496.05 362.78h0M496.99 395.01h0M500.65 355.56h0M504.5 398.74h0M497.67 412.13h0M495.38 358.11h0M498.04 377.84h0M504.72 430.02h0M503.67 379.04h0M506.26 405.78h0M501.57 417.16h0M502.25 396.08h0M496.44 358.83h0M496.71 356.16h0M496.51 373.35h0M495.79 429.07h0M504.15 425.42h0M499.23 431.65h0M503.32 394.06h0M498.82 386h0M505.73 360.6h0M494.48 354.76h0M494.54 417.46h0M501.8 390.28h0M494.08 373.53h0M497.19 392.33h0M504.65 374.81h0M503.48 371.27h0M498.81 416.85h0M499.45 386.07h0M504.63 404.84h0M502.09 420.61h0M498.64 371.36h0M504.76 428.51h0M494.08 365.27h0M497.61 413.6h0M493.96 428.74h0M500.18 428.91h0M503.09 409.69h0M499.74 427.17h0M500.2 419.58h0M495.54 376.47h0M498.55 425.12h0M497.45 414.49h0M502.31 403.13h0M502.3 364.56h0M501.75 357.37h0M498.87 397.33h0M497.26 375.43h0M499.48 410.47h0M498.14 384.86h0M503.66 377.11h0M495.9 405.22h0M504.13 368.69h0M497.86 367.21h0M505.46 369.23h0M501.81 357.12h0M498.24 353.21h0M497.28 367.74h0M498.26 357.77h0M499.04 396.88h0M497.47 363.93h0M497.06 377.11h0M497.44 396.29h0M498.22 356.6h0M505.61 407.07h0M496.56 410.14h0M502.88 417.47h0M499.61 400.65h0M503.65 407.52h0M500.75 420.52h0M500.56 358.49h0M505.93 427.97h0M499.32 401.86h0M499.99 372.35h0M502.97 359.17h0M496.32 405.26h0M502.89 372.7h0M501.28 401.46h0M496.18 419.45h0M496.9 424.23h0M495.52 372.2h0M500.81 366.17h0M494.7 369.32h0M503.67 425.48h0M502.45 386.33h0M500.72 412.24h0M497.49 366.81h0M496.77 383.37h0M503.39 407.35h0M504.04 386.51h0M501 382.59h0M497.91 358.94h0M500.93 426.89h0M496.31 389.99h0M499.62 416.84h0M497.83 386.51h0M505.31 387h0M499.48 407.94h0M494.6 359.71h0M504.23 361.61h0M505.8 380.93h0M504.9 411.5h0M494.18 393.59h0M499.12 423.2h0M498.12 362.77h0M496.53 387.78h0M503.1 373.06h0M498.96 413.36h0M500.74 394.69h0M503.75 353.72h0M503.2 391.4h0M506 410.22h0M495.03 361.05h0M495.25 429.31h0M505.63 402.89h0M497.84 401.86h0M503.89 353.49h0M505.05 374.08h0M502.28 394.3h0M497 356.63h0M506.06 412.82h0M496.33 423.65h0M499.23 420.25h0M500.62 412.74h0M499.76 414.03h0M503.69 408.68h0M502.13 429.74h0M502.64 411.04h0M501.09 372.21h0M500.44 373.51h0M497.68 400.01h0M505.12 419.52h0M498.13 390.74h0M505.63 376.98h0M502.46 354.21h0M498.92 428.54h0M503.15 411.16h0M497.11 371.47h0M502.54 411.96h0M503.19 408.58h0M497.59 361.28h0M503.58 399.81h0M502.93 401.83h0M495.62 362.69h0M495.07 422.49h0M497.78 392.57h0M495.69 369.16h0M494.91 409.91h0M496.14 368.24h0M503.26 397.44h0M500.46 407.31h0M495.96 422.74h0M499.14 379.72h0M496.4 358.58h0M504.31 430.65h0M500 358.27h0M497.21 417.66h0M499.36 393.84h0M501.04 406.15h0M502.26 369.75h0M505.1 359.78h0M498.09 413.94h0M496.91 389.78h0M497.9 364.23h0M504.57 395.11h0M502.99 408.34h0M494.73 430.81h0M503.32 395.38h0M500.18 392.21h0M497.54 393.54h0M497.97 364.72h0M497.2 403.06h0M496.61 366.19h0M505.41 386.3h0M500.93 422.05h0M502.71 422.57h0M506.05 368.78h0M502.71 386.81h0M501.28 357.91h0M496.58 376.22h0M502.52 411.93h0M506.02 359.06h0M502.46 359.16h0M503.2 355.03h0M505.16 414.02h0M504.29 403.8h0M496.83 410.77h0M505.21 400.3h0M497.27 371.64h0M503.02 370.11h0M501.23 361.09h0M502.34 423.46h0M498.28 430.3h0M494.29 391.66h0M503.25 363.09h0M495.93 389.64h0M494.29 382.09h0M504.45 407.39h0M506.25 351.45h0M496.06 398.17h0M505.27 426.85h0M496.87 391.25h0M504.22 351.17h0M503.04 359.32h0M500.13 377.25h0M533.84 402.09h0M532.13 431.16h0" stroke="#111" stroke-width="0.85" stroke-linecap="round" fill="none"/>
<text x="102.4" y="495.7" font-size="10.1" font-weight="bold" text-anchor="middle">Olfm4 (cluster 6)</text>
<line x1="28.5" y1="501" x2="28.5" y2="607.7" stroke="#333333" stroke-width="0.75"/>
<line x1="26" y1="603.4" x2="28.5" y2="603.4" stroke="#333333" stroke-width="0.75"/>
<text x="24.1" y="605.88" font-size="6.9" text-anchor="end" fill="#333333">0</text>
<line x1="26" y1="582.6" x2="28.5" y2="582.6" stroke="#333333" stroke-width="0.75"/>
<text x="24.1" y="585.08" font-size="6.9" text-anchor="end" fill="#333333">1</text>
<line x1="26" y1="561.8" x2="28.5" y2="561.8" stroke="#333333" stroke-width="0.75"/>
<text x="24.1" y="564.28" font-size="6.9" text-anchor="end" fill="#333333">2</text>
<line x1="26" y1="541" x2="28.5" y2="541" stroke="#333333" stroke-width="0.75"/>
<text x="24.1" y="543.48" font-size="6.9" text-anchor="end" fill="#333333">3</text>
<line x1="26" y1="520.2" x2="28.5" y2="520.2" stroke="#333333" stroke-width="0.75"/>
<text x="24.1" y="522.68" font-size="6.9" text-anchor="end" fill="#333333">4</text>
<line x1="28.5" y1="607.7" x2="176.4" y2="607.7" stroke="#333333" stroke-width="0.75"/>
<line x1="38.1" y1="607.7" x2="38.1" y2="610.1" stroke="#333333" stroke-width="0.75"/>
<text x="38.1" y="618.63" font-size="7.3" text-anchor="middle" fill="#333" transform="rotate(-45 38.1 616)">0</text>
<line x1="54.27" y1="607.7" x2="54.27" y2="610.1" stroke="#333333" stroke-width="0.75"/>
<text x="54.27" y="618.63" font-size="7.3" text-anchor="middle" fill="#333" transform="rotate(-45 54.27 616)">1</text>
<line x1="70.44" y1="607.7" x2="70.44" y2="610.1" stroke="#333333" stroke-width="0.75"/>
<text x="70.44" y="618.63" font-size="7.3" text-anchor="middle" fill="#333" transform="rotate(-45 70.44 616)">2</text>
<line x1="86.61" y1="607.7" x2="86.61" y2="610.1" stroke="#333333" stroke-width="0.75"/>
<text x="86.61" y="618.63" font-size="7.3" text-anchor="middle" fill="#333" transform="rotate(-45 86.61 616)">3</text>
<line x1="102.78" y1="607.7" x2="102.78" y2="610.1" stroke="#333333" stroke-width="0.75"/>
<text x="102.78" y="618.63" font-size="7.3" text-anchor="middle" fill="#333" transform="rotate(-45 102.78 616)">4</text>
<line x1="118.95" y1="607.7" x2="118.95" y2="610.1" stroke="#333333" stroke-width="0.75"/>
<text x="118.95" y="618.63" font-size="7.3" text-anchor="middle" fill="#333" transform="rotate(-45 118.95 616)">5</text>
<line x1="135.12" y1="607.7" x2="135.12" y2="610.1" stroke="#333333" stroke-width="0.75"/>
<text x="135.12" y="618.63" font-size="7.3" text-anchor="middle" fill="#33dd33" transform="rotate(-45 135.12 616)">6</text>
<line x1="151.29" y1="607.7" x2="151.29" y2="610.1" stroke="#333333" stroke-width="0.75"/>
<text x="151.29" y="618.63" font-size="7.3" text-anchor="middle" fill="#333" transform="rotate(-45 151.29 616)">7</text>
<line x1="167.46" y1="607.7" x2="167.46" y2="610.1" stroke="#333333" stroke-width="0.75"/>
<text x="167.46" y="618.63" font-size="7.3" text-anchor="middle" fill="#333" transform="rotate(-45 167.46 616)">8</text>
<text x="102.95" y="629.6" font-size="8.8" text-anchor="middle">Cluster</text>
<text x="16.5" y="554.35" font-size="8.8" text-anchor="middle" transform="rotate(-90 16.5 554.35)">Expression Level</text>
<line x1="31.1" y1="603.4" x2="45.1" y2="603.4" stroke="#2a2a2a" stroke-width="1.2"/>
<line x1="38.1" y1="551.5" x2="38.1" y2="603.4" stroke="#6a6a6a" stroke-width="0.95"/>
<polygon points="34.47,578 32.1,581 32.1,592 34.47,595 41.73,595 44.1,592 44.1,581 41.73,578" fill="#0a0a0a" fill-opacity="1" filter="url(#spk)"/>
<polygon points="33.3,581 31.5,583.5 31.5,589.5 33.3,592 42.9,592 44.7,589.5 44.7,583.5 42.9,581" fill="#0a0a0a" fill-opacity="1" filter="url(#spk2)"/>
<line x1="47.27" y1="603.4" x2="61.27" y2="603.4" stroke="#2a2a2a" stroke-width="1.2"/>
<line x1="54.27" y1="523.6" x2="54.27" y2="603.4" stroke="#6a6a6a" stroke-width="0.95"/>
<polygon points="50.64,571 48.27,574 48.27,590 50.64,593 57.9,593 60.27,590 60.27,574 57.9,571" fill="#0a0a0a" fill-opacity="1" filter="url(#spk)"/>
<polygon points="49.47,578 47.67,580.5 47.67,586.5 49.47,589 59.07,589 60.87,586.5 60.87,580.5 59.07,578" fill="#0a0a0a" fill-opacity="1" filter="url(#spk2)"/>
<line x1="63.44" y1="603.4" x2="77.44" y2="603.4" stroke="#2a2a2a" stroke-width="1.2"/>
<line x1="70.44" y1="538.4" x2="70.44" y2="603.4" stroke="#6a6a6a" stroke-width="0.95"/>
<polygon points="66.81,569 64.44,572 64.44,589 66.81,592 74.07,592 76.44,589 76.44,572 74.07,569" fill="#0a0a0a" fill-opacity="1" filter="url(#spk)"/>
<polygon points="65.64,575 63.84,577.5 63.84,585.5 65.64,588 75.24,588 77.04,585.5 77.04,577.5 75.24,575" fill="#0a0a0a" fill-opacity="1" filter="url(#spk2)"/>
<line x1="79.61" y1="603.4" x2="93.61" y2="603.4" stroke="#2a2a2a" stroke-width="1.2"/>
<line x1="86.61" y1="536.7" x2="86.61" y2="603.4" stroke="#6a6a6a" stroke-width="0.95"/>
<line x1="95.78" y1="603.4" x2="109.78" y2="603.4" stroke="#2a2a2a" stroke-width="1.2"/>
<line x1="102.78" y1="548.2" x2="102.78" y2="603.4" stroke="#6a6a6a" stroke-width="0.95"/>
<line x1="111.95" y1="603.4" x2="125.95" y2="603.4" stroke="#2a2a2a" stroke-width="1.2"/>
<line x1="118.95" y1="506.1" x2="118.95" y2="603.4" stroke="#6a6a6a" stroke-width="0.95"/>
<polygon points="118.45,506 117.75,515 116.95,521 114.45,535 113.45,549 113.95,560 114.95,570 116.45,580 117.75,588 118.8,594 118.8,603.4 119.1,603.4 119.1,594 120.15,588 121.45,580 122.95,570 123.95,560 124.45,549 123.45,535 120.95,521 120.15,515 119.45,506" fill="#00B9E3" stroke="#222" stroke-width="0.4"/>
<polygon points="117.95,515 115.95,522 112.95,530 110.95,550 111.95,565 114.45,580 116.95,592 120.95,592 123.45,580 125.95,565 126.95,550 124.95,530 121.95,522 119.95,515" fill="#0a0a0a" fill-opacity="0.85" filter="url(#spk)"/>
<polygon points="117.45,525 114.95,532 112.45,540 111.75,551 112.45,560 114.45,570 115.95,580 117.45,588 120.45,588 121.95,580 123.45,570 125.45,560 126.15,551 125.45,540 122.95,532 120.45,525" fill="#0a0a0a" fill-opacity="0.85" filter="url(#rg)"/>
<line x1="128.12" y1="603.4" x2="142.12" y2="603.4" stroke="#2a2a2a" stroke-width="1.2"/>
<line x1="135.12" y1="541.6" x2="135.12" y2="603.4" stroke="#6a6a6a" stroke-width="0.95"/>
<line x1="144.29" y1="603.4" x2="158.29" y2="603.4" stroke="#2a2a2a" stroke-width="1.2"/>
<line x1="151.29" y1="582.5" x2="151.29" y2="603.4" stroke="#6a6a6a" stroke-width="0.95"/>
<line x1="160.46" y1="603.4" x2="174.46" y2="603.4" stroke="#2a2a2a" stroke-width="1.2"/>
<line x1="167.46" y1="525.3" x2="167.46" y2="603.4" stroke="#6a6a6a" stroke-width="0.95"/>
<path d="M35.73 565.06h0M40.29 577.26h0M42.6 552.43h0M42 558.54h0M35.19 577.24h0M38.04 561.82h0M37.69 559.08h0M35.41 557.71h0M38.5 591.58h0M44.16 590.22h0M34.51 585.07h0M33.02 593.53h0M37.2 582.23h0M42.59 578.25h0M36.95 587.38h0M40.46 588.57h0M40.25 590.45h0M35.36 587.52h0M36.83 580.15h0M33.26 579h0M32.95 584.21h0M40.3 590.73h0M37.44 589.13h0M44.24 577.99h0M35.27 583.69h0M35.03 594.61h0M31.73 586.44h0M33.91 580.03h0M53.43 562.95h0M55.25 552.79h0M52.33 550.17h0M51.86 526.47h0M52.76 526.15h0M57.17 553.88h0M58.98 567.31h0M57.24 561.25h0M49.52 548.15h0M58.07 538.99h0M55.07 580.8h0M55.1 580.34h0M48.2 564.84h0M59.15 577.41h0M53.71 569.66h0M47.94 587.15h0M51.78 586.16h0M52.07 584.32h0M58.66 590.12h0M57.21 573.71h0M56.72 585.46h0M51.38 576.1h0M58.19 564.48h0M51.25 567.88h0M60.6 569.06h0M59.03 576.62h0M54.93 584.43h0M55.46 591.45h0M59.4 586.46h0M53.71 562.99h0M59.3 590.21h0M48.78 566.67h0M59.06 570.67h0M56.89 590.61h0M56.64 571.97h0M57.76 593.02h0M51.75 587.29h0M53.75 580.28h0M55.48 585.31h0M60.44 571.03h0M55.63 583.44h0M52.73 592.15h0M52.67 584.64h0M49.18 583.63h0M58.73 566.86h0M60.26 572.92h0M50.27 575.1h0M54.31 583.86h0M51.08 575.47h0M55.99 570.89h0M74.01 546.44h0M70.99 542.69h0M74.9 540h0M72.3 566.11h0M67.43 550.68h0M68.72 555.08h0M68.11 550.17h0M67.58 544h0M74.64 562.61h0M73.1 557.72h0M65.79 538.57h0M71.74 554.49h0M63.96 574.06h0M69.13 569.53h0M64.62 574.78h0M70 565.61h0M67.3 585.85h0M71.57 583.41h0M70.92 591.42h0M76.8 590.69h0M74.25 563.79h0M76.13 583.06h0M65.66 575.02h0M73.18 565.48h0M71.23 565.36h0M68.89 588.76h0M73.07 588.45h0M69.65 566.51h0M68.13 568.36h0M73.55 589h0M74.18 565.24h0M73.01 578.98h0M74.98 568.24h0M71.55 577.91h0M69.67 572.41h0M73.2 577.46h0M73.89 570.15h0M68.37 580.84h0M64.18 590.2h0M75.02 571.01h0M71.75 586.75h0M70.2 578.5h0M69.85 579.96h0M73.23 567.18h0M65.05 565.6h0M68.36 573.62h0M69.37 562.18h0M84.42 540.74h0M90.86 538.4h0M83.46 544.14h0M86.32 537.84h0M86.5 538.35h0M84.49 538.1h0M91.61 541.5h0M86.75 539.19h0M83.08 569.77h0M84.02 586.47h0M91.48 557.13h0M92.38 585.47h0M91.45 565.25h0M90.41 583.32h0M81.37 563.55h0M84.95 588.58h0M91.33 588.87h0M92.17 583.42h0M92.22 575.08h0M86.64 559.2h0M86.56 554.76h0M82.37 566.91h0M84.86 552.25h0M85.33 558.76h0M85.6 558.54h0M88.4 580.97h0M84.57 572.39h0M89.97 587.18h0M92.25 584.26h0M82.8 558.93h0M86.59 546.22h0M92.53 560.75h0M89.6 584.88h0M86.92 563.81h0M92.48 560.98h0M83.36 564.42h0M86.24 588.21h0M87.49 553.94h0M85.48 580.06h0M87.25 572.88h0M81.61 584.16h0M88.66 566.14h0M88.14 561.15h0M82.62 578.56h0M81.51 558.46h0M81.34 575.67h0M84.53 581.72h0M82.49 568.25h0M86.61 547.2h0M82.18 570.97h0M85 567.72h0M88.89 559.05h0M82.05 547.89h0M82.68 563.07h0M86.1 556.48h0M81.6 587.01h0M84.13 553.48h0M80.83 560.54h0M82.27 568.65h0M80.42 582.7h0M86.67 555.26h0M84.43 565.94h0M82.15 560.86h0M83.87 565.86h0M80.54 552.26h0M83.71 558.24h0M91.53 558.53h0M89.59 555.38h0M85.2 549.84h0M81.36 560.74h0M83 559.73h0M88.48 579.08h0M81.75 564.35h0M84.78 551.52h0M81.78 564.29h0M81.4 563.95h0M90.71 577.7h0M90.18 559.12h0M82.19 560.86h0M90.69 571.83h0M81.87 544.07h0M91.93 550.86h0M85.62 580.43h0M83.83 547.09h0M92.73 555.96h0M91.52 554.61h0M86.92 582.88h0M88.1 546.14h0M80.59 577.99h0M87.34 582.34h0M82.78 564.97h0M80.65 556.53h0M80.9 571.65h0M88.82 559.38h0M80.29 572.87h0M92.15 587.08h0M80.58 575.36h0M87.41 558.93h0M92.94 567.35h0M83 569.71h0M91.73 554.37h0M88.89 553.65h0M83.88 560.66h0M88.02 565.62h0M89.18 568.4h0M81.83 573.56h0M90.67 551.96h0M86.07 562.02h0M83.16 559.46h0M86.4 568.85h0M91.08 568.6h0M81.28 562.61h0M83.38 571.32h0M89.44 564.67h0M86.78 571.8h0M80.56 569.95h0M91.98 562.94h0M81.23 560.21h0M88.68 571.44h0M92.19 556.59h0M85.11 551.97h0M81.77 571.34h0M92.93 564.12h0M86.38 561.34h0M92.1 570.38h0M86.11 557.77h0M91.59 564.52h0M86.29 554.01h0M81.05 570.14h0M89 556.49h0M85.1 559.76h0M87.36 568.32h0M84.91 562.42h0M81.63 567.1h0M81.45 565.95h0M82.82 552.41h0M91.55 564.87h0M83.06 566.42h0M84.71 561.03h0M85.62 564.35h0M82.81 554.63h0M80.41 548.06h0M85.19 568.24h0M88.18 558.62h0M92.47 555.09h0M85.75 552.02h0M92.94 554.01h0M84.63 549.45h0M87.33 562.84h0M85.12 562.6h0M86.99 550.74h0M88.53 571.09h0M88.55 549.73h0M83.4 554.17h0M92.88 567.72h0M91.22 568.04h0M80.13 565.66h0M86.42 565.64h0M86.58 566.58h0M80.11 568.4h0M81.22 558.97h0M85.65 571.44h0M90.07 565.11h0M91.22 567.46h0M85.74 557.38h0M88.6 555.71h0M88.91 571.79h0M80.89 558.96h0M82.47 554.78h0M84.57 569.91h0M80.75 561.96h0M81.3 562.99h0M91.06 554.99h0M84.52 557.55h0M83.29 570.79h0M81.78 565.1h0M88.4 554.69h0M86.99 553.55h0M89.15 564.75h0M86.49 552.83h0M91.43 560.78h0M89.62 550.44h0M80.64 572.94h0M82.12 558.86h0M88.82 558.72h0M83.87 560.39h0M88.62 567.25h0M88.18 548.99h0M100.43 552.27h0M103.27 550.44h0M106.46 551.96h0M99 556.78h0M99.79 551.59h0M103.81 558.08h0M99.34 578.36h0M98.91 564.05h0M107.81 578.58h0M98.26 571.37h0M107.2 579.89h0M103.92 590.52h0M99.96 561.69h0M99.1 587.83h0M107.53 583.49h0M105.71 560.33h0M100.96 586.29h0M99.61 572.4h0M103.87 577.13h0M105.52 568.01h0M98.9 566.79h0M106.33 572.37h0M102.75 571.32h0M107.31 576.15h0M105.81 560.03h0M106.31 580.67h0M106.77 589.07h0M99.82 584.01h0M97.25 581.62h0M96.92 591.38h0M106.66 568.62h0M107.76 575.04h0M96.53 567.19h0M97.42 589.18h0M104.66 567.02h0M97.91 575.62h0M103.43 574.31h0M104.5 566.53h0M106.9 561.53h0M99.99 571.4h0M96.39 591.04h0M98.32 561.57h0M104.63 562.07h0M103.8 581.28h0M107.86 570.99h0M108.7 587.06h0M106.57 589h0M106.02 582.19h0M101.5 586.26h0M100.15 587.9h0M97.78 581.04h0M98.27 582.63h0M108.7 587.95h0M105.43 582.91h0M105.74 567.6h0M102.05 575.81h0M97.93 582.83h0M109.07 579.05h0M101.19 589.56h0M97 580.6h0M106.91 567.52h0M99.58 580.1h0M103.62 570.78h0M97.82 561.62h0M101.41 590.92h0M102.89 564.14h0M103.04 565.21h0M99.75 589.92h0M98.87 590.87h0M103.1 569.27h0M102.83 582.23h0M108.28 588.64h0M97.67 588.46h0M96.81 562.8h0M97.45 563.59h0M97.18 581.37h0M98.75 568.04h0M98.48 590.51h0M99.95 572.18h0M104.94 567.56h0M108.21 586.74h0M104.08 562.42h0M107.36 569.84h0M102.11 574h0M108.94 573.13h0M105.92 562.82h0M105.67 584.53h0M108.79 582.98h0M97.92 576.35h0M106.87 587.57h0M97.97 586.59h0M101.97 570.62h0M97.64 586.56h0M102.43 570.04h0M108.66 578.86h0M101.43 582.27h0M100.55 578.53h0M100.68 580.67h0M96.62 587.81h0M107.79 578.48h0M109.06 581.76h0M107.34 575.57h0M107.24 586.48h0M105.86 587.67h0M99.06 572.25h0M98.97 579.74h0M100.48 581.78h0M101.01 578.08h0M96.71 581.37h0M106.89 576.29h0M106.04 580.96h0M97.44 584.42h0M97.08 582.48h0M97.64 577.22h0M101.77 570.16h0M105.75 577.86h0M103.45 570.99h0M97.93 583.42h0M107.58 576.24h0M106.18 575.66h0M96.57 587.29h0M98.65 585.74h0M104.08 587.36h0M106.17 583.09h0M100.88 586.13h0M99.69 574.66h0M97.14 575.32h0M101.34 581.49h0M106.42 579.77h0M107.73 575.74h0M98.66 578.29h0M103.96 578.19h0M101.9 581.92h0M99.89 580.24h0M100.97 582.44h0M102.36 585.9h0M101.63 580.62h0M106.52 573.91h0M100.48 585.37h0M100.72 581.3h0M100.29 582.45h0M96.3 582.08h0M104.07 573.19h0M104.24 584.71h0M96.39 574.08h0M101.41 582.99h0M105.74 575.41h0M102.43 575.13h0M100.28 571.42h0M98.83 585.25h0M104.63 575.58h0M99.54 586.53h0M100.09 585.82h0M106.62 583.68h0M97.92 573.88h0M102.64 578.64h0M117.59 515.66h0M115.06 520.25h0M117.78 513.39h0M122.8 508.21h0M116.97 517.4h0M119.13 520.47h0M119.33 514.57h0M122.09 514.52h0M116.63 514.43h0M118.45 513.33h0M117.97 512.43h0M120.76 510.25h0M118.97 598.49h0M116.44 588.38h0M118.24 595.32h0M116.41 593.18h0M117.44 594.33h0M119.94 599.73h0M118.74 587.81h0M120.45 591.8h0M116.96 599.82h0M120.64 590.09h0M136.66 581.9h0M135.1 598.58h0M134.97 593.07h0M137.99 598.76h0M134.13 567.22h0M134.68 562.19h0M134.05 592.25h0M131.46 597.8h0M135.52 584.41h0M137.04 587.28h0M139.32 590.74h0M132.97 592.35h0M171.07 586.57h0M167.77 559.27h0M166.22 549.48h0M164.44 537.11h0M164.57 526.73h0M168.55 554.13h0M171.84 557.87h0" stroke="#111" stroke-width="0.85" stroke-linecap="round" fill="none"/>
<path d="M119.24 545.45h0M120.6 582.58h0M118.83 579.1h0M119.44 551.47h0M120.46 533.95h0M119.6 570.63h0M113.01 554.71h0M122.52 574.64h0M116.46 528.07h0M121.43 567.83h0M122.61 575.34h0M121.59 539.69h0M116.12 531.85h0M118.86 572.89h0M115.17 546.77h0M125.5 552.79h0M116.19 537.74h0M116.88 539.68h0M116.98 537.12h0M124.71 562.09h0M118.79 584.72h0M118.53 575.34h0M117.9 525.22h0M119.48 530.28h0M115.24 556.61h0M116.39 534.83h0M120.57 526.59h0M120.44 548.08h0M124.83 553.29h0M113.98 566.48h0M114.24 568.46h0M114.75 569.94h0M118.35 573.54h0M121.63 569.88h0M122.65 574.67h0M118.23 585.44h0M117.23 528.56h0M120.77 530.17h0M117.15 566.62h0M122.62 571.24h0M113.29 538.68h0M112.83 555.5h0M113.74 557.87h0M119.04 567.52h0M112.34 542.18h0M115.7 544.15h0M119.91 535.68h0M121.21 559.55h0M117.87 574.93h0M119.51 587.71h0M119.52 587.95h0M120.43 526.16h0M114 553.98h0M116.71 578.01h0M120.09 556.59h0M119.8 551.49h0M119.29 581.55h0M124.75 563.21h0M125.89 548.44h0M115.87 547.3h0M120.92 575.05h0M123.88 549.3h0M120.17 558.1h0M119.55 544.1h0M118.9 532.2h0M120.49 574.24h0M119.46 549.24h0M121.64 574.66h0M122.83 547.88h0M122.3 568.3h0" stroke="#00B9E3" stroke-width="1.1" stroke-linecap="round" fill="none"/>
<text x="285" y="495.7" font-size="10.1" font-weight="bold" text-anchor="middle">Defa21 (clusters 0, 2 &amp; 4)</text>
<line x1="211.6" y1="501" x2="211.6" y2="608" stroke="#333333" stroke-width="0.75"/>
<line x1="209.1" y1="603.4" x2="211.6" y2="603.4" stroke="#333333" stroke-width="0.75"/>
<text x="207.2" y="605.88" font-size="6.9" text-anchor="end" fill="#333333">0</text>
<line x1="209.1" y1="577.4" x2="211.6" y2="577.4" stroke="#333333" stroke-width="0.75"/>
<text x="207.2" y="579.88" font-size="6.9" text-anchor="end" fill="#333333">2</text>
<line x1="209.1" y1="551.4" x2="211.6" y2="551.4" stroke="#333333" stroke-width="0.75"/>
<text x="207.2" y="553.88" font-size="6.9" text-anchor="end" fill="#333333">4</text>
<line x1="209.1" y1="525.4" x2="211.6" y2="525.4" stroke="#333333" stroke-width="0.75"/>
<text x="207.2" y="527.88" font-size="6.9" text-anchor="end" fill="#333333">6</text>
<line x1="211.6" y1="608" x2="359.6" y2="608" stroke="#333333" stroke-width="0.75"/>
<line x1="221.1" y1="608" x2="221.1" y2="610.4" stroke="#333333" stroke-width="0.75"/>
<text x="221.1" y="618.93" font-size="7.3" text-anchor="middle" fill="#33dd33" transform="rotate(-45 221.1 616.3)">0</text>
<line x1="237.14" y1="608" x2="237.14" y2="610.4" stroke="#333333" stroke-width="0.75"/>
<text x="237.14" y="618.93" font-size="7.3" text-anchor="middle" fill="#333" transform="rotate(-45 237.14 616.3)">1</text>
<line x1="253.18" y1="608" x2="253.18" y2="610.4" stroke="#333333" stroke-width="0.75"/>
<text x="253.18" y="618.93" font-size="7.3" text-anchor="middle" fill="#33dd33" transform="rotate(-45 253.18 616.3)">2</text>
<line x1="269.22" y1="608" x2="269.22" y2="610.4" stroke="#333333" stroke-width="0.75"/>
<text x="269.22" y="618.93" font-size="7.3" text-anchor="middle" fill="#333" transform="rotate(-45 269.22 616.3)">3</text>
<line x1="285.26" y1="608" x2="285.26" y2="610.4" stroke="#333333" stroke-width="0.75"/>
<text x="285.26" y="618.93" font-size="7.3" text-anchor="middle" fill="#33dd33" transform="rotate(-45 285.26 616.3)">4</text>
<line x1="301.3" y1="608" x2="301.3" y2="610.4" stroke="#333333" stroke-width="0.75"/>
<text x="301.3" y="618.93" font-size="7.3" text-anchor="middle" fill="#333" transform="rotate(-45 301.3 616.3)">5</text>
<line x1="317.34" y1="608" x2="317.34" y2="610.4" stroke="#333333" stroke-width="0.75"/>
<text x="317.34" y="618.93" font-size="7.3" text-anchor="middle" fill="#333" transform="rotate(-45 317.34 616.3)">6</text>
<line x1="333.38" y1="608" x2="333.38" y2="610.4" stroke="#333333" stroke-width="0.75"/>
<text x="333.38" y="618.93" font-size="7.3" text-anchor="middle" fill="#333" transform="rotate(-45 333.38 616.3)">7</text>
<line x1="349.42" y1="608" x2="349.42" y2="610.4" stroke="#333333" stroke-width="0.75"/>
<text x="349.42" y="618.93" font-size="7.3" text-anchor="middle" fill="#333" transform="rotate(-45 349.42 616.3)">8</text>
<text x="286.1" y="629.6" font-size="8.8" text-anchor="middle">Cluster</text>
<text x="198.8" y="554.5" font-size="8.8" text-anchor="middle" transform="rotate(-90 198.8 554.5)">Expression Level</text>
<line x1="221.1" y1="507" x2="221.1" y2="562.1" stroke="#6a6a6a" stroke-width="0.95"/>
<polygon points="217.58,506.8 215.3,509.8 215.3,552 217.58,555 224.62,555 226.9,552 226.9,509.8 224.62,506.8" fill="#0a0a0a" fill-opacity="1" filter="url(#spk)"/>
<polygon points="216.5,506.8 214.7,509.3 214.7,530.5 216.5,533 225.7,533 227.5,530.5 227.5,509.3 225.7,506.8" fill="#0a0a0a" fill-opacity="1" filter="url(#rg)"/>
<line x1="230.14" y1="603.4" x2="244.14" y2="603.4" stroke="#2a2a2a" stroke-width="1.2"/>
<line x1="237.14" y1="512.5" x2="237.14" y2="603.4" stroke="#6a6a6a" stroke-width="0.95"/>
<polygon points="233.62,515 231.34,518 231.34,569 233.62,572 240.66,572 242.94,569 242.94,518 240.66,515" fill="#0a0a0a" fill-opacity="1" filter="url(#spk)"/>
<polygon points="232.54,527.6 230.74,530.1 230.74,560.9 232.54,563.4 241.74,563.4 243.54,560.9 243.54,530.1 241.74,527.6" fill="#0a0a0a" fill-opacity="1" filter="url(#rg)"/>
<line x1="246.18" y1="603.4" x2="260.18" y2="603.4" stroke="#2a2a2a" stroke-width="1.2"/>
<line x1="253.18" y1="514" x2="253.18" y2="585" stroke="#6a6a6a" stroke-width="0.95"/>
<polygon points="249.66,518 247.38,521 247.38,571 249.66,574 256.7,574 258.98,571 258.98,521 256.7,518" fill="#0a0a0a" fill-opacity="1" filter="url(#spk)"/>
<polygon points="248.58,532.4 246.78,534.9 246.78,562.3 248.58,564.8 257.78,564.8 259.58,562.3 259.58,534.9 257.78,532.4" fill="#0a0a0a" fill-opacity="1" filter="url(#rg)"/>
<line x1="262.22" y1="603.4" x2="276.22" y2="603.4" stroke="#2a2a2a" stroke-width="1.2"/>
<line x1="269.22" y1="508.5" x2="269.22" y2="603.4" stroke="#6a6a6a" stroke-width="0.95"/>
<polygon points="267.22,511 264.22,530 264.22,555 266.22,565 268.42,572 269.1,580 269.1,603.4 269.34,603.4 269.34,580 270.02,572 272.22,565 274.22,555 274.22,530 271.22,511" fill="#00BA38" stroke="#222" stroke-width="0.4"/>
<polygon points="265.7,508 263.42,511 263.42,567 265.7,570 272.74,570 275.02,567 275.02,511 272.74,508" fill="#0a0a0a" fill-opacity="1" filter="url(#spk)"/>
<polygon points="264.62,509.6 262.82,512.1 262.82,562.3 264.62,564.8 273.82,564.8 275.62,562.3 275.62,512.1 273.82,509.6" fill="#0a0a0a" fill-opacity="1" filter="url(#rg)"/>
<line x1="278.26" y1="603.4" x2="292.26" y2="603.4" stroke="#2a2a2a" stroke-width="1.2"/>
<line x1="285.26" y1="508.5" x2="285.26" y2="603.4" stroke="#6a6a6a" stroke-width="0.95"/>
<polygon points="282.76,511 279.76,530 279.76,555 282.26,565 284.46,572 285.14,580 285.14,603.4 285.38,603.4 285.38,580 286.06,572 288.26,565 290.76,555 290.76,530 287.76,511" fill="#00C19F" stroke="#222" stroke-width="0.4"/>
<polygon points="281.74,508 279.46,511 279.46,568.7 281.74,571.7 288.78,571.7 291.06,568.7 291.06,511 288.78,508" fill="#0a0a0a" fill-opacity="0.85" filter="url(#spk)"/>
<polygon points="280.66,509 278.86,511.5 278.86,559.5 280.66,562 289.86,562 291.66,559.5 291.66,511.5 289.86,509" fill="#0a0a0a" fill-opacity="0.85" filter="url(#rg)"/>
<line x1="294.3" y1="603.4" x2="308.3" y2="603.4" stroke="#2a2a2a" stroke-width="1.2"/>
<line x1="301.3" y1="509.5" x2="301.3" y2="603.4" stroke="#6a6a6a" stroke-width="0.95"/>
<polygon points="299.3,512 296.3,530 296.3,555 298.3,567 300.5,574 301.18,582 301.18,603.4 301.42,603.4 301.42,582 302.1,574 304.3,567 306.3,555 306.3,530 303.3,512" fill="#00B9E3" stroke="#222" stroke-width="0.4"/>
<polygon points="297.78,510.3 295.5,513.3 295.5,567 297.78,570 304.82,570 307.1,567 307.1,513.3 304.82,510.3" fill="#0a0a0a" fill-opacity="0.9" filter="url(#spk)"/>
<polygon points="296.7,536 294.9,538.5 294.9,562.3 296.7,564.8 305.9,564.8 307.7,562.3 307.7,538.5 305.9,536" fill="#0a0a0a" fill-opacity="0.9" filter="url(#rg)"/>
<line x1="317.34" y1="516.3" x2="317.34" y2="603.4" stroke="#6a6a6a" stroke-width="0.95"/>
<polygon points="317.04,516.3 316.34,535 314.34,544 311.84,553 310.34,562 312.34,575 315.34,583.4 316.64,592 315.84,598 313.34,601 310.84,603.4 323.84,603.4 321.34,601 318.84,598 318.04,592 319.34,583.4 322.34,575 324.34,562 322.84,553 320.34,544 318.34,535 317.64,516.3" fill="#4A94F8" stroke="#222" stroke-width="0.4"/>
<polygon points="315.34,540 311.34,552 309.54,562 310.34,575 313.34,585 315.84,592 318.84,592 321.34,585 324.34,575 325.14,562 323.34,552 319.34,540" fill="#0a0a0a" fill-opacity="0.75" filter="url(#spk)"/>
<polygon points="315.34,548 312.34,555 310.54,562 311.34,572 313.84,580 315.84,585 318.84,585 320.84,580 323.34,572 324.14,562 322.34,555 319.34,548" fill="#0a0a0a" fill-opacity="0.75" filter="url(#rg)"/>
<polygon points="329.88,506.1 327.88,507.5 326.38,509.5 325.88,512 326.58,516 328.38,519.5 330.38,522.8 331.58,528 332.18,540 332.58,550 333.08,555.5 333.68,555.5 334.18,550 334.58,540 335.18,528 336.38,522.8 338.38,519.5 340.18,516 340.88,512 340.38,509.5 338.88,507.5 336.88,506.1" fill="#DB72FB" stroke="#222" stroke-width="0.4"/>
<polygon points="346.32,511.9 346.02,516 346.02,527 346.02,537.5 344.42,545 342.92,552 342.22,558.8 343.02,566 345.02,575 347.42,586.6 348.22,595 348.22,603.8 350.62,603.8 350.62,595 351.42,586.6 353.82,575 355.82,566 356.62,558.8 355.92,552 354.42,545 352.82,537.5 352.82,527 352.82,516 352.52,511.9" fill="#FF61C3" stroke="#222" stroke-width="0.4"/>
<path d="M215.8 550.2h0M222.73 546.57h0M219.51 551.99h0M215.83 552.44h0M216.14 541.34h0M224.1 543.19h0M220.26 545.35h0M219.07 532.75h0M226.77 539.21h0M226.45 533.12h0M215.88 548.08h0M220.44 531.14h0M217.33 548.67h0M216.41 531.22h0M215.3 545.79h0M225.99 530.72h0M220.82 535.92h0M223.66 542.19h0M223.7 537.62h0M225.98 532.64h0M223.13 533.12h0M224.6 535.68h0M221.52 531.35h0M222.2 532.14h0M219.76 552.37h0M220.07 546.53h0M219.65 555.51h0M217.64 536.29h0M219.32 545.46h0M217.72 536.84h0M243.16 520.1h0M235.33 516.27h0M242.63 518.46h0M235.72 518.84h0M242.03 522.96h0M236.16 519.96h0M235.12 522.57h0M243.03 514.83h0M241.16 518.65h0M233.09 517.99h0M233.26 523.28h0M239.74 522.66h0M237.44 523.57h0M234.42 515.19h0M237.57 515.35h0M233.03 516.59h0M235.04 520.75h0M234.48 513.16h0M233.93 513.18h0M239.97 519.61h0M233.66 512.66h0M243.42 521.62h0M240.04 521.88h0M236.76 526.2h0M239.88 524.05h0M242.45 574.45h0M231.61 569.16h0M231.69 568.96h0M242.05 562.85h0M242.25 573.32h0M231.34 569.47h0M242.24 574.25h0M240.6 568.62h0M236.92 570.4h0M241.34 565.66h0M237.91 571.79h0M237.48 564.76h0M241.88 568.33h0M243.22 570.41h0M238.43 570.21h0M234.01 568.9h0M239.6 570.3h0M239.27 572.51h0M240.14 567.12h0M241.26 567.64h0M254.99 523.7h0M256.75 517.9h0M251.48 527.32h0M256.17 525.86h0M259.68 518.15h0M258.37 522.81h0M259 527.7h0M253.97 521.14h0M247.14 515.06h0M255.85 517.87h0M248.93 526.97h0M255.31 514.99h0M255.13 531.93h0M255.14 516.09h0M258.53 517.91h0M246.95 530.37h0M250.83 514.41h0M257.66 529.29h0M250.36 529.26h0M249.76 524.24h0M259 514.12h0M246.98 531.11h0M251.98 530.1h0M252.55 530.12h0M249.24 531.52h0M258.33 571.41h0M251.43 574.09h0M251.05 577.02h0M255.66 568.22h0M254.1 579.27h0M254.78 565.7h0M247.78 579.87h0M254.26 575.12h0M250.81 578.43h0M254.45 568.95h0M248.21 577.68h0M254.19 579.2h0M249.36 577.74h0M259.3 564.89h0M259.49 567.53h0M271.78 578.51h0M271.94 576.42h0M263.83 574.51h0M267.96 576.62h0M273.14 574.04h0M270.38 572.03h0M271.66 568.53h0M263.58 579.03h0M268.29 570.69h0M269.88 576.28h0M264.64 568.9h0M271.24 575.84h0M268.83 566.94h0M271.06 566.64h0M268.81 576.1h0M280.97 571.08h0M280.33 572.55h0M284.66 570.97h0M279.28 570.94h0M284.46 578.59h0M291.02 571.26h0M281.21 576.81h0M282.49 569.47h0M282.83 578.48h0M279.55 575.61h0M281.09 570.27h0M280.52 569.3h0M285.78 576.42h0M291.4 577.69h0M284.86 575.1h0M285.67 578.08h0M288.65 567.13h0M279.79 565h0M304.83 578.61h0M296.76 580.25h0M300.95 578.74h0M297.31 584.69h0M296.62 573.11h0M303.11 578.66h0M301.65 566.88h0M295.92 584.5h0M300.85 576.61h0M300.78 575.92h0M299.47 577.71h0M306.67 566.24h0M302.84 582.94h0M301.84 578.93h0M303.65 574.3h0M303.88 567.73h0M302.01 565.87h0M303.3 579.53h0M306.78 512.26h0M301.16 515.81h0M296.25 534.95h0M300.9 523.31h0M306.57 522.89h0M298.13 529.49h0M305.22 525.85h0M299.91 539.96h0M303.5 527.37h0M302.35 528.52h0M296.98 520.57h0M296.37 511.5h0M295.69 535.44h0M295.31 524.89h0M307.28 531.4h0M296.54 511.46h0M297.56 517.45h0M301.63 527.71h0M302.14 525.63h0M297.7 530.56h0M297.82 530.33h0M302.37 535.4h0M301.6 532.92h0M302.71 512.16h0M295.68 527.5h0M296.06 523.78h0M301.84 536.38h0M302.12 538.8h0M305.48 528.13h0M299.72 529.43h0M294.96 522.71h0M304.02 519.88h0M297.79 512.35h0M297.86 537.23h0M306 533.08h0M302.65 524.61h0M298.69 521.53h0M303.98 534.88h0M297.73 534.81h0M307.36 525.77h0M294.58 525.51h0M301.76 516.44h0M303.68 521.2h0M303.45 525.5h0M297.71 533.68h0M301.03 529.31h0M295.68 520.03h0M304.77 519.43h0M305.77 514.39h0M297.79 532.3h0M304.79 517.18h0M306.79 513.54h0M299.81 518.33h0M302.91 514.83h0M295.57 527.71h0M302.39 530.5h0M302.58 513.41h0M305.15 539.42h0M301.15 528.16h0M307.1 536.81h0M295.65 518.37h0M305.59 517.65h0M296.69 536.66h0M303.77 521.42h0M300.47 515.83h0M306.73 535.42h0M303.35 531.39h0M301.49 526.01h0M304.44 533.45h0M299.13 522.69h0M302.95 512.6h0M300.45 523.14h0M295.64 538.26h0M305.65 515.12h0M299.96 532.26h0M298.63 524.97h0M306.68 535.98h0M299.64 511.26h0M302.41 535.35h0M306.06 533.58h0M295.66 523.68h0M307.65 510.24h0M297.91 527.84h0M299 518.57h0M298.12 521.49h0M304.6 518.7h0M298.2 538.17h0M295.7 526.68h0M306.47 516.71h0M304.96 517.73h0M314.86 528.63h0M319.77 539.42h0M312.52 534.06h0M312.54 523.13h0M316.97 522.46h0M316.94 522.55h0M320.14 533.83h0M315.79 523.01h0M316.51 543.52h0M315.98 525.57h0M319.77 523.36h0M321.05 525.46h0M319.26 520.18h0M312.44 539.08h0M322.44 527.98h0M318.28 532.47h0M322.81 526.11h0M319.99 521.99h0M314.18 524.83h0M316.94 542.89h0M311.79 543.98h0M316.07 534.49h0M317.26 541.04h0M315.01 527.4h0M320.23 535.04h0M317.08 589.81h0M316.53 583.06h0M322.38 590.88h0M321.26 588.37h0M314.6 588.73h0M315.02 587.54h0M322.31 588.18h0M313.34 585.14h0M315.02 585.73h0M314.65 581.02h0M321.24 580.58h0M320.52 581.06h0M322.69 585.35h0M315.25 591.78h0M317.3 580.52h0M328.42 518.71h0M330.57 513.45h0M329.93 508.62h0M334.66 510.95h0M332.97 511.68h0M331.45 514.62h0M331.41 509.64h0M328.62 519.44h0M332.12 517.38h0M329.03 514.35h0M336.17 512.26h0M330.62 510.3h0M330.51 513.58h0M334.52 518.3h0M348.17 531.26h0M351.7 548.4h0M351.7 597.87h0M353 589.08h0M350.76 532.04h0M353.48 561.06h0M348.29 549.01h0M354.07 543.61h0M350.81 523.41h0M347.61 574.63h0M350.54 545.06h0M347.1 537.39h0M349.68 559.37h0M349.72 548.29h0M353.72 588.25h0M351.1 555.08h0M348.61 558.36h0M352.64 554.53h0M346.08 519.56h0M351.82 584.33h0M350.58 571.92h0M350.63 551.46h0M348.66 537.08h0M348.67 536.67h0M347.12 524.59h0M348.72 571.17h0M353.39 580.87h0M349.59 597.82h0M350.98 529.17h0M348.91 515.59h0M347.81 556.27h0M345.81 583.29h0M346.23 575.16h0M345.09 541.39h0M349.67 513.46h0M346.45 563.4h0M348.26 549.46h0M348.1 580.53h0M344.81 598.8h0M348.08 531.39h0M352 517.05h0M350.92 531.36h0M352.25 567.54h0M344.61 537.51h0M354.05 596.2h0" stroke="#111" stroke-width="0.85" stroke-linecap="round" fill="none"/>
<path d="M269.3 544.12h0M271.46 550.82h0M272.61 553.12h0M271.91 532.57h0M265.53 558.47h0M268.49 509.76h0M264.27 533.54h0M267.68 562.18h0M271.11 560.29h0M271.3 559.13h0M264.6 554.66h0M266.4 561.09h0M272.22 545.45h0M266.53 522.29h0M271.15 515.04h0M273.42 528.68h0M271.08 557.48h0M270.77 560.67h0M273.43 557.34h0M265.31 554.2h0M264.32 532.5h0M270.7 514.02h0M270.18 530.86h0M266.02 554.64h0M273.07 536.45h0" stroke="#00BA38" stroke-width="1.1" stroke-linecap="round" fill="none"/>
<path d="M287.57 541.89h0M283.18 550.51h0M284.95 543.36h0M289 543.17h0M289.06 530.98h0M290.53 538.42h0M284.34 542.92h0M285.65 517.73h0M287.49 519.04h0M287.89 515.78h0M279.82 550.15h0M289.46 523.12h0M290.28 551.7h0M287.98 525.68h0M285.36 532.52h0M281.31 543.92h0M288.27 543.75h0M288.58 547.75h0M290.11 550.21h0M282.39 518.36h0M288.01 543.09h0M288.18 521.18h0M281.79 519.39h0M285.75 515.2h0M286.82 541.72h0M287.82 529.65h0M289.47 551.95h0M284.51 541.55h0M280.3 544.31h0M290.07 551.24h0M284.48 536.78h0M286.05 509.46h0M286.84 518.24h0M283.65 547.63h0M286.95 534.26h0M281.68 548.02h0M289.59 525.13h0M288.6 556.06h0M287.34 544.56h0M285.93 510.18h0M280.26 530.14h0M284.33 552.15h0M286.86 513.79h0M287.68 552.64h0M286.71 541.49h0M289.53 528.69h0M285.21 510.23h0M287.6 559.73h0M285.88 514.33h0M280.74 533.85h0M287.62 541.06h0M288.04 527.96h0M287.85 544.9h0M283.89 522.2h0M289.01 560.17h0M286.03 547.35h0M283.8 521.75h0M284.18 511.63h0M288.98 535h0M290.27 555.69h0" stroke="#00C19F" stroke-width="1.1" stroke-linecap="round" fill="none"/>
<path d="M304.96 546.51h0M297.54 536.96h0M301.61 555.95h0M297.44 551.06h0M302.69 559.46h0M296.74 554.88h0M296.64 542.42h0M302.18 544.63h0M297.4 542.73h0M303.41 552.18h0M298.63 555.29h0M300.74 536.18h0M304.12 540.93h0M305.5 545.43h0M305.63 551.46h0M300.12 552.99h0M300 560.49h0M297.78 563.62h0M298.7 554.18h0M297.91 545.4h0M304.19 557.91h0M296.39 545.19h0M301.99 543.6h0M298.91 554.68h0M305.11 556.11h0M300 544.06h0M298.38 556.3h0M302.96 547.83h0M304.26 551.48h0M302.53 558.96h0M300.96 539.97h0M296.42 542.21h0M296.43 540.05h0M302.78 547.07h0M296.3 546.3h0" stroke="#00B9E3" stroke-width="1.1" stroke-linecap="round" fill="none"/>
<path d="M314.12 568.47h0M323.66 561.68h0M318.79 572.25h0M314.6 555.67h0M311.17 568.91h0M318.28 560.41h0M312.6 563.56h0M319.09 554.85h0M314.05 578.3h0M311.23 566.66h0M316.51 576.5h0M312.76 568.53h0M316.39 579.54h0M318.09 572.48h0M317.13 551.06h0M314.48 552.3h0M319.07 566.94h0M314.13 565.27h0M310.67 561.66h0M322.14 567.42h0M316.47 584.34h0M323.2 561.17h0M313.75 576.56h0M317.51 552.52h0M315.17 576.03h0M315.39 579.85h0M317.42 570.41h0M312.76 555.77h0M315.44 566.57h0M312.28 555.71h0M321.7 565.15h0M322.49 568.64h0M312.76 571.31h0M321.42 570.76h0M314.86 580.15h0M315.87 581.17h0M316.34 551.45h0M314.87 579.41h0M319.61 556.59h0M320.29 555.06h0M313.53 558.71h0M316.28 580.4h0M316.83 560.7h0M313.22 555.03h0M322.38 573.9h0M316.07 566.35h0M318.86 562.86h0M319.77 550.29h0M315.45 561.32h0M316.39 584.48h0M317.08 548.99h0M315.68 583.33h0M322.32 572.07h0M316.78 550.43h0M319.21 581.72h0M320.16 553.61h0M322.72 572.49h0M317.56 564.64h0M318.08 564.2h0M321.79 565.88h0" stroke="#4A94F8" stroke-width="1.1" stroke-linecap="round" fill="none"/>
<text x="467.6" y="496.1" font-size="10.1" font-weight="bold" text-anchor="middle">Defa39 (clusters 0, 1, 2 &amp; 3)</text>
<line x1="393.7" y1="502" x2="393.7" y2="607.9" stroke="#333333" stroke-width="0.75"/>
<line x1="391.2" y1="603.5" x2="393.7" y2="603.5" stroke="#333333" stroke-width="0.75"/>
<text x="389.3" y="605.98" font-size="6.9" text-anchor="end" fill="#333333">0</text>
<line x1="391.2" y1="577.8" x2="393.7" y2="577.8" stroke="#333333" stroke-width="0.75"/>
<text x="389.3" y="580.28" font-size="6.9" text-anchor="end" fill="#333333">2</text>
<line x1="391.2" y1="552.1" x2="393.7" y2="552.1" stroke="#333333" stroke-width="0.75"/>
<text x="389.3" y="554.58" font-size="6.9" text-anchor="end" fill="#333333">4</text>
<line x1="391.2" y1="526.4" x2="393.7" y2="526.4" stroke="#333333" stroke-width="0.75"/>
<text x="389.3" y="528.88" font-size="6.9" text-anchor="end" fill="#333333">6</text>
<line x1="393.7" y1="607.9" x2="540" y2="607.9" stroke="#333333" stroke-width="0.75"/>
<line x1="403.7" y1="607.9" x2="403.7" y2="610.3" stroke="#333333" stroke-width="0.75"/>
<text x="403.7" y="618.83" font-size="7.3" text-anchor="middle" fill="#33dd33" transform="rotate(-45 403.7 616.2)">0</text>
<line x1="419.77" y1="607.9" x2="419.77" y2="610.3" stroke="#333333" stroke-width="0.75"/>
<text x="419.77" y="618.83" font-size="7.3" text-anchor="middle" fill="#33dd33" transform="rotate(-45 419.77 616.2)">1</text>
<line x1="435.84" y1="607.9" x2="435.84" y2="610.3" stroke="#333333" stroke-width="0.75"/>
<text x="435.84" y="618.83" font-size="7.3" text-anchor="middle" fill="#33dd33" transform="rotate(-45 435.84 616.2)">2</text>
<line x1="451.91" y1="607.9" x2="451.91" y2="610.3" stroke="#333333" stroke-width="0.75"/>
<text x="451.91" y="618.83" font-size="7.3" text-anchor="middle" fill="#33dd33" transform="rotate(-45 451.91 616.2)">3</text>
<line x1="467.98" y1="607.9" x2="467.98" y2="610.3" stroke="#333333" stroke-width="0.75"/>
<text x="467.98" y="618.83" font-size="7.3" text-anchor="middle" fill="#333" transform="rotate(-45 467.98 616.2)">4</text>
<line x1="484.05" y1="607.9" x2="484.05" y2="610.3" stroke="#333333" stroke-width="0.75"/>
<text x="484.05" y="618.83" font-size="7.3" text-anchor="middle" fill="#333" transform="rotate(-45 484.05 616.2)">5</text>
<line x1="500.12" y1="607.9" x2="500.12" y2="610.3" stroke="#333333" stroke-width="0.75"/>
<text x="500.12" y="618.83" font-size="7.3" text-anchor="middle" fill="#333" transform="rotate(-45 500.12 616.2)">6</text>
<line x1="516.19" y1="607.9" x2="516.19" y2="610.3" stroke="#333333" stroke-width="0.75"/>
<text x="516.19" y="618.83" font-size="7.3" text-anchor="middle" fill="#333" transform="rotate(-45 516.19 616.2)">7</text>
<line x1="532.26" y1="607.9" x2="532.26" y2="610.3" stroke="#333333" stroke-width="0.75"/>
<text x="532.26" y="618.83" font-size="7.3" text-anchor="middle" fill="#333" transform="rotate(-45 532.26 616.2)">8</text>
<text x="467.35" y="629.6" font-size="8.8" text-anchor="middle">Cluster</text>
<text x="381.6" y="554.95" font-size="8.8" text-anchor="middle" transform="rotate(-90 381.6 554.95)">Expression Level</text>
<line x1="403.7" y1="510" x2="403.7" y2="553" stroke="#6a6a6a" stroke-width="0.95"/>
<polygon points="400.18,510 397.9,513 397.9,544 400.18,547 407.22,547 409.5,544 409.5,513 407.22,510" fill="#0a0a0a" fill-opacity="1" filter="url(#spk)"/>
<polygon points="399.1,511.7 397.3,514.2 397.3,538.8 399.1,541.3 408.3,541.3 410.1,538.8 410.1,514.2 408.3,511.7" fill="#0a0a0a" fill-opacity="1" filter="url(#rg)"/>
<polygon points="416.25,507 413.97,510 413.97,528 416.25,531 423.29,531 425.57,528 425.57,510 423.29,507" fill="#0a0a0a" fill-opacity="1" filter="url(#spk)"/>
<polygon points="415.17,509 413.37,511.5 413.37,524.4 415.17,526.9 424.37,526.9 426.17,524.4 426.17,511.5 424.37,509" fill="#0a0a0a" fill-opacity="1" filter="url(#rg)"/>
<polygon points="432.32,507.7 430.04,510.7 430.04,530 432.32,533 439.36,533 441.64,530 441.64,510.7 439.36,507.7" fill="#0a0a0a" fill-opacity="1" filter="url(#spk)"/>
<polygon points="431.24,509 429.44,511.5 429.44,525.1 431.24,527.6 440.44,527.6 442.24,525.1 442.24,511.5 440.44,509" fill="#0a0a0a" fill-opacity="1" filter="url(#rg)"/>
<line x1="451.91" y1="509" x2="451.91" y2="556.5" stroke="#6a6a6a" stroke-width="0.95"/>
<polygon points="448.39,508.7 446.11,511.7 446.11,535.6 448.39,538.6 455.43,538.6 457.71,535.6 457.71,511.7 455.43,508.7" fill="#0a0a0a" fill-opacity="1" filter="url(#spk)"/>
<polygon points="447.31,509.6 445.51,512.1 445.51,529.2 447.31,531.7 456.51,531.7 458.31,529.2 458.31,512.1 456.51,509.6" fill="#0a0a0a" fill-opacity="1" filter="url(#rg)"/>
<line x1="467.98" y1="510" x2="467.98" y2="577.2" stroke="#6a6a6a" stroke-width="0.95"/>
<polygon points="464.46,509.7 462.18,512.7 462.18,539.8 464.46,542.8 471.5,542.8 473.78,539.8 473.78,512.7 471.5,509.7" fill="#0a0a0a" fill-opacity="1" filter="url(#spk)"/>
<polygon points="463.38,509.7 461.58,512.2 461.58,532 463.38,534.5 472.58,534.5 474.38,532 474.38,512.2 472.58,509.7" fill="#0a0a0a" fill-opacity="1" filter="url(#rg)"/>
<line x1="484.05" y1="512" x2="484.05" y2="584.1" stroke="#6a6a6a" stroke-width="0.95"/>
<polygon points="480.53,512 478.25,515 478.25,534.2 480.53,537.2 487.57,537.2 489.85,534.2 489.85,515 487.57,512" fill="#0a0a0a" fill-opacity="1" filter="url(#spk)"/>
<polygon points="479.45,512.4 477.65,514.9 477.65,529.9 479.45,532.4 488.65,532.4 490.45,529.9 490.45,514.9 488.65,512.4" fill="#0a0a0a" fill-opacity="1" filter="url(#rg)"/>
<line x1="500.12" y1="603.5" x2="500.12" y2="603.5" stroke="#6a6a6a" stroke-width="0.95"/>
<polygon points="499.62,515.5 498.62,522 497.62,530 496.12,544 494.32,552 493.12,558.8 493.82,565 495.12,570 497.12,576 499.32,581.7 500,588 500,603.5 500.24,603.5 500.24,588 500.92,581.7 503.12,576 505.12,570 506.42,565 507.12,558.8 505.92,552 504.12,544 502.62,530 501.62,522 500.62,515.5" fill="#4A94F8" stroke="#222" stroke-width="0.4"/>
<polygon points="498.62,522 496.12,535 492.12,556 493.12,570 496.62,582 498.62,590 501.62,590 503.62,582 507.12,570 508.12,556 504.12,535 501.62,522" fill="#0a0a0a" fill-opacity="0.6" filter="url(#spk)"/>
<polygon points="498.12,545 495.12,552 493.62,560 494.62,568 496.62,576 498.62,583 501.62,583 503.62,576 505.62,568 506.62,560 505.12,552 502.12,545" fill="#0a0a0a" fill-opacity="0.6" filter="url(#rg)"/>
<polygon points="511.69,511.4 510.19,512.5 509.19,514 509.19,517 509.69,520 511.19,523 512.69,524.5 514.59,526 514.69,534.3 517.69,534.3 517.79,526 519.69,524.5 521.19,523 522.69,520 523.19,517 523.19,514 522.19,512.5 520.69,511.4" fill="#DB72FB" stroke="#222" stroke-width="0.4"/>
<polygon points="525.36,516 525.46,522 525.96,530 526.46,537 526.76,544 527.06,552 527.26,560.5 528.06,566 529.26,572 530.46,578 531.26,583.4 531.66,590 531.66,603.5 532.86,603.5 532.86,590 533.26,583.4 534.06,578 535.26,572 536.46,566 537.26,560.5 537.46,552 537.76,544 538.06,537 538.56,530 539.06,522 539.16,516" fill="#FF61C3" stroke="#222" stroke-width="0.4"/>
<path d="M405.2 505.28h0M398.82 511.12h0M398.11 506.78h0M398.49 507.15h0M402.79 505.8h0M403.2 511.42h0M399.03 510.83h0M400.76 505.91h0M402.69 543.53h0M398.83 547.78h0M402.88 551.03h0M404.85 544.57h0M403.14 551.85h0M407.02 547.9h0M404.52 549.99h0M408.53 547.06h0M398.26 552.98h0M404.56 545.7h0M407.8 550.49h0M398.45 546.52h0M398.38 546.83h0M408.81 546.26h0M398.03 544.74h0M399.06 542.68h0M402.54 550.42h0M400.69 546.16h0M398.16 541.08h0M408.24 550.29h0M402.06 551.02h0M404.58 546.29h0M399.69 550.05h0M399.75 542h0M401.39 552.1h0M419.53 507.96h0M416 508.64h0M424.89 505.61h0M418.94 508.69h0M416.34 508.2h0M418.18 507.4h0M421.2 505.29h0M416.46 506.59h0M419.66 534.87h0M421.65 529.36h0M414.16 530.98h0M424.41 531.4h0M423.42 532.14h0M416.4 535.86h0M415.39 532.6h0M418.23 528.85h0M420.86 532.32h0M414.62 534.15h0M419.96 529.15h0M420.57 534.11h0M435.77 508.6h0M430.9 505.56h0M433.21 509.6h0M430.17 507.02h0M440.27 508.39h0M431.74 508.66h0M434.63 509.55h0M439.4 507.25h0M436.15 533.65h0M431.26 536.07h0M436.63 531.59h0M431.34 528.47h0M438.61 537.42h0M430.01 537.01h0M438.55 532.48h0M438.91 533.56h0M440.55 530.42h0M436.18 532.14h0M436.35 531.92h0M441.59 528.51h0M446.8 549.51h0M446.86 549.84h0M454.95 536.02h0M457.7 532.69h0M452.34 544.8h0M447.55 543.78h0M447.52 541.81h0M450.81 538.83h0M456.48 538.88h0M447.91 538.87h0M451.45 549.68h0M448.54 541.7h0M447.85 544.73h0M455.78 533.41h0M446.54 537.89h0M456.55 548.46h0M453.6 546.45h0M446.68 533.7h0M464.32 552.44h0M468.18 557.25h0M468.54 563.2h0M469.22 555.42h0M470.14 554.02h0M465.13 559.18h0M464.89 563.32h0M464.07 560.66h0M465.61 565.61h0M468.76 536.36h0M466 549.25h0M462.16 563.87h0M471.54 547.39h0M468.68 536.71h0M463.15 546.33h0M464.28 536.52h0M466.67 537.4h0M468.46 537.24h0M468.05 538.37h0M466.54 561.07h0M472.17 561.85h0M462.09 549.95h0M467.67 554.73h0M463.68 540.7h0M471.37 552.34h0M462.51 550.56h0M468.55 558.45h0M464.88 543.84h0M468.32 541.53h0M462.34 545.56h0M479.99 567.65h0M488.07 556.46h0M484.09 538.64h0M488.07 547.86h0M481.1 535.44h0M487.53 538.66h0M483.13 566.03h0M482.31 532.05h0M478.95 552.67h0M485.98 548.4h0M478.29 539.15h0M481 536.61h0M488.33 535.22h0M478.68 548.27h0M488.19 538.78h0M483.59 568.35h0M480.09 556.12h0M479.79 556.14h0M485.09 557.74h0M481.15 544.96h0M488.95 533.25h0M486.69 561.02h0M482.87 547.11h0M481.95 542.46h0M485.67 565.23h0M478.89 564.32h0M488.88 554.7h0M482.69 562.7h0M505.71 518.01h0M494.45 533.48h0M498.1 523.01h0M494.91 529.28h0M504.17 536.2h0M497.07 520.1h0M499.92 520.83h0M496.82 543.9h0M500.58 526.24h0M499.64 532.18h0M498.55 520.7h0M496.78 527.06h0M500.31 540.34h0M496.08 534.7h0M504.45 532.59h0M504.9 538.08h0M500.03 539.68h0M499.79 540.92h0M497.17 533.91h0M504.54 529.68h0M502.06 531.72h0M503.86 529.4h0M502.23 525.66h0M499.87 536.71h0M495.97 532.23h0M495.37 522.47h0M499.64 544.08h0M505.43 528.44h0M500.44 543.39h0M498.19 543.33h0M494.18 534.66h0M497.78 543.73h0M500.34 535.56h0M503.8 531.83h0M495.74 541.01h0M502.11 587.56h0M497.41 580.4h0M504.84 594.36h0M503.08 589.97h0M499.02 580.91h0M496.44 589.91h0M499.04 583.34h0M495.37 591.55h0M501.34 581.99h0M495.61 599.94h0M497.24 587.7h0M500.9 583.76h0M496.22 583.83h0M496.3 580.49h0M496.97 591.99h0M513.28 524.81h0M513.55 525.32h0M520.69 520.33h0M511.51 518.06h0M512.93 512.02h0M511.77 516.35h0M516.35 513.51h0M518.95 527.78h0M517.45 518.85h0M519.52 514.91h0M536.51 583.26h0M536.66 530.35h0M528.96 571.66h0M534.26 596.13h0M534.51 574.26h0M529.08 535.88h0M532.12 562.87h0M531.09 569.28h0M537.57 530.24h0M536.25 553.8h0M533.11 550.17h0M527.88 559.66h0M528.23 553.2h0M531.48 541.02h0M534.54 518.83h0M531.67 566.51h0M532.67 537.28h0M530.84 594.67h0M531.18 539.97h0M531.28 517.56h0M536.55 585.54h0M526.91 530.56h0M532.67 536.1h0M537.5 553.19h0M535 539.12h0M535.32 556.39h0M531.68 598.43h0M536.92 551.43h0M531.37 582.76h0M534.21 553.73h0M531.26 531.36h0M528.13 590.83h0M528.35 558.73h0M529.65 525.19h0M529.05 565.86h0M531.07 576.57h0M532.27 589.26h0M527.18 539.96h0M536.64 546.65h0M532.34 571.46h0M536.52 558.46h0M528.45 549.92h0M534.59 598.65h0M530.99 546.16h0M534.36 545.73h0" stroke="#111" stroke-width="0.85" stroke-linecap="round" fill="none"/>
<path d="M465.6 528.02h0M467.51 518.35h0M464.55 528.85h0M465.65 528.51h0M467.88 518.22h0M463.79 527.56h0M464.13 522.8h0M471.36 526.47h0M468.98 518.12h0M466.07 515.86h0" stroke="#00C19F" stroke-width="1.1" stroke-linecap="round" fill="none"/>
<path d="M481.54 515.95h0M479.86 529.38h0M487.99 516.38h0M483.59 525.01h0M483.92 519.3h0M479.3 524.58h0M480.48 519.16h0M481.31 529.56h0M485.05 516.85h0M484.48 513.64h0" stroke="#00B9E3" stroke-width="1.1" stroke-linecap="round" fill="none"/>
<path d="M500.38 563.88h0M498.73 568.58h0M496.88 557.22h0M496.52 557.21h0M495.36 570.28h0M502.35 555.43h0M501.04 565.21h0M502.2 568.35h0M502.39 580.2h0M497.84 578.99h0M498.71 550.42h0M503.46 553.1h0M499.05 581.11h0M494.22 559.51h0M497.8 563.21h0M499.84 546.82h0M497.41 577.28h0M504.89 551.76h0M506.3 561.11h0M501.72 582.43h0M500.65 548.14h0M500.37 565.95h0M505.46 562.65h0M500.1 580.5h0M495.9 560.63h0M498.55 580.22h0M505.84 559.15h0M496.96 566.43h0M505.86 557.88h0M503.06 556.5h0M499.33 566.33h0M499.28 569.88h0M503.26 575.16h0M504.28 551.26h0M498.69 557.74h0M495.86 560.38h0M497.57 550.14h0M498.5 547.57h0M498.95 581.91h0M494.74 556.55h0M505.52 558.86h0M496.44 550.62h0M506.39 560.6h0M502.58 568.9h0M499.97 578.11h0M496.42 550.52h0M503.34 575.03h0M496.35 553.02h0M497 549.27h0M502.84 571.76h0M504.74 571.35h0M500.34 580.83h0M497.04 547.76h0M495.97 570.37h0M504.99 559.72h0M498.02 567.9h0M497.78 568.89h0M499.04 576.27h0M500.43 564.91h0M499.3 579.73h0M501.33 582.3h0M499.04 549.1h0M501.76 570.32h0M497.69 563.03h0M502.84 577.58h0M500.7 579.8h0M501.35 574.05h0M501.93 564.82h0M502.25 547.57h0M502.63 577.87h0M499.29 558.34h0M500.46 565.04h0M506.12 561.71h0M498.96 545.14h0M500.55 573.54h0M504.47 570.71h0M498.8 577.89h0M500.58 560.26h0M498.63 580.86h0M500.85 582.21h0" stroke="#4A94F8" stroke-width="1.1" stroke-linecap="round" fill="none"/>
<text x="102.4" y="655.7" font-size="10.1" font-weight="bold" text-anchor="middle">mt-Cytb (cluster 2)</text>
<line x1="28.5" y1="661" x2="28.5" y2="767.6" stroke="#333333" stroke-width="0.75"/>
<line x1="26" y1="763.3" x2="28.5" y2="763.3" stroke="#333333" stroke-width="0.75"/>
<text x="24.1" y="765.78" font-size="6.9" text-anchor="end" fill="#333333">0</text>
<line x1="26" y1="743.24" x2="28.5" y2="743.24" stroke="#333333" stroke-width="0.75"/>
<text x="24.1" y="745.72" font-size="6.9" text-anchor="end" fill="#333333">1</text>
<line x1="26" y1="723.18" x2="28.5" y2="723.18" stroke="#333333" stroke-width="0.75"/>
<text x="24.1" y="725.66" font-size="6.9" text-anchor="end" fill="#333333">2</text>
<line x1="26" y1="703.12" x2="28.5" y2="703.12" stroke="#333333" stroke-width="0.75"/>
<text x="24.1" y="705.6" font-size="6.9" text-anchor="end" fill="#333333">3</text>
<line x1="26" y1="683.06" x2="28.5" y2="683.06" stroke="#333333" stroke-width="0.75"/>
<text x="24.1" y="685.54" font-size="6.9" text-anchor="end" fill="#333333">4</text>
<line x1="26" y1="663" x2="28.5" y2="663" stroke="#333333" stroke-width="0.75"/>
<text x="24.1" y="665.48" font-size="6.9" text-anchor="end" fill="#333333">5</text>
<line x1="28.5" y1="767.6" x2="176.4" y2="767.6" stroke="#333333" stroke-width="0.75"/>
<line x1="38.1" y1="767.6" x2="38.1" y2="770" stroke="#333333" stroke-width="0.75"/>
<text x="38.1" y="778.53" font-size="7.3" text-anchor="middle" fill="#333" transform="rotate(-45 38.1 775.9)">0</text>
<line x1="54.27" y1="767.6" x2="54.27" y2="770" stroke="#333333" stroke-width="0.75"/>
<text x="54.27" y="778.53" font-size="7.3" text-anchor="middle" fill="#333" transform="rotate(-45 54.27 775.9)">1</text>
<line x1="70.44" y1="767.6" x2="70.44" y2="770" stroke="#333333" stroke-width="0.75"/>
<text x="70.44" y="778.53" font-size="7.3" text-anchor="middle" fill="#33dd33" transform="rotate(-45 70.44 775.9)">2</text>
<line x1="86.61" y1="767.6" x2="86.61" y2="770" stroke="#333333" stroke-width="0.75"/>
<text x="86.61" y="778.53" font-size="7.3" text-anchor="middle" fill="#333" transform="rotate(-45 86.61 775.9)">3</text>
<line x1="102.78" y1="767.6" x2="102.78" y2="770" stroke="#333333" stroke-width="0.75"/>
<text x="102.78" y="778.53" font-size="7.3" text-anchor="middle" fill="#333" transform="rotate(-45 102.78 775.9)">4</text>
<line x1="118.95" y1="767.6" x2="118.95" y2="770" stroke="#333333" stroke-width="0.75"/>
<text x="118.95" y="778.53" font-size="7.3" text-anchor="middle" fill="#333" transform="rotate(-45 118.95 775.9)">5</text>
<line x1="135.12" y1="767.6" x2="135.12" y2="770" stroke="#333333" stroke-width="0.75"/>
<text x="135.12" y="778.53" font-size="7.3" text-anchor="middle" fill="#333" transform="rotate(-45 135.12 775.9)">6</text>
<line x1="151.29" y1="767.6" x2="151.29" y2="770" stroke="#333333" stroke-width="0.75"/>
<text x="151.29" y="778.53" font-size="7.3" text-anchor="middle" fill="#333" transform="rotate(-45 151.29 775.9)">7</text>
<line x1="167.46" y1="767.6" x2="167.46" y2="770" stroke="#333333" stroke-width="0.75"/>
<text x="167.46" y="778.53" font-size="7.3" text-anchor="middle" fill="#333" transform="rotate(-45 167.46 775.9)">8</text>
<text x="102.95" y="789.6" font-size="8.8" text-anchor="middle">Cluster</text>
<text x="16.5" y="714.3" font-size="8.8" text-anchor="middle" transform="rotate(-90 16.5 714.3)">Expression Level</text>
<line x1="31.1" y1="763.3" x2="45.1" y2="763.3" stroke="#2a2a2a" stroke-width="1.2"/>
<line x1="38.1" y1="673" x2="38.1" y2="763.3" stroke="#6a6a6a" stroke-width="0.95"/>
<polygon points="34.58,688 32.3,691 32.3,749 34.58,752 41.62,752 43.9,749 43.9,691 41.62,688" fill="#0a0a0a" fill-opacity="1" filter="url(#spk)"/>
<polygon points="33.5,697 31.7,699.5 31.7,741.5 33.5,744 42.7,744 44.5,741.5 44.5,699.5 42.7,697" fill="#0a0a0a" fill-opacity="1" filter="url(#rg)"/>
<line x1="47.27" y1="763.3" x2="61.27" y2="763.3" stroke="#2a2a2a" stroke-width="1.2"/>
<line x1="54.27" y1="681" x2="54.27" y2="763.3" stroke="#6a6a6a" stroke-width="0.95"/>
<polygon points="53.97,758 52.27,761 50.47,763.3 58.07,763.3 56.27,761 54.57,758" fill="#EA9610" stroke="#222" stroke-width="0.4"/>
<polygon points="50.75,692 48.47,695 48.47,749 50.75,752 57.79,752 60.07,749 60.07,695 57.79,692" fill="#0a0a0a" fill-opacity="1" filter="url(#spk)"/>
<polygon points="49.67,702 47.87,704.5 47.87,745.5 49.67,748 58.87,748 60.67,745.5 60.67,704.5 58.87,702" fill="#0a0a0a" fill-opacity="1" filter="url(#rg)"/>
<line x1="63.44" y1="763.3" x2="77.44" y2="763.3" stroke="#2a2a2a" stroke-width="1.2"/>
<line x1="70.44" y1="683" x2="70.44" y2="763.3" stroke="#6a6a6a" stroke-width="0.95"/>
<polygon points="70.14,758.5 68.84,761 67.44,763.3 73.44,763.3 72.04,761 70.74,758.5" fill="#93AA00" stroke="#222" stroke-width="0.4"/>
<polygon points="66.92,690 64.64,693 64.64,748 66.92,751 73.96,751 76.24,748 76.24,693 73.96,690" fill="#0a0a0a" fill-opacity="1" filter="url(#spk)"/>
<polygon points="65.84,698 64.04,700.5 64.04,743.5 65.84,746 75.04,746 76.84,743.5 76.84,700.5 75.04,698" fill="#0a0a0a" fill-opacity="1" filter="url(#rg)"/>
<line x1="79.61" y1="763.3" x2="93.61" y2="763.3" stroke="#2a2a2a" stroke-width="1.2"/>
<line x1="86.61" y1="662" x2="86.61" y2="763.3" stroke="#6a6a6a" stroke-width="0.95"/>
<polygon points="84.11,670 82.61,690 83.11,715 84.61,728 86.01,736 86.49,742 86.46,758 84.81,761 83.61,763.3 89.61,763.3 88.41,761 86.76,758 86.73,742 87.21,736 88.61,728 90.11,715 90.61,690 89.11,670" fill="#00BA38" stroke="#222" stroke-width="0.4"/>
<polygon points="83.09,664 80.81,667 80.81,730 83.09,733 90.13,733 92.41,730 92.41,667 90.13,664" fill="#0a0a0a" fill-opacity="1" filter="url(#spk)"/>
<polygon points="82.01,669 80.21,671.5 80.21,718.5 82.01,721 91.21,721 93.01,718.5 93.01,671.5 91.21,669" fill="#0a0a0a" fill-opacity="1" filter="url(#rg)"/>
<line x1="95.78" y1="763.3" x2="109.78" y2="763.3" stroke="#2a2a2a" stroke-width="1.2"/>
<line x1="102.78" y1="676" x2="102.78" y2="763.3" stroke="#6a6a6a" stroke-width="0.95"/>
<polygon points="101.28,687 98.78,700 98.78,725 100.78,740 102.18,746 102.66,752 102.63,758 100.98,761 99.78,763.3 105.78,763.3 104.58,761 102.93,758 102.9,752 103.38,746 104.78,740 106.78,725 106.78,700 104.28,687" fill="#00C19F" stroke="#222" stroke-width="0.4"/>
<polygon points="99.26,682 96.98,685 96.98,743 99.26,746 106.3,746 108.58,743 108.58,685 106.3,682" fill="#0a0a0a" fill-opacity="1" filter="url(#spk)"/>
<polygon points="98.18,688 96.38,690.5 96.38,739.2 98.18,741.7 107.38,741.7 109.18,739.2 109.18,690.5 107.38,688" fill="#0a0a0a" fill-opacity="1" filter="url(#rg)"/>
<line x1="111.95" y1="763.3" x2="125.95" y2="763.3" stroke="#2a2a2a" stroke-width="1.1" stroke-dasharray="1.5 2.5"/>
<line x1="118.95" y1="670.5" x2="118.95" y2="763.3" stroke="#6a6a6a" stroke-width="0.95"/>
<polygon points="118.45,676 115.95,680 113.95,690 114.95,705 116.95,715 118.35,720 118.83,726 118.83,763.3 119.07,763.3 119.07,726 119.55,720 120.95,715 122.95,705 123.95,690 121.95,680 119.45,676" fill="#00B9E3" stroke="#222" stroke-width="0.4"/>
<polygon points="115.43,673 113.15,676 113.15,713 115.43,716 122.47,716 124.75,713 124.75,676 122.47,673" fill="#0a0a0a" fill-opacity="1" filter="url(#spk)"/>
<polygon points="114.35,676 112.55,678.5 112.55,703.5 114.35,706 123.55,706 125.35,703.5 125.35,678.5 123.55,676" fill="#0a0a0a" fill-opacity="1" filter="url(#rg)"/>
<line x1="128.12" y1="763.3" x2="142.12" y2="763.3" stroke="#2a2a2a" stroke-width="1.1" stroke-dasharray="1.5 2.5"/>
<line x1="135.12" y1="674" x2="135.12" y2="763.3" stroke="#6a6a6a" stroke-width="0.95"/>
<polygon points="134.12,679 132.12,684 129.62,695 130.12,710 132.62,720 134.52,726 135,732 135,763.3 135.24,763.3 135.24,732 135.72,726 137.62,720 140.12,710 140.62,695 138.12,684 136.12,679" fill="#4A94F8" stroke="#222" stroke-width="0.4"/>
<polygon points="131.6,675 129.32,678 129.32,719 131.6,722 138.64,722 140.92,719 140.92,678 138.64,675" fill="#0a0a0a" fill-opacity="1" filter="url(#spk)"/>
<polygon points="130.52,678 128.72,680.5 128.72,709.5 130.52,712 139.72,712 141.52,709.5 141.52,680.5 139.72,678" fill="#0a0a0a" fill-opacity="1" filter="url(#rg)"/>
<line x1="144.29" y1="763.3" x2="158.29" y2="763.3" stroke="#2a2a2a" stroke-width="1.2"/>
<line x1="151.29" y1="710.6" x2="151.29" y2="763.3" stroke="#6a6a6a" stroke-width="0.95"/>
<polygon points="166.66,670.5 163.96,676 161.46,682 160.06,686.1 160.66,692 162.26,700 164.46,709 165.46,715 166.46,720.5 168.46,720.5 169.46,715 170.46,709 172.66,700 174.26,692 174.86,686.1 173.46,682 170.96,676 168.26,670.5" fill="#FF61C3" stroke="#222" stroke-width="0.4"/>
<path d="M34.25 692.47h0M36.04 692.12h0M40.14 691.21h0M39.05 681.01h0M32.23 685.03h0M34.94 693.59h0M37.23 688.24h0M33.46 685.18h0M41.31 689.83h0M39.39 691.39h0M43.81 681.33h0M38.99 684.39h0M36.22 696.71h0M44.23 689.67h0M35.34 690.32h0M42.65 681.7h0M34.64 681.65h0M43.82 690.47h0M33.02 686.04h0M37.71 694.91h0M34.77 680.11h0M34.96 692.59h0M35.77 687.46h0M41.84 685.37h0M40.43 695.48h0M35.8 755.37h0M41.58 750.71h0M34.5 745.35h0M41.07 755.73h0M32.35 747.33h0M42.61 749.21h0M40.15 756.1h0M34.83 752.78h0M35.21 753.46h0M40.7 749.87h0M42.3 750.68h0M33.77 753.15h0M42.24 749.27h0M37.02 756.71h0M38.77 747.61h0M53.79 694.5h0M60.48 683.6h0M54.68 700.7h0M58.36 700.9h0M51.81 699.85h0M58.63 690.29h0M59.72 686.21h0M49.84 686.74h0M47.98 693.4h0M53.16 691.59h0M53.15 688.54h0M56.85 694.12h0M51 685.45h0M57.18 694.59h0M48.42 691.48h0M53.84 701.61h0M60.16 684.62h0M53.51 687.34h0M59.77 698.46h0M49.37 699.58h0M57.34 697.45h0M57.76 696.56h0M53.91 688.71h0M55.7 687.32h0M59.7 689.49h0M59.1 757.1h0M56.35 750.9h0M51.4 752.75h0M53.48 752.87h0M53.63 753.85h0M50.22 749.3h0M51.69 756.69h0M51.29 749.77h0M48.57 754.31h0M60.15 750.06h0M56.34 753.3h0M52.99 751.41h0M72.12 696.83h0M65.07 685.68h0M71.6 685.25h0M63.95 695.94h0M69.75 692.42h0M64.59 696.42h0M66.04 692.57h0M64.82 685.69h0M68.29 694.46h0M66.13 691.14h0M65.19 685.04h0M68.34 683.7h0M64.66 690.33h0M75.65 685.06h0M67.19 695.69h0M66.77 693.46h0M64.83 687.3h0M71.34 686.92h0M70.05 683.11h0M64.81 697.93h0M66.71 685.87h0M70.73 687.67h0M67.04 697.94h0M69.11 691.49h0M65.47 689.09h0M70.2 749.27h0M65.12 749.37h0M66.08 746.56h0M74.43 749.33h0M64.6 750.8h0M66.43 752.56h0M70.26 746.76h0M65.13 750.46h0M67.01 750.42h0M70.8 749.94h0M70.01 746.01h0M71.73 749.17h0M86.95 663.49h0M92.28 660.65h0M89.94 664.3h0M91.65 664.88h0M83.31 667.95h0M84.57 665.75h0M84.29 662.76h0M92.44 669.62h0M90.78 666.22h0M89.67 669.46h0M84.8 668.21h0M86.93 667.6h0M83.71 661.08h0M86.58 666.67h0M91.25 665.83h0M83.14 736.97h0M82.71 727.83h0M87.45 737.32h0M87.35 730.19h0M84.45 723.19h0M87.69 733.91h0M86.12 728.48h0M90.46 734.47h0M91.5 733.1h0M86.55 728.83h0M87.27 738.57h0M82.14 727h0M84.15 735.64h0M90.28 721.65h0M84.83 734.09h0M81.43 737.45h0M86.75 732.31h0M81.9 736.58h0M81.83 734.04h0M81.38 732.57h0M82.17 724.16h0M83.17 721.5h0M81.46 722.55h0M85.75 725.24h0M82.14 736.77h0M107.52 679.71h0M104.42 682.47h0M106.38 687.38h0M107.88 681.73h0M96.82 672.24h0M99.22 674.19h0M100.67 677.99h0M105.03 682.19h0M99.06 676.64h0M99.59 682.04h0M108.03 685.37h0M102.09 679.94h0M98.67 672.87h0M104.68 679.05h0M102.56 676.17h0M102.9 687.74h0M98.07 685.19h0M99.6 678.19h0M101.77 678.88h0M104.38 685.76h0M105.09 741.12h0M104.4 748.12h0M101.89 749.46h0M98.44 747h0M100.44 746.78h0M104.6 745.1h0M98.95 751.48h0M96.81 751.31h0M100.82 750.37h0M97.05 747.3h0M100.44 749.96h0M106.53 749.14h0M117.95 671.26h0M122.27 673.66h0M115.5 671.12h0M122.02 673.69h0M123.08 669.94h0M114.13 671.11h0M114.1 670.01h0M118.49 672.94h0M116.57 719.65h0M114.27 711.02h0M123.31 709.95h0M116.95 718.42h0M114.13 717.66h0M113.1 710.95h0M118.92 709.49h0M113.57 712.41h0M116.19 710.19h0M120.07 709.94h0M119.8 718.09h0M123.83 713.87h0M114.31 714.43h0M120.42 717.19h0M114.48 707.09h0M124.65 713.85h0M115.99 708.02h0M114.57 724.33h0M136.36 679.78h0M139.01 676.54h0M133.38 676.32h0M136.23 673.65h0M132.11 678.48h0M139.82 675h0M136.44 675.23h0M134.68 673.62h0M137.37 714.87h0M139.36 729.81h0M139.23 714.09h0M130.04 718.15h0M132.23 712.71h0M134.32 728.61h0M135.21 714.48h0M130.15 721.26h0M136.26 729.91h0M133 717.27h0M134.31 727.66h0M140.56 726.1h0M136.75 730.68h0M132.81 715.81h0M132.48 715.35h0M133.57 722.65h0M134.77 715.53h0M131.25 723.97h0M151.11 727.29h0M149.26 717.23h0M150.56 729.22h0M167.05 715.72h0M164.8 674.77h0M167.75 689.56h0M165.51 696.21h0M165.2 680.76h0M162.86 687.02h0M171.81 712.04h0M169.18 703.63h0M167.27 702.28h0M166.2 714.28h0M171.25 692.81h0M171.42 688.14h0M170.99 680.86h0M165.11 678.1h0M167.44 687.9h0M166.13 683.59h0M170.6 705.68h0M166.28 701.44h0M162.54 696.86h0M168.12 700.4h0M163.7 697.89h0M170.1 674.12h0M169.77 686.28h0M169.96 688.23h0M166.18 684.92h0" stroke="#111" stroke-width="0.85" stroke-linecap="round" fill="none"/>
<path d="M54.63 722.09h0M53.71 740.82h0" stroke="#EA9610" stroke-width="1.1" stroke-linecap="round" fill="none"/>
<path d="M69.88 701.94h0M70.71 704.8h0" stroke="#93AA00" stroke-width="1.1" stroke-linecap="round" fill="none"/>
<path d="M88.73 681.51h0M87.67 682.72h0M87.72 695.49h0M89.19 680.39h0M84.57 702.72h0M90.09 691.47h0M87.64 676.74h0M88.75 671.43h0M83.46 712.57h0M88.07 694.12h0M84.57 685.86h0M88.34 718.38h0M84.25 717.6h0M83.69 711.1h0M85.24 720.58h0" stroke="#00BA38" stroke-width="1.1" stroke-linecap="round" fill="none"/>
<path d="M101.18 735.15h0M102.78 688.16h0M105.19 719.36h0M105.12 715.88h0M103.95 707.07h0M104.08 689.11h0M106.63 711.52h0M105.81 698.71h0M100.37 727.58h0M99.22 719.51h0M103.59 716.59h0M103 715.76h0M104.25 697.19h0M105.6 708.45h0M102.96 710.48h0M106.66 708.17h0M100.14 695.94h0M102.45 720.31h0M106.56 708.85h0M103.54 729.24h0M104.56 723.71h0M101.04 736.14h0M104.28 698.77h0M103.45 720.13h0M104.02 720.61h0" stroke="#00C19F" stroke-width="1.1" stroke-linecap="round" fill="none"/>
<path d="M123.02 698.46h0M116.24 696.37h0M117.78 701.2h0M118.31 676.23h0M118.31 693.71h0M123.41 697.13h0M115.97 681.42h0M122.33 702.01h0M123.73 690.87h0M117.95 693.65h0M121.87 684.77h0M119.05 705.02h0M114.68 695.3h0M119.02 677.17h0M121.58 684.17h0M122.29 685.45h0M118.7 697.51h0M117.3 678.54h0M117.39 702.89h0M120.28 677.7h0M121.74 680.93h0M114.89 700.89h0M118.06 681.09h0M123.07 698.13h0M117.69 699.43h0M116.55 702.6h0M117.59 701.55h0M119.32 679.07h0M122.12 683.66h0M115.25 694.96h0M122.64 688.06h0M121.55 679.61h0M118.79 699.58h0M118.65 701.9h0M121.13 679.8h0M122.26 693.74h0M116 682.24h0M119.23 676.05h0M121.28 696.19h0M117.76 683.13h0" stroke="#00B9E3" stroke-width="1.1" stroke-linecap="round" fill="none"/>
<path d="M137.76 685.89h0M135.36 685.18h0M134.95 702.61h0M139.1 711.35h0M136.14 679.18h0M134.66 678.33h0M133.57 687.1h0M134.8 689.56h0M136.92 681.47h0M134.76 710.21h0M138.41 709.12h0M133.43 681.9h0M140.25 703.11h0M133.1 690.02h0M133.5 697.79h0M137.59 695.52h0M136.16 693.68h0M130.54 703.09h0M140.04 699.92h0M129.83 699.3h0M137.4 682.35h0M140.31 703.56h0M132.8 710.96h0M132.87 694.66h0M135.41 703.28h0M136.02 704.99h0M133.28 703.31h0M134.59 703.01h0M137.4 710.56h0M135.14 693.81h0M130.53 700.22h0M135.67 685.52h0M134.61 707.64h0M135.64 704.04h0M134.34 679.3h0M136.11 682.09h0M134.68 678.12h0M134.67 693.69h0M134.99 682.75h0M136.09 698.42h0M137.53 706.13h0M136.3 680.21h0M130.42 699.9h0M130.21 696.62h0M138.36 685.47h0" stroke="#4A94F8" stroke-width="1.1" stroke-linecap="round" fill="none"/>
<text x="284.9" y="655.7" font-size="10.1" font-weight="bold" text-anchor="middle">Defa34 (clusters 0 &amp; 4)</text>
<line x1="211.6" y1="661" x2="211.6" y2="767.6" stroke="#333333" stroke-width="0.75"/>
<line x1="209.1" y1="763.3" x2="211.6" y2="763.3" stroke="#333333" stroke-width="0.75"/>
<text x="207.2" y="765.78" font-size="6.9" text-anchor="end" fill="#333333">0</text>
<line x1="209.1" y1="740.95" x2="211.6" y2="740.95" stroke="#333333" stroke-width="0.75"/>
<text x="207.2" y="743.43" font-size="6.9" text-anchor="end" fill="#333333">1</text>
<line x1="209.1" y1="718.6" x2="211.6" y2="718.6" stroke="#333333" stroke-width="0.75"/>
<text x="207.2" y="721.08" font-size="6.9" text-anchor="end" fill="#333333">2</text>
<line x1="209.1" y1="696.25" x2="211.6" y2="696.25" stroke="#333333" stroke-width="0.75"/>
<text x="207.2" y="698.73" font-size="6.9" text-anchor="end" fill="#333333">3</text>
<line x1="209.1" y1="673.9" x2="211.6" y2="673.9" stroke="#333333" stroke-width="0.75"/>
<text x="207.2" y="676.38" font-size="6.9" text-anchor="end" fill="#333333">4</text>
<line x1="211.6" y1="767.6" x2="359.6" y2="767.6" stroke="#333333" stroke-width="0.75"/>
<line x1="221.1" y1="767.6" x2="221.1" y2="770" stroke="#333333" stroke-width="0.75"/>
<text x="221.1" y="778.53" font-size="7.3" text-anchor="middle" fill="#33dd33" transform="rotate(-45 221.1 775.9)">0</text>
<line x1="237.14" y1="767.6" x2="237.14" y2="770" stroke="#333333" stroke-width="0.75"/>
<text x="237.14" y="778.53" font-size="7.3" text-anchor="middle" fill="#333" transform="rotate(-45 237.14 775.9)">1</text>
<line x1="253.18" y1="767.6" x2="253.18" y2="770" stroke="#333333" stroke-width="0.75"/>
<text x="253.18" y="778.53" font-size="7.3" text-anchor="middle" fill="#333" transform="rotate(-45 253.18 775.9)">2</text>
<line x1="269.22" y1="767.6" x2="269.22" y2="770" stroke="#333333" stroke-width="0.75"/>
<text x="269.22" y="778.53" font-size="7.3" text-anchor="middle" fill="#333" transform="rotate(-45 269.22 775.9)">3</text>
<line x1="285.26" y1="767.6" x2="285.26" y2="770" stroke="#333333" stroke-width="0.75"/>
<text x="285.26" y="778.53" font-size="7.3" text-anchor="middle" fill="#33dd33" transform="rotate(-45 285.26 775.9)">4</text>
<line x1="301.3" y1="767.6" x2="301.3" y2="770" stroke="#333333" stroke-width="0.75"/>
<text x="301.3" y="778.53" font-size="7.3" text-anchor="middle" fill="#333" transform="rotate(-45 301.3 775.9)">5</text>
<line x1="317.34" y1="767.6" x2="317.34" y2="770" stroke="#333333" stroke-width="0.75"/>
<text x="317.34" y="778.53" font-size="7.3" text-anchor="middle" fill="#333" transform="rotate(-45 317.34 775.9)">6</text>
<line x1="333.38" y1="767.6" x2="333.38" y2="770" stroke="#333333" stroke-width="0.75"/>
<text x="333.38" y="778.53" font-size="7.3" text-anchor="middle" fill="#333" transform="rotate(-45 333.38 775.9)">7</text>
<line x1="349.42" y1="767.6" x2="349.42" y2="770" stroke="#333333" stroke-width="0.75"/>
<text x="349.42" y="778.53" font-size="7.3" text-anchor="middle" fill="#333" transform="rotate(-45 349.42 775.9)">8</text>
<text x="286.1" y="789.6" font-size="8.8" text-anchor="middle">Cluster</text>
<text x="198.8" y="714.3" font-size="8.8" text-anchor="middle" transform="rotate(-90 198.8 714.3)">Expression Level</text>
<line x1="214.1" y1="763.3" x2="228.1" y2="763.3" stroke="#2a2a2a" stroke-width="1.2"/>
<line x1="221.1" y1="763.3" x2="221.1" y2="763.3" stroke="#6a6a6a" stroke-width="0.95"/>
<polygon points="217.58,675.5 215.3,678.5 215.3,745.1 217.58,748.1 224.62,748.1 226.9,745.1 226.9,678.5 224.62,675.5" fill="#0a0a0a" fill-opacity="1" filter="url(#spk)"/>
<polygon points="216.5,686.3 214.7,688.8 214.7,731.7 216.5,734.2 225.7,734.2 227.5,731.7 227.5,688.8 225.7,686.3" fill="#0a0a0a" fill-opacity="1" filter="url(#rg)"/>
<line x1="230.14" y1="763.3" x2="244.14" y2="763.3" stroke="#2a2a2a" stroke-width="1.2"/>
<line x1="237.14" y1="681.2" x2="237.14" y2="763.3" stroke="#6a6a6a" stroke-width="0.95"/>
<polygon points="236.64,755.6 234.64,758 231.64,761 229.64,763.3 244.64,763.3 242.64,761 239.64,758 237.64,755.6" fill="#EA9610" stroke="#222" stroke-width="0.4"/>
<polygon points="233.62,703.3 231.34,706.3 231.34,747.4 233.62,750.4 240.66,750.4 242.94,747.4 242.94,706.3 240.66,703.3" fill="#0a0a0a" fill-opacity="1" filter="url(#spk)"/>
<polygon points="232.54,711 230.74,713.5 230.74,745.5 232.54,748 241.74,748 243.54,745.5 243.54,713.5 241.74,711" fill="#0a0a0a" fill-opacity="1" filter="url(#rg)"/>
<line x1="246.18" y1="763.3" x2="260.18" y2="763.3" stroke="#2a2a2a" stroke-width="1.2"/>
<line x1="253.18" y1="684" x2="253.18" y2="763.3" stroke="#6a6a6a" stroke-width="0.95"/>
<polygon points="252.68,756 250.68,758.5 247.68,761 245.68,763.3 260.68,763.3 258.68,761 255.68,758.5 253.68,756" fill="#93AA00" stroke="#222" stroke-width="0.4"/>
<polygon points="249.66,698.6 247.38,701.6 247.38,748.2 249.66,751.2 256.7,751.2 258.98,748.2 258.98,701.6 256.7,698.6" fill="#0a0a0a" fill-opacity="1" filter="url(#spk)"/>
<polygon points="248.58,709.5 246.78,712 246.78,745.5 248.58,748 257.78,748 259.58,745.5 259.58,712 257.78,709.5" fill="#0a0a0a" fill-opacity="1" filter="url(#rg)"/>
<line x1="262.22" y1="763.3" x2="276.22" y2="763.3" stroke="#2a2a2a" stroke-width="1.2"/>
<line x1="269.22" y1="672" x2="269.22" y2="763.3" stroke="#6a6a6a" stroke-width="0.95"/>
<polygon points="268.72,752.4 265.72,757 263.22,760 261.72,763.3 276.72,763.3 275.22,760 272.72,757 269.72,752.4" fill="#00BA38" stroke="#222" stroke-width="0.4"/>
<polygon points="265.7,683.2 263.42,686.2 263.42,745.1 265.7,748.1 272.74,748.1 275.02,745.1 275.02,686.2 272.74,683.2" fill="#0a0a0a" fill-opacity="1" filter="url(#spk)"/>
<polygon points="264.62,695.5 262.82,698 262.82,741 264.62,743.5 273.82,743.5 275.62,741 275.62,698 273.82,695.5" fill="#0a0a0a" fill-opacity="1" filter="url(#rg)"/>
<line x1="278.26" y1="763.3" x2="292.26" y2="763.3" stroke="#2a2a2a" stroke-width="1.2"/>
<line x1="285.26" y1="665" x2="285.26" y2="763.3" stroke="#6a6a6a" stroke-width="0.95"/>
<polygon points="284.96,665 282.76,672 280.76,680 279.26,700 280.76,720 283.26,735 284.56,745 284.46,755 282.26,760 280.26,763.3 290.26,763.3 288.26,760 286.06,755 285.96,745 287.26,735 289.76,720 291.26,700 289.76,680 287.76,672 285.56,665" fill="#00C19F" stroke="#222" stroke-width="0.4"/>
<polygon points="281.74,670 279.46,673 279.46,743.6 281.74,746.6 288.78,746.6 291.06,743.6 291.06,673 288.78,670" fill="#0a0a0a" fill-opacity="0.72" filter="url(#spk)"/>
<polygon points="280.66,676 278.86,678.5 278.86,732.5 280.66,735 289.86,735 291.66,732.5 291.66,678.5 289.86,676" fill="#0a0a0a" fill-opacity="0.72" filter="url(#rg)"/>
<line x1="294.3" y1="763.3" x2="308.3" y2="763.3" stroke="#2a2a2a" stroke-width="1.2"/>
<line x1="301.3" y1="677.9" x2="301.3" y2="763.3" stroke="#6a6a6a" stroke-width="0.95"/>
<polygon points="301,678 300.3,690 299.1,700 298,712 297.3,728 297.3,740 298.8,747 300,751.5 298.8,755 296.8,758 294,763.3 308.6,763.3 305.8,758 303.8,755 302.6,751.5 303.8,747 305.3,740 305.3,728 304.6,712 303.5,700 302.3,690 301.6,678" fill="#00B9E3" stroke="#222" stroke-width="0.4"/>
<polygon points="298.3,688 295.8,698 294.8,740 296.8,748 305.8,748 307.8,740 306.8,698 304.3,688" fill="#0a0a0a" fill-opacity="0.75" filter="url(#spk)"/>
<line x1="310.34" y1="763.3" x2="324.34" y2="763.3" stroke="#2a2a2a" stroke-width="1.2"/>
<line x1="317.34" y1="680.4" x2="317.34" y2="763.3" stroke="#6a6a6a" stroke-width="0.95"/>
<polygon points="316.94,754.8 315.34,757 312.84,760 310.34,763.3 324.34,763.3 321.84,760 319.34,757 317.74,754.8" fill="#4A94F8" stroke="#222" stroke-width="0.4"/>
<polygon points="330.18,684.5 330.38,690 330.18,697 328.38,705 326.58,711 325.98,716.4 326.58,722 328.88,728 332.18,735.2 332.88,745 332.88,751.5 330.88,756 329.68,763.3 337.08,763.3 335.88,756 333.88,751.5 333.88,745 334.58,735.2 337.88,728 340.18,722 340.78,716.4 340.18,711 338.38,705 336.58,697 336.38,690 336.58,684.5" fill="#DB72FB" stroke="#222" stroke-width="0.4"/>
<polygon points="346.92,695.9 346.72,705 346.52,720 346.22,735 345.42,742 343.92,750 342.72,757 342.02,763.3 356.82,763.3 356.12,757 354.92,750 353.42,742 352.62,735 352.32,720 352.12,705 351.92,695.9" fill="#FF61C3" stroke="#222" stroke-width="0.4"/>
<path d="M219.73 678.47h0M221.89 678.25h0M225.93 680.1h0M217.56 673.16h0M226.6 676.25h0M226.41 677.22h0M225.96 680.33h0M226.67 681.74h0M220.82 673.49h0M224.6 681.76h0M225.75 683.87h0M223.42 677.71h0M215.74 677.35h0M225.71 680.78h0M216.87 672.26h0M219.34 679.41h0M217.52 683.24h0M218.15 682.18h0M218.92 677.89h0M216.69 683.52h0M217.81 755.13h0M218.98 748.52h0M219.97 755h0M218.14 753.96h0M225.82 753.62h0M220.31 746.5h0M223.84 750.59h0M223.02 752.82h0M225.42 754.8h0M219.66 753.67h0M225.67 747h0M226.48 755.43h0M239.57 682.46h0M241.38 706.2h0M233 700.69h0M241.41 707.76h0M238.88 682.52h0M233.67 705.87h0M236.62 687.71h0M231.94 695.44h0M242.28 704.36h0M236.29 699.86h0M232.95 696.32h0M240.64 682.75h0M233.15 697.21h0M230.75 697.73h0M232.93 696.41h0M236.04 701.62h0M237.81 689.45h0M237.71 707.05h0M231.36 704.24h0M239.42 693.83h0M231.81 687.63h0M238.74 708.62h0M230.72 705.81h0M239.8 683.04h0M232.24 701.68h0M234.59 697.27h0M232.14 704.75h0M243.38 689.48h0M241.64 694.72h0M243.37 697.71h0M237.45 703.35h0M232.3 685.61h0M233.6 688.67h0M237.21 688.86h0M237.29 707.62h0M237.79 697.46h0M238.41 685.78h0M231.67 682.8h0M236.86 701.78h0M242.88 689.52h0M232.43 752.38h0M236.19 749.24h0M242.7 751.63h0M238.11 750.25h0M237.05 753.64h0M240.68 748.55h0M234.89 749.69h0M241.27 752.74h0M248.28 698.47h0M249.29 688h0M249.24 685.73h0M248.08 688.45h0M247.23 686.58h0M255.42 690.49h0M247.87 697.05h0M253.18 685.84h0M251.69 699.01h0M250.93 687.26h0M249.21 685.49h0M249.52 703.94h0M249.41 690.61h0M255.86 685.42h0M249.64 690.92h0M252.4 696h0M255.72 699.38h0M258.59 686.34h0M251.01 699.88h0M253.5 696.66h0M249.85 703.7h0M258.7 684.32h0M249.19 687.26h0M255.27 696.03h0M255.38 685.54h0M246.93 694.26h0M258.32 697.99h0M249.38 694.12h0M259.62 689.8h0M254.1 686.14h0M251.07 692.57h0M256.05 701.57h0M254.34 689.2h0M251.58 688.19h0M255.37 691.74h0M250.89 690.37h0M250.6 684.34h0M258.52 699.06h0M252.95 687.84h0M247.24 685.84h0M252.47 753.33h0M250.57 751.13h0M249.22 753.2h0M248.64 748.52h0M247.94 752.13h0M250.77 749.02h0M254.47 753.97h0M248.49 749.56h0M271.2 686.76h0M266.09 677.39h0M272.48 677.49h0M265.09 683.19h0M273.07 681.09h0M270.23 672.77h0M275.54 673.8h0M264.4 679.66h0M267.39 684.09h0M266.73 686.59h0M272.14 674.18h0M269.87 688.9h0M269.67 672.53h0M265.23 689.79h0M269.87 675.86h0M263.31 675.03h0M271.3 684.53h0M268.52 681.61h0M263.67 677.38h0M264.79 685.54h0M273.82 681.46h0M274.81 672.38h0M268.52 677.39h0M273.14 674.56h0M263.68 689.79h0M264.49 686.92h0M265.91 681.54h0M274.73 687.47h0M271.79 689.39h0M271.01 677.17h0M264.99 688.78h0M272.19 688.31h0M266.57 687.72h0M262.86 672.56h0M267.53 675.73h0M264.6 750.59h0M265.11 746.35h0M266.24 747.33h0M263.76 749.86h0M267.14 751.01h0M267.61 744.63h0M275.12 751.85h0M270.84 750.28h0M279.27 671.62h0M286.37 669.82h0M289.32 671.83h0M279.73 671.32h0M281.68 664.88h0M290.07 664.85h0M290.38 666.1h0M286.99 664.34h0M281.28 665.99h0M285.82 668.85h0M291.07 749.99h0M287.44 743.47h0M283.88 736.88h0M288.09 737.09h0M290.55 743.84h0M288.83 751.61h0M284.01 738.69h0M282.04 739.13h0M285.09 738.92h0M290.44 751.44h0M283.51 751.17h0M282.42 750.7h0M289.55 738.88h0M284.96 750.23h0M288.66 743.73h0M302.09 686.98h0M303.84 682.89h0M296.41 689.17h0M297.58 684.15h0M296.77 688.09h0M302.23 689.37h0M305.69 681.82h0M299.55 687.35h0M303.6 683.15h0M306.58 686.63h0M305.96 686.81h0M303.47 689.88h0M296.14 691.15h0M304.42 732.52h0M306.62 719.56h0M295.55 706.91h0M304.43 695.86h0M296.06 746.51h0M305.7 707.73h0M294.95 696.35h0M297.35 726.96h0M306.24 696.89h0M304.2 744.74h0M298.34 695.3h0M294.99 736.21h0M303.4 712.29h0M302.42 728.46h0M300.65 727.3h0M301.73 746.38h0M306.56 737.88h0M301.14 711.29h0M304.76 719.09h0M295.24 708.54h0M301.34 698.37h0M295.1 716.71h0M300.17 728.96h0M307.09 696.35h0M299.51 710.67h0M303.06 697.03h0M300.21 741.18h0M303.92 734.57h0M298.62 688.76h0M296.65 745.29h0M307.46 741.52h0M297.66 729h0M304.35 732.22h0M306.73 734.61h0M294.85 744.72h0M301.53 744.85h0M298.25 705.48h0M302.99 708.72h0M299.46 705.86h0M303.75 705.19h0M296.12 740.22h0M303.55 726.25h0M303.24 721.85h0M295.13 713.55h0M297.36 716.13h0M303.67 717.32h0M303.69 726.67h0M304.11 737.31h0M296.88 698.09h0M302.22 711.56h0M301.54 709.63h0M300.39 717.28h0M305.71 695.79h0M304.2 698.46h0M295.43 697.76h0M294.89 730.7h0M299.13 694.04h0M298.32 694.24h0M301.26 733.1h0M302.54 717.62h0M302.69 742.25h0M300.83 745.98h0M307.56 728.72h0M296.27 726.48h0M306.95 718.95h0M295.53 723.02h0M301.27 718.04h0M300.62 715.52h0M301.02 729.5h0M300.85 745.12h0M297.27 742.28h0M303.75 734.15h0M295.41 698.68h0M305.63 739.21h0M305.85 745.25h0M305.31 690.77h0M303.85 745.75h0M297.81 703.07h0M298.55 719.82h0M304.86 699.01h0M295.55 691.48h0M306.71 700.86h0M296.94 721.79h0M301.47 717.76h0M307.17 731.11h0M299.16 728.3h0M307.02 725.11h0M302.95 696.63h0M304.74 725.38h0M297.36 745.31h0M306.02 713.42h0M302.32 735.79h0M294.82 689.68h0M299.13 711.04h0M296.13 696.22h0M304.75 738.98h0M300.47 699.68h0M305.09 729.5h0M302.93 712.98h0M307.37 703.56h0M302.62 732h0M306.16 733.45h0M299.31 703.66h0M298.06 744.29h0M297.41 739.53h0M299.08 692.43h0M297.33 728.71h0M294.8 711.44h0M303.95 691.16h0M301.26 689.86h0M306.84 724.6h0M301.11 690.77h0M302.71 703.42h0M301.2 741.57h0M303.14 700.5h0M305.65 691.02h0M298.27 712.28h0M301.31 710.9h0M305.57 711.89h0M304.03 732.69h0M295.47 690.98h0M304.09 709.81h0M299.25 713.05h0M302.38 718.21h0M299.32 697.27h0M298.39 703.2h0M303.14 715.57h0M302.28 698.26h0M301 724.61h0M300.51 706.35h0M299.16 715.15h0M306.67 696.35h0M299.6 736.68h0M298.24 732.07h0M300.65 690.26h0M305.93 703.32h0M304.81 734.62h0M300.93 718.69h0M297.32 697.54h0M300.01 727.77h0M295.58 724.16h0M300.58 723.29h0M305.57 731.11h0M300.02 691.68h0M303.38 695.04h0M301.72 745.98h0M303.82 710.08h0M306.98 717.95h0M307.35 700.44h0M304.87 709.69h0M297.59 720.19h0M302.35 738.27h0M295.96 734.35h0M298.74 741.06h0M307.45 732.98h0M297.35 741.27h0M298.27 723.47h0M307.75 688.42h0M306.94 701.38h0M302.37 701.09h0M296.61 718.12h0M307.66 718.24h0M295.6 695.4h0M303.9 739.31h0M304.26 708.67h0M301.43 694.15h0M298.63 707.9h0M304.62 707.54h0M300.46 736.64h0M297.48 740.87h0M295.84 724.08h0M302.02 744.48h0M304.66 729.92h0M297.87 719.22h0M298.6 706.43h0M307.58 718.49h0M298.79 704.43h0M307.77 721.98h0M295.16 692.22h0M295.59 693.07h0M296.65 694.87h0M304.31 695.31h0M303.39 719.06h0M296.36 741.83h0M296.07 721.25h0M299.51 719.37h0M298.19 694.4h0M302.72 695.53h0M306.97 693h0M302.79 737.31h0M303.12 724.07h0M302.51 741.95h0M303.98 733.41h0M299.5 703h0M296.88 726.33h0M305.68 691.48h0M296.11 735.75h0M301.14 745.09h0M296.67 692.14h0M302.05 730.41h0M307.11 745.54h0M300.04 736.75h0M303.09 711.86h0M297.17 714.17h0M296.73 717.63h0M299.29 738.76h0M299.51 740.63h0M304.5 713.79h0M304.26 745.71h0M296.01 729.34h0M302.52 711.06h0M297.42 694.42h0M300.28 705.87h0M305 727.22h0M299.17 728.77h0M296.75 710.36h0M304.26 709.4h0M302.49 700.08h0M297.53 729.37h0M297.03 717.22h0M300.94 734.17h0M307.15 738.26h0M300.03 691.25h0M306.47 704.44h0M298.45 736.7h0M300.02 730.16h0M306.53 721.05h0M303.32 723.49h0M302.99 739.44h0M296.07 715.2h0M305.15 703.16h0M295.68 724.97h0M297.42 740.06h0M307.38 738.42h0M297.01 700.71h0M296.13 715.49h0M296.89 733.17h0M306.79 718.55h0M295.98 715.94h0M307.69 730.18h0M299.02 713.21h0M302.7 707.2h0M299.5 701.57h0M299.98 742.21h0M296.05 735.47h0M299.02 688.64h0M304.43 746.1h0M304.2 734.11h0M295.81 708.51h0M306.82 711.07h0M298.95 743.25h0M302.17 734.34h0M301.44 719.72h0M300.23 701.16h0M306.5 718.97h0M299.79 732.26h0M302.29 699.01h0M306.46 698.32h0M295.77 722.15h0M305.13 694.9h0M300.37 730.68h0M295.88 743.84h0M305.15 726.14h0M306.44 732.98h0M296.87 709.06h0M307.69 697.68h0M296.36 691.62h0M303.99 736.26h0M301.96 735.77h0M301.11 714.58h0M297.95 696.37h0M301.7 711.62h0M299.88 736.78h0M296.08 716.96h0M307.56 707.75h0M299.89 719.44h0M307.12 737.27h0M305.56 708.44h0M295.08 743.12h0M299.99 708.6h0M305.33 744.08h0M299.54 733.82h0M296.86 728.8h0M307.47 740.83h0M298.31 730.65h0M304.86 690.36h0M304.15 744.92h0M305.62 729.2h0M295.64 711.16h0M304.37 722.02h0M306.05 744.73h0M307.45 735.78h0M306.26 696.49h0M303.14 712.52h0M305.1 703.93h0M301.97 739.52h0M297.25 745.33h0M301.38 724.96h0M297.68 692.58h0M302.87 717.34h0M301.92 723.32h0M295.34 722.63h0M298.6 702.1h0M297.42 703.94h0M299.33 725.89h0M299.05 698.3h0M296.69 700.45h0M302.29 712.17h0M302.97 716.94h0M299.06 718.74h0M306.52 705.72h0M306.59 711.07h0M304.76 717.58h0M301.99 710.67h0M298.79 709.65h0M299.47 694.15h0M296.68 743.84h0M296.34 700.47h0M301.23 744.53h0M304.12 700.69h0M300.14 717.01h0M302.79 719.54h0M302.22 711.51h0M304.79 718.79h0M301.84 700.4h0M303.65 702.11h0M301.87 717.81h0M303.49 696.8h0M295.07 690.35h0M301.56 725.86h0M299.7 737.51h0M295.27 730.15h0M304.48 696.87h0M305.38 735.83h0M306.63 746.5h0M304.25 723.32h0M298.64 715.55h0M305.59 728.13h0M297.46 690.7h0M295.42 737.47h0M298.03 694.81h0M297.67 704.17h0M297.56 700.12h0M300.14 709.93h0M298.86 703.01h0M297.37 736.17h0M297.23 700.73h0M298.09 736.32h0M304.05 734.8h0M296.8 723.44h0M297.76 707.19h0M300.78 693.26h0M301.71 689.25h0M296.17 703.67h0M300.8 728.69h0M304.08 704.01h0M300.18 737.02h0M299.5 730.13h0M294.85 732.35h0M301.79 689.82h0M301.41 739.17h0M297.04 730.23h0M296.91 729.57h0M297.78 688.66h0M295.95 739.77h0M296.04 710.2h0M306.55 741.07h0M302.19 723.14h0M299.98 723.95h0M304.87 732.99h0M296.48 728.08h0M302.42 732.75h0M300.57 742.93h0M296.98 730.75h0M298.62 727.19h0M304.05 743.17h0M300.94 710.2h0M294.86 741h0M300.48 688.26h0M316.36 698.96h0M316.35 698.94h0M318.33 694h0M315.36 695.29h0M318.04 695.35h0M319.73 694.5h0M313.18 699.3h0M312.7 694.16h0M322.3 692.06h0M312.55 693.41h0M321.17 716.91h0M319.28 715.77h0M317.29 721.22h0M312.59 709.83h0M323.2 709.42h0M315.36 739.51h0M312.79 736.99h0M318.72 698.11h0M319.28 713.32h0M311.38 737.36h0M319.26 744.76h0M311.46 705.15h0M313.46 726.03h0M321.17 728.69h0M313.05 742.26h0M315.4 728.88h0M322.88 701.41h0M321.25 721.07h0M318.54 722.56h0M315.4 720.58h0M312.1 697.89h0M319.32 701.97h0M313.8 696.49h0M311.62 718.51h0M313.55 700.33h0M320.35 724.45h0M316.99 696.63h0M317.23 734.36h0M317.43 697.64h0M323.82 739.31h0M318.57 746.88h0M315.09 704.39h0M310.99 721.95h0M313.06 699.55h0M311.84 702.03h0M314.78 708.61h0M321.43 738.68h0M321.2 703.63h0M312.61 728.45h0M320.43 745.81h0M316.44 739.24h0M318.83 738.24h0M311.11 735.91h0M323.21 696.79h0M315.93 731.63h0M315.89 698.62h0M315.57 699.52h0M311.83 722.16h0M318.09 726.74h0M313.65 746.4h0M318.79 736.06h0M321.86 701.29h0M323.5 720.73h0M313.34 725.48h0M312.66 743.59h0M322.88 699.16h0M318.06 707.93h0M317.6 727.62h0M314.61 738.15h0M312.05 742.13h0M314.25 703.49h0M320.67 716.81h0M320.17 723.5h0M313.72 728.61h0M316.56 703.57h0M318.79 727.17h0M316.36 718.12h0M322.26 711.64h0M319.24 719.31h0M310.97 710.13h0M316.74 724.19h0M317.13 714.55h0M313.12 699.76h0M316.6 733.16h0M321.3 727.55h0M323.14 715.09h0M311.2 736.96h0M323.76 697.24h0M318.01 731.71h0M322.56 743.95h0M317.37 735.99h0M313.67 737.6h0M320.08 722.26h0M320.13 705.14h0M316.06 728.57h0M322.6 715.29h0M316.32 744.6h0M311.57 709.4h0M315.65 705.25h0M319.89 737.96h0M320.8 744.16h0M310.89 743.82h0M319.79 721.72h0M317.59 737.02h0M315.26 715.32h0M317.69 705.59h0M323.29 731.98h0M317.55 737.92h0M318.82 745.51h0M320.31 714.36h0M317.34 723.7h0M317.52 741.62h0M312.22 732.23h0M316.93 743.26h0M318.22 705.61h0M312.11 714.96h0M315.82 724.15h0M316.47 746.02h0M315.35 734.95h0M314.9 697.35h0M329.52 688.45h0M330.77 708.89h0M335.01 719.86h0M330.31 702.97h0M330.94 724.57h0M328.97 707.47h0M336.89 706.36h0M329.19 727.93h0M330.3 723.22h0M332.07 726.86h0M336.04 690.48h0M329.11 689.29h0M331.42 701.45h0M337.92 709.77h0M331.13 716.24h0M334.66 691.55h0M331.42 704.6h0M334.88 686.34h0M333.85 697.83h0M333.84 727.76h0M332.29 718.11h0M336.38 726.94h0M336.84 722.81h0M335.54 689.4h0M335.88 702.97h0M352.06 730.67h0M347.25 758.06h0M350.49 746.89h0M346.88 755.66h0M346.74 719.84h0M352.8 756.04h0M348.34 745.44h0M353.13 712.21h0M350.57 754.03h0M346.93 740.65h0M350.02 725.67h0M353.1 742.32h0M351.17 757.99h0M347.1 697.45h0M345.72 724.6h0M346.05 758.25h0M350.04 726.37h0M345.89 706.13h0" stroke="#111" stroke-width="0.85" stroke-linecap="round" fill="none"/>
<path d="M253.46 714.1h0M253.17 725.26h0M253.05 715.23h0M253.31 711.51h0M253.61 712.67h0M253.33 725.89h0M253.47 724.39h0M253.39 732.98h0" stroke="#93AA00" stroke-width="1.1" stroke-linecap="round" fill="none"/>
<path d="M268.79 714.75h0M269.58 700.6h0M269.11 731.35h0M269.69 727.02h0M269.42 713.75h0M269.43 695.78h0M269.51 722.93h0M269.05 727.92h0M269.06 741.1h0M269.15 702.97h0" stroke="#00BA38" stroke-width="1.1" stroke-linecap="round" fill="none"/>
<path d="M283.27 723.38h0M286.42 734.08h0M284.6 686.33h0M283.97 715.27h0M290.43 708.29h0M287.77 695.54h0M287.24 690.41h0M287.16 695.57h0M287.79 696.67h0M281.24 685.41h0M287.51 733.09h0M280.82 708.63h0M281.01 719.02h0M289.02 693.42h0M280.14 704.98h0M289.78 684.53h0M283.56 698.71h0M287.68 716.44h0M289.99 715.57h0M283.62 694.4h0M288.83 708.67h0M285.48 722.42h0M287.45 714.66h0M279.98 696.3h0M286.35 730.94h0M286.06 729.35h0M283.91 678.39h0M285.39 732.66h0M285.36 720.78h0M289.33 697.82h0M280.13 705.21h0M280.84 710.86h0M287.41 696.7h0M288.31 714.67h0M290.07 684.93h0M290.4 702.15h0M287.99 680.81h0M288.12 706.35h0M286.07 732.29h0M286.38 699.19h0M285.66 695.11h0M288.1 693.9h0M285.04 685.42h0M283.5 722.19h0M288.87 716.35h0M287 686.1h0M285.28 682.39h0M284.01 689.2h0M281.92 688.72h0M285.12 681.36h0M284.69 717.54h0M286.62 704.68h0M285.32 687.88h0M289.59 719.74h0M283.74 714.6h0M288.25 677.9h0M284.41 695.76h0M289.71 691.43h0M280.01 709.7h0M285.09 676.97h0M287.21 704.45h0M286.1 686.59h0M284.25 724.99h0M287.31 722.94h0M287.42 730.28h0M287.99 714.91h0M289.68 690.62h0M285.79 717.23h0M287.04 705.38h0M282.92 677.15h0M287.97 690.51h0M285.99 728.95h0M280.81 686.8h0M281.05 715.45h0M285.56 710.73h0M286.91 706.61h0M284.84 703.75h0M285.19 691.51h0M284.09 719.37h0M284.64 730.42h0M282.1 676.44h0M288 697.3h0M282.14 723.93h0M280.63 712.45h0M286.64 726.47h0M284.69 706.82h0M286.94 728.37h0M286.67 713.78h0M286.47 717.09h0M285.92 734.94h0" stroke="#00C19F" stroke-width="1.1" stroke-linecap="round" fill="none"/>
<path d="M300.8 683.88h0M304.46 736.07h0M301.43 728.34h0M302.67 761.42h0M303.09 715.14h0M302.95 699.98h0M297.67 759.71h0M301.64 752.48h0M298.85 707.07h0M300.19 745.55h0M299.96 753.18h0M304.58 717.79h0M303.36 763.1h0M299.68 748.47h0M299.62 749.82h0M301.04 747.38h0M301.42 734.84h0M306.55 759.88h0M298.5 758.61h0M298.47 731.49h0M301.34 678.2h0M300.28 734.56h0M307.69 761.61h0M302.17 724.02h0M300.35 704.5h0M299.47 724.1h0M302.57 756.8h0M301.65 686.11h0M301.96 725.36h0M297.28 760.87h0M298.26 743.45h0M302.29 699.03h0M304.07 707.26h0M300.1 744.27h0M298.86 721.55h0M303 725.99h0M303.51 701.48h0M302.22 701.99h0M298.53 733.87h0M300.79 689.52h0M299 762.12h0M304.15 720.66h0M298.93 737.08h0M301.05 755.19h0M299.48 748.19h0" stroke="#00B9E3" stroke-width="1.1" stroke-linecap="round" fill="none"/>
<text x="468" y="656.1" font-size="10.1" font-weight="bold" text-anchor="middle">ATP (cluster 7 (negative))</text>
<line x1="393.7" y1="660.3" x2="393.7" y2="767.4" stroke="#333333" stroke-width="0.75"/>
<line x1="391.2" y1="763.3" x2="393.7" y2="763.3" stroke="#333333" stroke-width="0.75"/>
<text x="389.3" y="765.78" font-size="6.9" text-anchor="end" fill="#333333">0</text>
<line x1="391.2" y1="727.3" x2="393.7" y2="727.3" stroke="#333333" stroke-width="0.75"/>
<text x="389.3" y="729.78" font-size="6.9" text-anchor="end" fill="#333333">2</text>
<line x1="391.2" y1="691.3" x2="393.7" y2="691.3" stroke="#333333" stroke-width="0.75"/>
<text x="389.3" y="693.78" font-size="6.9" text-anchor="end" fill="#333333">4</text>
<line x1="393.7" y1="767.4" x2="540" y2="767.4" stroke="#333333" stroke-width="0.75"/>
<line x1="403.7" y1="767.4" x2="403.7" y2="769.8" stroke="#333333" stroke-width="0.75"/>
<text x="403.7" y="778.33" font-size="7.3" text-anchor="middle" fill="#333" transform="rotate(-45 403.7 775.7)">0</text>
<line x1="419.77" y1="767.4" x2="419.77" y2="769.8" stroke="#333333" stroke-width="0.75"/>
<text x="419.77" y="778.33" font-size="7.3" text-anchor="middle" fill="#33dd33" transform="rotate(-45 419.77 775.7)">1</text>
<line x1="435.84" y1="767.4" x2="435.84" y2="769.8" stroke="#333333" stroke-width="0.75"/>
<text x="435.84" y="778.33" font-size="7.3" text-anchor="middle" fill="#333" transform="rotate(-45 435.84 775.7)">2</text>
<line x1="451.91" y1="767.4" x2="451.91" y2="769.8" stroke="#333333" stroke-width="0.75"/>
<text x="451.91" y="778.33" font-size="7.3" text-anchor="middle" fill="#333" transform="rotate(-45 451.91 775.7)">3</text>
<line x1="467.98" y1="767.4" x2="467.98" y2="769.8" stroke="#333333" stroke-width="0.75"/>
<text x="467.98" y="778.33" font-size="7.3" text-anchor="middle" fill="#333" transform="rotate(-45 467.98 775.7)">4</text>
<line x1="484.05" y1="767.4" x2="484.05" y2="769.8" stroke="#333333" stroke-width="0.75"/>
<text x="484.05" y="778.33" font-size="7.3" text-anchor="middle" fill="#33dd33" transform="rotate(-45 484.05 775.7)">5</text>
<line x1="500.12" y1="767.4" x2="500.12" y2="769.8" stroke="#333333" stroke-width="0.75"/>
<text x="500.12" y="778.33" font-size="7.3" text-anchor="middle" fill="#33dd33" transform="rotate(-45 500.12 775.7)">6</text>
<line x1="516.19" y1="767.4" x2="516.19" y2="769.8" stroke="#333333" stroke-width="0.75"/>
<text x="516.19" y="778.33" font-size="7.3" text-anchor="middle" fill="#ee3333" transform="rotate(-45 516.19 775.7)">7</text>
<line x1="532.26" y1="767.4" x2="532.26" y2="769.8" stroke="#333333" stroke-width="0.75"/>
<text x="532.26" y="778.33" font-size="7.3" text-anchor="middle" fill="#33dd33" transform="rotate(-45 532.26 775.7)">8</text>
<text x="467.35" y="789.6" font-size="8.8" text-anchor="middle">Cluster</text>
<text x="381.6" y="713.85" font-size="8.8" text-anchor="middle" transform="rotate(-90 381.6 713.85)">Expression Level</text>
<line x1="396.7" y1="763.3" x2="410.7" y2="763.3" stroke="#2a2a2a" stroke-width="1.1" stroke-dasharray="1.5 2.5"/>
<line x1="403.7" y1="681.4" x2="403.7" y2="763.3" stroke="#6a6a6a" stroke-width="0.95"/>
<polygon points="400.18,687.6 397.9,690.6 397.9,737 400.18,740 407.22,740 409.5,737 409.5,690.6 407.22,687.6" fill="#0a0a0a" fill-opacity="1" filter="url(#spk)"/>
<polygon points="399.1,694.4 397.3,696.9 397.3,727.8 399.1,730.3 408.3,730.3 410.1,727.8 410.1,696.9 408.3,694.4" fill="#0a0a0a" fill-opacity="1" filter="url(#rg)"/>
<line x1="412.77" y1="763.3" x2="426.77" y2="763.3" stroke="#2a2a2a" stroke-width="1.2"/>
<line x1="419.77" y1="682" x2="419.77" y2="763.3" stroke="#6a6a6a" stroke-width="0.95"/>
<polygon points="416.25,697.2 413.97,700.2 413.97,745.2 416.25,748.2 423.29,748.2 425.57,745.2 425.57,700.2 423.29,697.2" fill="#0a0a0a" fill-opacity="1" filter="url(#spk)"/>
<polygon points="415.17,701.3 413.37,703.8 413.37,738.8 415.17,741.3 424.37,741.3 426.17,738.8 426.17,703.8 424.37,701.3" fill="#0a0a0a" fill-opacity="1" filter="url(#rg)"/>
<line x1="428.84" y1="763.3" x2="442.84" y2="763.3" stroke="#2a2a2a" stroke-width="1.1" stroke-dasharray="1.5 2.5"/>
<line x1="435.84" y1="683.4" x2="435.84" y2="763.3" stroke="#6a6a6a" stroke-width="0.95"/>
<polygon points="432.32,689 430.04,692 430.04,745.2 432.32,748.2 439.36,748.2 441.64,745.2 441.64,692 439.36,689" fill="#0a0a0a" fill-opacity="1" filter="url(#spk)"/>
<polygon points="431.24,700 429.44,702.5 429.44,731.9 431.24,734.4 440.44,734.4 442.24,731.9 442.24,702.5 440.44,700" fill="#0a0a0a" fill-opacity="1" filter="url(#rg)"/>
<line x1="444.91" y1="763.3" x2="458.91" y2="763.3" stroke="#2a2a2a" stroke-width="1.1" stroke-dasharray="1.5 2.5"/>
<line x1="451.91" y1="666.2" x2="451.91" y2="763.3" stroke="#6a6a6a" stroke-width="0.95"/>
<polygon points="449.91,668 448.41,690 448.91,712 451.11,720 451.79,728 451.79,763.3 452.03,763.3 452.03,728 452.71,720 454.91,712 455.41,690 453.91,668" fill="#00BA38" stroke="#222" stroke-width="0.4"/>
<polygon points="448.39,668 446.11,671 446.11,720.4 448.39,723.4 455.43,723.4 457.71,720.4 457.71,671 455.43,668" fill="#0a0a0a" fill-opacity="1" filter="url(#spk)"/>
<polygon points="447.31,671.7 445.51,674.2 445.51,709.9 447.31,712.4 456.51,712.4 458.31,709.9 458.31,674.2 456.51,671.7" fill="#0a0a0a" fill-opacity="1" filter="url(#rg)"/>
<line x1="460.98" y1="763.3" x2="474.98" y2="763.3" stroke="#2a2a2a" stroke-width="1.1" stroke-dasharray="1.5 2.5"/>
<line x1="467.98" y1="672" x2="467.98" y2="763.3" stroke="#6a6a6a" stroke-width="0.95"/>
<polygon points="466.48,680 464.48,700 464.98,725 467.18,732 467.86,740 467.86,763.3 468.1,763.3 468.1,740 468.78,732 470.98,725 471.48,700 469.48,680" fill="#00C19F" stroke="#222" stroke-width="0.4"/>
<polygon points="464.46,676 462.18,679 462.18,733 464.46,736 471.5,736 473.78,733 473.78,679 471.5,676" fill="#0a0a0a" fill-opacity="1" filter="url(#spk)"/>
<polygon points="463.38,680 461.58,682.5 461.58,727.8 463.38,730.3 472.58,730.3 474.38,727.8 474.38,682.5 472.58,680" fill="#0a0a0a" fill-opacity="1" filter="url(#rg)"/>
<polygon points="483.55,676 480.05,682 479.05,695 480.05,708 482.05,714 483.55,718 484.55,718 486.05,714 488.05,708 489.05,695 488.05,682 484.55,676" fill="#00B9E3" stroke="#222" stroke-width="0.4"/>
<polygon points="480.53,673 478.25,676 478.25,713 480.53,716 487.57,716 489.85,713 489.85,676 487.57,673" fill="#0a0a0a" fill-opacity="1" filter="url(#spk)"/>
<polygon points="479.45,676 477.65,678.5 477.65,708.5 479.45,711 488.65,711 490.45,708.5 490.45,678.5 488.65,676" fill="#0a0a0a" fill-opacity="1" filter="url(#rg)"/>
<polygon points="499.12,674 496.12,680 493.62,690 494.62,700 497.12,709 499.12,716 499.72,723.7 500.52,723.7 501.12,716 503.12,709 505.62,700 506.62,690 504.12,680 501.12,674" fill="#4A94F8" stroke="#222" stroke-width="0.4"/>
<polygon points="496.6,672 494.32,675 494.32,709 496.6,712 503.64,712 505.92,709 505.92,675 503.64,672" fill="#0a0a0a" fill-opacity="1" filter="url(#spk)"/>
<polygon points="495.52,675 493.72,677.5 493.72,704.5 495.52,707 504.72,707 506.52,704.5 506.52,677.5 504.72,675" fill="#0a0a0a" fill-opacity="1" filter="url(#rg)"/>
<polygon points="515.79,707 515.39,720 514.69,725.4 515.39,731 515.79,745 515.59,753.2 513.69,755.5 511.69,758 509.99,761 508.99,763.3 523.39,763.3 522.39,761 520.69,758 518.69,755.5 516.79,753.2 516.59,745 516.99,731 517.69,725.4 516.99,720 516.59,707" fill="#DB72FB" stroke="#222" stroke-width="0.4"/>
<polygon points="531.76,672.2 530.26,675 528.26,678 525.76,682 524.86,685.3 525.66,690 526.96,695 528.46,700 529.76,705 531.26,711.5 531.86,720 531.86,763.3 532.66,763.3 532.66,720 533.26,711.5 534.76,705 536.06,700 537.56,695 538.86,690 539.66,685.3 538.76,682 536.26,678 534.26,675 532.76,672.2" fill="#FF61C3" stroke="#222" stroke-width="0.4"/>
<path d="M402.74 691.93h0M403.41 687.12h0M406.97 690.51h0M402.03 692.12h0M402.99 692.42h0M403.88 680.65h0M401.96 684.46h0M399.03 688.08h0M402.07 689.96h0M405.68 686.28h0M404.34 684.32h0M405.38 690.29h0M407.6 680.24h0M409.23 687.53h0M405.74 690.89h0M399.78 744.74h0M409.42 750.35h0M404.14 750.75h0M409.47 739.84h0M404.32 749.02h0M409.02 746.91h0M398.49 741.26h0M401.87 738.15h0M400.9 748h0M397.99 746.54h0M408.11 745.1h0M403.33 738.86h0M402.21 743.22h0M406.74 743.46h0M405.51 747.88h0M422.96 696.56h0M417.46 685.02h0M423.39 685.77h0M417.95 696.07h0M420.1 685.9h0M425.57 698.22h0M414.17 697.01h0M422.72 695.15h0M416.42 688.51h0M424.2 692.52h0M419.25 687.26h0M424.03 686.87h0M421.61 691.58h0M422.21 699.77h0M423.86 692.72h0M419.74 699.76h0M421.19 690.07h0M420.96 690.57h0M419.33 750.54h0M421.1 751.26h0M421.75 755.81h0M424.16 753.4h0M414.26 747.51h0M417.71 746.51h0M415.78 749.96h0M421.78 745.12h0M416.22 745.97h0M414.37 749.06h0M424.04 751.58h0M416.26 750.95h0M415.57 746.64h0M421.39 746h0M423.51 755.41h0M439.03 684.53h0M433.8 687.63h0M430.05 690.6h0M432.73 689.83h0M439.1 687.81h0M430.69 687.25h0M441.8 689.14h0M431.64 684.12h0M431.83 688.83h0M432.57 690.44h0M437.76 686.33h0M437.25 685.27h0M431.7 688.9h0M436.28 686.27h0M433.25 685.51h0M435.47 741.83h0M436.02 741.64h0M439.56 743.86h0M440.98 740.66h0M436.94 749.29h0M430.36 741.26h0M430.29 742.15h0M437.93 741.05h0M435.39 746.35h0M439.3 746.49h0M438.11 748.68h0M437.85 751.48h0M432.33 749.71h0M431.7 749.96h0M431.44 744.53h0M457.69 668.2h0M449.54 663.64h0M449.85 666.41h0M452.06 664.06h0M449.77 664.98h0M446.54 665.44h0M454.77 668.62h0M454.99 664.43h0M446.62 662.57h0M451.56 664.06h0M457.88 724.81h0M454.85 727.72h0M446.56 729.94h0M457.04 720.99h0M450.07 728.65h0M448.86 723.42h0M451.94 718.24h0M455.95 723.01h0M446.17 727.68h0M454.88 722.87h0M451.7 716.28h0M447.67 728.74h0M454.09 726.11h0M449.83 726.26h0M446.56 723.54h0M465.24 677.09h0M471.33 677.55h0M468.11 673.98h0M468.46 675.95h0M467.9 673.39h0M470.29 675.76h0M465.36 675.97h0M466.91 678.88h0M463.81 677.06h0M462.69 678.39h0M467.05 673.89h0M465.99 678.33h0M472.5 742.05h0M468.56 744.57h0M470.16 739.85h0M469.14 741.37h0M468.3 741.34h0M463.54 728.8h0M470.33 734.37h0M463.81 731.99h0M463.91 739.42h0M472.09 739.34h0M466.1 740.1h0M463.16 734.51h0M464.92 740.24h0M467.68 732.17h0M462.23 740.02h0M468.69 728.51h0M463.57 738.92h0M462.39 730.96h0M480.82 670.28h0M489.8 676.25h0M483.65 672.98h0M488.31 673.76h0M483.2 670.81h0M485.97 672.69h0M478.12 673.77h0M486.31 675.53h0M478.38 674.4h0M487.59 675.45h0M485.71 711.08h0M479.67 712.76h0M483.98 721.66h0M485.82 716.72h0M480.37 711.87h0M488.74 717.64h0M482.7 713.02h0M480.8 718.21h0M483.49 711.37h0M489.69 718.4h0M485.71 715.55h0M485.5 710.63h0M478.52 718.37h0M478.34 715.98h0M489.37 720.99h0M496.15 674.06h0M504.37 671.93h0M498.85 670.07h0M497.79 674.07h0M499.49 668.99h0M494.75 671.11h0M504.74 673.08h0M500.34 672.32h0M497.5 668.8h0M502.16 669.9h0M505.77 721.19h0M500.61 718.84h0M501.07 710.95h0M495.64 722.22h0M503.03 719.86h0M505.95 713.14h0M499.67 720.48h0M497.38 716.29h0M498.7 706.53h0M503.5 707.65h0M504.76 720.37h0M498.35 710.38h0M501.1 707.1h0M500.61 721.75h0M497.54 709.98h0M512.4 733.07h0M514.43 736.32h0M515.48 720.26h0M518.34 734.23h0M517.01 725.13h0M527.7 679.04h0M531.29 701.59h0M535.59 699.42h0M528.17 707.41h0M527.38 677.82h0M536.48 691.45h0M532.41 689.56h0M536.27 693.73h0M536.83 688.53h0M532.27 704.97h0M530.98 699.8h0M528.8 688.15h0M531.1 695.18h0M533.79 689.34h0M535.28 698.03h0M535.24 707.43h0M530.73 696.3h0M529.23 700.22h0M528.87 697.67h0M537.22 705.61h0M529.04 704.29h0M531.95 677.24h0M534.02 683.95h0M534.64 689.98h0M534.97 706.02h0" stroke="#111" stroke-width="0.85" stroke-linecap="round" fill="none"/>
<path d="M421.42 730.94h0M420.22 737.8h0" stroke="#EA9610" stroke-width="1.1" stroke-linecap="round" fill="none"/>
<path d="M452.7 678.39h0M453.06 676.52h0M452.57 710.89h0M452.1 701.66h0M449.81 677.6h0M453.08 692.53h0M450.29 684.02h0M453.19 686.06h0M450.76 696.4h0M453.02 686.62h0M450.87 690.8h0M449.03 685.95h0" stroke="#00BA38" stroke-width="1.1" stroke-linecap="round" fill="none"/>
<path d="M465.68 705.56h0M470.93 722.54h0M469.44 691.87h0M465.76 706.08h0M469.71 713.07h0M467.29 684.3h0M468.47 704.46h0M466.27 682.9h0M470.81 711.16h0M467.09 715.74h0M464.78 711.75h0M469.71 695.69h0M469.66 688.13h0M467.57 691.94h0M465.2 709.93h0M470.03 692.92h0M469.93 685.67h0M470.61 702.93h0M468.58 695.3h0M470.75 713.64h0" stroke="#00C19F" stroke-width="1.1" stroke-linecap="round" fill="none"/>
<path d="M486.83 692.25h0M484.63 710.84h0M487.8 686.95h0M483.67 696.51h0M488.1 695.44h0M481.12 702.61h0M487.95 692.16h0M481.87 690.59h0M486.9 708.25h0M481.3 686.04h0M486.61 694.46h0M488.08 687.82h0M485.5 683.82h0M481.75 708.16h0M487.97 702.78h0M481.55 707.66h0M483.06 681.64h0M484.14 686.32h0M481.87 699.1h0M480.79 703.86h0M484.99 678.11h0M479.65 696.68h0M483.29 708.23h0M484.64 696.32h0M482.39 678.58h0M484.2 677.77h0M487.64 706.09h0M486.49 687.3h0M486.15 709.89h0M484.92 681.1h0M484.21 696.24h0M481.72 684.3h0M486.26 701.52h0M486.08 697.11h0M485.66 698.07h0" stroke="#00B9E3" stroke-width="1.1" stroke-linecap="round" fill="none"/>
<path d="M499.28 687.41h0M500.09 679.4h0M506.21 689.99h0M501.4 677.3h0M504.73 687.77h0M503.57 699.45h0M502.73 681.53h0M499.85 693.85h0M500.63 677.02h0M498.56 704.49h0M496.82 695.66h0M503.73 690.9h0M498.88 703.68h0M500.47 675.98h0M498.69 676.6h0M496.17 683.64h0M497.75 702.15h0M498.47 703.67h0M501.89 696.72h0M501.07 700.12h0M498.09 680.76h0M502.68 703.12h0M505.14 696.92h0M498.64 699.05h0M503.85 680.79h0M503.86 700.8h0M498.39 687.05h0M496.64 683.09h0M497.67 702.86h0M504.83 689.43h0M494.21 690.39h0M497.98 695.02h0M497.91 676.49h0M499.78 681.6h0M500.43 704.61h0M506 692.46h0M498.02 696.94h0M496.67 691.46h0M496.37 690.47h0M503.78 692.24h0" stroke="#4A94F8" stroke-width="1.1" stroke-linecap="round" fill="none"/>
<defs><filter id="ru" x="-10%" y="-10%" width="120%" height="120%"><feTurbulence type="fractalNoise" baseFrequency="0.7" numOctaves="2" seed="5" result="n"/><feDisplacementMap in="SourceGraphic" in2="n" scale="3" xChannelSelector="R" yChannelSelector="G"/></filter><filter id="ru2" x="-20%" y="-20%" width="140%" height="140%"><feTurbulence type="fractalNoise" baseFrequency="0.9" numOctaves="2" seed="9" result="n"/><feDisplacementMap in="SourceGraphic" in2="n" scale="4" xChannelSelector="R" yChannelSelector="G"/></filter></defs>
<text x="91.2" y="16" font-size="10.1" font-weight="bold" text-anchor="middle">Lyz1</text>
<line x1="33.2" y1="22.3" x2="33.2" y2="130" stroke="#333333" stroke-width="0.75"/>
<line x1="30.7" y1="42.5" x2="33.2" y2="42.5" stroke="#333333" stroke-width="0.75"/>
<text x="29.1" y="45.31" font-size="7.8" text-anchor="end" fill="#333333">4</text>
<line x1="30.7" y1="72.5" x2="33.2" y2="72.5" stroke="#333333" stroke-width="0.75"/>
<text x="29.1" y="75.31" font-size="7.8" text-anchor="end" fill="#333333">0</text>
<line x1="30.7" y1="102.6" x2="33.2" y2="102.6" stroke="#333333" stroke-width="0.75"/>
<text x="29.1" y="105.41" font-size="7.8" text-anchor="end" fill="#333333">-4</text>
<line x1="33.2" y1="129.9" x2="149" y2="129.9" stroke="#333333" stroke-width="0.75"/>
<line x1="60.5" y1="129.9" x2="60.5" y2="132.3" stroke="#333333" stroke-width="0.75"/>
<text x="60.5" y="139.9" font-size="7.8" text-anchor="middle" fill="#333333">-10</text>
<line x1="87.7" y1="129.9" x2="87.7" y2="132.3" stroke="#333333" stroke-width="0.75"/>
<text x="87.7" y="139.9" font-size="7.8" text-anchor="middle" fill="#333333">-5</text>
<line x1="115.2" y1="129.9" x2="115.2" y2="132.3" stroke="#333333" stroke-width="0.75"/>
<text x="115.2" y="139.9" font-size="7.8" text-anchor="middle" fill="#333333">0</text>
<line x1="143" y1="129.9" x2="143" y2="132.3" stroke="#333333" stroke-width="0.75"/>
<text x="143" y="139.9" font-size="7.8" text-anchor="middle" fill="#333333">5</text>
<text x="90.8" y="150.6" font-size="8.6" text-anchor="middle">UMAP_1</text>
<text x="16.6" y="76.4" font-size="8.6" text-anchor="middle" transform="rotate(-90 16.6 76.4)">UMAP_2</text>
<rect x="158.2" y="51.8" width="9.5" height="48.2" fill="url(#ug)"/>
<text x="172.6" y="64.1" font-size="6.4" fill="#4d4d4d">6</text>
<text x="172.6" y="77.3" font-size="6.4" fill="#4d4d4d">4</text>
<text x="172.6" y="89.7" font-size="6.4" fill="#4d4d4d">2</text>
<text x="172.6" y="102.7" font-size="6.4" fill="#4d4d4d">0</text>
<g filter="url(#ru)">
<polygon points="85.6,31.8 92,34 98.6,37.2 103,35 108,33.5 115,32.8 122,32.2 129.3,31.8 134,33.5 138.5,38 141.5,44 142.8,52 143.5,62 143.5,72 143,80 141.5,90 139.5,100 136.5,108 133,115 129,119.5 124.6,121.5 120,120.3 116,117 113,112 111.5,106 110,101 106,97.5 101,92.5 97,88.5 95.3,82 95,75 95.5,70 94.5,65 92.5,60 90.3,52 88,45 86.5,38" fill="#6a4af0" stroke="#6a4af0" stroke-width="0.8" stroke-linejoin="round"/>
<polygon points="41.5,48 45,46 50,45.6 53,47 56,49.5 58.6,51 56.5,53.5 54,56 51.5,60 49.5,64 48,65.5 46,64.5 43.5,60 41.5,56 40.6,52" fill="#6a4af0" stroke="#6a4af0" stroke-width="0.6" stroke-linejoin="round"/>
<polygon points="85.6,31.8 92,34 98.6,37.2 101,44 100,52 97,60 94,62 92.5,60 90.3,52 88,45 86.5,38" fill="#8068f0"/>
</g>
<path d="M49.3 45.5L50.6 40M51 38.5L51.9 35" stroke="#6a4af0" stroke-width="1.3" stroke-linecap="round"/>
<path d="M111.76 52.18h0M110.29 54.73h0M111.84 56.26h0M116.36 56.69h0M116.31 51.47h0M109.72 50h0M114.93 56.26h0M112.27 50.05h0M116.65 55.51h0M115.6 52.2h0M114.5 54.55h0M109.89 59.55h0M113.72 61.72h0M105.22 52.62h0M109.02 58.27h0M113.05 54.72h0M107.62 54.46h0M112.76 63.04h0M106.4 53.12h0M117.78 55.88h0M120.67 54.21h0M116.14 55.72h0M111.72 57.23h0M113.38 49.89h0M112.65 57.65h0M108.67 59.44h0M101.86 56.1h0M115.62 56.73h0M114.51 59.88h0M107.43 57.52h0M109.64 58.85h0M111.83 49.21h0M116.55 57.07h0M111.43 50.26h0M111.93 51.53h0M108.76 59.83h0M109.53 54.2h0M112.87 57.95h0M113.11 46.99h0M115.31 54.06h0M116.9 52.4h0M109.18 53.59h0M112.71 57.44h0M115.14 57.42h0M118.35 56.21h0M112.3 54.02h0M118.61 58.77h0M114 52.43h0M110.63 57.72h0M110.86 55.75h0M116.7 55.76h0M115.3 59.21h0M106.21 55.66h0M105.88 54.83h0M110.61 49.07h0M112.53 52.17h0M118.5 57.28h0M113.68 49.66h0M113.86 58.86h0M117.6 56.74h0M110.03 58.6h0M114.23 56.53h0M113.27 55.04h0M108.21 54.14h0M119.03 55.46h0M108.98 53.06h0M109.24 51.76h0M101.93 51.53h0M110.16 60.16h0M115.95 55.06h0M116.24 51.79h0M112.98 55.65h0M113.96 57.88h0M118.32 51.64h0M115.79 47.45h0M107.52 49.68h0M110.51 56h0M115.72 55.14h0M111.89 60.11h0M111.88 55.38h0M116.73 55.7h0M121.24 56.78h0M111.81 58.44h0M114.11 59.79h0M117.58 53.86h0M117.67 57.53h0M116.43 57.59h0M109.55 55.37h0M115.17 56.33h0M113.72 55.51h0M108.32 56.14h0M111.06 54.36h0M115.47 53.97h0M115.09 57.3h0M113.13 54.79h0M110.34 47.74h0M110.41 54.83h0M107.13 55.09h0M112.85 52.42h0M114.01 57.68h0M115.61 53.4h0M112.34 55.79h0M108.03 53.75h0M117.01 59.13h0M115.63 55.71h0M115.85 57.01h0M110.98 54.8h0M117.39 53.3h0M120.28 58.34h0M111.36 56.05h0M105.13 58.06h0M116.6 51.94h0M101.58 50.93h0M110.92 57.5h0M109.31 53.02h0M115.1 57.76h0M115.63 54.93h0M112.23 53.32h0M115.66 52.39h0M115.72 53.48h0M112.99 55.45h0M114.42 59.54h0M114.85 60.13h0M107.46 56.98h0M114.93 56.19h0M112.65 53.51h0M108.11 56.24h0M104.66 52.54h0M114.44 55.39h0M114.27 56.04h0M112.71 49.14h0M108.17 57.15h0M111.83 57.82h0M113.07 52.87h0M108.88 54.05h0M115.25 56.11h0M115.63 56.31h0M113.35 55.06h0M109.41 52.99h0M104.9 53.32h0M113.96 55.75h0M112.26 56.62h0M113.78 57.34h0M110.96 48.15h0M106.77 57.28h0M112.16 56.27h0M111 57.18h0M109.16 53.87h0M110.82 54.96h0M112.96 52.1h0M108.18 55.2h0M113.65 53.07h0M106.51 49.95h0M118.39 59.23h0M112.1 58.73h0M111.02 54.34h0M112.97 53.95h0M114.02 59.14h0M110.64 54.61h0M114.05 57.29h0M112.63 50.64h0M112.99 59.34h0M110.58 57.59h0M110.09 54.81h0M110.06 57.41h0M109.39 56.71h0M114.28 56.11h0M111.84 57.03h0M115.26 53.12h0M113.36 52.4h0M117.32 52.89h0M112.2 57.38h0M112.07 55.28h0M116.6 53.2h0M110.53 53.77h0M111.37 56.7h0M111.77 60.05h0M117.41 56.61h0M112.2 50.94h0M104.02 55.24h0M116.46 50.82h0M105.76 56.29h0M111.93 53.84h0M111.62 51.81h0M116.82 51.13h0M111.55 53.45h0M116.94 52.22h0M110.41 53.01h0M110.73 61.28h0M117.41 55.69h0M112.09 59.8h0M114.56 49.67h0M108.11 49.59h0M113.49 59.56h0M109.99 57.72h0M112.95 55h0M107.97 57.68h0M105.83 49.47h0M116.44 56.35h0M112.73 56.38h0M113.88 55.26h0M109.51 55.07h0M116.48 52.51h0M113.43 56.02h0M115.04 56.7h0M114.38 53.11h0M114.28 57.74h0M109.42 52.05h0M108.13 53.01h0M113.45 55.82h0M111.91 52.8h0M107.41 55.21h0M108.69 57.72h0M111.85 60.32h0M115.34 45.78h0M117.32 61.46h0M106.11 54.81h0M107.4 53.18h0M106.71 54.05h0M116.47 55.13h0M110.84 55.56h0M111.42 57.34h0M113.72 53.37h0M108.89 54.29h0M114.77 52.04h0M112.86 51.49h0M119.25 56.48h0M106.47 56.31h0M119.84 61.88h0M114.97 54.45h0M115.36 52.64h0M110.12 54.89h0M110.12 55.42h0M109.59 51.43h0M117.73 56.98h0M112.48 58.12h0M113.3 52h0M106.84 61.36h0M111.63 52.27h0M112.8 48.57h0M115.9 56.96h0M114.86 60h0M113.53 50.81h0M107.97 51.17h0M117.23 52.13h0M114.14 55.21h0M114.55 54.07h0M118.03 57.43h0M109.31 56.3h0M118.18 61.37h0M111.79 52.08h0M116.27 58.27h0M110.73 52.8h0M112.94 57.78h0M108.75 57.44h0M107.03 57.06h0M105.76 55.54h0M107.75 50.06h0M111.54 56.62h0M111.16 51.4h0M121.96 54.21h0M113.54 56.53h0M109.43 60.79h0M117.21 56.39h0M115.84 52.52h0M106.28 53.43h0M118.23 59.41h0M108.2 59.21h0M111.98 62.49h0M118.04 53.35h0M102.69 55.69h0M109.6 54.55h0M107.51 48.94h0M109.88 53.35h0M119.74 49.98h0M120.5 55.35h0M108.42 55.24h0M105.25 47.28h0M110.88 60.53h0M104.5 54.55h0M113.91 55.35h0M112.68 54.02h0M109.62 56.76h0M116.98 52.8h0M109.22 50.65h0M113.12 62.04h0M119.97 52.33h0M111.01 55.64h0M103.86 54.29h0M111.1 55.63h0M112.21 53.99h0M111.16 50.26h0M115.89 52.48h0M103.44 56h0M113.03 50.96h0M113.23 58.16h0M111.68 53.76h0M105.38 51.76h0M111.83 57.2h0M110.2 57.69h0M117.62 56.96h0M115.85 58.31h0M108.25 50.37h0M114.75 56.97h0M110.84 55.32h0M120.06 49.82h0M113.16 58.24h0M104.73 49.4h0M111.75 52.66h0M111.18 53.28h0M108.36 54.51h0M108.31 59.27h0M112.16 50.95h0M107.41 53.86h0M108.83 53.99h0M115.07 55h0M110.86 60.92h0M114.17 57.43h0M110.19 55.36h0M116 57.22h0M115.31 58.98h0M110.02 55.43h0M113.63 55.68h0M109.33 53.38h0M110.02 58.27h0M112.1 49.81h0M122.23 60.67h0M116.92 57.2h0M122.57 51.07h0M108.4 57.89h0M103.11 65.27h0M103.89 63.53h0M102.79 58.69h0M105.17 61.77h0M109.99 66.23h0M103.03 64.21h0M106.9 63.7h0M100.3 68.57h0M103.3 65.4h0M106.12 61.48h0M111.48 65.49h0M106.94 66.65h0M104.67 60.39h0M104.13 67.16h0M108.59 62.67h0M99.82 64.86h0M105.36 62.05h0M104.74 63.2h0M105.42 67.38h0M103.85 62.46h0M104.79 60.89h0M103.9 65.47h0M105.08 59.64h0M102.82 65.28h0M107.45 65.84h0M96.15 62.09h0M105.67 60.15h0M100.43 67.77h0M102.35 62.54h0M100.26 62.79h0M102 69.65h0M104.8 65.24h0M105.48 63.52h0M106.54 67.63h0M104.9 63.83h0M105.62 62.68h0M107.79 62.99h0M98.4 60.36h0M104.57 66.29h0M105.37 62.87h0M101.71 63.49h0M101.71 63.37h0M107.74 63.2h0M101.58 66.72h0M101.55 65.06h0M104.56 62.83h0M100.23 64.87h0M102.57 59.31h0M105.6 64.41h0M101.97 60.5h0M102.98 66.79h0M108.35 61.48h0M102.18 67.15h0M104.87 61.37h0M100.7 68.74h0M103.53 65.95h0M101.05 65.55h0M106.13 58.38h0M101.55 64.55h0M102.84 64.6h0M106.67 63.94h0M108.05 63.94h0M101.77 63.4h0M104.31 66.55h0M98.07 64.01h0M102.79 64.37h0M102.99 63.7h0M100.55 63.12h0M100.75 63.35h0M104.79 63.66h0M106.39 64.77h0M103.62 68.97h0M104.83 67.98h0M111.32 65.21h0M98.89 64.91h0M102.95 68.03h0M107.43 64.4h0M105.45 67.1h0M106.84 66.56h0M103.64 65.2h0M103.24 64.6h0M104.14 61.92h0M104.02 65.77h0M105.2 68.22h0M101.53 65.47h0M99.04 67.55h0M102.22 64h0M105.66 62.63h0M104.57 67.9h0M102.84 69.94h0M118.4 47.45h0M115.68 46.45h0M118.58 46.49h0M116.52 42.08h0M117.88 49.19h0M119.95 43.17h0M117.88 42.87h0M113.61 46.82h0M116.05 44.19h0M120.84 47.62h0M118.12 44.05h0M116.64 46.05h0M118.63 40.11h0M113.66 42.81h0M115.33 48.71h0M118.87 47.86h0M121.06 47.74h0M122.13 45.47h0M121.94 44.94h0M119.04 48.81h0M116.79 46.04h0M121.41 46.14h0M122.39 44.15h0M119.51 47.21h0M119.98 43.66h0M116.98 45.69h0M119.1 42.25h0M117.36 45.5h0M120.11 46.86h0M114.34 44.05h0M118.33 47.78h0M120.22 41.87h0M121.29 43.9h0M115.72 46.94h0M117.21 48.4h0M120.44 46.86h0M119.92 49.19h0M117.42 44.9h0M117.02 43.74h0M121.33 42.75h0M116.94 45.3h0M119.97 45.64h0M118.07 47.39h0M119.96 48.02h0M114.78 47.67h0M120.96 44.39h0M116.42 43.34h0M121.19 40.47h0M118.61 49.83h0M119.44 45.53h0M122.75 45.25h0M119.54 46.33h0M120.58 45.73h0M114.63 43.36h0M121.64 48.13h0M121.87 44.29h0M116.72 44.9h0M116.34 44.56h0M119.86 47.33h0M120.27 46.6h0M96.98 48.1h0M97.95 43.67h0M102.63 42.85h0M98.78 42.89h0M99.66 42.01h0M102.93 48.54h0M99.83 48.23h0M95.26 44.76h0M94.1 45.99h0M99.2 48.54h0M98.45 45.92h0M102.68 47.57h0M100.83 40.51h0M101.99 49.9h0M96.18 46.05h0M101.72 43.49h0M100.25 44.46h0M97.17 44.15h0M99.75 43.03h0M103.24 43.5h0M101.93 43.7h0M98.41 49.25h0M105.4 48.13h0M93.81 43.76h0M100.71 46.79h0M98.83 42.36h0M102.61 44.88h0M98.21 45.07h0M101.28 45.62h0M99.06 44.65h0M100.14 47.77h0M98.58 44.91h0M100.75 45.06h0M96.83 48.16h0M99.32 48.55h0M99.92 46.18h0M91.85 44.69h0M93.99 47.84h0M97.78 46.97h0M100.72 47.73h0M99.04 45.14h0M96.82 48.22h0M96.17 43.75h0M100.77 44.09h0M97.32 42.58h0M101.94 51.46h0M101.09 47.1h0M98.99 42.1h0M104.16 43.53h0M97.51 43.22h0M100.41 40.53h0M98.38 50.57h0M99.19 48.07h0M100.03 47.14h0M102.41 45.56h0M97.73 43.85h0M99.79 46.96h0M96.66 47.69h0M100.67 46.3h0M100.51 45.68h0M104.65 50.89h0M102.87 43.88h0M102.99 44.76h0M100.24 45.65h0M97.9 43.35h0M91.83 48.76h0M97.33 49.45h0M98.05 43.31h0M99.23 45.37h0M101.2 44.46h0M93.1 40.32h0M91.01 37.48h0M94.34 39.09h0M90.87 40.07h0M90.93 41.49h0M88.71 41.86h0M92.29 38.78h0M90.92 38.92h0M90.28 39.41h0M93.86 41.17h0M90.23 37.71h0M89.63 39.86h0M90.31 40.85h0M88.08 39.26h0M92.19 40.02h0M93.1 37.9h0M93.18 38.52h0M91.15 41.57h0M91.74 42.28h0M88.58 40.3h0M89.42 43.3h0M92.21 38.6h0M93.55 42.5h0M88.93 41.28h0M90.92 36.88h0M90.61 39.99h0M94.76 40.7h0M90.9 42.62h0M90.99 38.96h0M90.41 40.32h0M93.86 42.33h0M89.68 41.05h0M93.52 40.55h0M94.85 42.48h0M90.79 37.89h0M91.44 41.39h0M92.27 40.18h0M89.73 40.99h0M90.78 39.44h0M94.25 38.85h0M109.39 97.58h0M110.86 96.95h0M108.6 99.18h0M110.05 95.46h0M113.24 99.57h0M110.33 97.82h0M108.6 97.75h0M111.22 99.87h0M106.19 96.82h0M110.53 100.68h0M111.64 102.68h0M108.92 97.67h0M112.05 98.4h0M111.48 100.43h0M109.02 94.95h0M109.9 98.79h0M110.68 100.91h0M115.78 98.34h0M108.62 99.41h0M116.09 98.98h0M112.44 97.54h0M110.35 100.1h0M110.71 97.37h0M113.19 100.98h0M109.82 96.19h0M108.69 98.21h0M110.75 97.34h0M108.93 97.87h0M111.88 101h0M108.69 92.5h0M109.53 98.26h0M112.85 98.45h0M108.39 99.17h0M111.85 97.15h0M110.8 76.52h0M108.63 77.75h0M103.2 76.27h0M110.08 78.78h0M105.44 77.83h0M107.46 72.15h0M107.52 75.96h0M107.77 78.03h0M107.62 76.95h0M108.14 74.55h0M110.84 71.24h0M110.33 75.35h0M110.2 75.63h0M105.41 77.57h0M106.1 76.38h0M104.49 76.66h0M107.26 74.76h0M105.19 79.71h0M106.71 75.07h0M103.34 73.42h0M106.08 76.95h0M106.63 75.76h0M104.5 78.59h0M106.24 76.01h0M104.84 79.22h0M105.47 75.98h0M112.29 74.8h0M109.17 76.21h0M104.06 77.32h0M105.88 76.89h0M105.06 75.69h0M105.9 74.25h0M110.95 73.09h0M106.75 77.39h0M103.58 75.22h0M119.28 66.32h0M122.27 69.51h0M120.18 67.38h0M118.58 68.04h0M121.34 65.01h0M124.38 64.3h0M121.64 69.21h0M119.33 65.99h0M122.78 65.66h0M120.37 68.23h0M121.96 66.73h0M121.54 66.97h0M122.27 65.08h0M119.81 64.71h0M121.31 66.38h0M120.72 66.85h0M122.02 67.7h0M122.11 66.15h0M122.53 66.15h0M121.81 65.29h0M122.26 65.94h0M121.3 65.81h0M122.28 68.67h0M120.3 66.73h0M122.16 68.29h0M96.67 55.12h0M93.42 52.49h0M98.55 55.59h0M97.02 56.71h0M96.74 52.78h0M94.63 57.82h0M100.57 55.17h0M93.54 54.83h0M94.92 54.72h0M94.17 57.71h0M95.73 56.1h0M98.15 55.06h0M95.34 55.94h0M97.49 57.45h0M95.32 55.82h0M95.83 55.56h0M95.78 56.58h0M96.3 56.08h0M95.31 56.42h0M93.77 56.88h0M98.08 56.71h0M93.44 56.28h0M97.62 57.2h0M98.6 55.16h0M96.22 55.17h0M94.15 55.69h0M95.67 57.95h0M95.38 55.49h0M94.78 55.26h0M96.28 57.31h0" stroke="#ffffff" stroke-width="0.95" stroke-linecap="round"/>
<path d="M129.02 105.12h0M136.22 65.1h0M127.52 35.93h0M100.17 69.39h0M116.02 34.31h0M113.97 82.71h0M116.19 99.04h0M101.47 75.27h0M112.05 104.37h0M118.48 41.74h0M139.67 77.7h0M134.73 42.54h0M130.7 62.61h0M96.22 39.33h0M129.37 59.54h0M135.57 59.39h0M100.3 51.96h0M91.86 41.2h0M137.77 90.5h0M133.29 53.64h0M113.32 78.76h0M124.07 54.53h0M109.61 73.78h0M112.04 91.45h0M137.67 103.68h0M114.5 67.24h0M97.59 45.41h0M104.71 75.43h0M140.69 45.62h0M117.13 107.1h0M104.31 48.1h0M129.77 94.03h0M98.07 37.33h0M136.87 66.05h0M123.24 34.14h0M134.93 84.18h0M118.47 105.61h0M132.73 74.87h0M125.43 33.2h0M114.11 79.08h0M101.67 57.92h0M110.04 64.97h0M106.2 39.83h0M99.53 48.07h0M143.03 64.37h0M111.14 90.52h0M138.83 81.28h0M92.38 39.38h0M113.01 37.4h0M124.73 67.84h0M118.25 102.35h0M132.84 54.52h0M115.6 80.05h0M108.07 41.55h0M121.8 43.88h0M107.8 86.09h0M136.19 57.68h0M104.72 84.53h0M117.11 92.03h0M126.5 80.2h0M111.92 102.9h0M119.78 56.35h0M97.62 40.13h0M135.83 46.45h0M99.06 69.37h0M119.96 78.53h0M103.44 77.59h0M130.53 105.68h0M110.04 82.52h0M136.28 80.65h0M131.5 104.66h0M111.98 53.25h0M112.55 96.62h0M116.12 49.61h0M143.39 63.51h0M87.52 40.22h0M116.46 67.03h0M119.69 109.43h0M137.54 105.13h0M119.38 61.39h0M106.19 58.56h0M113.38 94.57h0M120.13 77.69h0M128.64 83.53h0M140.39 72.41h0M112.44 50.43h0M137.81 99.55h0M113.91 46.49h0M130.12 62.29h0M96.1 62.68h0M129.54 65.24h0M121.19 51.13h0M110.69 60.23h0M139.71 68.03h0M118.24 77.4h0M114.98 106.98h0M139.72 82.04h0M132.48 63.77h0M130.93 52.93h0M133.68 64.26h0M91.81 54.53h0M127.31 112.27h0M95.99 53.53h0M111.81 74.87h0M94.63 36.21h0M101.22 84.86h0M98.66 46.2h0M136.11 64.16h0M103.64 46.95h0M120.43 61.14h0M122.74 33.15h0M138.7 69.82h0M111.14 59.77h0M130.59 106.57h0M119.26 53.67h0M134.05 72.42h0M128.44 38.17h0M101.27 37.14h0M118.44 61.59h0M103.63 70.65h0M130.68 36.59h0M124.22 36.43h0M108.48 58.18h0M120.23 56.03h0M139.16 52.5h0M87.26 37.78h0M138.01 48.53h0M108.59 82.66h0M120.18 70.86h0M128.24 115.81h0M103.27 46.29h0M138.03 82.04h0M137.25 89.49h0M132.84 83.96h0M120.75 108.52h0M93.35 36.85h0M119.44 109.06h0M131.38 67.27h0M139.44 68.55h0M121.1 73.39h0M115.58 64.85h0M100.73 75.82h0M127.23 39.65h0M140.88 50.33h0M115.06 63.33h0M119.73 106.18h0M124.23 102.49h0M121.88 35.06h0M131.56 34.38h0M114.6 112.49h0M120.07 50.8h0M136.47 75.9h0M122.07 38.5h0M94.21 44.01h0M117.33 93.38h0M99.37 55.24h0M137.19 89.68h0M111.68 67.32h0M104.87 66.63h0M98.57 54.23h0M103.73 68.63h0M101.73 40.35h0M116.17 72.82h0M100.79 85h0M98.26 57.85h0M126.31 115.48h0M107.32 38.24h0M117.25 86.75h0M136.27 67.77h0M130.26 39.75h0M130.34 69.68h0M141.78 83.72h0M120.66 72.94h0M122.84 89.28h0M129.55 59.88h0M107.16 68.03h0M130.76 36.38h0M119.83 109.27h0M118.02 66.15h0M111.16 72.69h0M107.16 76.57h0M101.56 92.39h0M115.35 100.17h0M140.4 58.05h0M130.72 92.88h0M92.58 54.24h0M131.19 68.91h0M121.25 35.87h0M126.71 37.04h0M123.73 117.58h0M132.62 82.79h0M123.25 48.05h0M133.5 79.07h0M134.78 106.72h0M124.81 68.34h0M87.94 44.4h0M137.94 86.26h0M130.72 97.54h0M133.87 68.34h0M102.36 41.83h0M116.82 69.39h0M108.94 76.9h0M104.79 83.49h0M41.47 49.75h0M46.24 62.86h0M53.75 55.42h0M47.77 61.28h0M48 58.32h0M50.89 60.15h0M53.45 52.4h0M44.47 49.31h0M50.21 52.5h0M46.33 57.54h0M50.68 59.47h0M53.14 49.27h0M49.91 57.48h0M49.39 61.98h0M42.42 53.76h0" stroke="#9d8cf2" stroke-width="0.9" stroke-linecap="round" opacity="0.9"/>
<line x1="33.2" y1="167.9" x2="33.2" y2="290" stroke="#333333" stroke-width="0.75"/>
<line x1="30.7" y1="168.1" x2="33.2" y2="168.1" stroke="#333333" stroke-width="0.75"/>
<text x="29.1" y="170.91" font-size="7.8" text-anchor="end" fill="#333333">6</text>
<line x1="30.7" y1="195.8" x2="33.2" y2="195.8" stroke="#333333" stroke-width="0.75"/>
<text x="29.1" y="198.61" font-size="7.8" text-anchor="end" fill="#333333">3</text>
<line x1="30.7" y1="223.9" x2="33.2" y2="223.9" stroke="#333333" stroke-width="0.75"/>
<text x="29.1" y="226.71" font-size="7.8" text-anchor="end" fill="#333333">0</text>
<line x1="30.7" y1="251.9" x2="33.2" y2="251.9" stroke="#333333" stroke-width="0.75"/>
<text x="29.1" y="254.71" font-size="7.8" text-anchor="end" fill="#333333">-3</text>
<line x1="30.7" y1="279.7" x2="33.2" y2="279.7" stroke="#333333" stroke-width="0.75"/>
<text x="29.1" y="282.51" font-size="7.8" text-anchor="end" fill="#333333">-6</text>
<line x1="33.2" y1="290" x2="176.7" y2="290" stroke="#333333" stroke-width="0.75"/>
<line x1="65.4" y1="290" x2="65.4" y2="292.4" stroke="#333333" stroke-width="0.75"/>
<text x="65.4" y="300" font-size="7.8" text-anchor="middle" fill="#333333">-10</text>
<line x1="100.8" y1="290" x2="100.8" y2="292.4" stroke="#333333" stroke-width="0.75"/>
<text x="100.8" y="300" font-size="7.8" text-anchor="middle" fill="#333333">-5</text>
<line x1="135.8" y1="290" x2="135.8" y2="292.4" stroke="#333333" stroke-width="0.75"/>
<text x="135.8" y="300" font-size="7.8" text-anchor="middle" fill="#333333">0</text>
<line x1="170.2" y1="290" x2="170.2" y2="292.4" stroke="#333333" stroke-width="0.75"/>
<text x="170.2" y="300" font-size="7.8" text-anchor="middle" fill="#333333">5</text>
<text x="104.7" y="310.8" font-size="8.6" text-anchor="middle">UMAP_1</text>
<text x="16.6" y="229" font-size="8.6" text-anchor="middle" transform="rotate(-90 16.6 229)">UMAP_2</text>
<g filter="url(#ru)">
<polygon points="129.1,256.5 134.9,255.1 140.7,258 150.9,261 158,264.5 165,269 163.5,274 160,279.5 155,283.5 149.5,285.2 144,284 138,280.5 133.5,275 130.5,269 129.1,263.8" fill="#93AA00" stroke="#93AA00" stroke-width="1.8" stroke-linejoin="round"/>
<polygon points="140,221 148.2,219.5 152.7,221 161.8,219.5 168.6,219.5 168.8,226 168.8,236 168.4,246.4 167.5,256 166,264 165,269 158,264.5 150.9,261 140.7,258 134.9,255.1 139.3,246.4 140,236 141,228" fill="#EA9610" stroke="#EA9610" stroke-width="1.8" stroke-linejoin="round"/>
<polygon points="113.1,215.5 121.8,212.9 130,213 136.4,214.4 143.6,218.7 142.2,226 140.3,231.8 140,240 139.3,246.4 136,252 133.5,254.5 126.2,253 118.9,251 111.6,246.4 108,239.1 107.8,228.9 108.7,218.7" fill="#00BA38" stroke="#00BA38" stroke-width="1.8" stroke-linejoin="round"/>
<polygon points="141.8,175.3 144.5,174 147.3,173.2 152.7,174.6 159.1,178.7 163.6,184.2 167.3,190.5 169.5,198 170.2,206.2 169.5,213.5 168.6,219 161.8,219.5 152.7,221 148.2,219.5 144.5,214 141.8,206.2 141.8,197 140.9,190.7 140,181.6" fill="#F8766D" stroke="#F8766D" stroke-width="1.8" stroke-linejoin="round"/>
<polygon points="114,181 117,178.5 120,176.2 126.4,174.8 130.9,174.4 137.3,174.2 142.5,174.8 141,181.6 141.5,190.7 142,197 142,206 136,210 130,211 122,212 115,214 108,214 104.5,205 104.5,198.9 105.5,193.5 108.2,191.8 112,189.5 115,186" fill="#00C19F" stroke="#00C19F" stroke-width="1.8" stroke-linejoin="round"/>
<polygon points="94.5,173.2 99.1,174.4 103.6,176.2 108.2,178 112.7,179.8 116,181.5 116,186 112,189.5 108.2,191.8 103.6,192.5 99.1,189.8 96.4,188.9 95.5,181.6 94.3,176" fill="#4A94F8" stroke="#4A94F8" stroke-width="1.8" stroke-linejoin="round"/>
<polygon points="41,191.5 44.5,189.7 48,189.1 50.9,190.3 53.8,191.5 57.3,193.8 60.8,196.1 62.5,197 60.8,199 58.4,201.3 56.1,205.4 53.8,210.1 51.5,214.7 49.1,215.9 47.4,215.3 44.5,211.8 42.1,208.3 39.8,203.1 39.2,198.4 39.8,194.4" fill="#00B9E3" stroke="#00B9E3" stroke-width="1.8" stroke-linejoin="round"/>
</g>
<path d="M50.6 190.9L50.3 186.2" stroke="#00B9E3" stroke-width="1.6" stroke-linecap="round"/>
<path d="M50.9 184L53.8 178.3" stroke="#FF61C3" stroke-width="2" stroke-linecap="round"/>
<g filter="url(#ru2)">
<polygon points="123,199 128,197.5 133,199.5 136,204 137,209 134.5,212.5 130,213.5 126,211.5 123.5,207.5 122,203" fill="#ffffff"/>
<polygon points="126,193 130,192.5 131.5,195.5 128.5,197.5 125.5,196" fill="#ffffff" opacity="0.85"/>
<polygon points="142,214.5 145,213.5 147,216 145.5,218.5 142.5,218" fill="#ffffff" opacity="0.9"/>
</g>
<path d="M143.11 173.83h0M140.49 175.78h0M145.84 175.77h0M147.79 173.98h0M143.66 173.17h0M148.63 172.9h0M145.79 171.17h0M149.95 174.27h0M148.41 174.46h0M147.58 173.22h0M147.58 173.86h0M149.27 174.06h0M155.3 175.93h0M156.21 175.91h0M154.68 177.05h0M152.98 174.54h0M160.56 179.39h0M152.28 176.04h0M154.94 176.68h0M157.85 178.53h0M161.53 182.07h0M161.42 182.12h0M163.31 183.62h0M165.68 182.67h0M162.92 182.44h0M159.73 179.69h0M159.43 180.4h0M167.61 190.44h0M168.68 188.64h0M163.41 183.3h0M167.85 192.09h0M165.24 189.48h0M164.74 186.63h0M166.33 187.75h0M166.2 190.77h0M166.58 189.52h0M166.31 192.56h0M168.42 197.27h0M169.56 196.85h0M166.34 190.66h0M169.51 192.62h0M166.63 199.17h0M168.88 196.21h0M169.44 202.13h0M168.6 203h0M169.95 204.59h0M168.74 198.96h0M169.87 204.45h0M170.81 206.78h0M167.89 199.11h0M171.43 201.2h0M168.71 200.95h0M168.26 208.52h0M171.08 207.27h0M172.07 211.04h0M168.57 207.15h0M170.33 212.28h0M171.04 210.21h0M167.4 209.33h0M169.58 212.8h0M171.78 211.19h0M168.01 216.88h0M168.92 215.38h0M170 212.89h0M167.29 216.42h0M169.2 213.73h0M166.31 216.87h0M167.12 218.38h0M162.75 218.32h0M163.11 218.4h0M162.18 218.62h0M162.49 221.08h0M162.13 217.48h0M153.55 222.45h0M155.45 218.24h0M154.36 219.65h0M154.3 222.06h0M152.36 219.81h0M158.64 218.65h0M157.15 221.21h0M160.8 220.51h0M158.05 221.23h0M157.81 217.95h0M154.88 218.68h0M150.83 221.83h0M154 220.69h0M149.28 219.96h0M151.82 221.78h0M147.58 217.32h0M147.7 216.33h0M145.24 215.95h0M147 218.59h0M142.23 216.5h0M148.92 220.54h0M144.25 215.36h0M142.28 210.33h0M144.14 214.95h0M141.5 206.89h0M145.45 208.4h0M146.3 211.4h0M144.49 210.3h0M141.96 205.57h0M145.27 209.67h0M141.75 209.95h0M141.74 204.08h0M142.13 204.08h0M140.66 202.12h0M143.22 198.88h0M140.88 202.86h0M141.38 202.88h0M143.85 201.78h0M140.47 203.65h0M142.43 198.18h0M140.19 198.78h0M141.26 193.55h0M143.04 192.95h0M140.17 195.79h0M141.87 192.34h0M140.32 192.15h0M142.09 194.12h0M141.57 195.98h0M139.84 187.82h0M138.08 180.32h0M139.44 186.74h0M140.41 186.54h0M141.03 189.57h0M142.5 190.82h0M140.58 190.72h0M142.92 190.48h0M141.31 188.93h0M139.56 187.38h0M139.15 182.07h0M142.92 176.92h0M141.03 180.4h0M141.04 177.66h0M139.51 179.67h0M138.23 179.89h0M140.97 178.69h0M138.08 182.63h0M140.72 186.11h0M138.6 193.57h0M137.96 181.54h0M141.1 178.67h0M139.86 199.55h0M135.32 188.1h0M134.25 194.5h0M141.44 181.6h0M139.58 202.65h0M139.61 178.41h0M136.22 201.4h0M141.2 183.06h0M137.15 205.26h0M140.92 184.69h0M139.82 196.82h0M138.71 191.9h0M139.97 200.02h0M135.06 189.63h0M140.49 186.54h0M137.79 205.13h0M138.54 183.37h0M135.15 184.4h0M135.81 199.14h0M140.55 204.33h0" stroke="#F8766D" stroke-width="1.3" stroke-linecap="round"/>
<path d="M147.32 215.47h0M141.95 219.19h0M140.49 222.39h0M145.32 218.06h0M145.26 220.72h0M141.53 219.42h0M147.14 218.82h0M146.35 218.64h0M140.86 221.38h0M149.36 219.37h0M149.26 219.31h0M151.54 220.89h0M150.76 217.03h0M152.14 221.07h0M157.47 220.03h0M154.35 219.99h0M154.81 221.22h0M159.21 219.92h0M159.35 219.64h0M155.59 222.12h0M155.2 220.76h0M152.69 219.43h0M159.6 221.77h0M153.21 221.37h0M167.62 220.75h0M163.9 218.87h0M163.1 219.8h0M164.87 220.37h0M168.62 220.37h0M165.06 218.1h0M166.4 219h0M167.9 219.23h0M169.42 220.77h0M170.28 220.55h0M169.84 222.87h0M169.1 223.38h0M169.28 227.87h0M169.43 219.67h0M169.59 232h0M167.96 232.25h0M168.98 234.92h0M166.81 236.28h0M170.18 231.46h0M168.18 223h0M167.94 229.21h0M169.96 228.27h0M169.55 232.28h0M170.48 231.85h0M169.72 235.4h0M168.28 239.29h0M170.21 242.18h0M170.7 236.61h0M166.5 240.75h0M167.6 240.21h0M166.83 240.8h0M167.37 239.67h0M169.13 245.09h0M168.68 243.09h0M169.59 239.83h0M171.66 240.47h0M168.15 254.12h0M166.37 251.6h0M169.43 248.55h0M168.14 249.95h0M168.47 249.64h0M168.45 247.7h0M167.25 248.2h0M169.61 250.87h0M169.15 245.51h0M167.96 251.76h0M167.28 257.5h0M166.63 261.75h0M169.23 259.85h0M167.2 262.35h0M166.47 262.25h0M167.9 258.42h0M166.46 257.86h0M167.68 263.5h0M164.84 270.51h0M165.04 266.79h0M166.84 263.02h0M166.41 265.05h0M164.72 267.13h0M164.51 268.69h0M160.35 264.9h0M161.62 266.93h0M162.58 267.06h0M163.58 268.35h0M156.96 265.08h0M164.08 269.43h0M162.44 266.14h0M160.78 266.07h0M153.5 262.14h0M156.78 263.8h0M156.18 265.38h0M155.41 264.03h0M149.45 262.82h0M158.94 264.35h0M152.53 261.96h0M155.7 265.98h0M149.8 261.27h0M150.55 260.08h0M143.15 259.75h0M149.65 261.19h0M147.6 259.82h0M143.98 259.1h0M145.65 261.13h0M148.41 259.53h0M148.01 259.11h0M142.68 260.59h0M141.06 259.69h0M135.92 257.69h0M136.41 258.96h0M137.22 255.1h0M141.25 258.3h0M134.8 256.54h0M141.38 258.59h0M139.29 255.97h0M137.62 250.52h0M138.77 248.74h0M134.39 254.55h0M134.82 253.35h0M139.93 245.8h0M135.95 251.7h0M134.99 252.72h0M138.7 246.89h0M137.42 251.86h0M139.38 248.55h0M139.43 243.26h0M138.62 240.6h0M142.03 239.39h0M139.64 240.97h0M139.96 245.57h0M138.54 240.56h0M140.54 243.07h0M142.05 238.22h0M140.17 241.79h0M137.97 235.45h0M139.77 240.08h0M141.35 231.66h0M142.33 232.82h0M141.61 233.72h0M138.3 234.73h0M139.47 230.17h0M138.47 232.76h0M140.37 229.11h0M138.85 235.2h0M140.09 222.31h0M138.81 222.31h0M139.16 224.33h0M142.25 220.75h0M140.84 225.86h0M139.87 221.42h0M142.48 224.99h0M129.5 201.18h0M123.84 202.45h0M135.13 211.87h0M126.78 202.68h0M126.07 207.6h0M125.94 209.42h0M134.23 211.33h0M121.3 206.55h0M128.76 198.04h0M132.07 200.29h0M124.76 209.54h0M125.11 205.61h0M123.85 210.29h0M133.82 206.9h0M127.91 201.53h0M132.77 211.54h0M132.13 211.65h0M136.48 209.39h0M135.13 211.45h0M137.91 212.59h0M167.47 214.7h0M161.9 219.67h0M164.26 220.05h0M167.35 213.97h0M160.18 217.71h0M163.96 212.93h0M160.1 215.37h0M167.98 213.88h0M162.22 213.95h0M162.26 221.23h0" stroke="#EA9610" stroke-width="1.3" stroke-linecap="round"/>
<path d="M131.34 255.05h0M129.03 253.93h0M131.09 254.58h0M133.87 255.7h0M131.41 255.81h0M136.69 253.81h0M136.69 257.14h0M140.7 258.26h0M141.14 255.93h0M138.9 256h0M140.83 256.76h0M136.44 259.2h0M134.65 256.23h0M141.36 257.64h0M139.29 258.7h0M147.5 260.44h0M149.59 260.89h0M146.06 260.05h0M142.38 258.84h0M146.44 258.71h0M139.7 257.79h0M142.65 257.46h0M147.12 258.35h0M142.16 256.32h0M156.51 262.81h0M158.38 264.32h0M153.34 260.86h0M155.13 261.82h0M151.28 260.07h0M155.03 262.57h0M157.85 264.09h0M154.02 261.22h0M159.45 266.56h0M162.41 269.26h0M162.04 268.61h0M163.19 268.12h0M163.82 268.64h0M160.55 266.76h0M160.51 266.34h0M158.1 264.12h0M158.03 265.89h0M165.89 269.95h0M163.17 271.02h0M162.9 273.41h0M163.87 270.61h0M163.38 273.66h0M162.38 276.19h0M160.14 277.64h0M159.09 278.59h0M161.23 274.55h0M161.5 278.03h0M163.25 274.97h0M158.4 280.11h0M155.87 282.79h0M161.24 282.49h0M158.61 280.39h0M157.47 280.77h0M160.06 280.22h0M154.12 285.07h0M156.52 282.02h0M151.96 284.29h0M151.94 286.61h0M151.64 286.15h0M151.08 284.53h0M148.57 284.66h0M149.73 285.59h0M145.16 282.6h0M147.52 285.45h0M143.6 284.06h0M147.98 286.41h0M145.03 283.78h0M145.55 285.11h0M139.82 281.58h0M141.22 283.52h0M139.87 282.02h0M139.86 282.37h0M142.31 283.34h0M139.08 279.73h0M139.48 279.42h0M135.94 277.42h0M133.75 276.73h0M136.3 275.55h0M134.29 277.98h0M135.13 275.91h0M134.81 278.53h0M137.74 276.48h0M134.21 273.41h0M133.08 273.12h0M133.17 275.96h0M130.49 272.02h0M131.15 269.54h0M131.41 268.89h0M131.68 268.91h0M131.72 266.07h0M129.99 270.08h0M128.02 268.76h0M128.81 264.56h0M128.94 268.69h0M127.99 263.38h0M127.66 259.65h0M128.33 260.27h0M127.56 259.61h0M129.59 258.89h0M125.67 262.11h0M128.59 257.76h0M130.61 258.43h0M121.16 209.35h0M104.02 204.52h0M108.75 208.02h0M112.42 211.23h0M117.81 198.34h0M115.23 202.78h0M112.73 205.7h0M114.5 211.65h0M104.88 204.92h0M105.34 194.62h0M107.29 206.24h0M120.48 210.77h0M113.32 213.45h0M119.24 200.41h0M109.92 207.87h0M105.42 208.5h0M116.82 209.74h0M115.41 199.23h0M107.41 204.68h0M118.82 209.98h0M119.85 212.43h0M121.77 195.38h0M110.82 207.95h0M104.83 203.48h0M118.86 210.67h0M113.14 210.72h0M119.96 203.91h0M105.22 199.86h0M112.07 208.48h0M109.45 197h0M116.63 195.88h0M116.57 207h0M120.03 203.2h0M104.56 211.61h0M106.25 194.03h0M104.03 212.24h0M111.45 197.24h0M118 199.28h0M107.38 206.61h0M121.76 202.13h0M105.6 213.84h0M109.38 200.68h0M108.03 205.87h0M105.25 204.55h0M110.83 207.51h0M116.88 201.07h0M113.1 208h0M105.93 203.41h0M104.1 206.16h0M104.77 206.8h0M104.13 198.05h0M113.19 195.69h0M117.9 204.95h0M110.72 203.95h0M116.77 204.34h0M114.71 212.52h0M111.2 207.73h0M115.39 209.83h0M116.85 209.81h0M121.27 206.81h0M104.15 205.33h0M112.75 196.59h0M109.31 201.69h0M119.93 209.31h0M114.69 197.07h0M107.37 206.79h0M120.68 206.35h0M114.4 206.76h0M115.23 213.11h0M105.95 197.85h0M158.18 251.3h0M164.68 258.06h0M153.9 257.07h0M155.91 251.35h0M158.06 254.75h0M155.63 258.56h0M162.05 256.38h0M159.39 255.16h0M155.47 254.99h0M161.51 250.69h0M150.08 261.23h0M158.72 260.38h0M164.3 253.96h0M165.33 258.26h0M159.14 253.01h0M151.29 251.12h0M165.7 260.23h0M156.61 254.38h0M164.77 259.14h0M160.73 254.82h0M153.6 253.11h0M164.1 258.24h0M154.6 260.5h0M166 260.77h0M164.77 261.74h0" stroke="#93AA00" stroke-width="1.3" stroke-linecap="round"/>
<path d="M115.23 215.51h0M118.77 211.32h0M117.95 213.09h0M118.21 213.28h0M112.38 213.93h0M113.67 213.33h0M120.08 212.49h0M117.75 214.58h0M116.6 214.58h0M127.43 213.56h0M124.14 211.91h0M127.27 213.71h0M128.45 212.89h0M126.76 211.88h0M128.59 212.9h0M128.92 212.39h0M125.5 212.66h0M120.65 213.07h0M137.08 215.57h0M129.38 212.68h0M133.75 214.68h0M134.37 214.34h0M134.26 214.25h0M135.74 213.59h0M133.72 214.83h0M141.16 219.24h0M142.04 218.1h0M140.03 218.45h0M137.32 216.45h0M141.56 218.76h0M138.45 213.79h0M142.1 218.03h0M137.31 213.74h0M138.51 214.39h0M141.85 220.23h0M143.34 221.67h0M141.27 222.81h0M140.97 225.64h0M142.19 219.67h0M143.06 221.02h0M143.8 221.24h0M143.31 221.01h0M142.94 228.87h0M139.94 232.86h0M144.39 226.66h0M142.98 227.96h0M141.24 228.35h0M141.77 230.72h0M137.99 237.09h0M140.91 236.93h0M141.16 232.77h0M138.16 235.26h0M138.93 237.07h0M139.01 231.58h0M137.41 233.67h0M138.65 235.86h0M142.08 231.38h0M140.59 239.88h0M139.59 242.18h0M139.68 245.88h0M140.19 243.83h0M137.73 242.09h0M141.13 239.57h0M138.6 245.65h0M139.39 248.3h0M138.87 248.37h0M137.18 246.36h0M138.75 246.11h0M139.31 248.5h0M136.8 250.89h0M136.71 249.57h0M133.96 254.56h0M131.91 255.3h0M135.53 252.75h0M126.52 253.77h0M131.38 254.47h0M129.75 254.03h0M128.32 254.43h0M130.08 254.78h0M133.69 255.87h0M131.44 257.05h0M131.78 253.37h0M119.91 249.69h0M122.71 251.93h0M121.38 252.87h0M122.37 250.26h0M117.65 250.4h0M127.62 251.72h0M123.39 250.54h0M123.73 250.62h0M117.97 249.76h0M114.01 246.82h0M117.43 251.14h0M115.97 248.36h0M111.17 245.27h0M112.31 247.46h0M115.28 248.82h0M117.44 249.44h0M115.1 246.64h0M110.47 242.21h0M111.43 244.65h0M112.67 243h0M107.61 240.86h0M109.08 244.22h0M108.94 243.84h0M108.18 240.4h0M109.87 244.56h0M106.96 230.1h0M106.74 236.99h0M107.87 236.21h0M107.86 228.87h0M108.35 237.7h0M109.41 230.53h0M106.14 228.23h0M108.57 229.67h0M109.98 237.78h0M109.45 231.62h0M106.9 233.9h0M109.16 223.24h0M110.25 220.8h0M106.47 223h0M107.61 223.05h0M106.77 229.57h0M106.89 228.07h0M108.55 222.28h0M110.54 221.87h0M109.44 222.37h0M108.21 226.46h0M109.77 224.95h0M111.21 218.9h0M111.99 217.18h0M111.5 216.66h0M110.67 216.27h0M110.4 218.86h0M106.15 207.64h0M116.02 204.9h0M123.86 205.79h0M109.47 211.19h0M111.86 209.79h0M114.36 211.34h0M113.78 214.21h0M114.34 209.57h0M113.11 208.64h0M115.63 209.68h0M115.25 206.4h0M109.24 205.47h0M116.19 214.56h0M123.69 208.3h0M114.38 213.53h0M107.73 211.12h0M115.32 207.84h0M111.22 212.41h0M117.03 206.05h0M117.58 205.16h0M123.76 215.33h0M113.17 208.89h0M112.17 213.09h0M111.54 204.72h0M110.23 204.22h0M123.1 207.58h0M120.18 214.81h0M108.07 208.43h0M114.58 204h0M121.77 215.33h0M141.03 217.62h0M138.11 228.47h0M138.62 218.88h0M135.83 226.09h0M140.51 223.61h0M141.68 226.3h0M142.72 222.26h0M142.25 221.48h0M136.8 220.04h0M144.45 222.39h0M140.79 224.56h0M135.61 222.28h0M139.29 222.81h0M145.12 225.54h0M135.8 224.84h0M140.34 219.92h0M141.47 216.77h0M147.99 226.94h0M146.46 227.87h0M135.61 229.59h0M135.92 220.86h0M145.17 223.84h0M143.22 215.21h0M140.42 229.17h0M135.1 227.83h0" stroke="#00BA38" stroke-width="1.3" stroke-linecap="round"/>
<path d="M118.3 179.7h0M115.02 179.68h0M117.99 178.5h0M115.74 179.99h0M119.17 177.3h0M117.86 176.3h0M116.76 176.17h0M118.38 176.82h0M121.46 177.39h0M122.73 176.98h0M121.12 176.36h0M121.49 176.75h0M125.12 175.27h0M122.32 175.97h0M124.22 175.34h0M127.55 175.01h0M126.53 174.76h0M127.83 174.9h0M131.12 174.05h0M133.78 176.71h0M136.33 173.53h0M131.75 174.59h0M135.77 173.94h0M131.44 175.88h0M140.92 173.8h0M132.86 173.76h0M138.07 174.68h0M138.25 172.91h0M138.59 173.09h0M136.59 173.7h0M140.12 173.74h0M141.69 177.59h0M139.01 176.63h0M142.78 177.71h0M139.63 175.83h0M141.56 180.05h0M144.09 176.31h0M141.33 179.17h0M142.63 185.54h0M139.85 184.37h0M141.45 186.35h0M141.51 183.31h0M141.46 186.61h0M139.86 184.74h0M141.08 188.26h0M142.94 188.37h0M140.88 184.7h0M142.01 185.56h0M143.29 191.76h0M142.02 195.82h0M143.01 198.31h0M142.52 190.66h0M142.59 195.67h0M142.53 194.21h0M141.92 203.62h0M139.39 198.72h0M142.24 203.28h0M141.66 200.54h0M143.01 203.14h0M142.34 202.47h0M141.09 201.55h0M141.01 203.53h0M142.5 202.88h0M136.01 210.72h0M137 207.34h0M136.63 207.18h0M136.27 210.62h0M141.45 208.09h0M135.42 209.54h0M137.59 209.8h0M131.34 210.97h0M128.81 211.76h0M135.12 208.55h0M135.62 209.67h0M133.9 210.2h0M134.19 209.13h0M124.94 209.31h0M125.33 210.33h0M124.39 212.87h0M124.68 209.32h0M127.02 213.28h0M127.53 212.61h0M124.95 212.68h0M122.88 211.4h0M117.29 213.42h0M114.9 215.03h0M117.19 213.89h0M117.94 211.1h0M121.4 210.12h0M115.94 215.12h0M121.36 211.52h0M118.97 214.19h0M112.38 211.45h0M113.73 216.61h0M114.98 213.66h0M109.76 212.57h0M113.62 214.65h0M113.42 215.44h0M110.94 212.61h0M106.24 204.55h0M107.16 211.52h0M105.75 212.76h0M108.74 208.35h0M107.2 215.24h0M105.88 213.36h0M107.89 208.57h0M108.15 211.81h0M104.24 206.08h0M106.76 208.13h0M103.81 201.41h0M104.24 202.34h0M104.18 203.58h0M104.3 204.57h0M104.24 205.45h0M103.82 201.31h0M103.92 199.84h0M104.58 200.58h0M104.52 194.08h0M107.05 193.91h0M106.85 192.44h0M105.83 195.68h0M105.42 191.57h0M105.95 194.92h0M107.18 194.2h0M111.16 186.87h0M112.6 191.02h0M111.16 192.76h0M107.2 189.55h0M114.17 187.85h0M113.46 188.4h0M112.93 186.94h0M115.1 185.72h0M112.08 186.49h0M114.04 186.72h0M115.27 181.56h0M115.37 185.45h0M113.11 182.83h0M116.04 180.3h0M140.33 188.44h0M142.44 199.9h0M145.37 193.03h0M145.75 189.36h0M141.58 192.13h0M145.33 189.22h0M143.38 192.77h0M144.54 189.18h0M142.49 179.48h0M143.48 195.6h0M143.15 184.41h0M144 183.8h0M144.44 183.79h0M142.78 184.62h0M143.18 189.04h0M145.12 190.22h0M142.79 199.11h0M142.42 183.59h0M143.08 176.63h0M142.96 178.71h0M142.08 181.08h0M142.41 188.04h0M144.74 183.75h0M145.79 198.06h0M140.58 193.88h0" stroke="#00C19F" stroke-width="1.3" stroke-linecap="round"/>
<path d="M97.62 173.26h0M96.17 173.88h0M92.44 173.34h0M97.37 174.34h0M99.19 173.04h0M97.75 176.99h0M98.23 174.64h0M101.11 172.75h0M104.45 175.13h0M104.42 173.74h0M103.7 174.85h0M106.18 176.82h0M107.1 178.24h0M106.88 175.98h0M107.46 179.32h0M110.48 177.34h0M110.4 180.24h0M110.9 178.07h0M110.67 178.21h0M109.56 179.72h0M113.79 180.72h0M115.18 180.52h0M114.78 180.27h0M112.56 178.63h0M116.75 182.74h0M116.53 182.69h0M116.94 183.03h0M116.74 185.06h0M112.01 185.89h0M112.17 186.8h0M115.17 184.65h0M115.33 182.36h0M115.24 187.67h0M112.23 189.55h0M108.16 190.58h0M109.67 191.59h0M110.85 190.93h0M109.33 190.14h0M105.22 193.33h0M106.34 192.42h0M103.95 191.63h0M108.26 192.95h0M103.22 191.67h0M101.91 192.55h0M101.02 189.8h0M98.48 189.67h0M101.73 194.16h0M97.67 186.98h0M98.61 188.8h0M97.32 190.88h0M97.45 183.13h0M95.59 183.41h0M96.66 182.62h0M95.03 182.25h0M95.94 186.31h0M93.66 185.08h0M97.93 181.2h0M94.79 184.02h0M94.81 183.11h0M94.85 180.41h0M95.58 175.3h0M94.22 177.48h0M94.21 177.39h0M95.14 182.03h0M93.36 174.89h0M93.37 174.61h0M92.96 173.54h0" stroke="#4A94F8" stroke-width="1.3" stroke-linecap="round"/>
<path d="M163.02 236.4h0M160.92 226.53h0M162.43 238.02h0M161.68 236.45h0M161.95 237.9h0M161.36 238.36h0M161.36 239.5h0M161.6 228.01h0M167.87 232.85h0M165.46 238.18h0M165.03 237.23h0M167.77 233.43h0M160.37 235.76h0M162.45 227.01h0M164.14 226.15h0M162.46 231.15h0M160.02 228.68h0M164.9 231.01h0" stroke="#DB72FB" stroke-width="1.3" stroke-linecap="round"/>
<text x="48.8" y="204.8" font-size="9" text-anchor="middle" fill="#111">5</text>
<text x="57.6" y="183.6" font-size="9" text-anchor="middle" fill="#111">8</text>
<text x="105.5" y="186.4" font-size="9" text-anchor="middle" fill="#111">6</text>
<text x="123.3" y="191.8" font-size="9" text-anchor="middle" fill="#111">4</text>
<text x="154.5" y="203.1" font-size="9" text-anchor="middle" fill="#111">0</text>
<text x="124.4" y="237.6" font-size="9" text-anchor="middle" fill="#111">3</text>
<text x="163.9" y="236.7" font-size="9" text-anchor="middle" fill="#111">7</text>
<text x="152" y="252" font-size="9" text-anchor="middle" fill="#111">1</text>
<text x="145.6" y="268.6" font-size="9" text-anchor="middle" fill="#111">2</text>
</svg>
</body></html>
